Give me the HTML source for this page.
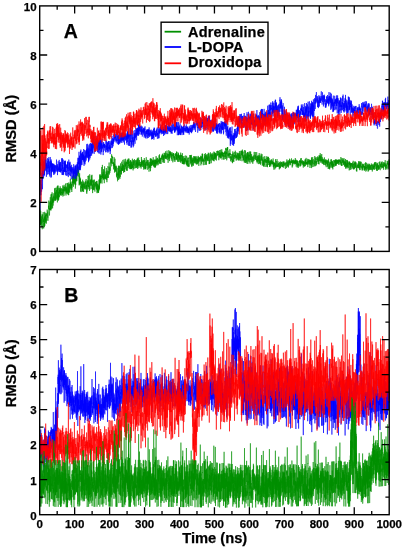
<!DOCTYPE html>
<html><head><meta charset="utf-8"><style>
html,body{margin:0;padding:0;background:#fff;width:408px;height:550px;overflow:hidden}
svg{display:block}
text{font-family:"Liberation Sans",Arial,Helvetica,sans-serif;font-weight:bold;fill:#000;stroke:#000;stroke-width:0.25px}
</style></head><body>
<svg width="408" height="550" viewBox="0 0 408 550">
<rect width="408" height="550" fill="#fff"/>
<path d="M39.7 221.8L39.8 214.1 39.9 220.0 40.0 222.0 40.1 220.5 40.2 209.9 40.3 224.8 40.4 215.5 40.5 217.2 40.6 225.4 40.7 211.2 40.8 219.6 40.9 221.2 41.0 219.3 41.1 224.7 41.2 221.8 41.3 219.2 41.4 223.6 41.5 221.5 41.6 216.4 41.7 224.6 41.8 227.1 41.9 217.6 42.0 214.4 42.1 222.1 42.2 229.2 42.3 229.2 42.4 219.7 42.5 218.4 42.6 214.5 42.7 218.7 42.8 218.3 42.9 217.6 43.0 222.7 43.1 213.0 43.2 212.1 43.3 218.0 43.4 222.1 43.5 219.4 43.6 222.0 43.7 228.5 43.8 226.8 43.9 223.0 44.0 226.3 44.1 218.5 44.2 222.1 44.3 220.5 44.4 227.1 44.5 217.4 44.6 219.4 44.7 211.8 44.8 225.8 44.9 216.2 45.0 220.4 45.1 217.7 45.2 213.4 45.3 212.9 45.4 220.0 45.5 214.8 45.6 221.6 45.7 214.8 45.8 223.0 45.9 220.0 46.0 221.2 46.1 218.7 46.2 223.8 46.3 223.3 46.4 213.6 46.5 216.0 46.6 215.8 46.7 213.4 46.8 219.8 46.9 217.0 47.0 215.0 47.1 215.2 47.2 209.6 47.3 211.7 47.4 214.6 47.5 215.4 47.6 217.5 47.7 211.6 47.8 211.7 47.9 220.9 48.0 217.2 48.1 217.4 48.2 216.5 48.3 214.1 48.4 212.7 48.5 205.7 48.6 208.7 48.7 203.6 48.8 200.6 48.9 207.0 49.0 206.8 49.1 208.0 49.2 208.9 49.3 209.7 49.4 208.1 49.5 215.5 49.6 211.6 49.7 211.4 49.8 204.8 49.9 201.7 50.0 209.9 50.1 203.1 50.2 203.7 50.3 197.2 50.4 209.7 50.5 204.5 50.6 200.8 50.7 209.6 50.8 202.3 50.9 210.6 51.0 194.4 51.1 202.6 51.2 204.2 51.3 209.1 51.4 202.8 51.5 204.4 51.6 204.4 51.7 193.9 51.8 204.6 51.9 207.7 52.0 202.1 52.1 192.3 52.2 202.0 52.3 203.2 52.4 199.4 52.5 200.0 52.6 208.4 52.7 197.6 52.8 199.6 52.9 202.5 53.0 198.9 53.1 205.6 53.2 203.2 53.3 199.4 53.4 196.5 53.5 199.6 53.6 199.5 53.7 202.4 53.8 193.3 53.9 198.1 54.0 195.5 54.1 197.0 54.2 200.6 54.3 200.9 54.4 198.4 54.5 192.0 54.6 188.4 54.7 196.5 54.8 199.8 54.9 197.4 55.0 198.0 55.1 200.5 55.2 187.9 55.3 194.6 55.4 193.2 55.5 200.5 55.6 197.8 55.7 191.7 55.8 200.4 55.9 199.6 56.0 195.4 56.1 198.8 56.2 187.7 56.3 191.9 56.4 193.4 56.5 193.6 56.6 190.0 56.7 195.2 56.8 197.2 56.9 197.8 57.0 193.4 57.1 199.8 57.2 186.4 57.3 191.3 57.4 202.4 57.5 197.4 57.6 190.1 57.7 185.8 57.8 199.0 57.9 196.5 58.0 185.5 58.1 191.3 58.2 193.4 58.3 196.9 58.4 191.8 58.5 200.6 58.6 194.6 58.7 199.7 58.8 188.1 58.9 188.1 59.0 197.3 59.1 194.7 59.2 197.1 59.3 193.7 59.4 191.7 59.5 190.0 59.6 194.2 59.7 191.2 59.8 187.9 59.9 193.0 60.0 189.6 60.1 192.4 60.2 186.3 60.3 195.2 60.4 189.2 60.5 194.4 60.6 192.3 60.7 192.4 60.8 195.1 60.9 191.9 61.0 188.1 61.1 194.8 61.2 195.8 61.3 193.4 61.4 191.7 61.5 188.5 61.6 193.3 61.7 192.0 61.8 192.0 61.9 193.2 62.0 192.2 62.1 195.0 62.2 190.7 62.3 190.5 62.4 192.3 62.5 194.5 62.6 188.9 62.7 191.2 62.8 185.4 62.9 196.5 63.0 194.0 63.1 193.6 63.2 191.2 63.3 189.9 63.4 186.5 63.5 191.0 63.6 189.3 63.7 193.4 63.8 189.4 63.9 189.7 64.0 195.8 64.1 184.8 64.2 191.1 64.3 190.7 64.4 191.4 64.5 189.2 64.6 186.9 64.7 189.3 64.8 190.5 64.9 186.7 65.0 189.3 65.1 189.2 65.2 189.0 65.3 190.7 65.4 190.3 65.5 185.4 65.6 183.5 65.7 191.6 65.8 188.3 65.9 194.3 66.0 195.5 66.1 186.5 66.2 193.7 66.3 188.8 66.4 193.1 66.5 188.6 66.6 187.7 66.7 188.3 66.8 187.4 66.9 191.6 67.0 183.3 67.1 184.1 67.2 183.6 67.3 184.7 67.4 187.4 67.5 194.3 67.6 189.5 67.7 186.9 67.8 182.9 67.9 193.1 68.0 189.2 68.1 192.2 68.2 184.2 68.3 189.0 68.4 194.4 68.5 195.2 68.6 188.2 68.7 195.0 68.8 182.5 68.9 182.5 69.0 188.3 69.1 186.3 69.2 185.1 69.3 192.3 69.4 189.4 69.5 183.9 69.6 184.7 69.7 185.6 69.8 192.7 69.9 186.3 70.0 188.2 70.1 187.2 70.2 188.0 70.3 179.4 70.4 178.8 70.5 185.4 70.6 182.9 70.7 189.5 70.8 182.8 70.9 182.2 71.0 186.6 71.1 185.0 71.2 185.9 71.3 187.6 71.4 183.9 71.5 186.2 71.6 189.8 71.7 184.5 71.8 192.0 71.9 186.3 72.0 187.6 72.1 187.1 72.2 181.3 72.3 185.6 72.4 181.6 72.5 183.2 72.6 176.5 72.7 180.8 72.8 182.2 72.9 181.3 73.0 176.4 73.1 183.5 73.2 182.1 73.3 176.4 73.4 174.8 73.5 186.7 73.6 176.7 73.7 183.0 73.8 176.6 73.9 182.3 74.0 181.2 74.1 184.7 74.2 174.9 74.3 182.7 74.4 182.0 74.5 178.7 74.6 180.7 74.7 179.4 74.8 184.0 74.9 179.4 75.0 176.6 75.1 182.8 75.2 181.2 75.3 170.0 75.4 188.6 75.5 181.1 75.6 176.9 75.7 185.1 75.8 178.9 75.9 181.8 76.0 171.9 76.1 181.0 76.2 171.5 76.3 175.8 76.4 177.6 76.5 179.8 76.6 179.1 76.7 170.2 76.8 181.1 76.9 176.7 77.0 170.7 77.1 173.9 77.2 171.0 77.3 167.5 77.4 174.1 77.5 175.3 77.6 164.3 77.7 171.9 77.8 170.2 77.9 167.1 78.0 172.7 78.1 171.1 78.2 176.5 78.3 170.7 78.4 173.6 78.5 170.2 78.6 172.9 78.7 169.4 78.8 177.6 78.9 178.1 79.0 183.4 79.1 185.3 79.2 185.0 79.3 180.5 79.4 175.6 79.5 183.9 79.6 173.3 79.7 183.3 79.8 181.1 79.9 185.2 80.0 183.5 80.1 179.3 80.2 184.0 80.3 177.7 80.4 183.4 80.5 179.0 80.6 185.9 80.7 191.4 80.8 186.6 80.9 186.0 81.0 191.5 81.1 192.1 81.2 181.7 81.3 185.7 81.4 185.3 81.5 188.2 81.6 185.1 81.7 181.8 81.8 185.1 81.9 185.3 82.0 185.8 82.1 184.2 82.2 191.6 82.3 189.0 82.4 184.8 82.5 191.0 82.6 180.7 82.7 179.7 82.8 189.1 82.9 189.0 83.0 191.4 83.1 184.4 83.2 187.5 83.3 181.4 83.4 184.4 83.4 183.5 83.5 186.9 83.6 192.0 83.7 189.7 83.8 188.3 83.9 184.4 84.0 184.9 84.1 185.0 84.2 182.2 84.3 188.1 84.4 188.5 84.5 183.6 84.6 184.0 84.7 187.0 84.8 186.5 84.9 188.7 85.0 185.4 85.1 185.5 85.2 189.5 85.3 180.8 85.4 181.2 85.5 183.6 85.6 184.3 85.7 182.8 85.8 182.5 85.9 182.0 86.0 188.8 86.1 179.0 86.2 186.5 86.3 184.9 86.4 188.6 86.5 185.6 86.6 192.4 86.7 191.5 86.8 193.8 86.9 186.1 87.0 191.4 87.1 190.0 87.2 181.0 87.3 186.1 87.4 184.1 87.5 182.1 87.6 184.2 87.7 183.2 87.8 180.1 87.9 189.4 88.0 176.2 88.1 176.7 88.2 175.9 88.3 187.0 88.4 185.2 88.5 187.1 88.6 181.2 88.7 183.2 88.8 175.5 88.9 180.6 89.0 184.9 89.1 188.8 89.2 184.5 89.3 182.8 89.4 188.4 89.5 190.9 89.6 186.0 89.7 174.3 89.8 175.3 89.9 181.7 90.0 183.9 90.1 189.4 90.2 186.3 90.3 183.4 90.4 180.2 90.5 184.8 90.6 182.2 90.7 180.7 90.8 179.6 90.9 186.0 91.0 185.3 91.1 183.6 91.2 179.1 91.3 185.4 91.4 175.5 91.5 184.7 91.6 182.6 91.7 178.8 91.8 189.1 91.9 178.2 92.0 174.8 92.1 180.8 92.2 182.4 92.3 182.1 92.4 180.3 92.5 185.6 92.6 193.1 92.7 185.0 92.8 190.2 92.9 189.0 93.0 184.4 93.1 189.6 93.2 180.7 93.3 185.0 93.4 184.6 93.5 183.7 93.6 183.2 93.7 179.8 93.8 189.3 93.9 186.3 94.0 190.1 94.1 183.4 94.2 186.6 94.3 179.6 94.4 179.7 94.5 186.4 94.6 186.5 94.7 186.3 94.8 190.2 94.9 191.6 95.0 184.3 95.1 184.5 95.2 184.3 95.3 184.5 95.4 181.8 95.5 186.4 95.6 186.4 95.7 184.7 95.8 181.9 95.9 184.2 96.0 187.8 96.1 188.5 96.2 186.4 96.3 183.3 96.4 185.9 96.5 189.1 96.6 181.1 96.7 181.9 96.8 189.8 96.9 180.9 97.0 185.6 97.1 193.2 97.2 188.6 97.3 192.5 97.4 187.6 97.5 190.3 97.6 184.3 97.7 188.9 97.8 183.6 97.9 184.9 98.0 191.4 98.1 184.9 98.2 186.5 98.3 192.1 98.4 193.0 98.5 187.2 98.6 192.6 98.7 185.9 98.8 190.8 98.9 185.8 99.0 188.9 99.1 179.7 99.2 189.7 99.3 179.4 99.4 183.5 99.5 188.5 99.6 182.3 99.7 180.5 99.8 174.7 99.9 184.2 100.0 183.3 100.1 174.2 100.2 181.2 100.3 175.6 100.4 177.5 100.5 183.0 100.6 176.0 100.7 180.8 100.8 180.9 100.9 182.6 101.0 180.9 101.1 175.5 101.2 179.1 101.3 177.9 101.4 175.9 101.5 177.0 101.6 171.8 101.7 170.0 101.8 167.0 101.9 183.1 102.0 183.6 102.1 175.8 102.2 175.9 102.3 168.6 102.4 164.9 102.5 178.1 102.6 173.8 102.7 174.3 102.8 177.7 102.9 174.5 103.0 178.5 103.1 171.9 103.2 179.4 103.3 180.1 103.4 179.8 103.5 176.2 103.6 175.7 103.7 169.0 103.8 178.9 103.9 170.3 104.0 171.3 104.1 178.7 104.2 177.4 104.3 183.2 104.4 177.5 104.5 175.5 104.6 166.3 104.7 176.5 104.8 178.5 104.9 175.7 105.0 178.5 105.1 177.5 105.2 177.7 105.3 174.7 105.4 175.9 105.5 178.7 105.6 177.8 105.7 178.1 105.8 174.4 105.9 176.1 106.0 179.5 106.1 171.5 106.2 175.0 106.3 168.0 106.4 169.8 106.5 178.1 106.6 177.9 106.7 179.9 106.8 176.3 106.9 182.2 107.0 172.7 107.1 176.7 107.2 170.6 107.3 175.6 107.4 175.7 107.5 178.0 107.6 176.2 107.7 173.6 107.8 174.1 107.9 166.1 108.0 166.7 108.1 166.9 108.2 172.9 108.3 173.4 108.4 171.1 108.5 177.9 108.6 172.9 108.7 170.6 108.8 167.6 108.9 168.0 109.0 167.6 109.1 162.5 109.2 168.1 109.3 168.2 109.4 174.5 109.5 170.9 109.6 170.5 109.7 167.5 109.8 172.9 109.9 172.6 110.0 169.0 110.1 166.4 110.2 170.8 110.3 166.8 110.4 165.9 110.5 165.0 110.6 161.6 110.7 158.6 110.8 158.0 110.9 158.4 111.0 163.5 111.1 159.0 111.2 166.4 111.3 163.9 111.4 159.2 111.5 162.6 111.6 154.3 111.7 155.8 111.8 157.0 111.9 155.8 112.0 162.1 112.1 162.6 112.2 161.8 112.3 163.9 112.4 156.8 112.5 156.9 112.6 157.9 112.7 156.8 112.8 160.3 112.9 160.2 113.0 163.7 113.1 163.1 113.2 164.3 113.3 165.9 113.4 162.1 113.5 164.3 113.6 169.4 113.7 165.8 113.8 163.2 113.9 166.4 114.0 166.2 114.1 165.4 114.2 157.3 114.3 167.2 114.4 167.1 114.5 163.9 114.6 172.6 114.7 164.0 114.8 168.4 114.9 161.2 115.0 158.8 115.1 171.5 115.2 167.1 115.3 169.0 115.4 170.5 115.5 166.1 115.6 171.6 115.7 171.7 115.8 171.7 115.9 171.1 116.0 170.4 116.1 165.6 116.2 169.4 116.3 169.5 116.4 172.2 116.5 176.8 116.6 172.2 116.7 166.5 116.8 172.5 116.9 175.3 117.0 173.9 117.1 178.1 117.2 178.1 117.3 177.3 117.4 177.4 117.5 180.6 117.6 181.3 117.7 173.5 117.8 174.5 117.9 168.0 118.0 179.5 118.1 171.8 118.2 176.5 118.3 174.5 118.4 175.1 118.5 165.9 118.6 171.7 118.7 179.9 118.8 174.3 118.9 171.5 119.0 165.5 119.1 172.0 119.2 171.3 119.3 177.9 119.4 171.2 119.5 166.2 119.6 173.0 119.7 173.2 119.8 176.6 119.9 178.9 120.0 177.2 120.1 170.1 120.2 171.7 120.3 176.9 120.4 166.4 120.5 163.4 120.6 169.6 120.7 171.7 120.8 171.3 120.9 171.1 121.0 166.3 121.1 174.2 121.2 170.2 121.3 170.0 121.4 174.4 121.5 168.0 121.6 170.5 121.7 161.7 121.8 165.5 121.9 169.6 122.0 167.8 122.1 170.0 122.2 170.7 122.3 165.5 122.4 171.0 122.5 164.0 122.6 164.8 122.7 170.0 122.8 165.4 122.9 159.9 123.0 164.1 123.1 163.9 123.2 168.3 123.3 170.6 123.4 165.4 123.5 172.7 123.6 166.4 123.7 165.3 123.8 167.3 123.9 164.4 124.0 164.0 124.1 159.3 124.2 159.9 124.3 166.1 124.4 166.7 124.5 172.1 124.6 167.8 124.7 172.0 124.8 161.5 124.9 162.6 125.0 169.1 125.1 163.1 125.2 167.2 125.3 164.2 125.4 166.2 125.5 166.1 125.6 158.8 125.7 162.1 125.8 163.5 125.9 165.7 126.0 161.8 126.1 167.3 126.2 167.0 126.3 169.9 126.4 164.8 126.5 163.5 126.6 161.8 126.7 164.0 126.8 163.6 126.9 170.9 127.0 166.7 127.1 170.7 127.2 160.2 127.3 163.1 127.4 163.9 127.5 159.6 127.6 164.0 127.7 167.6 127.8 163.3 127.9 162.3 128.0 163.4 128.1 162.5 128.2 162.5 128.3 158.6 128.4 164.0 128.5 159.7 128.6 166.0 128.7 162.9 128.8 164.7 128.9 168.2 129.0 158.6 129.1 163.1 129.2 162.2 129.3 166.7 129.4 166.9 129.5 166.0 129.6 164.1 129.7 168.0 129.8 169.1 129.9 166.5 130.0 160.7 130.1 167.8 130.2 165.2 130.3 165.0 130.4 169.2 130.5 160.3 130.6 166.5 130.7 163.1 130.8 160.3 130.9 165.2 131.0 169.0 131.1 164.0 131.2 168.4 131.3 164.9 131.4 168.5 131.5 164.8 131.6 161.6 131.7 169.2 131.8 162.4 131.9 166.5 132.0 165.0 132.1 168.1 132.2 165.9 132.3 162.8 132.4 158.7 132.5 167.9 132.6 167.8 132.7 165.0 132.8 164.3 132.9 167.6 133.0 166.3 133.1 170.4 133.2 161.7 133.3 165.3 133.4 162.9 133.5 160.0 133.6 165.5 133.7 167.3 133.8 169.0 133.9 161.1 134.0 163.9 134.1 164.9 134.2 162.5 134.3 161.9 134.4 159.1 134.5 161.1 134.6 165.9 134.7 165.5 134.8 166.8 134.9 168.3 135.0 162.6 135.1 161.3 135.2 162.8 135.3 160.0 135.4 162.3 135.5 165.2 135.6 164.8 135.7 167.3 135.8 168.1 135.9 163.5 136.0 163.5 136.1 164.3 136.2 163.0 136.3 167.7 136.4 161.4 136.5 164.3 136.6 163.8 136.7 159.9 136.8 167.0 136.9 167.8 137.0 163.2 137.1 159.5 137.2 159.2 137.3 167.1 137.4 157.8 137.5 164.6 137.6 163.6 137.7 169.0 137.8 165.5 137.9 162.2 138.0 166.0 138.1 159.2 138.2 164.1 138.3 163.8 138.4 165.3 138.5 162.5 138.6 157.6 138.7 157.5 138.8 161.4 138.9 167.8 139.0 163.9 139.1 164.9 139.2 165.6 139.3 165.7 139.4 160.0 139.5 162.2 139.6 161.9 139.7 162.9 139.8 165.0 139.9 162.1 140.0 166.3 140.1 165.8 140.2 161.9 140.3 165.6 140.4 164.5 140.5 164.1 140.6 167.1 140.7 165.0 140.8 164.2 140.9 165.7 141.0 168.2 141.1 168.6 141.2 164.5 141.3 165.5 141.4 157.0 141.5 164.9 141.6 161.4 141.7 166.5 141.8 162.1 141.9 159.6 142.0 163.3 142.1 161.1 142.2 165.2 142.3 162.2 142.4 162.0 142.5 162.7 142.6 166.8 142.7 166.9 142.8 165.4 142.9 160.3 143.0 162.4 143.1 161.6 143.2 161.3 143.3 161.3 143.4 166.5 143.5 160.0 143.6 161.5 143.7 169.6 143.8 166.2 143.9 167.7 144.0 162.4 144.1 165.6 144.2 163.6 144.3 158.1 144.4 159.8 144.5 161.8 144.6 160.6 144.7 165.0 144.8 167.4 144.9 169.0 145.0 160.1 145.1 169.5 145.2 164.1 145.3 168.4 145.4 164.2 145.5 162.4 145.6 168.9 145.7 164.4 145.8 168.2 145.9 164.2 146.0 165.2 146.1 160.3 146.2 157.3 146.3 157.3 146.4 158.5 146.5 163.5 146.6 163.4 146.7 162.4 146.8 162.0 146.9 165.8 147.0 161.3 147.1 165.4 147.2 165.9 147.3 169.8 147.4 163.5 147.5 159.9 147.6 164.2 147.7 164.5 147.8 165.5 147.9 163.6 148.0 165.3 148.1 163.6 148.2 160.1 148.3 161.9 148.4 161.9 148.5 165.2 148.6 168.7 148.7 168.2 148.8 162.5 148.9 167.5 149.0 171.7 149.1 170.6 149.2 169.9 149.3 164.7 149.4 166.8 149.5 167.8 149.6 163.3 149.7 163.3 149.8 161.9 149.9 167.1 150.0 167.0 150.1 164.4 150.2 158.6 150.3 166.3 150.4 166.1 150.5 171.2 150.6 158.4 150.7 161.9 150.8 168.1 150.9 162.1 151.0 165.1 151.1 163.7 151.2 158.6 151.3 166.0 151.4 162.1 151.5 165.2 151.6 165.2 151.7 161.6 151.8 159.0 151.9 162.3 152.0 165.8 152.1 161.5 152.2 162.4 152.3 160.5 152.4 165.0 152.5 163.2 152.6 161.1 152.7 164.1 152.8 160.1 152.9 162.8 153.0 161.5 153.1 163.7 153.2 157.2 153.3 159.1 153.4 162.2 153.5 160.5 153.6 165.7 153.7 166.3 153.8 163.0 153.9 166.2 154.0 163.8 154.1 160.7 154.2 167.2 154.3 164.0 154.4 159.7 154.5 162.1 154.6 162.1 154.7 163.3 154.8 162.3 154.9 167.7 155.0 159.6 155.1 167.3 155.2 163.6 155.3 163.3 155.4 159.9 155.5 167.2 155.6 167.2 155.7 159.9 155.8 163.9 155.9 161.7 156.0 159.8 156.1 156.1 156.2 160.1 156.3 163.6 156.4 159.2 156.5 160.3 156.6 165.5 156.7 162.0 156.8 160.9 156.9 161.6 157.0 162.1 157.1 157.7 157.2 160.6 157.3 163.5 157.4 161.5 157.5 161.8 157.6 158.1 157.7 160.1 157.8 161.8 157.9 165.3 158.0 161.0 158.1 164.5 158.2 159.1 158.3 159.5 158.4 160.7 158.5 160.0 158.6 161.9 158.7 161.6 158.8 161.0 158.9 156.5 159.0 155.3 159.1 157.5 159.2 157.5 159.3 160.3 159.4 163.6 159.5 155.9 159.6 154.3 159.7 159.5 159.8 162.8 159.9 158.1 160.0 160.4 160.1 159.9 160.2 163.9 160.3 160.2 160.4 159.6 160.5 160.4 160.6 161.1 160.7 158.2 160.8 159.6 160.9 157.7 161.0 164.0 161.1 162.0 161.2 158.4 161.3 157.8 161.4 158.8 161.5 158.3 161.6 158.3 161.7 158.2 161.8 156.0 161.9 158.8 162.0 157.2 162.1 154.8 162.2 159.9 162.3 154.7 162.4 156.8 162.5 155.0 162.6 153.7 162.7 154.2 162.8 158.1 162.9 162.2 163.0 160.2 163.1 157.0 163.2 155.6 163.3 162.7 163.4 155.3 163.5 158.3 163.6 160.5 163.7 159.0 163.8 156.5 163.9 158.1 164.0 158.0 164.1 152.8 164.2 157.7 164.3 160.7 164.4 162.9 164.5 163.0 164.6 162.3 164.7 156.5 164.8 153.0 164.9 157.1 165.0 154.9 165.1 158.6 165.2 155.5 165.3 158.7 165.4 153.2 165.5 151.4 165.6 151.3 165.7 154.4 165.8 158.4 165.9 156.3 166.0 153.1 166.1 158.4 166.2 156.4 166.3 155.8 166.4 158.9 166.5 158.3 166.6 158.1 166.7 156.3 166.8 156.1 166.9 156.6 167.0 150.6 167.1 159.1 167.2 160.0 167.3 157.7 167.4 153.5 167.5 157.4 167.6 157.6 167.7 154.4 167.8 155.2 167.9 156.2 168.0 157.4 168.1 162.8 168.2 161.3 168.3 155.3 168.4 154.2 168.5 156.9 168.6 156.8 168.7 159.4 168.8 150.2 168.9 156.0 169.0 154.0 169.1 155.5 169.2 158.5 169.3 153.1 169.4 153.0 169.5 151.5 169.6 161.1 169.7 156.8 169.8 157.1 169.9 152.2 170.0 155.4 170.1 157.7 170.2 151.1 170.3 155.1 170.4 154.0 170.5 154.6 170.6 153.1 170.7 154.8 170.8 152.0 170.8 152.5 170.9 156.2 171.0 152.4 171.1 153.7 171.2 156.4 171.3 156.0 171.4 159.1 171.5 158.0 171.6 153.8 171.7 157.3 171.8 160.3 171.9 159.8 172.0 160.7 172.1 156.7 172.2 152.4 172.3 155.9 172.4 156.1 172.5 154.5 172.6 155.2 172.7 159.7 172.8 162.3 172.9 162.3 173.0 160.7 173.1 160.3 173.2 156.5 173.3 153.0 173.4 156.5 173.5 153.3 173.6 156.6 173.7 158.3 173.8 157.8 173.9 154.2 174.0 153.8 174.1 160.6 174.2 156.6 174.3 156.6 174.4 157.3 174.5 156.8 174.6 159.8 174.7 158.0 174.8 156.3 174.9 162.0 175.0 158.7 175.1 157.0 175.2 153.9 175.3 153.6 175.4 154.6 175.5 155.9 175.6 153.3 175.7 153.3 175.8 155.2 175.9 160.2 176.0 157.5 176.1 157.6 176.2 154.6 176.3 159.2 176.4 158.2 176.5 151.6 176.6 159.6 176.7 154.7 176.8 159.1 176.9 151.8 177.0 155.3 177.1 155.6 177.2 158.2 177.3 159.3 177.4 160.5 177.5 157.7 177.6 154.6 177.7 161.9 177.8 160.2 177.9 159.8 178.0 157.8 178.1 152.5 178.2 153.5 178.3 157.8 178.4 157.2 178.5 153.3 178.6 157.8 178.7 154.7 178.8 161.8 178.9 154.9 179.0 159.2 179.1 161.7 179.2 158.7 179.3 155.3 179.4 157.9 179.5 159.6 179.6 157.6 179.7 156.2 179.8 157.8 179.9 159.0 180.0 158.1 180.1 159.7 180.2 156.4 180.3 155.3 180.4 159.5 180.5 162.6 180.6 156.4 180.7 152.6 180.8 161.4 180.9 159.5 181.0 154.7 181.1 156.8 181.2 155.1 181.3 156.7 181.4 155.5 181.5 157.8 181.6 161.4 181.7 159.7 181.8 160.5 181.9 157.1 182.0 163.4 182.1 161.7 182.2 155.9 182.3 156.6 182.4 153.2 182.5 161.1 182.6 159.2 182.7 163.9 182.8 156.0 182.9 164.0 183.0 157.6 183.1 160.6 183.2 164.1 183.3 163.8 183.4 159.4 183.5 161.0 183.6 164.3 183.7 160.4 183.8 158.7 183.9 156.1 184.0 158.2 184.1 161.5 184.2 163.4 184.3 159.7 184.4 158.0 184.5 158.8 184.6 164.3 184.7 160.4 184.8 161.0 184.9 162.2 185.0 160.9 185.1 158.1 185.2 161.2 185.3 155.5 185.4 160.4 185.5 158.8 185.6 160.5 185.7 160.6 185.8 161.5 185.9 162.5 186.0 163.7 186.1 160.9 186.2 161.8 186.3 160.4 186.4 164.7 186.5 161.3 186.6 155.8 186.7 158.4 186.8 164.6 186.9 162.9 187.0 161.1 187.1 166.2 187.2 162.9 187.3 160.8 187.4 161.3 187.5 166.4 187.6 163.6 187.7 158.4 187.8 162.4 187.9 160.4 188.0 164.1 188.1 157.3 188.2 158.9 188.3 158.1 188.4 164.9 188.5 165.0 188.6 166.9 188.7 163.7 188.8 165.7 188.9 164.7 189.0 166.8 189.1 164.3 189.2 164.0 189.3 162.4 189.4 159.6 189.5 159.0 189.6 157.1 189.7 157.3 189.8 155.0 189.9 156.6 190.0 162.4 190.1 164.5 190.2 161.2 190.3 157.3 190.4 155.0 190.5 159.2 190.6 156.4 190.7 163.4 190.8 159.6 190.9 155.4 191.0 160.7 191.1 161.0 191.2 162.7 191.3 154.9 191.4 154.9 191.5 160.6 191.6 161.2 191.7 166.6 191.8 162.5 191.9 157.6 192.0 166.4 192.1 159.3 192.2 161.1 192.3 160.4 192.4 165.3 192.5 161.3 192.6 160.0 192.7 161.9 192.8 157.7 192.9 159.1 193.0 161.1 193.1 161.2 193.2 161.0 193.3 158.4 193.4 161.2 193.5 165.7 193.6 161.9 193.7 161.1 193.8 156.0 193.9 163.2 194.0 161.8 194.1 161.2 194.2 158.7 194.3 156.6 194.4 160.1 194.5 162.3 194.6 162.0 194.7 158.3 194.8 158.6 194.9 156.8 195.0 163.1 195.1 156.2 195.2 158.6 195.3 163.6 195.4 158.7 195.5 160.0 195.6 158.5 195.7 159.1 195.8 160.7 195.9 157.3 196.0 160.3 196.1 162.5 196.2 156.2 196.3 159.9 196.4 164.5 196.5 163.3 196.6 163.8 196.7 161.7 196.8 158.7 196.9 158.5 197.0 163.3 197.1 160.7 197.2 159.1 197.3 162.1 197.4 164.3 197.5 162.4 197.6 159.1 197.7 159.8 197.8 161.1 197.9 161.3 198.0 156.7 198.1 163.5 198.2 155.9 198.3 161.3 198.4 162.4 198.5 158.3 198.6 157.7 198.7 160.7 198.8 165.9 198.9 163.5 199.0 162.6 199.1 158.6 199.2 157.7 199.3 158.1 199.4 158.6 199.5 159.4 199.6 157.5 199.7 161.3 199.8 161.6 199.9 157.5 200.0 159.7 200.1 161.3 200.2 161.0 200.3 159.5 200.4 157.4 200.5 159.4 200.6 155.8 200.7 158.1 200.8 163.5 200.9 165.4 201.0 163.6 201.1 161.4 201.2 160.9 201.3 159.3 201.4 157.2 201.5 156.7 201.6 163.8 201.7 156.4 201.8 160.4 201.9 160.8 202.0 159.0 202.1 157.9 202.2 153.8 202.3 157.4 202.4 153.6 202.5 161.7 202.6 154.1 202.7 156.6 202.8 160.0 202.9 161.1 203.0 157.8 203.1 161.1 203.2 159.7 203.3 165.2 203.4 161.4 203.5 161.4 203.6 160.4 203.7 159.9 203.8 160.6 203.9 159.0 204.0 162.1 204.1 160.5 204.2 161.0 204.3 158.7 204.4 154.0 204.5 157.9 204.6 158.9 204.7 156.4 204.8 162.8 204.9 165.0 205.0 165.0 205.1 163.4 205.2 161.7 205.3 157.8 205.4 153.1 205.5 160.7 205.6 155.1 205.7 159.7 205.8 160.3 205.9 164.4 206.0 159.3 206.1 156.6 206.2 161.3 206.3 164.8 206.4 164.8 206.5 161.4 206.6 157.6 206.7 155.1 206.8 159.0 206.9 154.1 207.0 159.9 207.1 159.0 207.2 156.5 207.3 161.2 207.4 157.9 207.5 160.3 207.6 159.3 207.7 158.0 207.8 159.3 207.9 155.6 208.0 154.1 208.1 158.4 208.2 156.6 208.3 152.7 208.4 160.9 208.5 160.9 208.6 161.0 208.7 158.1 208.8 156.1 208.9 153.1 209.0 153.9 209.1 164.1 209.2 159.9 209.3 156.5 209.4 158.4 209.5 160.1 209.6 163.9 209.7 159.8 209.8 163.5 209.9 156.6 210.0 154.5 210.1 155.5 210.2 156.8 210.3 155.7 210.4 152.3 210.5 156.4 210.6 156.9 210.7 160.6 210.8 157.8 210.9 157.9 211.0 154.4 211.1 158.5 211.2 162.6 211.3 163.2 211.4 153.5 211.5 155.8 211.6 155.8 211.7 159.1 211.8 159.1 211.9 155.2 212.0 155.5 212.1 158.2 212.2 160.0 212.3 154.7 212.4 158.0 212.5 159.7 212.6 159.8 212.7 160.3 212.8 152.8 212.9 155.9 213.0 154.1 213.1 158.2 213.2 155.6 213.3 161.0 213.4 160.2 213.5 157.9 213.6 159.9 213.7 160.3 213.8 157.3 213.9 151.6 214.0 156.8 214.1 161.3 214.2 160.5 214.3 157.5 214.4 158.9 214.5 152.6 214.6 154.1 214.7 158.6 214.8 152.3 214.9 157.7 215.0 157.5 215.1 153.9 215.2 158.4 215.3 157.6 215.4 153.2 215.5 159.7 215.6 153.8 215.7 155.2 215.8 155.0 215.9 153.0 216.0 154.4 216.1 156.6 216.2 157.4 216.3 155.1 216.4 160.5 216.5 156.9 216.6 153.3 216.7 152.6 216.8 151.0 216.9 155.6 217.0 156.1 217.1 156.1 217.2 154.9 217.3 154.1 217.4 155.2 217.5 153.2 217.6 152.5 217.7 150.8 217.8 155.2 217.9 154.9 218.0 150.7 218.1 153.0 218.2 151.7 218.3 151.1 218.4 155.2 218.5 154.5 218.6 153.4 218.7 153.7 218.8 160.2 218.9 157.6 219.0 157.2 219.1 153.7 219.2 157.2 219.3 152.3 219.4 156.8 219.5 153.5 219.6 154.6 219.7 150.1 219.8 157.4 219.9 154.4 220.0 156.2 220.1 157.0 220.2 154.2 220.3 158.5 220.4 152.6 220.5 157.7 220.6 156.4 220.7 149.9 220.8 149.7 220.9 154.6 221.0 156.2 221.1 153.0 221.2 154.1 221.3 157.9 221.4 154.0 221.5 154.9 221.6 151.7 221.7 154.8 221.8 149.3 221.9 153.5 222.0 159.6 222.1 155.6 222.2 152.6 222.3 156.2 222.4 151.9 222.5 154.5 222.6 153.0 222.7 155.1 222.8 156.3 222.9 152.9 223.0 156.8 223.1 155.9 223.2 153.9 223.3 153.1 223.4 154.2 223.5 152.7 223.6 156.3 223.7 154.9 223.8 159.7 223.9 155.8 224.0 159.4 224.1 158.1 224.2 157.1 224.3 156.7 224.4 152.0 224.5 153.8 224.6 153.4 224.7 153.8 224.8 150.8 224.9 156.0 225.0 157.2 225.1 153.1 225.2 156.7 225.3 153.8 225.4 152.6 225.5 151.6 225.6 159.0 225.7 153.1 225.8 147.9 225.9 150.0 226.0 148.7 226.1 154.1 226.2 151.7 226.3 148.5 226.4 153.9 226.5 152.1 226.6 152.2 226.7 160.3 226.8 155.5 226.9 153.4 227.0 158.3 227.1 155.8 227.2 150.5 227.3 147.3 227.4 150.4 227.5 147.2 227.6 150.0 227.7 147.2 227.8 154.6 227.9 156.3 228.0 153.1 228.1 150.5 228.2 154.5 228.3 153.5 228.4 155.6 228.5 154.0 228.6 157.7 228.7 157.1 228.8 156.7 228.9 154.2 229.0 156.1 229.1 153.3 229.2 154.3 229.3 153.7 229.4 157.2 229.5 158.3 229.6 157.0 229.7 152.9 229.8 154.9 229.9 149.2 230.0 154.7 230.1 153.6 230.2 154.9 230.3 154.5 230.4 153.6 230.5 157.1 230.6 161.3 230.7 156.3 230.8 157.9 230.9 157.3 231.0 158.1 231.1 156.6 231.2 158.9 231.3 158.3 231.4 159.9 231.5 157.7 231.6 157.2 231.7 155.7 231.8 155.3 231.9 154.2 232.0 161.8 232.1 154.0 232.2 155.7 232.3 162.6 232.4 159.5 232.5 162.3 232.6 163.2 232.7 157.5 232.8 151.4 232.9 157.6 233.0 156.1 233.1 154.7 233.2 153.3 233.3 157.5 233.4 161.3 233.5 159.7 233.6 156.8 233.7 158.6 233.8 162.0 233.9 155.0 234.0 156.9 234.1 154.2 234.2 152.2 234.3 154.8 234.4 154.9 234.5 157.1 234.6 155.0 234.7 158.8 234.8 158.8 234.9 156.8 235.0 155.1 235.1 151.9 235.2 152.8 235.3 150.7 235.4 157.6 235.5 153.3 235.6 154.1 235.7 155.0 235.8 154.9 235.9 158.3 236.0 156.8 236.1 155.2 236.2 160.6 236.3 155.9 236.4 157.4 236.5 157.0 236.6 155.6 236.7 158.0 236.8 152.6 236.9 152.3 237.0 153.4 237.1 160.2 237.2 157.3 237.3 157.0 237.4 153.0 237.5 155.0 237.6 156.6 237.7 158.6 237.8 158.7 237.9 153.9 238.0 159.2 238.1 157.9 238.2 157.6 238.3 156.7 238.4 157.3 238.5 152.9 238.6 153.2 238.7 160.5 238.8 154.8 238.9 160.2 239.0 154.9 239.1 154.6 239.2 159.6 239.3 154.2 239.4 151.1 239.5 151.9 239.6 154.0 239.7 158.1 239.8 153.1 239.9 158.0 240.0 158.0 240.1 155.0 240.2 160.8 240.3 157.7 240.4 156.9 240.5 158.7 240.6 153.6 240.7 153.1 240.8 150.8 240.9 152.1 241.0 155.2 241.1 155.1 241.2 151.8 241.3 151.5 241.4 152.1 241.5 150.7 241.6 154.3 241.7 155.2 241.8 151.6 241.9 152.0 242.0 161.2 242.1 152.5 242.2 157.7 242.3 155.3 242.4 149.6 242.5 152.8 242.6 156.0 242.7 151.3 242.8 150.8 242.9 153.8 243.0 151.8 243.1 154.8 243.2 157.5 243.3 158.0 243.4 160.2 243.5 156.9 243.6 160.5 243.7 155.5 243.8 157.3 243.9 156.0 244.0 154.4 244.1 157.4 244.2 162.4 244.3 158.1 244.4 153.6 244.5 150.2 244.6 151.5 244.7 151.8 244.8 157.4 244.9 162.7 245.0 155.0 245.1 157.0 245.2 161.3 245.3 156.7 245.4 156.4 245.5 150.5 245.6 163.0 245.7 158.3 245.8 156.7 245.9 158.4 246.0 154.4 246.1 154.3 246.2 156.4 246.3 157.0 246.4 162.2 246.5 159.2 246.6 156.8 246.7 160.1 246.8 163.5 246.9 153.0 247.0 159.6 247.1 155.8 247.2 157.8 247.3 152.4 247.4 158.4 247.5 153.0 247.6 152.0 247.7 158.2 247.8 164.0 247.9 158.3 248.0 161.5 248.1 157.5 248.2 154.5 248.3 158.5 248.4 159.5 248.5 159.3 248.6 152.5 248.7 155.2 248.8 160.6 248.9 155.3 249.0 154.8 249.1 157.9 249.2 162.2 249.3 151.5 249.4 156.4 249.5 156.4 249.6 154.9 249.7 158.8 249.8 159.6 249.9 158.1 250.0 163.6 250.1 159.2 250.2 160.0 250.3 151.6 250.4 154.6 250.5 153.8 250.6 158.4 250.7 151.6 250.8 157.7 250.9 159.6 251.0 155.7 251.1 160.2 251.2 158.6 251.3 161.8 251.4 159.5 251.5 156.2 251.6 154.1 251.7 158.4 251.8 159.5 251.9 156.7 252.0 162.4 252.1 162.5 252.2 161.0 252.3 160.6 252.4 158.5 252.5 158.0 252.6 156.8 252.7 156.6 252.8 163.8 252.9 156.7 253.0 160.1 253.1 157.6 253.2 161.4 253.3 158.0 253.4 155.5 253.5 158.5 253.6 158.4 253.7 158.5 253.8 159.5 253.9 160.2 254.0 161.1 254.1 154.8 254.2 151.9 254.3 155.6 254.4 156.4 254.5 156.7 254.6 157.3 254.7 159.0 254.8 158.7 254.9 154.7 255.0 157.0 255.1 159.8 255.2 158.6 255.3 152.0 255.4 156.6 255.5 155.4 255.6 156.0 255.7 159.7 255.8 156.4 255.9 156.4 256.0 157.8 256.1 157.1 256.2 158.1 256.3 160.2 256.4 159.2 256.5 158.8 256.6 161.6 256.7 152.1 256.8 155.2 256.9 157.2 257.0 156.4 257.1 158.4 257.2 163.3 257.3 156.7 257.4 155.9 257.5 156.3 257.6 161.4 257.7 157.7 257.8 161.8 257.9 157.1 258.0 155.5 258.1 155.4 258.1 156.6 258.2 160.9 258.3 156.7 258.4 164.1 258.5 157.9 258.6 156.8 258.7 156.5 258.8 159.1 258.9 160.0 259.0 155.1 259.1 158.6 259.2 153.1 259.3 155.8 259.4 159.0 259.5 163.8 259.6 159.1 259.7 158.4 259.8 162.7 259.9 156.6 260.0 162.4 260.1 155.5 260.2 160.7 260.3 159.4 260.4 164.7 260.5 164.7 260.6 162.2 260.7 163.6 260.8 163.4 260.9 160.3 261.0 156.4 261.1 153.6 261.2 156.3 261.3 159.1 261.4 158.8 261.5 155.6 261.6 160.2 261.7 157.7 261.8 158.5 261.9 160.8 262.0 154.1 262.1 155.3 262.2 163.4 262.3 165.7 262.4 160.1 262.5 159.3 262.6 161.1 262.7 160.8 262.8 163.2 262.9 164.8 263.0 161.2 263.1 157.1 263.2 157.9 263.3 160.9 263.4 164.8 263.5 166.3 263.6 162.0 263.7 160.7 263.8 166.5 263.9 163.3 264.0 159.6 264.1 165.3 264.2 156.1 264.3 156.3 264.4 158.1 264.5 158.8 264.6 160.7 264.7 161.6 264.8 159.2 264.9 163.7 265.0 165.4 265.1 167.0 265.2 161.5 265.3 158.8 265.4 162.6 265.5 161.2 265.6 161.2 265.7 159.6 265.8 160.7 265.9 161.1 266.0 162.2 266.1 159.3 266.2 156.2 266.3 158.4 266.4 157.9 266.5 163.2 266.6 160.0 266.7 160.7 266.8 164.2 266.9 167.0 267.0 163.9 267.1 165.7 267.2 158.2 267.3 160.8 267.4 167.2 267.5 158.7 267.6 156.7 267.7 156.7 267.8 156.7 267.9 162.7 268.0 157.1 268.1 161.6 268.2 160.3 268.3 159.8 268.4 163.1 268.5 156.9 268.6 160.5 268.7 160.5 268.8 165.0 268.9 162.6 269.0 158.1 269.1 158.4 269.2 162.1 269.3 165.0 269.4 161.1 269.5 166.2 269.6 167.0 269.7 162.3 269.8 166.6 269.9 163.3 270.0 164.1 270.1 161.0 270.2 160.0 270.3 162.4 270.4 164.8 270.5 164.2 270.6 161.3 270.7 163.6 270.8 166.4 270.9 161.0 271.0 164.5 271.1 163.3 271.2 160.3 271.3 159.2 271.4 161.2 271.5 162.6 271.6 163.7 271.7 159.9 271.8 162.3 271.9 163.3 272.0 161.8 272.1 161.7 272.2 163.9 272.3 164.3 272.4 162.5 272.5 163.9 272.6 160.8 272.7 162.1 272.8 164.1 272.9 162.5 273.0 164.3 273.1 158.5 273.2 166.7 273.3 166.3 273.4 162.1 273.5 166.5 273.6 166.9 273.7 167.4 273.8 162.8 273.9 169.7 274.0 161.9 274.1 163.1 274.2 165.4 274.3 163.1 274.4 165.8 274.5 163.1 274.6 165.8 274.7 166.2 274.8 163.5 274.9 169.3 275.0 169.2 275.1 166.1 275.2 166.1 275.3 167.7 275.4 164.9 275.5 159.2 275.6 166.7 275.7 163.4 275.8 164.0 275.9 167.7 276.0 164.8 276.1 164.4 276.2 161.9 276.3 161.0 276.4 164.7 276.5 166.3 276.6 165.6 276.7 166.8 276.8 164.7 276.9 166.1 277.0 159.1 277.1 163.9 277.2 166.8 277.3 165.5 277.4 164.6 277.5 166.5 277.6 165.2 277.7 165.6 277.8 164.4 277.9 163.2 278.0 161.3 278.1 166.6 278.2 163.1 278.3 163.6 278.4 165.1 278.5 164.5 278.6 163.7 278.7 164.5 278.8 167.0 278.9 165.5 279.0 163.3 279.1 162.9 279.2 166.0 279.3 169.4 279.4 166.4 279.5 162.2 279.6 164.6 279.7 165.1 279.8 168.3 279.9 165.2 280.0 166.0 280.1 168.3 280.2 164.5 280.3 161.4 280.4 162.8 280.5 167.8 280.6 163.9 280.7 164.3 280.8 164.9 280.9 162.6 281.0 163.5 281.1 163.8 281.2 162.4 281.3 163.5 281.4 164.1 281.5 161.9 281.6 165.8 281.7 164.8 281.8 166.6 281.9 166.4 282.0 163.3 282.1 166.8 282.2 164.6 282.3 164.5 282.4 167.2 282.5 165.7 282.6 163.3 282.7 161.7 282.8 166.6 282.9 165.4 283.0 163.7 283.1 165.5 283.2 164.4 283.3 162.1 283.4 161.5 283.5 163.1 283.6 162.3 283.7 167.7 283.8 163.0 283.9 166.2 284.0 163.4 284.1 161.5 284.2 162.4 284.3 162.4 284.4 162.5 284.5 164.5 284.6 164.7 284.7 164.4 284.8 163.0 284.9 165.9 285.0 164.1 285.1 164.7 285.2 163.6 285.3 167.3 285.4 168.9 285.5 166.3 285.6 166.3 285.7 162.8 285.8 163.3 285.9 162.9 286.0 164.0 286.1 161.9 286.2 164.2 286.3 163.9 286.4 164.6 286.5 168.1 286.6 167.6 286.7 163.0 286.8 161.4 286.9 159.4 287.0 162.5 287.1 165.8 287.2 164.2 287.3 160.7 287.4 166.6 287.5 164.4 287.6 163.4 287.7 162.0 287.8 161.8 287.9 162.5 288.0 162.5 288.1 166.4 288.2 163.7 288.3 164.6 288.4 167.5 288.5 164.8 288.6 160.2 288.7 164.6 288.8 162.5 288.9 163.7 289.0 161.5 289.1 161.1 289.2 161.4 289.3 160.8 289.4 163.0 289.5 158.7 289.6 161.9 289.7 162.6 289.8 160.9 289.9 165.4 290.0 159.5 290.1 160.3 290.2 163.8 290.3 164.9 290.4 162.3 290.5 163.4 290.6 162.6 290.7 161.7 290.8 161.2 290.9 162.3 291.0 162.5 291.1 162.2 291.2 162.8 291.3 161.0 291.4 162.8 291.5 158.4 291.6 160.5 291.7 161.2 291.8 162.5 291.9 160.5 292.0 161.9 292.1 164.4 292.2 167.5 292.3 160.0 292.4 161.8 292.5 161.0 292.6 166.3 292.7 166.1 292.8 161.9 292.9 163.7 293.0 160.9 293.1 160.7 293.2 161.4 293.3 159.6 293.4 163.0 293.5 163.2 293.6 161.3 293.7 162.6 293.8 163.4 293.9 161.8 294.0 159.9 294.1 164.4 294.2 161.1 294.3 161.0 294.4 162.5 294.5 161.4 294.6 160.5 294.7 163.2 294.8 161.3 294.9 161.7 295.0 164.1 295.1 162.3 295.2 162.6 295.3 158.1 295.4 164.1 295.5 160.3 295.6 161.3 295.7 160.7 295.8 163.6 295.9 160.7 296.0 162.3 296.1 159.7 296.2 166.6 296.3 160.3 296.4 162.7 296.5 162.6 296.6 162.0 296.7 164.2 296.8 164.9 296.9 161.9 297.0 161.3 297.1 163.3 297.2 167.6 297.3 165.9 297.4 166.4 297.5 160.4 297.6 162.7 297.7 161.5 297.8 165.7 297.9 161.3 298.0 165.7 298.1 164.2 298.2 163.4 298.3 163.7 298.4 167.8 298.5 163.6 298.6 164.5 298.7 165.0 298.8 164.1 298.9 165.9 299.0 164.6 299.1 164.1 299.2 162.5 299.3 161.0 299.4 162.3 299.5 160.6 299.6 162.5 299.7 162.1 299.8 160.5 299.9 162.4 300.0 166.7 300.1 163.0 300.2 160.2 300.3 165.6 300.4 161.1 300.5 161.9 300.6 162.4 300.7 158.4 300.8 165.8 300.9 163.4 301.0 161.0 301.1 161.8 301.2 159.4 301.3 158.1 301.4 159.0 301.5 163.2 301.6 162.6 301.7 161.9 301.8 162.6 301.9 163.7 302.0 161.4 302.1 160.7 302.2 165.1 302.3 161.6 302.4 162.3 302.5 161.0 302.6 161.1 302.7 160.3 302.8 163.6 302.9 163.5 303.0 162.0 303.1 163.8 303.2 163.3 303.3 167.6 303.4 161.1 303.5 165.5 303.6 165.1 303.7 163.9 303.8 161.5 303.9 166.0 304.0 163.4 304.1 164.5 304.2 161.5 304.3 163.5 304.4 162.3 304.5 164.3 304.6 166.6 304.7 165.4 304.8 166.3 304.9 166.0 305.0 161.8 305.1 159.4 305.2 164.2 305.3 160.1 305.4 165.9 305.5 163.4 305.6 161.1 305.7 159.3 305.8 160.0 305.9 163.9 306.0 158.6 306.1 157.9 306.2 164.1 306.3 164.2 306.4 162.2 306.5 164.1 306.6 162.4 306.7 164.6 306.8 164.6 306.9 162.3 307.0 164.3 307.1 162.6 307.2 161.6 307.3 161.8 307.4 163.0 307.5 164.4 307.6 161.4 307.7 158.8 307.8 167.1 307.9 160.5 308.0 162.3 308.1 162.5 308.2 161.7 308.3 161.3 308.4 162.2 308.5 159.7 308.6 159.1 308.7 164.3 308.8 160.6 308.9 161.3 309.0 163.2 309.1 164.5 309.2 161.0 309.3 163.2 309.4 163.7 309.5 160.2 309.6 162.0 309.7 159.5 309.8 164.2 309.9 164.4 310.0 168.0 310.1 160.5 310.2 165.1 310.3 161.8 310.4 161.7 310.5 160.2 310.6 161.5 310.7 164.5 310.8 164.1 310.9 160.2 311.0 160.9 311.1 162.2 311.2 165.8 311.3 161.7 311.4 161.2 311.5 157.3 311.6 168.1 311.7 164.2 311.8 158.4 311.9 161.5 312.0 161.2 312.1 163.5 312.2 167.0 312.3 161.5 312.4 160.3 312.5 161.4 312.6 163.0 312.7 157.1 312.8 163.3 312.9 164.4 313.0 163.2 313.1 164.3 313.2 160.8 313.3 159.2 313.4 159.4 313.5 161.2 313.6 163.1 313.7 163.1 313.8 166.8 313.9 166.9 314.0 165.1 314.1 165.4 314.2 163.1 314.3 163.7 314.4 162.0 314.5 160.6 314.6 165.4 314.7 165.7 314.8 156.0 314.9 160.8 315.0 161.5 315.1 161.6 315.2 162.8 315.3 157.8 315.4 166.2 315.5 165.6 315.6 162.1 315.7 161.4 315.8 162.4 315.9 163.4 316.0 162.3 316.1 157.0 316.2 159.6 316.3 158.6 316.4 165.4 316.5 161.1 316.6 162.3 316.7 162.3 316.8 162.4 316.9 163.9 317.0 163.8 317.1 162.3 317.2 159.2 317.3 159.9 317.4 159.6 317.5 156.5 317.6 157.8 317.7 159.3 317.8 161.5 317.9 158.0 318.0 159.9 318.1 161.8 318.2 156.9 318.3 157.1 318.4 157.9 318.5 162.6 318.6 164.0 318.7 160.7 318.8 160.2 318.9 158.9 319.0 164.4 319.1 155.2 319.2 157.9 319.3 161.0 319.4 156.1 319.5 158.6 319.6 158.0 319.7 155.5 319.8 160.2 319.9 160.1 320.0 160.6 320.1 161.2 320.2 153.2 320.3 158.3 320.4 160.7 320.5 158.1 320.6 156.9 320.7 156.6 320.8 162.7 320.9 155.4 321.0 159.0 321.1 161.4 321.2 159.5 321.3 159.2 321.4 161.0 321.5 160.8 321.6 158.1 321.7 154.0 321.8 154.6 321.9 162.7 322.0 161.4 322.1 157.0 322.2 160.8 322.3 164.0 322.4 161.3 322.5 161.1 322.6 160.1 322.7 158.7 322.8 162.7 322.9 161.3 323.0 158.8 323.1 160.4 323.2 160.4 323.3 161.2 323.4 159.5 323.5 164.2 323.6 162.9 323.7 160.8 323.8 164.8 323.9 165.1 324.0 159.8 324.1 160.7 324.2 162.5 324.3 161.0 324.4 157.4 324.5 161.2 324.6 162.1 324.7 161.6 324.8 160.6 324.9 165.0 325.0 162.0 325.1 160.9 325.2 163.3 325.3 163.1 325.4 164.5 325.5 165.4 325.6 160.2 325.7 163.0 325.8 159.1 325.9 162.9 326.0 160.6 326.1 165.1 326.2 167.2 326.3 160.8 326.4 160.8 326.5 160.6 326.6 161.4 326.7 163.8 326.8 160.4 326.9 160.1 327.0 159.9 327.1 162.9 327.2 164.2 327.3 162.4 327.4 163.3 327.5 166.7 327.6 160.7 327.7 165.3 327.8 163.2 327.9 160.4 328.0 161.6 328.1 166.3 328.2 168.9 328.3 164.9 328.4 160.5 328.5 158.7 328.6 161.7 328.7 162.9 328.8 160.8 328.9 164.9 329.0 165.6 329.1 168.9 329.2 164.1 329.3 168.3 329.4 162.5 329.5 167.4 329.6 166.9 329.7 169.4 329.8 166.0 329.9 164.6 330.0 163.9 330.1 163.4 330.2 162.0 330.3 163.7 330.4 163.2 330.5 163.2 330.6 162.5 330.7 164.3 330.8 165.3 330.9 167.8 331.0 159.8 331.1 166.8 331.2 159.0 331.3 165.3 331.4 165.3 331.5 162.1 331.6 162.9 331.7 163.0 331.8 162.3 331.9 160.8 332.0 165.2 332.1 161.2 332.2 168.0 332.3 163.7 332.4 161.5 332.5 167.7 332.6 162.5 332.7 162.7 332.8 169.4 332.9 163.8 333.0 166.9 333.1 164.9 333.2 165.1 333.3 161.5 333.4 160.1 333.5 163.8 333.6 164.9 333.7 166.4 333.8 163.7 333.9 164.7 334.0 163.9 334.1 165.0 334.2 166.7 334.3 164.3 334.4 161.7 334.5 160.7 334.6 162.0 334.7 163.5 334.8 160.3 334.9 161.9 335.0 160.1 335.1 161.5 335.2 165.7 335.3 163.9 335.4 159.2 335.5 165.1 335.6 160.1 335.7 166.1 335.8 165.6 335.9 163.5 336.0 163.4 336.1 160.4 336.2 165.6 336.3 161.0 336.4 160.2 336.5 164.2 336.6 163.1 336.7 159.3 336.8 164.0 336.9 161.0 337.0 160.5 337.1 163.6 337.2 162.0 337.3 160.2 337.4 160.3 337.5 160.2 337.6 162.8 337.7 162.3 337.8 160.0 337.9 163.9 338.0 160.8 338.1 160.4 338.2 163.5 338.3 159.6 338.4 161.7 338.5 162.9 338.6 162.6 338.7 160.1 338.8 165.0 338.9 162.4 339.0 162.3 339.1 161.1 339.2 159.1 339.3 161.6 339.4 160.2 339.5 161.6 339.6 160.1 339.7 160.3 339.8 163.0 339.9 164.3 340.0 163.6 340.1 160.9 340.2 161.2 340.3 163.0 340.4 163.4 340.5 162.7 340.6 162.9 340.7 159.8 340.8 162.4 340.9 157.0 341.0 165.2 341.1 165.2 341.2 162.0 341.3 164.7 341.4 165.6 341.5 164.2 341.6 164.0 341.7 165.4 341.8 158.3 341.9 166.0 342.0 164.8 342.1 163.1 342.2 162.3 342.3 162.1 342.4 160.5 342.5 162.6 342.6 161.4 342.7 159.4 342.8 158.2 342.9 161.0 343.0 160.1 343.1 162.8 343.2 159.3 343.3 165.1 343.4 164.7 343.5 164.7 343.6 161.0 343.7 164.0 343.8 164.4 343.9 161.7 344.0 158.2 344.1 159.9 344.2 163.4 344.3 162.1 344.4 163.5 344.5 166.7 344.6 164.1 344.7 160.9 344.8 160.7 344.9 162.9 345.0 166.1 345.1 164.0 345.2 161.6 345.3 164.7 345.4 164.9 345.5 159.1 345.5 168.6 345.6 162.1 345.7 164.2 345.8 165.9 345.9 164.3 346.0 164.5 346.1 167.0 346.2 164.6 346.3 164.4 346.4 163.4 346.5 167.4 346.6 165.6 346.7 163.5 346.8 159.9 346.9 168.6 347.0 160.1 347.1 160.2 347.2 165.5 347.3 160.6 347.4 163.2 347.5 166.8 347.6 161.7 347.7 165.0 347.8 166.9 347.9 167.4 348.0 167.4 348.1 165.1 348.2 168.1 348.3 163.5 348.4 164.1 348.5 163.7 348.6 163.6 348.7 162.5 348.8 165.2 348.9 165.0 349.0 161.2 349.1 163.0 349.2 170.4 349.3 167.5 349.4 161.9 349.5 164.7 349.6 164.3 349.7 161.8 349.8 164.6 349.9 162.5 350.0 169.8 350.1 167.6 350.2 164.7 350.3 164.1 350.4 165.7 350.5 163.0 350.6 167.8 350.7 164.0 350.8 169.7 350.9 165.5 351.0 164.2 351.1 163.0 351.2 164.7 351.3 166.6 351.4 163.2 351.5 164.5 351.6 164.9 351.7 163.2 351.8 164.5 351.9 166.8 352.0 169.1 352.1 166.1 352.2 163.9 352.3 165.5 352.4 165.6 352.5 166.9 352.6 162.4 352.7 165.5 352.8 168.0 352.9 165.8 353.0 164.8 353.1 163.3 353.2 160.8 353.3 166.0 353.4 166.6 353.5 169.2 353.6 164.2 353.7 164.8 353.8 163.8 353.9 169.5 354.0 167.4 354.1 168.7 354.2 164.7 354.3 162.8 354.4 162.9 354.5 168.5 354.6 165.0 354.7 161.6 354.8 164.4 354.9 163.1 355.0 164.6 355.1 166.4 355.2 168.0 355.3 161.5 355.4 167.4 355.5 164.6 355.6 162.5 355.7 164.8 355.8 166.1 355.9 165.5 356.0 162.3 356.1 167.2 356.2 165.8 356.3 168.9 356.4 171.1 356.5 168.8 356.6 167.8 356.7 167.2 356.8 171.6 356.9 168.8 357.0 163.4 357.1 165.3 357.2 167.1 357.3 165.1 357.4 166.3 357.5 167.9 357.6 167.8 357.7 165.5 357.8 165.6 357.9 165.9 358.0 164.8 358.1 165.3 358.2 164.2 358.3 167.7 358.4 168.0 358.5 161.2 358.6 167.7 358.7 167.7 358.8 165.6 358.9 166.5 359.0 168.4 359.1 162.7 359.2 167.9 359.3 168.2 359.4 167.5 359.5 161.4 359.6 165.7 359.7 166.1 359.8 170.2 359.9 164.8 360.0 169.9 360.1 166.6 360.2 164.0 360.3 161.5 360.4 161.5 360.5 165.6 360.6 167.5 360.7 162.4 360.8 165.3 360.9 165.5 361.0 165.5 361.1 163.1 361.2 161.8 361.3 164.0 361.4 165.6 361.5 167.3 361.6 165.6 361.7 168.3 361.8 167.9 361.9 168.2 362.0 166.8 362.1 170.5 362.2 167.8 362.3 167.3 362.4 169.8 362.5 170.2 362.6 164.2 362.7 168.6 362.8 163.6 362.9 167.4 363.0 166.5 363.1 164.8 363.2 166.7 363.3 166.4 363.4 167.1 363.5 166.8 363.6 164.2 363.7 167.5 363.8 167.3 363.9 166.2 364.0 167.7 364.1 170.2 364.2 166.4 364.3 168.3 364.4 170.7 364.5 166.1 364.6 166.5 364.7 169.6 364.8 167.2 364.9 163.3 365.0 166.5 365.1 169.6 365.2 169.5 365.3 169.7 365.4 168.5 365.5 166.6 365.6 168.9 365.7 162.2 365.8 171.6 365.9 171.1 366.0 163.5 366.1 164.5 366.2 162.9 366.3 168.0 366.4 167.0 366.5 167.2 366.6 168.2 366.7 170.6 366.8 167.9 366.9 165.0 367.0 167.4 367.1 169.5 367.2 166.5 367.3 167.5 367.4 168.5 367.5 165.8 367.6 166.5 367.7 164.4 367.8 165.6 367.9 166.1 368.0 163.5 368.1 171.7 368.2 170.8 368.3 166.9 368.4 166.7 368.5 165.3 368.6 170.7 368.7 165.1 368.8 164.4 368.9 167.9 369.0 169.4 369.1 170.2 369.2 168.8 369.3 166.7 369.4 168.7 369.5 169.6 369.6 163.8 369.7 167.1 369.8 167.6 369.9 164.8 370.0 167.6 370.1 166.7 370.2 169.5 370.3 165.3 370.4 168.1 370.5 169.8 370.6 169.0 370.7 168.1 370.8 165.6 370.9 167.1 371.0 168.9 371.1 169.0 371.2 167.8 371.3 166.6 371.4 163.5 371.5 166.5 371.6 166.2 371.7 164.9 371.8 170.0 371.9 167.0 372.0 167.6 372.1 169.8 372.2 168.3 372.3 171.5 372.4 167.9 372.5 167.8 372.6 164.5 372.7 164.9 372.8 167.5 372.9 165.2 373.0 166.9 373.1 168.2 373.2 163.8 373.3 165.4 373.4 168.8 373.5 165.7 373.6 166.8 373.7 169.1 373.8 167.7 373.9 166.1 374.0 170.0 374.1 165.7 374.2 167.2 374.3 165.6 374.4 163.3 374.5 165.0 374.6 167.1 374.7 162.4 374.8 169.5 374.9 164.4 375.0 162.3 375.1 164.7 375.2 163.8 375.3 163.6 375.4 162.2 375.5 162.2 375.6 162.2 375.7 166.4 375.8 164.9 375.9 164.0 376.0 168.0 376.1 168.9 376.2 166.9 376.3 168.9 376.4 165.4 376.5 170.3 376.6 169.6 376.7 167.1 376.8 162.5 376.9 169.1 377.0 171.0 377.1 163.7 377.2 168.6 377.3 169.8 377.4 170.6 377.5 163.3 377.6 165.8 377.7 167.5 377.8 167.0 377.9 166.0 378.0 165.3 378.1 167.3 378.2 164.9 378.3 167.0 378.4 169.0 378.5 165.9 378.6 169.8 378.7 165.8 378.8 166.7 378.9 169.6 379.0 165.2 379.1 162.0 379.2 162.0 379.3 166.3 379.4 168.6 379.5 168.6 379.6 167.2 379.7 167.4 379.8 164.6 379.9 161.4 380.0 165.8 380.1 167.4 380.2 169.7 380.3 170.2 380.4 164.7 380.5 163.8 380.6 166.2 380.7 166.8 380.8 165.1 380.9 165.6 381.0 167.1 381.1 163.8 381.2 164.7 381.3 164.9 381.4 162.4 381.5 166.6 381.6 165.9 381.7 168.5 381.8 162.3 381.9 164.5 382.0 162.0 382.1 161.4 382.2 163.6 382.3 168.0 382.4 165.7 382.5 167.0 382.6 165.9 382.7 166.0 382.8 164.0 382.9 164.2 383.0 165.7 383.1 165.5 383.2 163.5 383.3 167.9 383.4 162.2 383.5 169.7 383.6 168.8 383.7 165.6 383.8 165.7 383.9 165.0 384.0 166.1 384.1 165.4 384.2 165.9 384.3 163.7 384.4 162.4 384.5 164.0 384.6 166.7 384.7 164.0 384.8 163.0 384.9 165.7 385.0 164.9 385.1 163.5 385.2 160.2 385.3 164.1 385.4 169.7 385.5 168.3 385.6 165.2 385.7 168.2 385.8 164.0 385.9 166.5 386.0 163.4 386.1 163.4 386.2 165.9 386.3 166.3 386.4 165.1 386.5 165.5 386.6 165.3 386.7 168.4 386.8 166.8 386.9 169.5 387.0 164.6 387.1 164.1 387.2 160.8 387.3 163.3 387.4 164.0 387.5 162.7 387.6 164.2 387.7 164.8 387.8 163.0 387.9 162.4 388.0 161.1 388.1 167.6 388.2 162.9 388.3 169.3 388.4 164.7 388.5 165.2 388.6 164.3 388.7 163.7 388.8 165.2 388.9 159.5 389.0 165.1 389.1 164.3 389.2 161.3" fill="none" stroke="#009000" stroke-width="0.6" stroke-linejoin="round"/>
<path d="M39.7 196.7L39.8 198.3 39.9 197.6 40.0 210.2 40.1 201.9 40.2 196.5 40.3 194.5 40.4 193.4 40.5 189.5 40.6 187.5 40.7 187.7 40.8 179.8 40.9 195.2 41.0 188.1 41.1 187.7 41.2 180.1 41.3 183.3 41.4 189.1 41.5 184.1 41.6 191.7 41.7 186.5 41.8 173.1 41.9 180.6 42.0 167.1 42.1 163.2 42.2 176.3 42.3 159.3 42.4 176.3 42.5 189.2 42.6 183.1 42.7 163.9 42.8 179.0 42.9 167.4 43.0 166.2 43.1 174.9 43.2 164.5 43.3 168.7 43.4 161.1 43.5 169.5 43.6 177.4 43.7 166.2 43.8 156.6 43.9 166.3 44.0 165.8 44.1 166.0 44.2 174.8 44.3 161.8 44.4 171.0 44.5 175.6 44.6 163.6 44.7 165.3 44.8 171.3 44.9 159.4 45.0 166.2 45.1 156.1 45.2 151.4 45.3 151.5 45.4 164.3 45.5 170.5 45.6 166.0 45.7 152.7 45.8 165.9 45.9 168.4 46.0 166.3 46.1 159.5 46.2 161.8 46.3 171.4 46.4 176.8 46.5 164.4 46.6 165.8 46.7 162.9 46.8 171.8 46.9 166.2 47.0 167.6 47.1 166.6 47.2 170.9 47.3 174.6 47.4 160.1 47.5 158.2 47.6 160.9 47.7 168.6 47.8 167.1 47.9 161.2 48.0 166.1 48.1 165.0 48.2 174.1 48.3 170.7 48.4 161.0 48.5 159.3 48.6 168.1 48.7 162.4 48.8 157.2 48.9 161.5 49.0 172.0 49.1 167.1 49.2 169.5 49.3 171.0 49.4 174.9 49.5 167.2 49.6 161.5 49.7 169.7 49.8 176.5 49.9 165.8 50.0 171.3 50.1 163.6 50.2 157.0 50.3 157.1 50.4 165.8 50.5 160.7 50.6 167.5 50.7 165.8 50.8 162.6 50.9 171.2 51.0 177.7 51.1 161.1 51.2 159.5 51.3 176.8 51.4 161.4 51.5 161.4 51.6 167.7 51.7 172.5 51.8 167.9 51.9 169.9 52.0 163.3 52.1 167.6 52.2 163.7 52.3 171.7 52.4 163.8 52.5 168.8 52.6 167.2 52.7 171.3 52.8 168.0 52.9 164.7 53.0 163.6 53.1 169.0 53.2 171.1 53.3 163.9 53.4 164.3 53.5 165.8 53.6 169.0 53.7 174.8 53.8 170.7 53.9 172.8 54.0 163.9 54.1 171.3 54.2 165.6 54.3 174.4 54.4 165.0 54.5 165.7 54.6 168.5 54.7 171.6 54.8 169.3 54.9 169.1 55.0 168.7 55.1 173.4 55.2 167.7 55.3 167.0 55.4 165.1 55.5 168.3 55.6 167.0 55.7 165.9 55.8 166.8 55.9 171.5 56.0 167.8 56.1 170.1 56.2 171.5 56.3 165.1 56.4 165.1 56.5 159.6 56.6 166.8 56.7 168.5 56.8 165.3 56.9 166.0 57.0 170.2 57.1 166.2 57.2 165.9 57.3 170.7 57.4 168.9 57.5 175.1 57.6 164.2 57.7 167.5 57.8 169.4 57.9 172.1 58.0 169.0 58.1 165.5 58.2 161.3 58.3 163.9 58.4 166.2 58.5 167.5 58.6 171.3 58.7 167.7 58.8 166.7 58.9 170.0 59.0 168.4 59.1 169.9 59.2 159.9 59.3 163.9 59.4 169.9 59.5 163.5 59.6 171.9 59.7 168.2 59.8 163.7 59.9 162.0 60.0 171.8 60.1 168.4 60.2 166.9 60.3 162.6 60.4 172.1 60.5 169.4 60.6 167.5 60.7 161.9 60.8 163.3 60.9 172.6 61.0 168.1 61.1 171.2 61.2 169.2 61.3 170.8 61.4 169.2 61.5 164.9 61.6 165.2 61.7 158.4 61.8 162.4 61.9 163.3 62.0 174.8 62.1 162.0 62.2 158.0 62.3 167.7 62.4 168.8 62.5 164.9 62.6 175.0 62.7 164.5 62.8 159.1 62.9 164.3 63.0 161.7 63.1 160.2 63.2 161.7 63.3 175.1 63.4 170.0 63.5 171.2 63.6 169.9 63.7 174.5 63.8 167.6 63.9 167.3 64.0 171.4 64.1 162.5 64.2 166.0 64.3 171.9 64.4 169.2 64.5 161.2 64.6 171.8 64.7 165.4 64.8 161.3 64.9 167.9 65.0 170.2 65.1 160.4 65.2 172.2 65.3 163.9 65.4 164.9 65.5 161.2 65.6 175.3 65.7 170.2 65.8 171.6 65.9 165.3 66.0 168.0 66.1 164.6 66.2 170.2 66.3 171.9 66.4 171.1 66.5 175.7 66.6 173.8 66.7 172.6 66.8 168.2 66.9 164.6 67.0 167.7 67.1 165.4 67.2 165.7 67.3 164.5 67.4 168.5 67.5 161.7 67.6 165.1 67.7 175.6 67.8 161.6 67.9 169.7 68.0 166.8 68.1 171.1 68.2 169.9 68.3 177.1 68.4 172.7 68.5 173.9 68.6 172.6 68.7 166.3 68.8 159.6 68.9 162.1 69.0 169.3 69.1 169.5 69.2 162.3 69.3 168.9 69.4 171.5 69.5 175.4 69.6 168.5 69.7 163.1 69.8 170.6 69.9 169.2 70.0 169.3 70.1 161.8 70.2 166.7 70.3 166.6 70.4 172.4 70.5 176.1 70.6 165.9 70.7 171.7 70.8 169.5 70.9 171.1 71.0 167.3 71.1 175.0 71.2 178.2 71.3 179.3 71.4 177.5 71.5 168.9 71.6 164.8 71.7 172.5 71.8 172.5 71.9 167.1 72.0 173.7 72.1 168.8 72.2 169.9 72.3 168.3 72.4 171.2 72.5 170.7 72.6 170.8 72.7 171.3 72.8 178.7 72.9 177.8 73.0 167.0 73.1 172.7 73.2 177.2 73.3 170.0 73.4 168.7 73.5 169.7 73.6 175.7 73.7 164.2 73.8 167.2 73.9 169.9 74.0 177.4 74.1 170.8 74.2 173.4 74.3 171.3 74.4 174.4 74.5 170.8 74.6 169.5 74.7 171.0 74.8 168.0 74.9 167.5 75.0 179.0 75.1 165.8 75.2 172.6 75.3 165.5 75.4 170.0 75.5 169.0 75.6 173.8 75.7 174.5 75.8 166.2 75.9 178.3 76.0 173.9 76.1 164.7 76.2 166.3 76.3 170.3 76.4 170.1 76.5 176.0 76.6 172.8 76.7 172.0 76.8 168.0 76.9 164.3 77.0 175.8 77.1 172.4 77.2 169.5 77.3 162.6 77.4 162.2 77.5 167.5 77.6 167.5 77.7 166.6 77.8 166.8 77.9 157.8 78.0 169.0 78.1 166.4 78.2 172.5 78.3 159.5 78.4 159.6 78.5 157.9 78.6 164.3 78.7 161.6 78.8 164.0 78.9 158.0 79.0 151.8 79.1 168.8 79.2 169.9 79.3 164.4 79.4 169.8 79.5 155.6 79.6 164.5 79.7 156.5 79.8 159.0 79.9 164.7 80.0 170.3 80.1 163.6 80.2 162.9 80.3 160.8 80.4 169.8 80.5 151.0 80.6 157.3 80.7 167.4 80.8 163.8 80.9 149.6 81.0 163.3 81.1 156.5 81.2 154.2 81.3 165.2 81.4 158.8 81.5 158.4 81.6 155.8 81.7 153.5 81.8 156.1 81.9 159.4 82.0 164.9 82.1 153.0 82.2 156.5 82.3 157.2 82.4 152.1 82.5 159.9 82.6 155.3 82.7 151.8 82.8 159.7 82.9 159.1 83.0 155.0 83.1 160.2 83.2 156.5 83.3 154.4 83.4 156.5 83.4 161.6 83.5 154.9 83.6 158.0 83.7 149.0 83.8 159.7 83.9 157.1 84.0 165.9 84.1 165.2 84.2 156.7 84.3 163.3 84.4 163.3 84.5 163.5 84.6 158.5 84.7 150.0 84.8 160.1 84.9 155.8 85.0 164.4 85.1 159.3 85.2 161.8 85.3 160.2 85.4 159.5 85.5 158.3 85.6 155.5 85.7 158.8 85.8 150.7 85.9 156.5 86.0 151.9 86.1 160.6 86.2 160.0 86.3 150.3 86.4 151.9 86.5 157.6 86.6 149.4 86.7 152.8 86.8 144.2 86.9 150.8 87.0 154.2 87.1 148.8 87.2 156.5 87.3 143.8 87.4 154.9 87.5 157.7 87.6 154.1 87.7 152.7 87.8 151.0 87.9 147.5 88.0 151.5 88.1 158.3 88.2 155.7 88.3 153.6 88.4 151.3 88.5 162.2 88.6 151.5 88.7 148.5 88.8 161.0 88.9 145.3 89.0 156.8 89.1 155.0 89.2 155.4 89.3 144.1 89.4 153.6 89.5 156.3 89.6 154.7 89.7 159.5 89.8 155.0 89.9 155.8 90.0 148.8 90.1 157.8 90.2 143.3 90.3 143.4 90.4 143.2 90.5 150.7 90.6 150.1 90.7 156.0 90.8 149.5 90.9 149.6 91.0 143.2 91.1 147.8 91.2 149.4 91.3 143.7 91.4 151.0 91.5 144.1 91.6 155.6 91.7 151.3 91.8 147.0 91.9 152.3 92.0 153.7 92.1 147.0 92.2 143.7 92.3 147.2 92.4 148.9 92.5 152.5 92.6 146.4 92.7 137.6 92.8 153.3 92.9 138.7 93.0 149.4 93.1 144.7 93.2 136.3 93.3 140.5 93.4 137.6 93.5 140.5 93.6 144.5 93.7 143.8 93.8 147.9 93.9 141.4 94.0 144.8 94.1 142.5 94.2 153.9 94.3 148.6 94.4 150.3 94.5 149.2 94.6 146.7 94.7 139.2 94.8 138.6 94.9 136.3 95.0 145.0 95.1 151.3 95.2 150.7 95.3 144.0 95.4 140.6 95.5 146.1 95.6 151.9 95.7 146.0 95.8 150.7 95.9 146.2 96.0 143.0 96.1 141.0 96.2 146.2 96.3 148.8 96.4 144.4 96.5 142.6 96.6 138.0 96.7 142.2 96.8 144.9 96.9 138.4 97.0 135.6 97.1 141.7 97.2 147.1 97.3 149.2 97.4 139.3 97.5 152.1 97.6 148.4 97.7 143.8 97.8 150.0 97.9 147.1 98.0 139.8 98.1 140.7 98.2 152.5 98.3 146.5 98.4 145.3 98.5 146.5 98.6 140.8 98.7 145.6 98.8 148.4 98.9 153.5 99.0 146.0 99.1 140.8 99.2 144.5 99.3 140.1 99.4 141.4 99.5 150.1 99.6 144.2 99.7 143.7 99.8 143.4 99.9 153.6 100.0 137.8 100.1 138.7 100.2 143.6 100.3 148.9 100.4 140.8 100.5 147.4 100.6 138.4 100.7 141.6 100.8 150.3 100.9 154.6 101.0 146.5 101.1 144.0 101.2 150.3 101.3 152.2 101.4 143.8 101.5 148.0 101.6 140.5 101.7 151.4 101.8 142.8 101.9 145.8 102.0 140.4 102.1 139.0 102.2 149.4 102.3 149.3 102.4 146.8 102.5 148.0 102.6 147.5 102.7 145.4 102.8 147.6 102.9 144.6 103.0 150.7 103.1 151.3 103.2 155.1 103.3 150.7 103.4 151.9 103.5 148.3 103.6 142.0 103.7 146.5 103.8 143.6 103.9 146.4 104.0 143.8 104.1 150.6 104.2 149.9 104.3 144.2 104.4 148.1 104.5 144.1 104.6 146.2 104.7 147.0 104.8 147.1 104.9 147.0 105.0 147.5 105.1 147.3 105.2 145.1 105.3 149.5 105.4 150.7 105.5 151.0 105.6 151.3 105.7 152.3 105.8 145.0 105.9 139.6 106.0 151.2 106.1 152.1 106.2 146.0 106.3 145.8 106.4 147.1 106.5 141.2 106.6 144.4 106.7 150.2 106.8 146.3 106.9 147.7 107.0 149.6 107.1 147.9 107.2 143.8 107.3 147.8 107.4 149.0 107.5 142.1 107.6 148.4 107.7 151.3 107.8 147.8 107.9 152.7 108.0 143.2 108.1 148.5 108.2 151.7 108.3 141.2 108.4 144.2 108.5 142.9 108.6 141.1 108.7 148.0 108.8 146.7 108.9 149.0 109.0 149.2 109.1 147.5 109.2 148.5 109.3 148.2 109.4 147.5 109.5 149.4 109.6 145.2 109.7 148.7 109.8 141.0 109.9 151.5 110.0 151.0 110.1 142.6 110.2 154.1 110.3 146.6 110.4 151.0 110.5 150.2 110.6 144.4 110.7 143.2 110.8 142.1 110.9 141.6 111.0 140.6 111.1 141.2 111.2 142.3 111.3 143.3 111.4 143.6 111.5 145.0 111.6 140.5 111.7 148.2 111.8 139.5 111.9 140.0 112.0 135.8 112.1 144.0 112.2 144.7 112.3 141.7 112.4 146.7 112.5 147.7 112.6 145.8 112.7 138.1 112.8 142.9 112.9 142.4 113.0 146.3 113.1 145.4 113.2 138.7 113.3 143.9 113.4 141.9 113.5 139.7 113.6 139.3 113.7 141.3 113.8 134.7 113.9 142.2 114.0 140.6 114.1 140.9 114.2 134.1 114.3 135.6 114.4 135.5 114.5 137.1 114.6 139.7 114.7 137.5 114.8 134.3 114.9 135.3 115.0 138.0 115.1 136.9 115.2 138.2 115.3 135.9 115.4 140.7 115.5 137.5 115.6 137.6 115.7 133.6 115.8 136.5 115.9 136.5 116.0 142.4 116.1 140.6 116.2 138.6 116.3 138.3 116.4 134.8 116.5 131.8 116.6 137.0 116.7 141.3 116.8 139.3 116.9 140.9 117.0 138.1 117.1 143.4 117.2 140.5 117.3 141.0 117.4 140.4 117.5 139.3 117.6 135.6 117.7 136.0 117.8 138.2 117.9 131.8 118.0 143.7 118.1 142.6 118.2 144.4 118.3 135.5 118.4 137.7 118.5 140.6 118.6 144.8 118.7 134.9 118.8 135.5 118.9 143.7 119.0 137.6 119.1 139.9 119.2 139.6 119.3 142.7 119.4 142.2 119.5 142.3 119.6 139.8 119.7 143.9 119.8 136.9 119.9 135.6 120.0 141.0 120.1 140.0 120.2 137.5 120.3 135.3 120.4 134.5 120.5 133.3 120.6 137.9 120.7 142.3 120.8 138.5 120.9 139.7 121.0 142.7 121.1 134.3 121.2 140.8 121.3 140.1 121.4 133.3 121.5 140.1 121.6 140.2 121.7 134.5 121.8 132.5 121.9 142.2 122.0 142.8 122.1 140.9 122.2 139.9 122.3 138.2 122.4 137.2 122.5 140.7 122.6 132.8 122.7 132.3 122.8 139.6 122.9 133.1 123.0 140.1 123.1 138.8 123.2 140.6 123.3 134.0 123.4 134.3 123.5 140.2 123.6 136.5 123.7 142.4 123.8 134.2 123.9 139.9 124.0 134.5 124.1 133.3 124.2 139.0 124.3 133.7 124.4 138.4 124.5 144.6 124.6 139.7 124.7 135.4 124.8 136.1 124.9 136.8 125.0 136.3 125.1 135.3 125.2 135.8 125.3 134.7 125.4 136.9 125.5 134.0 125.6 140.5 125.7 138.5 125.8 136.8 125.9 140.0 126.0 133.3 126.1 135.7 126.2 138.7 126.3 138.9 126.4 137.4 126.5 136.1 126.6 142.9 126.7 136.4 126.8 134.6 126.9 138.2 127.0 144.7 127.1 141.9 127.2 137.0 127.3 130.8 127.4 141.9 127.5 132.1 127.6 131.5 127.7 138.7 127.8 132.3 127.9 137.3 128.0 138.9 128.1 132.0 128.2 139.7 128.3 144.0 128.4 145.6 128.5 134.2 128.6 137.2 128.7 136.0 128.8 137.6 128.9 135.3 129.0 136.6 129.1 134.3 129.2 145.8 129.3 136.1 129.4 134.5 129.5 140.9 129.6 143.5 129.7 143.9 129.8 145.9 129.9 139.5 130.0 135.7 130.1 128.1 130.2 135.4 130.3 134.7 130.4 127.6 130.5 142.0 130.6 130.7 130.7 135.6 130.8 127.7 130.9 132.8 131.0 136.1 131.1 147.8 131.2 141.3 131.3 147.1 131.4 140.4 131.5 143.8 131.6 136.3 131.7 129.7 131.8 137.1 131.9 137.4 132.0 137.7 132.1 139.1 132.2 133.9 132.3 139.0 132.4 142.1 132.5 137.4 132.6 141.8 132.7 144.5 132.8 145.0 132.9 145.4 133.0 139.0 133.1 130.7 133.2 147.3 133.3 144.7 133.4 140.9 133.5 141.8 133.6 140.5 133.7 139.8 133.8 145.6 133.9 137.0 134.0 141.8 134.1 140.6 134.2 133.4 134.3 139.5 134.4 136.1 134.5 140.4 134.6 133.3 134.7 138.9 134.8 133.9 134.9 130.0 135.0 143.8 135.1 143.2 135.2 135.4 135.3 135.5 135.4 136.6 135.5 137.9 135.6 138.1 135.7 132.9 135.8 136.8 135.9 134.2 136.0 128.5 136.1 137.0 136.2 129.2 136.3 135.0 136.4 132.0 136.5 136.2 136.6 140.2 136.7 136.4 136.8 128.3 136.9 131.9 137.0 128.9 137.1 128.4 137.2 131.9 137.3 135.3 137.4 129.2 137.5 128.0 137.6 134.1 137.7 127.7 137.8 134.5 137.9 132.9 138.0 133.8 138.1 136.0 138.2 129.0 138.3 133.6 138.4 125.1 138.5 132.7 138.6 135.3 138.7 128.6 138.8 131.7 138.9 123.7 139.0 130.4 139.1 124.9 139.2 126.4 139.3 129.3 139.4 124.7 139.5 130.8 139.6 129.4 139.7 134.3 139.8 130.5 139.9 126.9 140.0 128.0 140.1 128.7 140.2 127.4 140.3 126.0 140.4 127.9 140.5 128.9 140.6 131.9 140.7 128.9 140.8 129.2 140.9 129.4 141.0 130.9 141.1 125.5 141.2 135.0 141.3 130.5 141.4 134.1 141.5 129.1 141.6 129.0 141.7 128.9 141.8 126.7 141.9 133.1 142.0 132.5 142.1 126.5 142.2 129.3 142.3 136.5 142.4 135.5 142.5 134.8 142.6 133.1 142.7 129.6 142.8 131.7 142.9 129.6 143.0 129.0 143.1 132.1 143.2 131.1 143.3 134.5 143.4 132.6 143.5 127.9 143.6 132.3 143.7 129.9 143.8 132.7 143.9 128.9 144.0 130.5 144.1 128.7 144.2 137.5 144.3 127.6 144.4 130.5 144.5 129.2 144.6 133.0 144.7 136.1 144.8 135.0 144.9 130.1 145.0 126.4 145.1 130.0 145.2 129.6 145.3 136.0 145.4 137.8 145.5 133.5 145.6 131.2 145.7 131.1 145.8 131.5 145.9 135.9 146.0 138.6 146.1 135.0 146.2 132.7 146.3 134.1 146.4 130.8 146.5 131.0 146.6 133.5 146.7 131.5 146.8 130.1 146.9 136.8 147.0 129.1 147.1 133.9 147.2 131.0 147.3 130.4 147.4 136.3 147.5 138.3 147.6 133.4 147.7 134.2 147.8 129.5 147.9 132.1 148.0 130.2 148.1 131.1 148.2 129.3 148.3 134.6 148.4 137.9 148.5 132.3 148.6 130.2 148.7 135.8 148.8 129.4 148.9 135.2 149.0 132.2 149.1 127.4 149.2 130.9 149.3 134.8 149.4 133.0 149.5 136.7 149.6 137.1 149.7 133.8 149.8 130.6 149.9 130.0 150.0 136.1 150.1 134.8 150.2 133.3 150.3 135.0 150.4 132.1 150.5 131.6 150.6 132.5 150.7 131.2 150.8 130.6 150.9 135.3 151.0 136.3 151.1 129.6 151.2 134.3 151.3 135.0 151.4 132.7 151.5 139.4 151.6 137.5 151.7 133.8 151.8 131.7 151.9 135.7 152.0 133.3 152.1 135.6 152.2 132.6 152.3 139.0 152.4 130.5 152.5 132.7 152.6 139.1 152.7 133.6 152.8 131.9 152.9 133.1 153.0 134.0 153.1 137.8 153.2 136.4 153.3 133.0 153.4 134.8 153.5 129.0 153.6 137.7 153.7 134.7 153.8 133.9 153.9 139.7 154.0 127.7 154.1 132.0 154.2 131.3 154.3 131.9 154.4 133.2 154.5 127.8 154.6 131.8 154.7 134.6 154.8 131.2 154.9 135.3 155.0 133.2 155.1 133.6 155.2 134.5 155.3 134.5 155.4 133.7 155.5 136.6 155.6 132.3 155.7 130.9 155.8 135.9 155.9 133.8 156.0 136.9 156.1 136.4 156.2 134.0 156.3 129.8 156.4 130.9 156.5 131.5 156.6 133.4 156.7 129.5 156.8 135.6 156.9 133.2 157.0 128.6 157.1 127.7 157.2 135.4 157.3 133.7 157.4 138.8 157.5 133.3 157.6 134.0 157.7 132.8 157.8 135.1 157.9 134.2 158.0 132.1 158.1 127.2 158.2 129.3 158.3 128.9 158.4 130.2 158.5 130.9 158.6 138.4 158.7 134.5 158.8 134.4 158.9 129.6 159.0 138.2 159.1 137.6 159.2 134.3 159.3 130.9 159.4 130.7 159.5 133.5 159.6 132.8 159.7 127.7 159.8 129.1 159.9 132.6 160.0 128.9 160.1 132.8 160.2 132.5 160.3 128.7 160.4 126.7 160.5 127.9 160.6 131.3 160.7 126.2 160.8 124.4 160.9 125.3 161.0 129.5 161.1 131.2 161.2 134.3 161.3 128.3 161.4 131.6 161.5 131.4 161.6 128.9 161.7 132.0 161.8 130.6 161.9 133.1 162.0 130.6 162.1 130.3 162.2 133.6 162.3 134.0 162.4 130.5 162.5 127.7 162.6 127.3 162.7 127.1 162.8 129.8 162.9 131.2 163.0 131.9 163.1 133.4 163.2 131.1 163.3 129.5 163.4 132.8 163.5 128.9 163.6 136.0 163.7 128.5 163.8 126.5 163.9 133.4 164.0 129.0 164.1 131.1 164.2 132.0 164.3 128.1 164.4 134.9 164.5 129.2 164.6 130.6 164.7 125.2 164.8 130.5 164.9 131.1 165.0 125.2 165.1 125.7 165.2 131.9 165.3 132.0 165.4 132.4 165.5 125.2 165.6 132.8 165.7 130.3 165.8 134.2 165.9 131.1 166.0 127.3 166.1 131.0 166.2 132.0 166.3 122.2 166.4 123.8 166.5 125.0 166.6 127.9 166.7 131.1 166.8 133.8 166.9 133.9 167.0 130.8 167.1 130.6 167.2 127.6 167.3 128.0 167.4 128.5 167.5 127.0 167.6 125.6 167.7 134.1 167.8 132.7 167.9 127.7 168.0 129.3 168.1 126.6 168.2 129.5 168.3 122.9 168.4 122.1 168.5 130.3 168.6 130.9 168.7 129.5 168.8 129.9 168.9 128.4 169.0 131.4 169.1 131.4 169.2 127.6 169.3 124.2 169.4 123.7 169.5 122.5 169.6 131.3 169.7 128.8 169.8 128.5 169.9 126.2 170.0 130.8 170.1 127.8 170.2 131.7 170.3 127.5 170.4 131.4 170.5 131.7 170.6 129.4 170.7 128.5 170.8 128.0 170.8 126.5 170.9 131.3 171.0 128.2 171.1 133.6 171.2 131.7 171.3 129.6 171.4 132.8 171.5 132.0 171.6 129.4 171.7 124.9 171.8 126.2 171.9 127.0 172.0 130.1 172.1 133.8 172.2 127.2 172.3 124.4 172.4 122.1 172.5 128.1 172.6 128.4 172.7 131.0 172.8 129.9 172.9 130.3 173.0 127.6 173.1 126.5 173.2 129.9 173.3 127.7 173.4 124.6 173.5 123.7 173.6 126.0 173.7 125.7 173.8 126.4 173.9 128.7 174.0 130.1 174.1 129.1 174.2 127.7 174.3 128.1 174.4 125.8 174.5 132.2 174.6 128.8 174.7 132.8 174.8 129.0 174.9 123.9 175.0 132.1 175.1 122.1 175.2 131.0 175.3 125.7 175.4 127.3 175.5 126.9 175.6 128.9 175.7 129.5 175.8 126.3 175.9 125.7 176.0 130.1 176.1 122.4 176.2 125.1 176.3 125.1 176.4 127.5 176.5 126.0 176.6 122.1 176.7 129.0 176.8 127.8 176.9 130.4 177.0 129.9 177.1 122.1 177.2 129.3 177.3 135.2 177.4 133.7 177.5 125.8 177.6 129.2 177.7 129.0 177.8 128.3 177.9 130.7 178.0 131.6 178.1 127.5 178.2 131.0 178.3 126.1 178.4 122.1 178.5 135.2 178.6 126.9 178.7 134.9 178.8 126.6 178.9 134.7 179.0 130.4 179.1 131.2 179.2 131.9 179.3 133.2 179.4 126.5 179.5 125.5 179.6 131.6 179.7 133.3 179.8 128.7 179.9 134.4 180.0 123.4 180.1 123.9 180.2 126.2 180.3 135.1 180.4 128.6 180.5 130.3 180.6 134.9 180.7 130.6 180.8 129.5 180.9 129.5 181.0 130.3 181.1 130.1 181.2 133.3 181.3 128.6 181.4 128.6 181.5 125.6 181.6 132.2 181.7 130.6 181.8 126.2 181.9 127.9 182.0 135.1 182.1 133.6 182.2 127.3 182.3 128.6 182.4 131.9 182.5 127.2 182.6 129.7 182.7 130.2 182.8 129.6 182.9 133.0 183.0 131.0 183.1 131.2 183.2 128.6 183.3 126.4 183.4 129.6 183.5 134.2 183.6 125.8 183.7 135.0 183.8 128.5 183.9 129.3 184.0 128.2 184.1 129.9 184.2 127.8 184.3 124.3 184.4 125.2 184.5 128.1 184.6 131.2 184.7 130.1 184.8 129.1 184.9 128.2 185.0 129.7 185.1 130.2 185.2 132.5 185.3 128.3 185.4 129.8 185.5 131.3 185.6 126.3 185.7 129.2 185.8 128.8 185.9 130.8 186.0 129.3 186.1 131.1 186.2 125.7 186.3 124.4 186.4 126.8 186.5 128.1 186.6 126.9 186.7 130.5 186.8 132.4 186.9 126.6 187.0 132.8 187.1 129.8 187.2 127.6 187.3 130.3 187.4 127.5 187.5 129.7 187.6 129.3 187.7 129.4 187.8 126.5 187.9 133.2 188.0 127.8 188.1 132.4 188.2 130.2 188.3 128.4 188.4 132.9 188.5 132.5 188.6 129.1 188.7 129.1 188.8 132.7 188.9 130.6 189.0 128.5 189.1 130.2 189.2 134.6 189.3 131.8 189.4 126.4 189.5 129.3 189.6 129.5 189.7 130.3 189.8 128.9 189.9 131.2 190.0 130.8 190.1 129.8 190.2 127.9 190.3 125.2 190.4 128.1 190.5 129.0 190.6 131.9 190.7 128.1 190.8 131.6 190.9 129.2 191.0 128.4 191.1 132.6 191.2 127.4 191.3 131.7 191.4 130.6 191.5 131.7 191.6 133.2 191.7 130.5 191.8 125.2 191.9 128.4 192.0 125.0 192.1 124.9 192.2 129.9 192.3 131.7 192.4 127.8 192.5 126.5 192.6 127.3 192.7 130.3 192.8 129.0 192.9 128.2 193.0 124.9 193.1 128.4 193.2 127.1 193.3 124.5 193.4 127.5 193.5 122.3 193.6 124.8 193.7 124.6 193.8 127.4 193.9 126.7 194.0 122.0 194.1 130.2 194.2 128.5 194.3 124.3 194.4 126.6 194.5 128.5 194.6 126.7 194.7 126.5 194.8 122.9 194.9 125.7 195.0 125.9 195.1 127.9 195.2 123.2 195.3 126.2 195.4 129.9 195.5 132.0 195.6 131.1 195.7 128.0 195.8 127.7 195.9 127.5 196.0 127.2 196.1 125.4 196.2 125.0 196.3 124.6 196.4 123.2 196.5 124.2 196.6 124.8 196.7 124.7 196.8 120.9 196.9 125.1 197.0 120.4 197.1 121.8 197.2 125.0 197.3 126.4 197.4 125.9 197.5 125.5 197.6 122.2 197.7 132.7 197.8 131.0 197.9 126.8 198.0 128.0 198.1 126.9 198.2 128.1 198.3 128.2 198.4 124.4 198.5 124.3 198.6 127.3 198.7 128.2 198.8 126.5 198.9 125.5 199.0 130.5 199.1 128.4 199.2 125.5 199.3 123.9 199.4 126.4 199.5 124.3 199.6 121.8 199.7 122.4 199.8 127.0 199.9 131.0 200.0 129.2 200.1 128.9 200.2 125.7 200.3 123.0 200.4 124.5 200.5 122.4 200.6 118.1 200.7 130.2 200.8 120.5 200.9 127.5 201.0 126.8 201.1 127.3 201.2 125.2 201.3 117.7 201.4 125.9 201.5 120.8 201.6 127.7 201.7 120.8 201.8 122.7 201.9 122.4 202.0 127.0 202.1 124.6 202.2 123.3 202.3 123.4 202.4 121.9 202.5 123.7 202.6 119.6 202.7 120.8 202.8 119.1 202.9 126.9 203.0 127.2 203.1 127.6 203.2 129.2 203.3 118.8 203.4 122.6 203.5 126.2 203.6 125.5 203.7 126.3 203.8 122.4 203.9 125.2 204.0 127.4 204.1 124.6 204.2 127.2 204.3 121.5 204.4 118.6 204.5 122.2 204.6 120.5 204.7 121.6 204.8 116.4 204.9 126.9 205.0 130.5 205.1 125.3 205.2 129.5 205.3 123.9 205.4 123.1 205.5 119.4 205.6 119.9 205.7 123.2 205.8 123.6 205.9 120.2 206.0 123.9 206.1 121.7 206.2 117.5 206.3 125.9 206.4 124.5 206.5 118.7 206.6 124.9 206.7 117.9 206.8 129.9 206.9 126.0 207.0 120.0 207.1 121.5 207.2 121.8 207.3 121.2 207.4 118.0 207.5 119.7 207.6 126.2 207.7 124.5 207.8 122.3 207.9 129.0 208.0 118.8 208.1 124.3 208.2 116.5 208.3 117.5 208.4 120.0 208.5 123.1 208.6 116.3 208.7 123.1 208.8 118.4 208.9 120.1 209.0 118.4 209.1 115.9 209.2 120.6 209.3 119.5 209.4 118.5 209.5 122.6 209.6 115.8 209.7 120.7 209.8 119.7 209.9 121.5 210.0 120.6 210.1 126.2 210.2 122.8 210.3 125.3 210.4 125.8 210.5 127.2 210.6 125.7 210.7 120.8 210.8 120.1 210.9 122.6 211.0 128.4 211.1 123.2 211.2 123.2 211.3 125.8 211.4 127.3 211.5 125.0 211.6 121.6 211.7 124.2 211.8 125.7 211.9 130.7 212.0 125.5 212.1 125.4 212.2 119.5 212.3 127.0 212.4 124.8 212.5 124.3 212.6 131.5 212.7 117.9 212.8 124.3 212.9 121.0 213.0 121.1 213.1 122.4 213.2 122.8 213.3 131.8 213.4 129.5 213.5 131.1 213.6 125.2 213.7 121.2 213.8 128.8 213.9 122.1 214.0 122.1 214.1 127.0 214.2 124.7 214.3 130.4 214.4 118.1 214.5 119.9 214.6 119.7 214.7 124.5 214.8 128.7 214.9 124.2 215.0 123.6 215.1 123.9 215.2 124.3 215.3 124.7 215.4 128.0 215.5 128.8 215.6 130.2 215.7 130.8 215.8 122.4 215.9 119.2 216.0 129.4 216.1 124.4 216.2 128.0 216.3 127.2 216.4 125.5 216.5 133.3 216.6 123.1 216.7 131.5 216.8 126.9 216.9 129.1 217.0 128.2 217.1 127.4 217.2 132.5 217.3 124.3 217.4 133.7 217.5 130.4 217.6 127.2 217.7 129.6 217.8 124.7 217.9 127.0 218.0 129.5 218.1 129.1 218.2 129.4 218.3 127.9 218.4 124.1 218.5 126.7 218.6 124.5 218.7 123.7 218.8 126.3 218.9 125.7 219.0 128.5 219.1 132.2 219.2 129.2 219.3 133.4 219.4 123.0 219.5 129.4 219.6 128.3 219.7 131.9 219.8 127.7 219.9 127.7 220.0 131.0 220.1 132.7 220.2 131.8 220.3 128.0 220.4 123.6 220.5 127.2 220.6 125.6 220.7 128.2 220.8 127.6 220.9 130.9 221.0 134.1 221.1 127.7 221.2 121.1 221.3 128.1 221.4 128.4 221.5 127.1 221.6 133.2 221.7 122.9 221.8 127.1 221.9 128.8 222.0 126.4 222.1 128.6 222.2 121.7 222.3 126.6 222.4 130.0 222.5 123.6 222.6 121.9 222.7 122.6 222.8 130.2 222.9 126.8 223.0 129.5 223.1 127.9 223.2 121.9 223.3 124.4 223.4 128.3 223.5 134.3 223.6 131.3 223.7 132.6 223.8 126.3 223.9 122.1 224.0 123.7 224.1 125.4 224.2 123.1 224.3 129.3 224.4 128.1 224.5 122.0 224.6 126.2 224.7 125.4 224.8 121.0 224.9 122.4 225.0 126.1 225.1 121.9 225.2 126.6 225.3 124.8 225.4 122.7 225.5 125.0 225.6 119.0 225.7 129.1 225.8 123.7 225.9 132.1 226.0 124.4 226.1 134.0 226.2 134.8 226.3 135.7 226.4 132.8 226.5 132.7 226.6 133.1 226.7 120.7 226.8 125.5 226.9 130.4 227.0 130.7 227.1 129.7 227.2 128.7 227.3 132.3 227.4 137.6 227.5 127.1 227.6 128.8 227.7 131.7 227.8 125.7 227.9 130.3 228.0 137.7 228.1 138.3 228.2 130.0 228.3 136.4 228.4 132.3 228.5 138.4 228.6 133.3 228.7 132.0 228.8 131.2 228.9 133.0 229.0 135.8 229.1 129.4 229.2 133.1 229.3 137.2 229.4 128.7 229.5 129.8 229.6 127.6 229.7 130.0 229.8 134.1 229.9 135.5 230.0 139.3 230.1 133.6 230.2 133.7 230.3 145.8 230.4 133.8 230.5 127.3 230.6 138.1 230.7 138.8 230.8 144.0 230.9 134.0 231.0 130.8 231.1 135.3 231.2 134.2 231.3 135.6 231.4 138.4 231.5 140.1 231.6 139.8 231.7 134.8 231.8 140.6 231.9 134.8 232.0 126.6 232.1 130.7 232.2 135.7 232.3 138.7 232.4 145.1 232.5 137.7 232.6 135.6 232.7 136.2 232.8 137.1 232.9 138.1 233.0 142.2 233.1 136.6 233.2 139.2 233.3 134.8 233.4 144.4 233.5 143.3 233.6 145.8 233.7 135.5 233.8 143.5 233.9 132.9 234.0 141.2 234.1 138.1 234.2 143.8 234.3 133.8 234.4 137.0 234.5 129.1 234.6 133.9 234.7 137.9 234.8 135.0 234.9 133.1 235.0 138.8 235.1 136.8 235.2 133.5 235.3 131.0 235.4 128.9 235.5 132.9 235.6 135.8 235.7 135.3 235.8 133.3 235.9 131.1 236.0 138.0 236.1 136.1 236.2 138.0 236.3 136.2 236.4 134.8 236.5 136.9 236.6 133.6 236.7 133.4 236.8 129.7 236.9 127.8 237.0 134.9 237.1 131.6 237.2 131.6 237.3 136.6 237.4 133.5 237.5 129.0 237.6 120.1 237.7 131.4 237.8 126.4 237.9 128.8 238.0 133.9 238.1 123.2 238.2 128.7 238.3 131.4 238.4 125.7 238.5 126.3 238.6 118.2 238.7 119.3 238.8 124.2 238.9 124.0 239.0 119.2 239.1 116.5 239.2 120.7 239.3 126.4 239.4 120.1 239.5 116.1 239.6 121.8 239.7 121.4 239.8 121.0 239.9 123.3 240.0 114.2 240.1 116.7 240.2 114.2 240.3 120.0 240.4 121.5 240.5 120.6 240.6 122.6 240.7 116.4 240.8 116.9 240.9 119.5 241.0 119.7 241.1 128.0 241.2 124.5 241.3 124.0 241.4 122.1 241.5 113.8 241.6 124.5 241.7 125.8 241.8 122.7 241.9 128.1 242.0 121.6 242.1 117.8 242.2 116.1 242.3 120.8 242.4 117.4 242.5 115.9 242.6 120.8 242.7 120.9 242.8 120.4 242.9 123.6 243.0 124.2 243.1 122.2 243.2 124.1 243.3 123.2 243.4 119.2 243.5 120.3 243.6 122.5 243.7 119.6 243.8 119.3 243.9 115.5 244.0 124.4 244.1 118.7 244.2 113.0 244.3 127.7 244.4 123.0 244.5 123.9 244.6 124.0 244.7 122.8 244.8 121.9 244.9 118.4 245.0 118.3 245.1 125.0 245.2 120.6 245.3 116.3 245.4 116.4 245.5 115.8 245.6 119.2 245.7 116.4 245.8 129.2 245.9 130.5 246.0 124.2 246.1 120.3 246.2 118.5 246.3 116.7 246.4 120.6 246.5 131.0 246.6 131.0 246.7 122.7 246.8 118.4 246.9 123.5 247.0 112.2 247.1 115.5 247.2 114.3 247.3 130.2 247.4 118.4 247.5 120.8 247.6 120.8 247.7 126.9 247.8 126.9 247.9 127.2 248.0 127.8 248.1 130.5 248.2 117.5 248.3 118.1 248.4 122.8 248.5 111.8 248.6 122.6 248.7 121.6 248.8 116.4 248.9 116.4 249.0 120.2 249.1 124.8 249.2 116.9 249.3 121.1 249.4 117.2 249.5 124.0 249.6 122.1 249.7 125.7 249.8 128.1 249.9 115.6 250.0 113.5 250.1 124.6 250.2 121.1 250.3 119.6 250.4 114.3 250.5 118.4 250.6 118.9 250.7 123.9 250.8 116.3 250.9 120.5 251.0 120.9 251.1 119.3 251.2 116.8 251.3 114.0 251.4 112.4 251.5 115.2 251.6 124.7 251.7 122.8 251.8 123.6 251.9 118.0 252.0 120.5 252.1 123.2 252.2 117.9 252.3 124.5 252.4 116.3 252.5 117.6 252.6 125.2 252.7 119.9 252.8 123.8 252.9 120.4 253.0 130.4 253.1 113.5 253.2 120.1 253.3 117.4 253.4 117.3 253.5 128.7 253.6 123.5 253.7 128.1 253.8 113.7 253.9 118.5 254.0 116.8 254.1 126.5 254.2 121.8 254.3 120.9 254.4 121.1 254.5 123.5 254.6 122.2 254.7 124.9 254.8 124.7 254.9 119.8 255.0 126.2 255.1 119.1 255.2 122.4 255.3 119.8 255.4 122.0 255.5 118.3 255.6 119.0 255.7 115.8 255.8 127.0 255.9 116.7 256.0 125.9 256.1 121.0 256.2 120.2 256.3 114.3 256.4 114.6 256.5 123.6 256.6 115.0 256.7 120.6 256.8 115.6 256.9 110.0 257.0 121.5 257.1 120.0 257.2 126.1 257.3 119.0 257.4 116.7 257.5 124.3 257.6 118.3 257.7 126.0 257.8 115.8 257.9 120.6 258.0 128.7 258.1 126.2 258.1 126.4 258.2 118.5 258.3 114.9 258.4 120.2 258.5 116.3 258.6 122.9 258.7 129.2 258.8 123.0 258.9 127.4 259.0 128.7 259.1 126.3 259.2 119.5 259.3 117.5 259.4 116.3 259.5 123.1 259.6 120.1 259.7 112.4 259.8 112.1 259.9 112.6 260.0 121.2 260.1 120.3 260.2 119.4 260.3 122.7 260.4 122.3 260.5 127.4 260.6 119.5 260.7 114.1 260.8 120.1 260.9 114.1 261.0 109.9 261.1 115.4 261.2 118.4 261.3 110.0 261.4 109.0 261.5 115.1 261.6 114.9 261.7 118.3 261.8 108.9 261.9 113.3 262.0 115.9 262.1 120.0 262.2 119.9 262.3 115.5 262.4 112.6 262.5 109.2 262.6 121.6 262.7 113.0 262.8 127.3 262.9 127.7 263.0 120.2 263.1 118.7 263.2 116.0 263.3 117.4 263.4 119.7 263.5 114.2 263.6 127.2 263.7 118.0 263.8 114.8 263.9 121.1 264.0 119.3 264.1 108.9 264.2 124.6 264.3 114.6 264.4 121.2 264.5 118.8 264.6 121.3 264.7 120.4 264.8 117.7 264.9 113.3 265.0 113.9 265.1 122.2 265.2 117.6 265.3 114.9 265.4 121.6 265.5 118.1 265.6 117.1 265.7 125.8 265.8 111.9 265.9 116.8 266.0 111.6 266.1 114.7 266.2 116.4 266.3 114.0 266.4 118.0 266.5 114.2 266.6 116.9 266.7 116.9 266.8 115.2 266.9 113.1 267.0 117.5 267.1 123.9 267.2 121.0 267.3 120.0 267.4 120.4 267.5 115.1 267.6 110.4 267.7 105.7 267.8 117.6 267.9 117.2 268.0 121.3 268.1 112.9 268.2 114.2 268.3 115.4 268.4 115.2 268.5 110.0 268.6 114.7 268.7 121.8 268.8 108.7 268.9 108.5 269.0 104.8 269.1 111.2 269.2 111.6 269.3 114.6 269.4 111.9 269.5 111.9 269.6 104.6 269.7 111.5 269.8 117.3 269.9 112.1 270.0 115.2 270.1 109.3 270.2 110.0 270.3 116.9 270.4 105.1 270.5 109.8 270.6 110.2 270.7 104.6 270.8 102.5 270.9 109.0 271.0 110.1 271.1 109.4 271.2 109.4 271.3 105.2 271.4 109.1 271.5 107.9 271.6 116.2 271.7 117.3 271.8 121.1 271.9 116.0 272.0 113.3 272.1 113.1 272.2 104.3 272.3 102.7 272.4 107.5 272.5 113.3 272.6 114.1 272.7 101.2 272.8 110.4 272.9 112.5 273.0 109.2 273.1 116.4 273.2 106.9 273.3 113.1 273.4 105.8 273.5 110.2 273.6 102.7 273.7 105.0 273.8 111.8 273.9 110.9 274.0 108.1 274.1 106.3 274.2 105.9 274.3 112.8 274.4 106.9 274.5 106.8 274.6 109.3 274.7 112.2 274.8 111.0 274.9 119.5 275.0 100.8 275.1 108.3 275.2 103.2 275.3 106.9 275.4 99.6 275.5 101.4 275.6 100.3 275.7 111.9 275.8 104.6 275.9 107.5 276.0 111.5 276.1 102.1 276.2 110.6 276.3 109.5 276.4 110.3 276.5 102.9 276.6 110.3 276.7 112.7 276.8 107.0 276.9 109.6 277.0 111.7 277.1 109.3 277.2 112.0 277.3 109.1 277.4 116.5 277.5 113.0 277.6 105.9 277.7 117.2 277.8 118.0 277.9 108.7 278.0 105.2 278.1 111.9 278.2 110.6 278.3 110.0 278.4 109.0 278.5 104.7 278.6 106.8 278.7 109.0 278.8 116.3 278.9 110.5 279.0 112.6 279.1 112.2 279.2 103.7 279.3 106.9 279.4 111.7 279.5 107.2 279.6 107.7 279.7 107.7 279.8 99.8 279.9 100.7 280.0 97.2 280.1 101.2 280.2 107.5 280.3 105.9 280.4 108.7 280.5 107.6 280.6 101.3 280.7 107.9 280.8 107.0 280.9 101.9 281.0 111.8 281.1 109.2 281.2 99.4 281.3 107.3 281.4 108.4 281.5 99.7 281.6 103.0 281.7 101.6 281.8 112.4 281.9 118.2 282.0 105.0 282.1 106.8 282.2 110.6 282.3 120.5 282.4 106.3 282.5 107.9 282.6 109.8 282.7 119.9 282.8 113.2 282.9 113.9 283.0 108.2 283.1 103.1 283.2 109.3 283.3 114.4 283.4 117.0 283.5 115.0 283.6 120.3 283.7 114.4 283.8 114.6 283.9 118.7 284.0 118.5 284.1 118.6 284.2 109.8 284.3 110.3 284.4 117.8 284.5 106.8 284.6 113.6 284.7 111.6 284.8 114.5 284.9 116.9 285.0 125.1 285.1 120.3 285.2 110.3 285.3 118.6 285.4 114.0 285.5 120.9 285.6 117.7 285.7 117.3 285.8 121.7 285.9 114.4 286.0 118.3 286.1 115.9 286.2 115.4 286.3 115.7 286.4 117.3 286.5 115.3 286.6 113.3 286.7 113.4 286.8 117.3 286.9 115.2 287.0 117.0 287.1 116.4 287.2 119.2 287.3 119.7 287.4 119.0 287.5 119.4 287.6 123.5 287.7 119.4 287.8 121.5 287.9 124.1 288.0 123.1 288.1 119.2 288.2 115.0 288.3 124.8 288.4 119.0 288.5 126.7 288.6 122.8 288.7 120.8 288.8 126.3 288.9 120.7 289.0 126.8 289.1 123.1 289.2 125.1 289.3 124.9 289.4 128.4 289.5 118.4 289.6 116.7 289.7 117.3 289.8 113.7 289.9 121.7 290.0 122.6 290.1 119.0 290.2 119.2 290.3 118.0 290.4 127.3 290.5 121.7 290.6 121.8 290.7 120.8 290.8 114.6 290.9 126.7 291.0 126.4 291.1 123.0 291.2 113.9 291.3 114.1 291.4 122.0 291.5 120.0 291.6 117.1 291.7 119.8 291.8 113.1 291.9 118.7 292.0 117.6 292.1 120.4 292.2 123.4 292.3 120.3 292.4 121.7 292.5 122.1 292.6 123.1 292.7 121.1 292.8 112.9 292.9 116.4 293.0 114.9 293.1 116.2 293.2 123.0 293.3 116.8 293.4 117.2 293.5 112.0 293.6 116.3 293.7 124.5 293.8 120.9 293.9 122.0 294.0 112.8 294.1 120.5 294.2 124.2 294.3 118.3 294.4 113.6 294.5 120.1 294.6 115.9 294.7 115.0 294.8 113.8 294.9 115.5 295.0 112.7 295.1 116.5 295.2 120.5 295.3 113.6 295.4 117.7 295.5 115.1 295.6 119.0 295.7 114.8 295.8 119.4 295.9 115.0 296.0 114.4 296.1 115.3 296.2 118.1 296.3 109.8 296.4 116.5 296.5 119.8 296.6 119.5 296.7 115.7 296.8 115.6 296.9 110.0 297.0 116.4 297.1 113.0 297.2 122.2 297.3 117.6 297.4 108.8 297.5 113.9 297.6 118.0 297.7 116.8 297.8 116.0 297.9 106.2 298.0 112.7 298.1 107.4 298.2 113.2 298.3 113.8 298.4 105.7 298.5 118.6 298.6 117.8 298.7 121.7 298.8 122.1 298.9 115.8 299.0 118.2 299.1 122.0 299.2 115.6 299.3 110.0 299.4 113.7 299.5 117.1 299.6 116.5 299.7 114.0 299.8 114.7 299.9 111.4 300.0 113.3 300.1 118.7 300.2 121.9 300.3 111.4 300.4 111.4 300.5 111.7 300.6 114.0 300.7 108.8 300.8 110.5 300.9 108.7 301.0 107.8 301.1 115.0 301.2 110.2 301.3 104.5 301.4 104.5 301.5 110.7 301.6 108.5 301.7 108.4 301.8 109.7 301.9 111.1 302.0 105.8 302.1 111.6 302.2 111.2 302.3 114.3 302.4 115.1 302.5 115.1 302.6 110.3 302.7 114.8 302.8 111.8 302.9 104.3 303.0 114.3 303.1 110.7 303.2 114.7 303.3 110.5 303.4 108.2 303.5 107.1 303.6 117.5 303.7 113.2 303.8 113.4 303.9 112.9 304.0 121.6 304.1 112.4 304.2 116.2 304.3 114.4 304.4 117.0 304.5 112.2 304.6 109.7 304.7 103.1 304.8 111.4 304.9 115.1 305.0 114.4 305.1 121.5 305.2 109.0 305.3 106.2 305.4 113.4 305.5 113.5 305.6 118.8 305.7 112.1 305.8 108.8 305.9 114.3 306.0 107.6 306.1 113.1 306.2 106.5 306.3 121.4 306.4 112.8 306.5 103.0 306.6 111.5 306.7 107.7 306.8 108.0 306.9 107.4 307.0 116.5 307.1 114.2 307.2 118.4 307.3 112.4 307.4 112.1 307.5 104.4 307.6 108.0 307.7 109.6 307.8 111.1 307.9 117.1 308.0 112.3 308.1 101.7 308.2 119.5 308.3 115.6 308.4 111.3 308.5 114.0 308.6 113.8 308.7 106.5 308.8 116.6 308.9 111.3 309.0 115.5 309.1 116.3 309.2 107.9 309.3 107.1 309.4 101.3 309.5 108.8 309.6 109.2 309.7 109.3 309.8 112.6 309.9 109.5 310.0 108.5 310.1 107.6 310.2 110.8 310.3 118.2 310.4 110.6 310.5 118.8 310.6 103.4 310.7 116.7 310.8 107.7 310.9 113.6 311.0 107.1 311.1 106.1 311.2 115.6 311.3 108.5 311.4 103.5 311.5 114.5 311.6 100.8 311.7 105.4 311.8 108.9 311.9 104.2 312.0 105.9 312.1 108.6 312.2 106.4 312.3 113.3 312.4 102.6 312.5 116.4 312.6 102.2 312.7 116.7 312.8 110.6 312.9 104.6 313.0 110.2 313.1 105.3 313.2 119.2 313.3 105.0 313.4 99.3 313.5 107.1 313.6 105.9 313.7 109.4 313.8 116.9 313.9 115.1 314.0 106.9 314.1 102.4 314.2 105.7 314.3 108.2 314.4 111.0 314.5 103.0 314.6 98.1 314.7 98.6 314.8 100.7 314.9 99.6 315.0 103.3 315.1 100.7 315.2 109.1 315.3 107.8 315.4 99.7 315.5 95.8 315.6 94.9 315.7 101.3 315.8 103.6 315.9 98.8 316.0 101.1 316.1 98.7 316.2 95.6 316.3 95.5 316.4 92.1 316.5 99.0 316.6 99.5 316.7 101.9 316.8 102.5 316.9 100.5 317.0 99.1 317.1 96.0 317.2 102.1 317.3 101.2 317.4 98.7 317.5 101.6 317.6 107.1 317.7 101.5 317.8 96.5 317.9 103.0 318.0 102.3 318.1 106.9 318.2 102.5 318.3 100.2 318.4 108.1 318.5 101.5 318.6 101.4 318.7 102.7 318.8 103.6 318.9 95.2 319.0 97.1 319.1 102.6 319.2 98.1 319.3 98.2 319.4 106.6 319.5 103.4 319.6 100.4 319.7 96.7 319.8 99.8 319.9 103.0 320.0 102.1 320.1 96.1 320.2 98.1 320.3 100.5 320.4 101.8 320.5 98.3 320.6 103.0 320.7 102.6 320.8 99.4 320.9 101.0 321.0 96.6 321.1 94.3 321.2 93.8 321.3 91.3 321.4 95.6 321.5 97.0 321.6 100.3 321.7 100.3 321.8 97.6 321.9 95.9 322.0 101.3 322.1 104.6 322.2 97.8 322.3 98.5 322.4 94.7 322.5 92.3 322.6 96.2 322.7 102.0 322.8 95.9 322.9 95.8 323.0 95.7 323.1 98.2 323.2 100.0 323.3 101.2 323.4 106.4 323.5 105.4 323.6 100.4 323.7 95.2 323.8 100.2 323.9 96.4 324.0 104.5 324.1 101.2 324.2 96.2 324.3 94.7 324.4 96.0 324.5 99.2 324.6 96.1 324.7 99.2 324.8 102.2 324.9 100.6 325.0 99.9 325.1 101.2 325.2 99.0 325.3 107.4 325.4 103.1 325.5 104.1 325.6 104.1 325.7 103.6 325.8 107.9 325.9 101.1 326.0 106.6 326.1 102.7 326.2 105.1 326.3 104.7 326.4 100.4 326.5 102.0 326.6 96.3 326.7 101.5 326.8 103.3 326.9 96.9 327.0 97.4 327.1 97.9 327.2 97.9 327.3 97.9 327.4 96.5 327.5 95.0 327.6 103.2 327.7 99.0 327.8 101.3 327.9 101.9 328.0 97.6 328.1 103.4 328.2 103.6 328.3 98.7 328.4 103.9 328.5 104.5 328.6 101.8 328.7 106.3 328.8 96.3 328.9 100.1 329.0 92.1 329.1 101.2 329.2 104.3 329.3 103.1 329.4 100.5 329.5 96.2 329.6 101.2 329.7 101.4 329.8 96.7 329.9 96.3 330.0 97.2 330.1 102.6 330.2 100.5 330.3 94.4 330.4 92.7 330.5 97.3 330.6 102.3 330.7 97.2 330.8 109.9 330.9 102.1 331.0 102.9 331.1 98.1 331.2 107.5 331.3 108.7 331.4 93.7 331.5 104.7 331.6 103.2 331.7 102.7 331.8 105.1 331.9 107.5 332.0 98.8 332.1 106.1 332.2 98.6 332.3 99.3 332.4 101.3 332.5 103.6 332.6 100.1 332.7 106.3 332.8 102.5 332.9 106.1 333.0 112.1 333.1 106.3 333.2 111.7 333.3 95.6 333.4 104.8 333.5 111.0 333.6 108.1 333.7 103.2 333.8 105.8 333.9 110.0 334.0 103.0 334.1 101.7 334.2 106.0 334.3 105.2 334.4 102.0 334.5 103.5 334.6 99.0 334.7 95.8 334.8 97.1 334.9 110.3 335.0 107.3 335.1 100.6 335.2 99.3 335.3 102.1 335.4 99.9 335.5 103.7 335.6 102.8 335.7 99.2 335.8 104.5 335.9 108.6 336.0 107.4 336.1 109.6 336.2 102.7 336.3 97.9 336.4 105.8 336.5 97.7 336.6 95.4 336.7 98.2 336.8 106.2 336.9 104.4 337.0 99.4 337.1 106.1 337.2 113.3 337.3 98.0 337.4 102.9 337.5 100.2 337.6 95.4 337.7 99.3 337.8 99.9 337.9 100.7 338.0 101.9 338.1 103.6 338.2 98.3 338.3 114.9 338.4 110.2 338.5 112.9 338.6 113.3 338.7 102.4 338.8 105.3 338.9 111.9 339.0 108.2 339.1 100.0 339.2 101.7 339.3 104.6 339.4 100.8 339.5 107.4 339.6 101.2 339.7 110.8 339.8 114.7 339.9 108.6 340.0 110.7 340.1 109.9 340.2 108.2 340.3 102.6 340.4 97.7 340.5 102.5 340.6 106.8 340.7 97.6 340.8 105.0 340.9 108.5 341.0 110.3 341.1 104.7 341.2 112.9 341.3 105.3 341.4 105.5 341.5 106.6 341.6 105.6 341.7 99.2 341.8 98.4 341.9 109.7 342.0 105.8 342.1 106.8 342.2 102.1 342.3 106.3 342.4 110.3 342.5 102.3 342.6 103.8 342.7 96.0 342.8 101.4 342.9 100.7 343.0 97.6 343.1 94.6 343.2 104.5 343.3 105.6 343.4 103.3 343.5 109.1 343.6 104.9 343.7 111.0 343.8 110.0 343.9 111.7 344.0 103.3 344.1 112.6 344.2 106.2 344.3 100.9 344.4 104.1 344.5 107.6 344.6 110.2 344.7 103.0 344.8 105.7 344.9 105.4 345.0 107.6 345.1 97.9 345.2 103.1 345.3 98.9 345.4 100.3 345.5 101.3 345.5 94.9 345.6 100.1 345.7 101.2 345.8 107.7 345.9 99.3 346.0 111.5 346.1 100.6 346.2 104.7 346.3 109.7 346.4 103.1 346.5 103.6 346.6 106.2 346.7 114.2 346.8 104.5 346.9 108.3 347.0 110.1 347.1 100.4 347.2 101.2 347.3 107.4 347.4 113.3 347.5 110.2 347.6 106.3 347.7 105.9 347.8 106.6 347.9 111.7 348.0 102.3 348.1 113.0 348.2 108.8 348.3 96.6 348.4 103.6 348.5 102.8 348.6 100.5 348.7 96.9 348.8 104.9 348.9 102.3 349.0 105.3 349.1 110.2 349.2 105.3 349.3 110.1 349.4 97.4 349.5 106.5 349.6 109.0 349.7 102.0 349.8 99.9 349.9 103.2 350.0 107.3 350.1 105.9 350.2 114.7 350.3 105.4 350.4 100.6 350.5 104.7 350.6 102.9 350.7 103.3 350.8 107.0 350.9 103.2 351.0 103.0 351.1 102.6 351.2 108.0 351.3 112.9 351.4 110.1 351.5 100.7 351.6 109.6 351.7 105.4 351.8 111.8 351.9 108.5 352.0 105.6 352.1 104.4 352.2 112.0 352.3 107.5 352.4 109.4 352.5 113.2 352.6 114.3 352.7 115.2 352.8 117.0 352.9 114.5 353.0 108.1 353.1 113.0 353.2 111.2 353.3 109.4 353.4 112.9 353.5 108.9 353.6 108.7 353.7 110.7 353.8 105.8 353.9 115.4 354.0 113.4 354.1 111.1 354.2 108.7 354.3 106.8 354.4 112.7 354.5 110.1 354.6 112.5 354.7 113.4 354.8 106.7 354.9 111.4 355.0 110.4 355.1 114.0 355.2 111.8 355.3 118.0 355.4 110.5 355.5 110.8 355.6 106.1 355.7 107.7 355.8 108.0 355.9 109.3 356.0 105.9 356.1 107.4 356.2 108.4 356.3 114.2 356.4 111.1 356.5 111.5 356.6 114.4 356.7 110.9 356.8 113.6 356.9 112.9 357.0 115.6 357.1 109.5 357.2 116.3 357.3 107.8 357.4 107.9 357.5 110.5 357.6 110.4 357.7 107.2 357.8 109.8 357.9 112.9 358.0 108.5 358.1 109.5 358.2 111.0 358.3 117.4 358.4 114.4 358.5 114.4 358.6 111.0 358.7 108.0 358.8 106.9 358.9 109.6 359.0 110.1 359.1 107.3 359.2 104.2 359.3 109.1 359.4 113.2 359.5 111.1 359.6 111.1 359.7 106.6 359.8 110.4 359.9 108.1 360.0 110.7 360.1 107.8 360.2 111.6 360.3 112.9 360.4 116.9 360.5 108.9 360.6 112.9 360.7 112.4 360.8 112.7 360.9 116.7 361.0 111.2 361.1 114.6 361.2 111.0 361.3 110.5 361.4 108.8 361.5 103.1 361.6 106.6 361.7 105.9 361.8 109.1 361.9 110.3 362.0 115.0 362.1 112.4 362.2 114.3 362.3 112.3 362.4 112.2 362.5 113.1 362.6 106.7 362.7 111.6 362.8 102.4 362.9 106.8 363.0 106.3 363.1 102.3 363.2 107.5 363.3 107.3 363.4 106.7 363.5 105.7 363.6 103.7 363.7 108.7 363.8 108.7 363.9 108.7 364.0 111.8 364.1 106.1 364.2 106.4 364.3 101.7 364.4 107.4 364.5 104.7 364.6 105.2 364.7 104.9 364.8 104.8 364.9 107.2 365.0 104.6 365.1 105.3 365.2 107.6 365.3 106.5 365.4 105.7 365.5 103.9 365.6 104.6 365.7 110.2 365.8 101.2 365.9 112.0 366.0 108.5 366.1 106.2 366.2 106.0 366.3 102.7 366.4 101.5 366.5 103.0 366.6 105.7 366.7 108.1 366.8 107.9 366.9 108.3 367.0 107.5 367.1 113.0 367.2 108.5 367.3 106.1 367.4 111.8 367.5 109.3 367.6 110.4 367.7 104.6 367.8 104.6 367.9 104.4 368.0 109.2 368.1 110.5 368.2 103.2 368.3 103.0 368.4 103.6 368.5 110.7 368.6 116.0 368.7 104.8 368.8 104.5 368.9 107.9 369.0 111.3 369.1 108.0 369.2 103.5 369.3 111.1 369.4 109.4 369.5 114.2 369.6 109.3 369.7 115.4 369.8 113.5 369.9 110.2 370.0 108.2 370.1 108.1 370.2 112.5 370.3 111.6 370.4 109.3 370.5 107.2 370.6 112.1 370.7 110.1 370.8 110.1 370.9 110.8 371.0 113.5 371.1 114.0 371.2 115.0 371.3 112.3 371.4 112.0 371.5 103.8 371.6 105.6 371.7 108.1 371.8 108.3 371.9 112.9 372.0 117.9 372.1 116.8 372.2 112.9 372.3 110.7 372.4 115.2 372.5 106.8 372.6 111.5 372.7 113.0 372.8 115.4 372.9 109.5 373.0 111.6 373.1 114.1 373.2 114.1 373.3 115.5 373.4 117.2 373.5 114.0 373.6 113.2 373.7 113.1 373.8 115.0 373.9 115.3 374.0 120.8 374.1 125.4 374.2 121.1 374.3 124.3 374.4 120.2 374.5 119.3 374.6 121.6 374.7 121.6 374.8 123.1 374.9 121.8 375.0 121.3 375.1 117.3 375.2 117.8 375.3 115.5 375.4 115.0 375.5 121.3 375.6 117.2 375.7 119.7 375.8 124.0 375.9 121.3 376.0 123.2 376.1 117.6 376.2 124.0 376.3 126.0 376.4 122.1 376.5 117.3 376.6 124.3 376.7 121.3 376.8 120.9 376.9 122.0 377.0 121.1 377.1 123.1 377.2 122.7 377.3 127.5 377.4 128.6 377.5 128.6 377.6 128.6 377.7 122.5 377.8 122.2 377.9 123.3 378.0 120.7 378.1 121.6 378.2 122.0 378.3 120.8 378.4 122.6 378.5 123.1 378.6 121.8 378.7 119.4 378.8 119.5 378.9 121.7 379.0 125.0 379.1 119.7 379.2 118.9 379.3 122.4 379.4 124.3 379.5 123.5 379.6 120.4 379.7 126.6 379.8 119.0 379.9 116.8 380.0 117.8 380.1 113.1 380.2 113.4 380.3 118.0 380.4 122.0 380.5 118.2 380.6 116.6 380.7 111.3 380.8 110.6 380.9 109.5 381.0 113.1 381.1 112.8 381.2 117.0 381.3 114.9 381.4 116.3 381.5 119.2 381.6 114.6 381.7 118.2 381.8 105.6 381.9 116.1 382.0 108.8 382.1 107.0 382.2 104.1 382.3 106.7 382.4 100.9 382.5 102.6 382.6 100.7 382.7 105.0 382.8 107.8 382.9 108.9 383.0 111.4 383.1 105.9 383.2 112.0 383.3 102.5 383.4 107.2 383.5 107.8 383.6 111.1 383.7 109.5 383.8 109.1 383.9 102.6 384.0 109.8 384.1 106.3 384.2 106.0 384.3 108.5 384.4 102.1 384.5 112.9 384.6 106.3 384.7 107.6 384.8 111.7 384.9 104.8 385.0 104.1 385.1 106.9 385.2 106.8 385.3 98.9 385.4 103.6 385.5 105.6 385.6 97.8 385.7 104.9 385.8 107.1 385.9 107.0 386.0 110.7 386.1 108.5 386.2 104.9 386.3 106.3 386.4 107.4 386.5 108.6 386.6 107.1 386.7 106.2 386.8 102.2 386.9 107.0 387.0 109.0 387.1 103.6 387.2 107.1 387.3 105.0 387.4 107.0 387.5 102.9 387.6 102.0 387.7 105.3 387.8 96.7 387.9 96.6 388.0 103.2 388.1 106.2 388.2 110.9 388.3 107.8 388.4 109.2 388.5 105.2 388.6 101.1 388.7 100.0 388.8 103.5 388.9 105.8 389.0 107.7 389.1 105.8 389.2 101.1" fill="none" stroke="#0000ff" stroke-width="0.6" stroke-linejoin="round"/>
<path d="M39.7 155.6L39.8 184.8 39.9 159.8 40.0 155.9 40.1 169.5 40.2 162.1 40.3 171.5 40.4 175.5 40.5 158.3 40.6 131.0 40.7 153.8 40.8 149.2 40.9 128.1 41.0 137.9 41.1 201.7 41.2 163.4 41.3 165.6 41.4 164.7 41.5 151.9 41.6 156.9 41.7 163.0 41.8 141.4 41.9 135.5 42.0 173.9 42.1 177.2 42.2 168.3 42.3 149.6 42.4 135.2 42.5 170.9 42.6 143.7 42.7 156.5 42.8 147.0 42.9 146.4 43.0 127.2 43.1 148.7 43.2 139.7 43.3 164.0 43.4 174.3 43.5 154.4 43.6 148.2 43.7 154.1 43.8 148.3 43.9 125.8 44.0 153.8 44.1 135.2 44.2 170.6 44.3 134.3 44.4 140.2 44.5 135.2 44.6 124.0 44.7 143.4 44.8 151.8 44.9 168.6 45.0 136.1 45.1 135.5 45.2 150.3 45.3 152.7 45.4 157.6 45.5 142.2 45.6 140.9 45.7 138.3 45.8 152.4 45.9 159.7 46.0 140.5 46.1 143.7 46.2 153.5 46.3 143.3 46.4 141.9 46.5 155.5 46.6 151.0 46.7 154.8 46.8 142.8 46.9 134.3 47.0 138.4 47.1 145.5 47.2 148.2 47.3 146.9 47.4 147.2 47.5 136.3 47.6 131.5 47.7 143.2 47.8 138.3 47.9 130.5 48.0 137.4 48.1 132.4 48.2 141.2 48.3 143.7 48.4 138.7 48.5 137.9 48.6 148.9 48.7 138.5 48.8 141.5 48.9 142.0 49.0 140.9 49.1 138.7 49.2 148.7 49.3 140.9 49.4 131.1 49.5 135.0 49.6 130.2 49.7 143.7 49.8 133.6 49.9 135.1 50.0 126.4 50.1 138.5 50.2 133.5 50.3 138.6 50.4 140.9 50.5 140.1 50.6 132.5 50.7 126.1 50.8 132.4 50.9 139.1 51.0 135.4 51.1 134.7 51.2 133.2 51.3 137.5 51.4 142.8 51.5 136.8 51.6 138.6 51.7 136.8 51.8 140.0 51.9 143.5 52.0 137.9 52.1 139.0 52.2 131.6 52.3 142.6 52.4 134.8 52.5 126.8 52.6 128.6 52.7 138.8 52.8 137.0 52.9 140.3 53.0 142.3 53.1 127.6 53.2 133.5 53.3 144.0 53.4 144.2 53.5 134.2 53.6 139.0 53.7 147.2 53.8 146.5 53.9 133.7 54.0 137.4 54.1 134.6 54.2 144.7 54.3 140.9 54.4 133.7 54.5 143.6 54.6 139.7 54.7 128.9 54.8 138.8 54.9 136.8 55.0 137.3 55.1 144.8 55.2 141.0 55.3 148.7 55.4 137.8 55.5 143.9 55.6 142.3 55.7 148.8 55.8 133.1 55.9 134.5 56.0 138.8 56.1 127.6 56.2 142.1 56.3 140.5 56.4 144.2 56.5 123.8 56.6 149.2 56.7 140.1 56.8 135.5 56.9 126.3 57.0 128.6 57.1 127.1 57.2 135.0 57.3 124.3 57.4 137.1 57.5 135.2 57.6 123.1 57.7 136.0 57.8 130.0 57.9 125.5 58.0 133.0 58.1 142.4 58.2 133.5 58.3 127.2 58.4 137.2 58.5 132.3 58.6 130.6 58.7 140.1 58.8 124.8 58.9 132.3 59.0 134.3 59.1 142.2 59.2 142.9 59.3 138.7 59.4 132.8 59.5 137.6 59.6 137.2 59.7 124.0 59.8 138.9 59.9 137.1 60.0 139.2 60.1 145.6 60.2 144.2 60.3 147.8 60.4 134.4 60.5 140.2 60.6 138.2 60.7 127.7 60.8 147.1 60.9 132.4 61.0 138.1 61.1 146.8 61.2 141.0 61.3 141.1 61.4 132.6 61.5 136.9 61.6 142.2 61.7 151.1 61.8 151.1 61.9 145.9 62.0 145.4 62.1 135.0 62.2 144.1 62.3 138.4 62.4 134.8 62.5 142.4 62.6 136.7 62.7 141.5 62.8 140.4 62.9 139.1 63.0 133.4 63.1 133.0 63.2 147.8 63.3 147.2 63.4 133.7 63.5 136.2 63.6 146.7 63.7 133.9 63.8 142.2 63.9 135.9 64.0 135.2 64.1 149.3 64.2 152.3 64.3 144.0 64.4 139.7 64.5 137.8 64.6 138.8 64.7 151.3 64.8 143.7 64.9 130.0 65.0 150.6 65.1 139.1 65.2 145.7 65.3 148.0 65.4 137.9 65.5 131.2 65.6 141.7 65.7 143.0 65.8 137.1 65.9 139.3 66.0 141.9 66.1 134.3 66.2 137.4 66.3 137.7 66.4 133.7 66.5 141.7 66.6 135.3 66.7 139.7 66.8 143.2 66.9 142.3 67.0 134.6 67.1 134.4 67.2 140.1 67.3 144.6 67.4 132.4 67.5 144.6 67.6 147.6 67.7 144.1 67.8 135.3 67.9 143.9 68.0 141.5 68.1 133.2 68.2 140.0 68.3 140.7 68.4 135.5 68.5 144.3 68.6 140.4 68.7 144.6 68.8 147.3 68.9 146.3 69.0 144.3 69.1 138.7 69.2 140.6 69.3 140.1 69.4 145.5 69.5 154.0 69.6 143.7 69.7 140.0 69.8 144.7 69.9 148.6 70.0 134.4 70.1 141.6 70.2 148.4 70.3 143.1 70.4 141.9 70.5 139.5 70.6 137.7 70.7 132.7 70.8 137.8 70.9 145.2 71.0 143.6 71.1 138.1 71.2 143.7 71.3 141.6 71.4 143.3 71.5 136.5 71.6 140.6 71.7 137.1 71.8 145.5 71.9 141.0 72.0 150.0 72.1 147.3 72.2 143.3 72.3 147.6 72.4 143.5 72.5 136.3 72.6 131.3 72.7 127.5 72.8 127.4 72.9 138.8 73.0 138.2 73.1 147.0 73.2 141.6 73.3 137.1 73.4 147.3 73.5 140.0 73.6 139.8 73.7 139.7 73.8 146.9 73.9 137.4 74.0 134.6 74.1 135.0 74.2 138.8 74.3 130.6 74.4 138.1 74.5 137.1 74.6 138.0 74.7 133.3 74.8 132.4 74.9 133.5 75.0 148.5 75.1 129.9 75.2 134.4 75.3 135.0 75.4 135.1 75.5 140.8 75.6 140.1 75.7 137.9 75.8 136.3 75.9 130.4 76.0 134.3 76.1 144.3 76.2 138.7 76.3 125.2 76.4 138.7 76.5 139.2 76.6 142.7 76.7 142.6 76.8 138.7 76.9 143.8 77.0 133.2 77.1 132.6 77.2 128.7 77.3 139.6 77.4 125.6 77.5 136.0 77.6 134.4 77.7 129.8 77.8 130.3 77.9 127.6 78.0 124.5 78.1 126.1 78.2 132.1 78.3 129.4 78.4 132.4 78.5 130.5 78.6 142.4 78.7 138.4 78.8 136.8 78.9 140.5 79.0 121.4 79.1 129.5 79.2 144.9 79.3 134.9 79.4 133.5 79.5 141.8 79.6 134.8 79.7 136.5 79.8 132.8 79.9 124.0 80.0 133.7 80.1 133.6 80.2 124.9 80.3 122.9 80.4 123.7 80.5 125.8 80.6 119.4 80.7 133.1 80.8 134.2 80.9 123.0 81.0 124.5 81.1 122.7 81.2 121.9 81.3 135.7 81.4 132.4 81.5 126.6 81.6 132.6 81.7 129.3 81.8 127.7 81.9 122.8 82.0 126.4 82.1 122.7 82.2 130.7 82.3 124.5 82.4 121.8 82.5 126.2 82.6 140.8 82.7 123.5 82.8 131.1 82.9 137.3 83.0 133.9 83.1 138.1 83.2 128.0 83.3 127.9 83.4 127.7 83.4 127.0 83.5 123.6 83.6 139.1 83.7 135.7 83.8 140.3 83.9 132.7 84.0 130.9 84.1 125.2 84.2 130.4 84.3 133.7 84.4 135.8 84.5 130.8 84.6 118.1 84.7 129.3 84.8 134.1 84.9 132.2 85.0 125.0 85.1 126.8 85.2 130.2 85.3 125.7 85.4 126.7 85.5 127.7 85.6 120.7 85.7 116.9 85.8 119.3 85.9 122.0 86.0 129.6 86.1 133.6 86.2 126.8 86.3 117.3 86.4 116.9 86.5 124.4 86.6 123.0 86.7 136.4 86.8 132.3 86.9 131.4 87.0 132.8 87.1 129.0 87.2 128.9 87.3 132.2 87.4 130.7 87.5 128.6 87.6 125.2 87.7 119.8 87.8 135.5 87.9 128.5 88.0 130.1 88.1 134.9 88.2 134.1 88.3 138.3 88.4 135.9 88.5 132.6 88.6 122.5 88.7 133.4 88.8 120.9 88.9 122.5 89.0 116.9 89.1 121.6 89.2 118.6 89.3 116.9 89.4 135.4 89.5 128.5 89.6 135.0 89.7 127.4 89.8 124.7 89.9 127.2 90.0 125.3 90.1 125.4 90.2 129.8 90.3 130.2 90.4 133.6 90.5 137.1 90.6 138.8 90.7 132.1 90.8 128.9 90.9 131.4 91.0 132.6 91.1 142.4 91.2 138.6 91.3 130.7 91.4 142.2 91.5 135.1 91.6 137.6 91.7 131.6 91.8 136.6 91.9 142.6 92.0 138.2 92.1 131.7 92.2 133.2 92.3 130.4 92.4 136.7 92.5 135.0 92.6 132.0 92.7 138.2 92.8 142.5 92.9 134.1 93.0 136.7 93.1 143.3 93.2 132.6 93.3 144.8 93.4 132.9 93.5 127.0 93.6 134.8 93.7 143.6 93.8 135.2 93.9 126.8 94.0 136.1 94.1 140.0 94.2 140.2 94.3 140.3 94.4 139.4 94.5 132.3 94.6 139.1 94.7 151.9 94.8 144.4 94.9 147.8 95.0 132.0 95.1 141.8 95.2 146.7 95.3 139.1 95.4 141.6 95.5 151.0 95.6 132.7 95.7 137.4 95.8 142.2 95.9 150.6 96.0 148.2 96.1 136.6 96.2 136.0 96.3 144.5 96.4 140.2 96.5 138.2 96.6 140.3 96.7 140.8 96.8 137.3 96.9 141.3 97.0 142.6 97.1 150.8 97.2 139.5 97.3 127.9 97.4 127.7 97.5 133.4 97.6 143.0 97.7 145.6 97.8 137.0 97.9 135.3 98.0 134.1 98.1 136.8 98.2 142.4 98.3 134.4 98.4 136.4 98.5 130.6 98.6 135.8 98.7 130.8 98.8 132.5 98.9 142.3 99.0 140.2 99.1 137.6 99.2 140.1 99.3 132.9 99.4 140.1 99.5 133.1 99.6 136.3 99.7 139.5 99.8 140.1 99.9 137.0 100.0 133.0 100.1 138.3 100.2 131.0 100.3 129.6 100.4 134.2 100.5 140.0 100.6 137.3 100.7 133.8 100.8 139.5 100.9 131.3 101.0 121.8 101.1 124.2 101.2 129.0 101.3 121.5 101.4 122.2 101.5 125.7 101.6 125.7 101.7 136.4 101.8 123.4 101.9 142.5 102.0 133.1 102.1 137.9 102.2 139.8 102.3 140.2 102.4 122.0 102.5 125.8 102.6 138.1 102.7 136.1 102.8 122.0 102.9 134.8 103.0 125.9 103.1 121.8 103.2 128.9 103.3 121.9 103.4 131.2 103.5 136.1 103.6 135.2 103.7 137.8 103.8 133.3 103.9 140.6 104.0 130.4 104.1 132.8 104.2 134.0 104.3 130.7 104.4 133.0 104.5 138.3 104.6 132.5 104.7 134.7 104.8 141.0 104.9 130.8 105.0 139.2 105.1 132.3 105.2 131.0 105.3 129.2 105.4 130.6 105.5 127.8 105.6 130.6 105.7 135.9 105.8 132.2 105.9 136.7 106.0 141.0 106.1 131.3 106.2 134.9 106.3 133.7 106.4 127.7 106.5 131.7 106.6 130.4 106.7 125.3 106.8 132.4 106.9 126.3 107.0 126.2 107.1 122.4 107.2 126.1 107.3 124.2 107.4 127.6 107.5 128.9 107.6 124.1 107.7 122.4 107.8 136.0 107.9 126.5 108.0 132.8 108.1 133.0 108.2 133.7 108.3 129.5 108.4 138.7 108.5 130.5 108.6 135.4 108.7 130.0 108.8 129.4 108.9 127.2 109.0 137.7 109.1 124.8 109.2 127.9 109.3 124.9 109.4 127.7 109.5 135.1 109.6 139.3 109.7 133.2 109.8 124.6 109.9 128.8 110.0 129.4 110.1 133.7 110.2 129.5 110.3 137.0 110.4 124.0 110.5 131.0 110.6 132.8 110.7 131.5 110.8 123.2 110.9 131.5 111.0 131.0 111.1 127.5 111.2 138.6 111.3 133.8 111.4 124.4 111.5 129.6 111.6 130.0 111.7 131.8 111.8 130.5 111.9 135.1 112.0 129.6 112.1 132.5 112.2 129.8 112.3 126.2 112.4 127.7 112.5 128.9 112.6 131.6 112.7 129.4 112.8 132.7 112.9 125.6 113.0 130.3 113.1 125.5 113.2 132.8 113.3 129.9 113.4 130.4 113.5 126.8 113.6 125.8 113.7 131.7 113.8 124.0 113.9 126.0 114.0 134.9 114.1 132.3 114.2 131.7 114.3 136.0 114.4 129.7 114.5 137.0 114.6 130.4 114.7 137.1 114.8 133.1 114.9 125.8 115.0 131.0 115.1 126.0 115.2 122.6 115.3 127.4 115.4 125.9 115.5 131.6 115.6 132.0 115.7 133.4 115.8 131.2 115.9 129.1 116.0 125.9 116.1 127.0 116.2 123.1 116.3 128.0 116.4 133.3 116.5 129.9 116.6 130.0 116.7 135.0 116.8 133.8 116.9 128.6 117.0 127.4 117.1 128.4 117.2 135.1 117.3 129.4 117.4 134.6 117.5 125.4 117.6 129.8 117.7 123.9 117.8 129.6 117.9 135.3 118.0 126.3 118.1 129.0 118.2 133.1 118.3 131.3 118.4 132.9 118.5 125.0 118.6 125.0 118.7 130.3 118.8 133.1 118.9 127.5 119.0 128.5 119.1 131.8 119.2 139.1 119.3 137.4 119.4 132.0 119.5 135.2 119.6 130.3 119.7 135.9 119.8 131.9 119.9 131.8 120.0 128.3 120.1 128.1 120.2 130.2 120.3 125.5 120.4 129.4 120.5 127.0 120.6 136.6 120.7 125.6 120.8 128.4 120.9 136.0 121.0 135.9 121.1 137.5 121.2 133.8 121.3 135.0 121.4 131.5 121.5 128.8 121.6 121.6 121.7 129.2 121.8 129.9 121.9 124.9 122.0 123.4 122.1 118.4 122.2 129.8 122.3 120.1 122.4 125.4 122.5 131.9 122.6 137.3 122.7 134.9 122.8 129.1 122.9 132.3 123.0 125.1 123.1 124.2 123.2 136.3 123.3 132.1 123.4 135.2 123.5 135.1 123.6 126.0 123.7 137.3 123.8 131.5 123.9 128.9 124.0 123.0 124.1 123.1 124.2 124.5 124.3 120.7 124.4 120.7 124.5 134.0 124.6 125.3 124.7 135.6 124.8 136.3 124.9 133.3 125.0 134.2 125.1 136.3 125.2 117.9 125.3 135.1 125.4 127.7 125.5 124.1 125.6 116.7 125.7 129.3 125.8 119.7 125.9 131.3 126.0 122.1 126.1 123.7 126.2 131.3 126.3 130.6 126.4 120.1 126.5 114.3 126.6 120.5 126.7 126.3 126.8 127.7 126.9 125.5 127.0 121.6 127.1 121.4 127.2 123.2 127.3 130.7 127.4 122.9 127.5 126.1 127.6 116.6 127.7 127.7 127.8 122.2 127.9 120.4 128.0 112.8 128.1 113.7 128.2 129.3 128.3 132.1 128.4 127.5 128.5 125.4 128.6 134.3 128.7 121.5 128.8 121.7 128.9 115.7 129.0 121.4 129.1 115.4 129.2 118.6 129.3 118.1 129.4 112.4 129.5 122.6 129.6 117.4 129.7 124.3 129.8 116.8 129.9 121.8 130.0 131.3 130.1 135.0 130.2 125.8 130.3 117.6 130.4 121.5 130.5 134.0 130.6 129.8 130.7 112.1 130.8 128.8 130.9 131.2 131.0 120.6 131.1 122.1 131.2 115.2 131.3 117.8 131.4 121.0 131.5 117.4 131.6 127.8 131.7 120.3 131.8 126.7 131.9 130.4 132.0 134.9 132.1 134.3 132.2 120.5 132.3 120.2 132.4 133.4 132.5 132.6 132.6 123.8 132.7 128.8 132.8 116.0 132.9 122.3 133.0 118.4 133.1 124.3 133.2 123.1 133.3 118.9 133.4 111.8 133.5 126.9 133.6 111.7 133.7 123.0 133.8 112.5 133.9 121.4 134.0 123.7 134.1 114.1 134.2 117.2 134.3 120.6 134.4 123.0 134.5 120.1 134.6 127.4 134.7 118.2 134.8 123.7 134.9 121.3 135.0 126.8 135.1 123.8 135.2 118.0 135.3 119.5 135.4 122.1 135.5 123.2 135.6 129.0 135.7 122.2 135.8 113.5 135.9 118.6 136.0 122.7 136.1 116.7 136.2 124.3 136.3 115.4 136.4 110.2 136.5 118.5 136.6 114.0 136.7 110.0 136.8 116.7 136.9 115.0 137.0 120.6 137.1 125.1 137.2 112.3 137.3 125.4 137.4 121.8 137.5 120.2 137.6 121.4 137.7 125.5 137.8 122.6 137.9 116.6 138.0 110.9 138.1 124.6 138.2 114.7 138.3 122.7 138.4 123.3 138.5 121.3 138.6 118.8 138.7 118.1 138.8 123.1 138.9 108.7 139.0 117.1 139.1 115.4 139.2 119.6 139.3 109.9 139.4 117.2 139.5 124.0 139.6 126.2 139.7 118.6 139.8 123.6 139.9 126.2 140.0 126.9 140.1 119.2 140.2 115.7 140.3 115.5 140.4 111.1 140.5 109.8 140.6 121.9 140.7 121.2 140.8 113.5 140.9 118.1 141.0 107.4 141.1 109.5 141.2 119.3 141.3 111.4 141.4 110.6 141.5 117.0 141.6 115.0 141.7 115.8 141.8 112.7 141.9 115.7 142.0 115.0 142.1 114.5 142.2 115.5 142.3 117.3 142.4 110.4 142.5 118.5 142.6 119.0 142.7 123.5 142.8 118.4 142.9 112.7 143.0 111.0 143.1 110.3 143.2 111.2 143.3 107.3 143.4 109.1 143.5 113.3 143.6 114.2 143.7 114.7 143.8 111.4 143.9 106.8 144.0 110.4 144.1 110.4 144.2 111.6 144.3 119.1 144.4 118.7 144.5 117.4 144.6 110.1 144.7 109.3 144.8 118.1 144.9 118.1 145.0 115.5 145.1 103.7 145.2 109.1 145.3 113.2 145.4 114.3 145.5 107.6 145.6 115.0 145.7 102.6 145.8 109.1 145.9 114.9 146.0 108.6 146.1 108.8 146.2 110.0 146.3 109.6 146.4 122.6 146.5 115.7 146.6 112.4 146.7 113.1 146.8 102.0 146.9 102.5 147.0 119.9 147.1 116.8 147.2 108.3 147.3 119.7 147.4 115.0 147.5 115.9 147.6 113.1 147.7 116.9 147.8 105.1 147.9 107.4 148.0 105.7 148.1 109.7 148.2 108.5 148.3 106.1 148.4 114.8 148.5 111.7 148.6 120.9 148.7 115.3 148.8 110.5 148.9 108.2 149.0 116.0 149.1 114.2 149.2 103.4 149.3 104.5 149.4 112.7 149.5 109.1 149.6 122.1 149.7 116.5 149.8 103.3 149.9 105.1 150.0 121.2 150.1 116.3 150.2 117.5 150.3 113.9 150.4 114.1 150.5 107.7 150.6 103.0 150.7 111.9 150.8 108.2 150.9 102.0 151.0 105.4 151.1 107.8 151.2 105.6 151.3 106.2 151.4 101.5 151.5 112.0 151.6 111.5 151.7 111.5 151.8 113.4 151.9 105.8 152.0 101.6 152.1 105.5 152.2 111.2 152.3 114.9 152.4 108.1 152.5 106.4 152.6 108.9 152.7 119.2 152.8 117.2 152.9 98.2 153.0 113.5 153.1 111.5 153.2 111.1 153.3 117.1 153.4 102.6 153.5 104.6 153.6 115.9 153.7 114.2 153.8 113.9 153.9 104.4 154.0 110.2 154.1 107.1 154.2 103.3 154.3 110.9 154.4 121.1 154.5 118.6 154.6 107.9 154.7 121.2 154.8 113.1 154.9 110.2 155.0 113.8 155.1 109.8 155.2 115.0 155.3 114.3 155.4 114.6 155.5 115.8 155.6 119.0 155.7 107.2 155.8 118.0 155.9 104.8 156.0 112.6 156.1 108.6 156.2 113.8 156.3 119.0 156.4 108.4 156.5 109.2 156.6 102.1 156.7 108.4 156.8 104.9 156.9 102.4 157.0 110.9 157.1 112.8 157.2 116.1 157.3 104.8 157.4 107.7 157.5 109.5 157.6 115.0 157.7 118.1 157.8 117.0 157.9 112.4 158.0 119.8 158.1 113.9 158.2 127.7 158.3 110.0 158.4 118.8 158.5 128.0 158.6 122.1 158.7 116.1 158.8 115.0 158.9 128.4 159.0 128.4 159.1 120.4 159.2 125.8 159.3 117.4 159.4 119.5 159.5 110.7 159.6 117.4 159.7 116.5 159.8 115.5 159.9 111.0 160.0 116.6 160.1 112.1 160.2 113.4 160.3 108.2 160.4 121.5 160.5 116.7 160.6 112.0 160.7 117.7 160.8 129.1 160.9 118.2 161.0 119.8 161.1 112.9 161.2 121.1 161.3 114.0 161.4 120.9 161.5 115.7 161.6 129.8 161.7 125.9 161.8 125.0 161.9 129.7 162.0 118.2 162.1 119.0 162.2 115.6 162.3 125.0 162.4 127.9 162.5 122.4 162.6 125.5 162.7 116.1 162.8 119.7 162.9 130.9 163.0 123.4 163.1 120.9 163.2 124.6 163.3 127.6 163.4 128.5 163.5 125.3 163.6 118.0 163.7 118.0 163.8 124.4 163.9 125.1 164.0 123.9 164.1 115.9 164.2 125.7 164.3 113.8 164.4 113.7 164.5 130.6 164.6 120.4 164.7 121.9 164.8 126.2 164.9 129.3 165.0 122.9 165.1 120.8 165.2 116.4 165.3 119.9 165.4 123.6 165.5 118.3 165.6 119.3 165.7 116.8 165.8 122.2 165.9 118.5 166.0 120.6 166.1 125.2 166.2 130.4 166.3 124.7 166.4 132.2 166.5 118.9 166.6 129.6 166.7 123.7 166.8 120.5 166.9 122.2 167.0 125.0 167.1 124.7 167.2 115.8 167.3 122.4 167.4 122.1 167.5 117.2 167.6 125.2 167.7 124.8 167.8 121.4 167.9 110.9 168.0 114.6 168.1 121.1 168.2 118.2 168.3 124.3 168.4 120.1 168.5 117.9 168.6 126.1 168.7 126.5 168.8 118.5 168.9 124.8 169.0 123.0 169.1 117.5 169.2 116.7 169.3 116.2 169.4 124.7 169.5 126.3 169.6 126.0 169.7 109.9 169.8 118.3 169.9 114.6 170.0 113.4 170.1 115.5 170.2 118.5 170.3 123.6 170.4 111.7 170.5 124.4 170.6 115.3 170.7 126.0 170.8 115.0 170.8 120.8 170.9 108.4 171.0 116.7 171.1 125.2 171.2 108.1 171.3 122.4 171.4 119.9 171.5 112.9 171.6 115.7 171.7 110.7 171.8 115.9 171.9 112.5 172.0 108.6 172.1 116.1 172.2 121.9 172.3 116.5 172.4 116.1 172.5 122.8 172.6 123.7 172.7 110.7 172.8 109.4 172.9 123.2 173.0 115.3 173.1 110.6 173.2 119.2 173.3 113.5 173.4 119.9 173.5 115.9 173.6 112.2 173.7 117.7 173.8 116.4 173.9 121.0 174.0 123.9 174.1 120.4 174.2 115.7 174.3 115.6 174.4 120.2 174.5 107.5 174.6 126.2 174.7 122.8 174.8 118.9 174.9 112.9 175.0 125.3 175.1 117.2 175.2 127.0 175.3 120.9 175.4 116.2 175.5 112.5 175.6 114.5 175.7 123.1 175.8 110.7 175.9 107.8 176.0 116.5 176.1 112.2 176.2 115.1 176.3 118.2 176.4 111.0 176.5 108.2 176.6 117.5 176.7 116.0 176.8 111.3 176.9 121.5 177.0 107.8 177.1 116.1 177.2 110.9 177.3 116.2 177.4 114.9 177.5 113.3 177.6 107.9 177.7 116.1 177.8 111.8 177.9 111.9 178.0 121.4 178.1 111.7 178.2 111.4 178.3 112.9 178.4 115.5 178.5 109.6 178.6 114.9 178.7 109.9 178.8 109.4 178.9 109.5 179.0 116.2 179.1 110.0 179.2 116.0 179.3 118.0 179.4 115.3 179.5 107.8 179.6 116.7 179.7 115.5 179.8 117.8 179.9 117.6 180.0 113.9 180.1 118.4 180.2 120.9 180.3 123.3 180.4 113.3 180.5 115.1 180.6 115.5 180.7 112.8 180.8 105.8 180.9 115.6 181.0 114.6 181.1 104.4 181.2 112.9 181.3 108.3 181.4 118.5 181.5 110.7 181.6 122.5 181.7 113.2 181.8 116.7 181.9 120.3 182.0 113.6 182.1 112.2 182.2 109.3 182.3 104.8 182.4 110.8 182.5 113.9 182.6 114.3 182.7 104.6 182.8 114.4 182.9 118.0 183.0 117.1 183.1 113.0 183.2 119.0 183.3 113.5 183.4 113.9 183.5 115.7 183.6 123.3 183.7 124.2 183.8 115.8 183.9 126.2 184.0 125.5 184.1 124.5 184.2 117.4 184.3 105.3 184.4 119.3 184.5 107.6 184.6 105.7 184.7 114.4 184.8 121.1 184.9 114.8 185.0 116.5 185.1 123.5 185.2 119.5 185.3 112.3 185.4 120.8 185.5 112.2 185.6 109.5 185.7 115.0 185.8 118.1 185.9 121.1 186.0 123.4 186.1 120.8 186.2 121.1 186.3 116.5 186.4 116.5 186.5 116.2 186.6 118.6 186.7 120.2 186.8 114.4 186.9 124.2 187.0 122.4 187.1 123.7 187.2 115.1 187.3 119.5 187.4 121.4 187.5 123.0 187.6 119.2 187.7 120.1 187.8 121.4 187.9 108.5 188.0 117.4 188.1 107.5 188.2 115.4 188.3 112.2 188.4 110.7 188.5 121.2 188.6 109.8 188.7 110.0 188.8 116.9 188.9 118.2 189.0 116.6 189.1 123.8 189.2 110.3 189.3 117.7 189.4 111.8 189.5 117.1 189.6 121.3 189.7 117.2 189.8 120.7 189.9 114.0 190.0 115.3 190.1 112.3 190.2 120.7 190.3 118.2 190.4 115.3 190.5 110.0 190.6 120.0 190.7 117.3 190.8 117.8 190.9 119.2 191.0 117.0 191.1 112.6 191.2 111.4 191.3 111.4 191.4 118.6 191.5 110.8 191.6 116.0 191.7 114.5 191.8 113.0 191.9 116.4 192.0 112.8 192.1 119.2 192.2 120.9 192.3 116.6 192.4 116.9 192.5 113.9 192.6 116.9 192.7 120.2 192.8 107.9 192.9 108.5 193.0 118.7 193.1 115.8 193.2 114.2 193.3 120.8 193.4 121.1 193.5 108.4 193.6 114.5 193.7 113.9 193.8 114.0 193.9 124.0 194.0 121.3 194.1 119.0 194.2 113.5 194.3 118.5 194.4 112.8 194.5 110.7 194.6 107.8 194.7 117.5 194.8 113.9 194.9 113.6 195.0 122.4 195.1 120.3 195.2 113.2 195.3 118.1 195.4 119.5 195.5 122.7 195.6 114.7 195.7 118.8 195.8 108.8 195.9 119.6 196.0 115.2 196.1 114.9 196.2 117.3 196.3 120.6 196.4 107.8 196.5 111.8 196.6 109.9 196.7 119.1 196.8 111.8 196.9 125.6 197.0 113.5 197.1 122.7 197.2 118.2 197.3 116.1 197.4 111.6 197.5 118.6 197.6 123.0 197.7 123.1 197.8 119.1 197.9 121.3 198.0 123.1 198.1 116.7 198.2 113.2 198.3 117.0 198.4 119.7 198.5 123.8 198.6 114.3 198.7 115.9 198.8 127.0 198.9 122.1 199.0 128.1 199.1 112.7 199.2 118.8 199.3 116.8 199.4 113.6 199.5 128.6 199.6 117.9 199.7 117.8 199.8 117.9 199.9 117.9 200.0 121.5 200.1 125.0 200.2 121.5 200.3 123.6 200.4 123.8 200.5 123.0 200.6 116.9 200.7 129.9 200.8 130.0 200.9 121.5 201.0 126.0 201.1 125.5 201.2 124.5 201.3 125.1 201.4 123.5 201.5 119.1 201.6 121.9 201.7 117.6 201.8 117.4 201.9 110.8 202.0 114.9 202.1 116.6 202.2 115.6 202.3 117.9 202.4 113.0 202.5 118.2 202.6 116.5 202.7 117.6 202.8 120.0 202.9 111.7 203.0 121.9 203.1 118.9 203.2 119.5 203.3 112.0 203.4 124.3 203.5 113.8 203.6 132.9 203.7 126.8 203.8 118.4 203.9 123.2 204.0 119.5 204.1 122.5 204.2 128.8 204.3 121.5 204.4 124.5 204.5 120.4 204.6 115.9 204.7 123.1 204.8 117.2 204.9 131.0 205.0 125.0 205.1 129.5 205.2 120.3 205.3 117.3 205.4 119.9 205.5 122.6 205.6 127.9 205.7 127.8 205.8 120.9 205.9 120.0 206.0 115.2 206.1 121.3 206.2 128.0 206.3 127.6 206.4 114.6 206.5 116.0 206.6 123.6 206.7 125.2 206.8 122.8 206.9 131.2 207.0 133.1 207.1 134.3 207.2 127.7 207.3 124.5 207.4 122.8 207.5 123.0 207.6 121.4 207.7 122.1 207.8 126.3 207.9 128.8 208.0 131.4 208.1 129.6 208.2 117.9 208.3 126.6 208.4 123.6 208.5 122.5 208.6 118.8 208.7 130.0 208.8 123.6 208.9 117.6 209.0 115.0 209.1 118.7 209.2 132.3 209.3 120.8 209.4 119.6 209.5 119.7 209.6 120.1 209.7 126.2 209.8 123.8 209.9 127.8 210.0 121.1 210.1 134.5 210.2 122.5 210.3 130.4 210.4 124.1 210.5 133.4 210.6 124.3 210.7 128.1 210.8 126.2 210.9 122.7 211.0 121.0 211.1 125.7 211.2 126.9 211.3 120.1 211.4 119.8 211.5 125.0 211.6 132.6 211.7 124.0 211.8 125.2 211.9 126.7 212.0 127.3 212.1 120.8 212.2 126.3 212.3 118.4 212.4 114.9 212.5 120.9 212.6 114.0 212.7 123.9 212.8 127.1 212.9 122.2 213.0 124.2 213.1 120.0 213.2 119.1 213.3 109.3 213.4 118.0 213.5 111.2 213.6 122.7 213.7 116.3 213.8 114.0 213.9 118.9 214.0 129.1 214.1 119.5 214.2 115.0 214.3 128.0 214.4 123.8 214.5 119.5 214.6 113.7 214.7 114.9 214.8 125.4 214.9 120.1 215.0 112.0 215.1 114.1 215.2 112.5 215.3 121.7 215.4 114.9 215.5 126.7 215.6 118.6 215.7 122.0 215.8 119.9 215.9 118.9 216.0 108.7 216.1 109.7 216.2 114.0 216.3 117.2 216.4 105.9 216.5 116.8 216.6 115.4 216.7 115.5 216.8 112.7 216.9 118.4 217.0 124.6 217.1 117.7 217.2 111.0 217.3 113.5 217.4 115.9 217.5 114.3 217.6 112.9 217.7 116.1 217.8 116.9 217.9 114.0 218.0 112.5 218.1 117.6 218.2 112.8 218.3 112.5 218.4 108.4 218.5 113.5 218.6 107.0 218.7 108.4 218.8 112.1 218.9 112.5 219.0 112.0 219.1 119.1 219.2 115.7 219.3 113.1 219.4 107.8 219.5 105.5 219.6 112.1 219.7 109.7 219.8 109.5 219.9 107.4 220.0 116.3 220.1 113.2 220.2 112.7 220.3 110.8 220.4 112.5 220.5 108.1 220.6 115.3 220.7 117.3 220.8 110.6 220.9 111.3 221.0 108.4 221.1 112.1 221.2 105.8 221.3 106.2 221.4 105.2 221.5 104.2 221.6 105.5 221.7 104.7 221.8 110.8 221.9 106.7 222.0 112.8 222.1 117.3 222.2 112.1 222.3 109.7 222.4 113.1 222.5 114.2 222.6 104.7 222.7 109.0 222.8 112.2 222.9 112.1 223.0 118.2 223.1 111.9 223.2 115.1 223.3 108.0 223.4 110.5 223.5 106.1 223.6 107.0 223.7 103.3 223.8 102.4 223.9 117.8 224.0 110.6 224.1 111.6 224.2 113.0 224.3 120.3 224.4 114.3 224.5 107.2 224.6 118.3 224.7 119.4 224.8 115.4 224.9 122.9 225.0 107.5 225.1 117.8 225.2 117.2 225.3 115.2 225.4 114.2 225.5 108.8 225.6 119.6 225.7 113.4 225.8 123.5 225.9 119.2 226.0 119.2 226.1 105.7 226.2 109.4 226.3 116.5 226.4 113.2 226.5 121.9 226.6 119.9 226.7 121.3 226.8 116.9 226.9 114.5 227.0 118.6 227.1 118.2 227.2 123.7 227.3 120.3 227.4 114.7 227.5 115.5 227.6 121.3 227.7 119.6 227.8 125.0 227.9 114.7 228.0 121.6 228.1 106.7 228.2 113.1 228.3 117.9 228.4 112.0 228.5 113.8 228.6 108.3 228.7 117.8 228.8 119.9 228.9 116.8 229.0 106.1 229.1 117.5 229.2 111.8 229.3 117.6 229.4 108.7 229.5 110.7 229.6 108.1 229.7 115.8 229.8 116.4 229.9 105.9 230.0 114.6 230.1 122.2 230.2 107.8 230.3 107.4 230.4 120.1 230.5 111.7 230.6 105.1 230.7 108.6 230.8 106.7 230.9 111.8 231.0 118.3 231.1 118.4 231.2 116.2 231.3 114.9 231.4 120.9 231.5 108.8 231.6 121.4 231.7 107.2 231.8 122.1 231.9 111.2 232.0 102.1 232.1 104.7 232.2 113.8 232.3 124.2 232.4 119.4 232.5 112.9 232.6 120.2 232.7 117.9 232.8 119.9 232.9 117.0 233.0 122.0 233.1 124.6 233.2 120.1 233.3 110.5 233.4 119.0 233.5 120.6 233.6 120.2 233.7 121.2 233.8 120.3 233.9 113.2 234.0 119.3 234.1 113.3 234.2 118.7 234.3 110.3 234.4 116.1 234.5 110.6 234.6 117.7 234.7 112.5 234.8 119.3 234.9 121.7 235.0 120.8 235.1 127.0 235.2 116.9 235.3 119.0 235.4 121.2 235.5 126.1 235.6 123.1 235.7 120.4 235.8 108.9 235.9 117.6 236.0 115.1 236.1 108.1 236.2 108.2 236.3 115.4 236.4 114.9 236.5 125.0 236.6 119.7 236.7 115.8 236.8 121.7 236.9 116.5 237.0 120.1 237.1 119.3 237.2 126.5 237.3 117.2 237.4 121.7 237.5 124.1 237.6 126.4 237.7 125.1 237.8 118.5 237.9 119.1 238.0 115.9 238.1 117.9 238.2 117.6 238.3 118.3 238.4 121.8 238.5 120.5 238.6 127.0 238.7 116.0 238.8 125.7 238.9 123.2 239.0 119.5 239.1 116.1 239.2 125.7 239.3 125.5 239.4 134.5 239.5 122.9 239.6 127.5 239.7 126.9 239.8 126.0 239.9 123.2 240.0 122.3 240.1 120.7 240.2 128.5 240.3 124.4 240.4 120.8 240.5 121.3 240.6 120.3 240.7 124.4 240.8 117.6 240.9 126.3 241.0 127.7 241.1 126.0 241.2 126.6 241.3 129.6 241.4 133.7 241.5 125.7 241.6 131.9 241.7 124.1 241.8 123.1 241.9 127.2 242.0 125.6 242.1 119.3 242.2 136.6 242.3 127.0 242.4 125.4 242.5 124.4 242.6 126.4 242.7 125.4 242.8 127.5 242.9 123.9 243.0 127.8 243.1 125.5 243.2 118.4 243.3 123.3 243.4 117.4 243.5 127.8 243.6 120.0 243.7 125.5 243.8 119.8 243.9 126.6 244.0 122.6 244.1 126.3 244.2 123.7 244.3 123.8 244.4 116.4 244.5 122.3 244.6 119.6 244.7 116.1 244.8 117.7 244.9 124.2 245.0 123.0 245.1 125.4 245.2 120.7 245.3 122.4 245.4 134.9 245.5 125.9 245.6 117.0 245.7 123.9 245.8 124.6 245.9 128.5 246.0 126.8 246.1 132.8 246.2 136.0 246.3 121.5 246.4 131.0 246.5 128.9 246.6 128.9 246.7 129.7 246.8 124.9 246.9 116.6 247.0 126.0 247.1 123.8 247.2 126.4 247.3 119.2 247.4 125.3 247.5 130.1 247.6 121.9 247.7 125.7 247.8 126.2 247.9 134.9 248.0 122.0 248.1 126.1 248.2 127.5 248.3 124.9 248.4 113.8 248.5 121.3 248.6 117.8 248.7 121.9 248.8 115.2 248.9 122.8 249.0 119.9 249.1 127.7 249.2 118.7 249.3 125.9 249.4 129.8 249.5 121.4 249.6 122.4 249.7 129.3 249.8 120.9 249.9 122.5 250.0 120.2 250.1 130.6 250.2 118.4 250.3 116.0 250.4 129.8 250.5 127.7 250.6 123.3 250.7 119.4 250.8 121.5 250.9 128.1 251.0 123.8 251.1 130.9 251.2 129.6 251.3 115.9 251.4 110.9 251.5 115.2 251.6 117.9 251.7 122.8 251.8 111.8 251.9 114.6 252.0 119.7 252.1 115.1 252.2 119.6 252.3 120.7 252.4 110.9 252.5 124.9 252.6 123.4 252.7 118.1 252.8 123.6 252.9 118.5 253.0 130.8 253.1 123.1 253.2 128.5 253.3 113.8 253.4 117.3 253.5 124.7 253.6 129.0 253.7 118.0 253.8 110.8 253.9 114.9 254.0 118.0 254.1 125.6 254.2 130.9 254.3 124.7 254.4 122.3 254.5 123.8 254.6 126.4 254.7 127.6 254.8 131.7 254.9 123.1 255.0 117.9 255.1 117.9 255.2 131.9 255.3 124.6 255.4 113.6 255.5 127.3 255.6 118.0 255.7 115.5 255.8 120.8 255.9 115.5 256.0 121.0 256.1 122.6 256.2 117.1 256.3 119.3 256.4 121.8 256.5 125.1 256.6 123.9 256.7 120.4 256.8 124.9 256.9 121.7 257.0 117.7 257.1 134.6 257.2 122.3 257.3 119.7 257.4 126.9 257.5 129.6 257.6 133.4 257.7 119.2 257.8 137.9 257.9 133.6 258.0 135.3 258.1 127.4 258.1 122.2 258.2 117.6 258.3 133.5 258.4 119.5 258.5 128.7 258.6 122.6 258.7 120.9 258.8 130.3 258.9 122.0 259.0 126.9 259.1 128.4 259.2 120.0 259.3 130.4 259.4 123.4 259.5 130.7 259.6 136.4 259.7 129.6 259.8 131.6 259.9 133.5 260.0 130.9 260.1 119.6 260.2 128.9 260.3 114.0 260.4 112.0 260.5 122.7 260.6 111.1 260.7 132.7 260.8 134.6 260.9 135.7 261.0 125.0 261.1 129.5 261.2 130.3 261.3 119.1 261.4 118.0 261.5 128.9 261.6 123.0 261.7 124.3 261.8 127.2 261.9 129.5 262.0 120.5 262.1 131.5 262.2 114.0 262.3 133.4 262.4 127.9 262.5 126.9 262.6 122.8 262.7 115.1 262.8 126.1 262.9 122.9 263.0 126.9 263.1 129.4 263.2 120.8 263.3 115.2 263.4 115.5 263.5 118.6 263.6 124.3 263.7 132.9 263.8 118.3 263.9 122.4 264.0 126.0 264.1 119.3 264.2 118.0 264.3 117.2 264.4 125.2 264.5 122.4 264.6 124.7 264.7 121.6 264.8 121.3 264.9 115.4 265.0 131.1 265.1 121.6 265.2 125.6 265.3 117.2 265.4 120.1 265.5 126.2 265.6 131.0 265.7 125.1 265.8 126.1 265.9 131.6 266.0 129.2 266.1 126.1 266.2 117.1 266.3 126.7 266.4 123.9 266.5 113.8 266.6 124.2 266.7 110.2 266.8 125.5 266.9 124.6 267.0 117.2 267.1 123.7 267.2 118.3 267.3 127.2 267.4 117.7 267.5 124.8 267.6 132.3 267.7 117.5 267.8 118.9 267.9 124.5 268.0 125.6 268.1 118.7 268.2 131.9 268.3 121.0 268.4 121.4 268.5 122.8 268.6 114.6 268.7 126.6 268.8 133.9 268.9 122.2 269.0 127.3 269.1 114.3 269.2 125.0 269.3 118.2 269.4 129.5 269.5 128.9 269.6 126.0 269.7 122.4 269.8 125.9 269.9 115.6 270.0 117.7 270.1 132.9 270.2 126.0 270.3 115.2 270.4 118.8 270.5 120.9 270.6 121.9 270.7 114.8 270.8 128.2 270.9 115.9 271.0 130.4 271.1 118.6 271.2 120.6 271.3 119.1 271.4 115.0 271.5 116.7 271.6 116.4 271.7 116.8 271.8 111.6 271.9 116.9 272.0 131.3 272.1 129.8 272.2 119.1 272.3 119.3 272.4 118.5 272.5 119.4 272.6 123.7 272.7 130.8 272.8 126.2 272.9 127.6 273.0 129.2 273.1 128.4 273.2 118.7 273.3 124.6 273.4 118.7 273.5 118.4 273.6 119.6 273.7 123.5 273.8 118.1 273.9 122.3 274.0 124.7 274.1 110.2 274.2 115.4 274.3 116.5 274.4 127.1 274.5 112.9 274.6 126.8 274.7 128.4 274.8 119.7 274.9 126.5 275.0 126.4 275.1 117.0 275.2 110.1 275.3 121.4 275.4 116.5 275.5 118.9 275.6 114.6 275.7 121.3 275.8 112.2 275.9 123.2 276.0 119.9 276.1 112.5 276.2 115.2 276.3 122.2 276.4 115.6 276.5 110.0 276.6 123.9 276.7 129.2 276.8 121.6 276.9 118.2 277.0 118.4 277.1 116.2 277.2 128.0 277.3 120.7 277.4 120.3 277.5 119.3 277.6 127.8 277.7 113.7 277.8 113.7 277.9 109.8 278.0 120.5 278.1 115.7 278.2 112.2 278.3 117.0 278.4 126.9 278.5 124.0 278.6 122.9 278.7 120.0 278.8 115.7 278.9 111.7 279.0 116.6 279.1 120.5 279.2 115.2 279.3 119.8 279.4 120.2 279.5 126.3 279.6 120.5 279.7 112.9 279.8 119.0 279.9 115.7 280.0 114.7 280.1 126.4 280.2 123.5 280.3 122.6 280.4 115.6 280.5 121.5 280.6 129.2 280.7 122.1 280.8 115.4 280.9 119.3 281.0 128.0 281.1 123.0 281.2 125.3 281.3 128.7 281.4 118.6 281.5 122.3 281.6 120.3 281.7 114.4 281.8 124.3 281.9 124.8 282.0 122.1 282.1 129.0 282.2 116.5 282.3 114.3 282.4 118.7 282.5 121.1 282.6 121.5 282.7 127.5 282.8 125.1 282.9 127.3 283.0 123.7 283.1 121.6 283.2 119.0 283.3 119.8 283.4 121.8 283.5 117.0 283.6 115.0 283.7 122.0 283.8 116.6 283.9 116.8 284.0 120.8 284.1 116.1 284.2 109.2 284.3 118.9 284.4 119.9 284.5 123.0 284.6 123.3 284.7 123.0 284.8 114.5 284.9 123.0 285.0 127.0 285.1 113.7 285.2 123.0 285.3 121.0 285.4 119.4 285.5 122.4 285.6 123.3 285.7 127.1 285.8 118.2 285.9 115.1 286.0 125.9 286.1 121.6 286.2 109.3 286.3 123.8 286.4 109.1 286.5 120.0 286.6 127.7 286.7 119.2 286.8 119.0 286.9 111.8 287.0 122.3 287.1 113.5 287.2 126.7 287.3 117.8 287.4 112.6 287.5 119.3 287.6 114.7 287.7 123.5 287.8 114.6 287.9 123.9 288.0 125.6 288.1 122.4 288.2 128.9 288.3 125.6 288.4 119.8 288.5 112.5 288.6 119.1 288.7 119.0 288.8 126.0 288.9 120.4 289.0 122.0 289.1 114.5 289.2 116.8 289.3 122.5 289.4 114.8 289.5 127.2 289.6 112.5 289.7 126.2 289.8 130.1 289.9 120.3 290.0 115.7 290.1 118.1 290.2 118.2 290.3 125.0 290.4 125.0 290.5 129.0 290.6 119.2 290.7 116.3 290.8 118.8 290.9 119.1 291.0 130.6 291.1 124.3 291.2 117.3 291.3 122.3 291.4 120.9 291.5 127.6 291.6 127.7 291.7 126.1 291.8 130.9 291.9 122.2 292.0 118.7 292.1 128.0 292.2 129.7 292.3 123.0 292.4 125.5 292.5 118.9 292.6 123.6 292.7 127.7 292.8 119.9 292.9 111.7 293.0 119.6 293.1 127.3 293.2 123.5 293.3 128.9 293.4 120.1 293.5 128.0 293.6 117.6 293.7 115.6 293.8 116.9 293.9 122.2 294.0 120.3 294.1 122.7 294.2 121.6 294.3 116.8 294.4 121.4 294.5 118.8 294.6 120.8 294.7 119.0 294.8 112.5 294.9 122.1 295.0 120.4 295.1 115.6 295.2 123.3 295.3 123.1 295.4 118.5 295.5 113.7 295.6 128.9 295.7 127.5 295.8 126.1 295.9 128.1 296.0 120.1 296.1 117.1 296.2 125.8 296.3 130.0 296.4 125.8 296.5 128.9 296.6 125.6 296.7 122.4 296.8 115.9 296.9 132.3 297.0 130.5 297.1 125.8 297.2 127.9 297.3 133.1 297.4 124.7 297.5 125.7 297.6 126.7 297.7 124.9 297.8 124.4 297.9 127.0 298.0 119.8 298.1 124.7 298.2 113.9 298.3 125.9 298.4 117.3 298.5 114.0 298.6 123.1 298.7 124.8 298.8 122.8 298.9 132.0 299.0 125.6 299.1 126.8 299.2 117.6 299.3 120.7 299.4 125.8 299.5 124.5 299.6 129.8 299.7 122.2 299.8 128.3 299.9 124.8 300.0 122.1 300.1 120.3 300.2 120.0 300.3 121.5 300.4 120.8 300.5 116.4 300.6 127.1 300.7 120.9 300.8 126.0 300.9 123.4 301.0 126.4 301.1 128.9 301.2 116.2 301.3 120.8 301.4 123.6 301.5 126.4 301.6 122.7 301.7 127.4 301.8 116.2 301.9 127.8 302.0 124.4 302.1 132.6 302.2 131.5 302.3 124.8 302.4 120.2 302.5 118.3 302.6 124.7 302.7 125.2 302.8 117.8 302.9 124.2 303.0 130.9 303.1 118.2 303.2 121.9 303.3 121.7 303.4 122.4 303.5 133.1 303.6 126.9 303.7 115.6 303.8 123.5 303.9 127.9 304.0 119.5 304.1 121.2 304.2 121.5 304.3 124.0 304.4 128.9 304.5 124.6 304.6 128.4 304.7 117.5 304.8 128.3 304.9 124.7 305.0 123.1 305.1 122.1 305.2 117.9 305.3 120.7 305.4 120.7 305.5 121.5 305.6 115.6 305.7 125.7 305.8 123.7 305.9 119.7 306.0 132.1 306.1 123.7 306.2 124.6 306.3 131.0 306.4 127.1 306.5 125.0 306.6 120.4 306.7 119.0 306.8 121.3 306.9 128.1 307.0 121.8 307.1 133.3 307.2 128.3 307.3 128.3 307.4 131.6 307.5 126.5 307.6 133.3 307.7 132.1 307.8 121.6 307.9 116.2 308.0 130.2 308.1 124.8 308.2 126.5 308.3 132.0 308.4 120.3 308.5 120.2 308.6 121.5 308.7 128.1 308.8 118.6 308.9 123.1 309.0 123.1 309.1 120.6 309.2 121.2 309.3 129.8 309.4 132.5 309.5 132.5 309.6 121.5 309.7 128.0 309.8 133.2 309.9 123.3 310.0 125.7 310.1 131.2 310.2 129.8 310.3 119.9 310.4 128.5 310.5 130.6 310.6 128.4 310.7 122.9 310.8 129.7 310.9 127.8 311.0 126.8 311.1 126.1 311.2 123.0 311.3 122.1 311.4 122.9 311.5 127.2 311.6 123.7 311.7 130.1 311.8 122.5 311.9 124.0 312.0 122.1 312.1 121.6 312.2 121.0 312.3 131.8 312.4 122.8 312.5 122.6 312.6 124.9 312.7 125.8 312.8 119.7 312.9 122.9 313.0 117.2 313.1 132.2 313.2 127.9 313.3 126.8 313.4 123.4 313.5 120.7 313.6 119.1 313.7 130.6 313.8 132.0 313.9 119.8 314.0 118.7 314.1 118.7 314.2 119.1 314.3 127.5 314.4 128.0 314.5 116.4 314.6 121.5 314.7 126.7 314.8 126.7 314.9 116.6 315.0 127.0 315.1 119.4 315.2 122.7 315.3 116.3 315.4 119.6 315.5 118.6 315.6 122.6 315.7 120.4 315.8 119.8 315.9 122.4 316.0 124.0 316.1 126.6 316.2 126.4 316.3 128.5 316.4 121.1 316.5 121.4 316.6 125.2 316.7 129.6 316.8 130.1 316.9 122.0 317.0 117.3 317.1 127.4 317.2 118.7 317.3 125.7 317.4 127.7 317.5 128.1 317.6 117.1 317.7 123.4 317.8 117.1 317.9 116.0 318.0 125.7 318.1 128.1 318.2 132.4 318.3 123.1 318.4 126.9 318.5 127.1 318.6 124.6 318.7 122.5 318.8 122.4 318.9 125.4 319.0 132.3 319.1 129.5 319.2 122.7 319.3 126.4 319.4 126.2 319.5 123.0 319.6 119.6 319.7 119.2 319.8 122.5 319.9 119.9 320.0 122.4 320.1 127.4 320.2 132.2 320.3 130.0 320.4 121.5 320.5 127.6 320.6 124.5 320.7 131.5 320.8 127.5 320.9 124.8 321.0 120.9 321.1 125.5 321.2 128.5 321.3 129.2 321.4 127.8 321.5 129.7 321.6 123.3 321.7 127.0 321.8 121.4 321.9 126.5 322.0 124.9 322.1 128.4 322.2 123.0 322.3 124.7 322.4 126.6 322.5 115.7 322.6 125.8 322.7 123.3 322.8 128.9 322.9 124.1 323.0 120.5 323.1 125.3 323.2 120.5 323.3 129.4 323.4 131.2 323.5 132.0 323.6 128.6 323.7 128.3 323.8 123.6 323.9 127.8 324.0 124.0 324.1 129.5 324.2 128.5 324.3 127.8 324.4 127.0 324.5 123.1 324.6 122.3 324.7 122.0 324.8 132.2 324.9 119.8 325.0 121.0 325.1 119.1 325.2 118.4 325.3 124.3 325.4 115.2 325.5 118.0 325.6 119.5 325.7 116.1 325.8 120.7 325.9 125.7 326.0 120.7 326.1 123.7 326.2 122.6 326.3 125.0 326.4 121.4 326.5 129.2 326.6 127.5 326.7 122.9 326.8 124.3 326.9 121.8 327.0 130.0 327.1 125.8 327.2 122.2 327.3 125.2 327.4 125.9 327.5 124.1 327.6 116.1 327.7 114.8 327.8 122.2 327.9 124.6 328.0 125.6 328.1 117.6 328.2 122.3 328.3 122.9 328.4 128.8 328.5 132.8 328.6 121.8 328.7 124.7 328.8 121.4 328.9 123.7 329.0 125.6 329.1 123.0 329.2 125.3 329.3 114.6 329.4 114.6 329.5 117.0 329.6 124.3 329.7 122.8 329.8 122.7 329.9 121.7 330.0 128.3 330.1 126.4 330.2 126.7 330.3 124.4 330.4 122.9 330.5 127.3 330.6 125.3 330.7 126.4 330.8 121.9 330.9 124.2 331.0 120.3 331.1 119.0 331.2 119.1 331.3 128.3 331.4 123.0 331.5 120.0 331.6 124.6 331.7 119.8 331.8 119.8 331.9 130.4 332.0 119.0 332.1 122.3 332.2 114.1 332.3 117.1 332.4 129.4 332.5 129.7 332.6 121.8 332.7 120.4 332.8 124.9 332.9 131.4 333.0 128.0 333.1 121.0 333.2 116.9 333.3 118.8 333.4 124.8 333.5 121.8 333.6 125.7 333.7 128.4 333.8 118.4 333.9 117.2 334.0 121.8 334.1 133.5 334.2 129.6 334.3 124.2 334.4 119.8 334.5 121.4 334.6 127.3 334.7 128.9 334.8 128.4 334.9 124.6 335.0 119.7 335.1 131.8 335.2 126.8 335.3 116.1 335.4 121.6 335.5 118.6 335.6 125.4 335.7 133.1 335.8 121.8 335.9 126.1 336.0 128.1 336.1 119.9 336.2 130.4 336.3 122.4 336.4 115.6 336.5 120.0 336.6 128.1 336.7 120.7 336.8 126.2 336.9 119.5 337.0 125.9 337.1 121.6 337.2 129.9 337.3 117.5 337.4 115.1 337.5 115.7 337.6 118.2 337.7 119.6 337.8 125.1 337.9 116.3 338.0 114.1 338.1 115.0 338.2 123.6 338.3 126.1 338.4 125.8 338.5 117.4 338.6 115.5 338.7 123.7 338.8 129.9 338.9 130.6 339.0 122.3 339.1 122.5 339.2 114.1 339.3 121.8 339.4 120.2 339.5 126.7 339.6 120.4 339.7 123.7 339.8 124.0 339.9 125.0 340.0 124.4 340.1 128.1 340.2 129.4 340.3 122.6 340.4 131.9 340.5 129.8 340.6 125.1 340.7 125.9 340.8 122.8 340.9 123.3 341.0 114.2 341.1 128.3 341.2 127.1 341.3 121.6 341.4 131.6 341.5 125.3 341.6 124.0 341.7 128.1 341.8 119.3 341.9 121.5 342.0 128.3 342.1 125.7 342.2 124.0 342.3 127.2 342.4 124.9 342.5 123.5 342.6 116.6 342.7 123.7 342.8 123.2 342.9 122.6 343.0 131.2 343.1 122.5 343.2 123.7 343.3 123.0 343.4 126.1 343.5 125.6 343.6 124.5 343.7 123.7 343.8 122.7 343.9 125.2 344.0 120.0 344.1 123.8 344.2 114.9 344.3 120.7 344.4 118.9 344.5 114.3 344.6 118.9 344.7 123.9 344.8 128.3 344.9 126.8 345.0 122.2 345.1 120.7 345.2 122.5 345.3 119.7 345.4 115.9 345.5 119.1 345.5 128.0 345.6 129.4 345.7 127.8 345.8 119.5 345.9 120.3 346.0 115.7 346.1 116.8 346.2 116.9 346.3 123.6 346.4 122.8 346.5 121.2 346.6 125.4 346.7 126.6 346.8 115.0 346.9 113.5 347.0 121.8 347.1 114.0 347.2 124.1 347.3 127.0 347.4 125.7 347.5 122.1 347.6 124.4 347.7 125.9 347.8 118.0 347.9 123.1 348.0 119.1 348.1 113.0 348.2 115.1 348.3 123.9 348.4 125.6 348.5 119.6 348.6 117.1 348.7 119.2 348.8 122.3 348.9 122.0 349.0 120.3 349.1 118.5 349.2 122.5 349.3 126.4 349.4 120.2 349.5 127.0 349.6 125.7 349.7 121.2 349.8 122.0 349.9 115.1 350.0 114.4 350.1 114.8 350.2 117.7 350.3 119.2 350.4 125.0 350.5 118.8 350.6 117.3 350.7 117.4 350.8 114.1 350.9 117.9 351.0 115.1 351.1 120.0 351.2 128.0 351.3 117.7 351.4 122.6 351.5 123.3 351.6 119.3 351.7 116.5 351.8 119.9 351.9 119.9 352.0 116.9 352.1 120.3 352.2 122.9 352.3 117.2 352.4 122.6 352.5 118.1 352.6 118.3 352.7 120.1 352.8 117.3 352.9 119.4 353.0 115.8 353.1 114.1 353.2 113.7 353.3 116.8 353.4 123.1 353.5 126.1 353.6 125.3 353.7 122.6 353.8 118.9 353.9 117.8 354.0 123.1 354.1 119.7 354.2 123.2 354.3 120.4 354.4 118.0 354.5 111.1 354.6 120.6 354.7 118.2 354.8 118.9 354.9 118.7 355.0 111.7 355.1 121.3 355.2 113.1 355.3 124.0 355.4 116.8 355.5 113.1 355.6 117.9 355.7 119.9 355.8 126.0 355.9 119.0 356.0 116.5 356.1 112.5 356.2 115.8 356.3 116.4 356.4 118.8 356.5 113.5 356.6 118.7 356.7 115.8 356.8 110.2 356.9 117.4 357.0 113.3 357.1 114.6 357.2 118.4 357.3 122.3 357.4 114.2 357.5 113.3 357.6 111.8 357.7 111.8 357.8 118.8 357.9 114.2 358.0 114.5 358.1 117.7 358.2 117.5 358.3 115.3 358.4 117.8 358.5 119.2 358.6 114.4 358.7 117.6 358.8 115.7 358.9 116.5 359.0 122.4 359.1 122.1 359.2 114.2 359.3 117.1 359.4 115.4 359.5 120.7 359.6 110.2 359.7 125.9 359.8 111.7 359.9 119.6 360.0 124.1 360.1 116.6 360.2 122.5 360.3 122.0 360.4 122.3 360.5 114.3 360.6 117.3 360.7 111.8 360.8 112.5 360.9 118.5 361.0 122.2 361.1 119.0 361.2 118.9 361.3 119.0 361.4 119.7 361.5 116.2 361.6 119.8 361.7 121.1 361.8 116.0 361.9 121.0 362.0 118.3 362.1 126.0 362.2 119.6 362.3 116.7 362.4 118.3 362.5 122.1 362.6 119.0 362.7 118.3 362.8 118.6 362.9 120.1 363.0 120.0 363.1 125.9 363.2 119.5 363.3 112.6 363.4 120.6 363.5 120.3 363.6 113.2 363.7 118.4 363.8 120.0 363.9 112.6 364.0 118.4 364.1 117.2 364.2 119.7 364.3 115.3 364.4 117.1 364.5 119.0 364.6 118.6 364.7 107.3 364.8 121.6 364.9 121.5 365.0 117.8 365.1 126.1 365.2 124.7 365.3 121.2 365.4 113.3 365.5 107.5 365.6 109.8 365.7 114.4 365.8 112.3 365.9 122.1 366.0 109.8 366.1 113.3 366.2 116.7 366.3 119.0 366.4 116.1 366.5 113.7 366.6 113.0 366.7 117.1 366.8 112.6 366.9 120.2 367.0 111.5 367.1 113.9 367.2 118.0 367.3 118.6 367.4 126.2 367.5 115.3 367.6 119.6 367.7 113.6 367.8 116.6 367.9 114.9 368.0 118.1 368.1 116.4 368.2 109.2 368.3 116.7 368.4 111.2 368.5 114.2 368.6 112.2 368.7 109.5 368.8 109.7 368.9 113.0 369.0 107.5 369.1 113.4 369.2 114.4 369.3 120.3 369.4 118.0 369.5 117.8 369.6 117.7 369.7 118.5 369.8 122.0 369.9 114.4 370.0 109.7 370.1 113.1 370.2 115.6 370.3 113.1 370.4 112.6 370.5 115.5 370.6 125.5 370.7 115.9 370.8 116.1 370.9 117.6 371.0 125.5 371.1 120.9 371.2 109.4 371.3 107.7 371.4 117.0 371.5 120.3 371.6 119.6 371.7 119.4 371.8 122.5 371.9 117.5 372.0 112.9 372.1 110.0 372.2 115.4 372.3 107.9 372.4 116.1 372.5 115.8 372.6 117.5 372.7 119.1 372.8 115.5 372.9 119.3 373.0 110.5 373.1 113.4 373.2 108.4 373.3 119.5 373.4 114.9 373.5 121.6 373.6 123.4 373.7 113.8 373.8 120.3 373.9 110.8 374.0 105.9 374.1 111.7 374.2 112.3 374.3 118.3 374.4 116.1 374.5 115.5 374.6 117.2 374.7 112.2 374.8 114.5 374.9 112.5 375.0 114.5 375.1 112.2 375.2 120.0 375.3 115.2 375.4 109.8 375.5 109.9 375.6 115.7 375.7 105.8 375.8 124.4 375.9 117.0 376.0 120.5 376.1 114.9 376.2 119.9 376.3 116.0 376.4 113.2 376.5 109.2 376.6 122.9 376.7 115.7 376.8 117.4 376.9 105.7 377.0 107.0 377.1 109.9 377.2 119.5 377.3 114.3 377.4 112.6 377.5 113.1 377.6 117.3 377.7 109.3 377.8 110.1 377.9 110.6 378.0 114.4 378.1 108.3 378.2 122.1 378.3 113.2 378.4 117.6 378.5 117.6 378.6 112.6 378.7 121.0 378.8 105.5 378.9 116.4 379.0 112.4 379.1 116.6 379.2 115.1 379.3 105.4 379.4 120.9 379.5 123.6 379.6 119.3 379.7 119.7 379.8 112.8 379.9 119.1 380.0 115.2 380.1 110.3 380.2 115.8 380.3 118.5 380.4 112.2 380.5 117.6 380.6 114.7 380.7 116.2 380.8 113.1 380.9 107.8 381.0 113.0 381.1 112.4 381.2 111.7 381.3 114.8 381.4 111.9 381.5 116.5 381.6 119.4 381.7 112.1 381.8 109.0 381.9 113.7 382.0 116.3 382.1 113.6 382.2 114.9 382.3 110.0 382.4 113.5 382.5 115.7 382.6 113.2 382.7 113.0 382.8 114.0 382.9 121.4 383.0 113.8 383.1 111.7 383.2 119.0 383.3 109.7 383.4 109.7 383.5 117.2 383.6 117.2 383.7 113.3 383.8 113.2 383.9 111.3 384.0 117.2 384.1 117.0 384.2 111.6 384.3 117.6 384.4 108.1 384.5 105.0 384.6 115.7 384.7 111.3 384.8 110.1 384.9 109.8 385.0 110.5 385.1 113.8 385.2 118.2 385.3 110.1 385.4 115.8 385.5 107.4 385.6 113.0 385.7 112.1 385.8 109.7 385.9 113.0 386.0 116.2 386.1 111.7 386.2 112.1 386.3 114.4 386.4 110.9 386.5 114.6 386.6 116.2 386.7 115.9 386.8 119.6 386.9 115.0 387.0 112.2 387.1 105.7 387.2 109.6 387.3 118.6 387.4 114.8 387.5 110.3 387.6 113.6 387.7 109.6 387.8 109.1 387.9 113.9 388.0 109.7 388.1 115.2 388.2 117.6 388.3 112.4 388.4 113.3 388.5 108.4 388.6 109.8 388.7 109.1 388.8 120.4 388.9 115.6 389.0 116.7 389.1 112.2 389.2 108.0" fill="none" stroke="#ff0000" stroke-width="0.6" stroke-linejoin="round"/>
<path d="M39.7 441.7L39.8 453.6 39.9 437.7 40.0 446.9 40.0 446.8 40.1 448.1 40.2 458.0 40.3 455.2 40.4 443.1 40.5 435.0 40.6 451.1 40.7 458.1 40.7 430.4 40.8 429.6 40.9 441.9 41.0 452.5 41.1 440.1 41.2 450.2 41.3 456.3 41.4 438.0 41.4 452.9 41.5 435.8 41.6 443.2 41.7 444.8 41.8 435.0 41.9 444.9 42.0 465.2 42.1 447.7 42.1 453.5 42.2 451.4 42.3 454.4 42.4 461.0 42.5 447.5 42.6 450.7 42.7 450.6 42.8 451.4 42.8 456.7 42.9 451.2 43.0 439.8 43.1 453.9 43.2 448.7 43.3 446.5 43.4 446.8 43.5 461.0 43.5 453.0 43.6 446.5 43.7 443.5 43.8 472.7 43.9 450.0 44.0 466.9 44.1 447.1 44.2 460.3 44.2 460.7 44.3 439.7 44.4 454.2 44.5 466.4 44.6 450.5 44.7 444.2 44.8 427.6 44.9 439.9 44.9 450.3 45.0 429.0 45.1 446.5 45.2 435.8 45.3 429.5 45.4 445.1 45.5 435.7 45.6 447.9 45.6 435.6 45.7 460.8 45.8 462.5 45.9 454.6 46.0 442.1 46.1 450.5 46.2 449.0 46.3 457.8 46.3 459.9 46.4 455.6 46.5 436.0 46.6 440.5 46.7 454.1 46.8 455.0 46.9 442.2 47.0 461.0 47.0 455.5 47.1 441.3 47.2 449.5 47.3 453.8 47.4 454.0 47.5 456.3 47.6 436.5 47.7 439.0 47.7 456.6 47.8 469.2 47.9 458.5 48.0 439.3 48.1 451.7 48.2 452.6 48.3 442.3 48.4 452.0 48.4 430.6 48.5 448.2 48.6 449.0 48.7 434.9 48.8 439.7 48.9 436.1 49.0 444.4 49.1 432.1 49.1 458.1 49.2 445.0 49.3 454.2 49.4 436.3 49.5 452.9 49.6 440.5 49.7 451.3 49.8 449.5 49.8 437.4 49.9 439.1 50.0 450.6 50.1 441.1 50.2 432.1 50.3 434.0 50.4 445.6 50.4 439.9 50.5 441.5 50.6 444.5 50.7 430.5 50.8 452.7 50.9 439.5 51.0 432.4 51.1 436.1 51.1 433.0 51.2 426.9 51.3 434.0 51.4 430.4 51.5 433.2 51.6 428.1 51.7 442.0 51.8 446.8 51.8 445.1 51.9 448.7 52.0 437.3 52.1 435.4 52.2 435.7 52.3 438.0 52.4 455.0 52.5 429.2 52.5 442.6 52.6 458.2 52.7 429.6 52.8 457.4 52.9 455.8 53.0 451.1 53.1 442.2 53.2 438.6 53.2 448.3 53.3 412.1 53.4 439.1 53.5 455.4 53.6 428.6 53.7 451.3 53.8 429.4 53.9 445.8 53.9 457.7 54.0 440.2 54.1 449.3 54.2 444.7 54.3 443.2 54.4 464.6 54.5 424.6 54.6 440.9 54.6 442.7 54.7 431.4 54.8 430.4 54.9 457.3 55.0 437.0 55.1 449.4 55.2 445.7 55.3 426.8 55.3 411.5 55.4 452.7 55.5 426.2 55.6 408.1 55.7 387.6 55.8 444.3 55.9 407.6 56.0 442.5 56.0 423.3 56.1 412.7 56.2 427.2 56.3 426.7 56.4 420.9 56.5 443.6 56.6 409.7 56.7 415.9 56.7 422.1 56.8 424.8 56.9 431.5 57.0 417.8 57.1 401.4 57.2 425.1 57.3 429.3 57.4 427.2 57.4 410.0 57.5 405.8 57.6 393.2 57.7 400.0 57.8 402.5 57.9 417.9 58.0 377.0 58.1 384.0 58.1 378.2 58.2 374.7 58.3 401.8 58.4 360.2 58.5 403.8 58.6 387.3 58.7 392.1 58.8 389.8 58.8 392.3 58.9 375.3 59.0 385.3 59.1 391.7 59.2 367.6 59.3 388.6 59.4 373.2 59.5 391.9 59.5 369.9 59.6 376.9 59.7 393.3 59.8 389.1 59.9 370.8 60.0 384.8 60.1 394.2 60.2 384.8 60.2 386.0 60.3 372.7 60.4 374.6 60.5 372.3 60.6 376.0 60.7 379.9 60.8 369.2 60.9 379.8 60.9 344.7 61.0 375.0 61.1 394.2 61.2 392.9 61.3 365.4 61.4 377.6 61.5 358.0 61.5 372.6 61.6 381.5 61.7 380.4 61.8 376.7 61.9 389.2 62.0 392.6 62.1 353.6 62.2 380.3 62.2 374.3 62.3 360.0 62.4 360.3 62.5 372.6 62.6 377.5 62.7 386.4 62.8 386.0 62.9 376.3 62.9 379.8 63.0 374.6 63.1 386.5 63.2 387.6 63.3 375.0 63.4 379.2 63.5 387.2 63.6 367.3 63.6 386.8 63.7 384.9 63.8 378.9 63.9 389.6 64.0 371.2 64.1 402.7 64.2 378.0 64.3 370.1 64.3 383.4 64.4 370.7 64.5 385.0 64.6 379.0 64.7 381.9 64.8 379.6 64.9 381.4 65.0 391.9 65.0 400.9 65.1 378.0 65.2 374.7 65.3 383.3 65.4 390.1 65.5 380.8 65.6 382.2 65.7 375.9 65.7 387.6 65.8 378.4 65.9 373.0 66.0 383.6 66.1 390.2 66.2 389.8 66.3 393.3 66.4 388.3 66.4 375.6 66.5 381.1 66.6 393.7 66.7 378.4 66.8 387.6 66.9 406.2 67.0 389.5 67.1 396.0 67.1 390.1 67.2 398.5 67.3 401.5 67.4 385.9 67.5 402.1 67.6 403.8 67.7 377.2 67.8 386.4 67.8 376.8 67.9 382.3 68.0 383.5 68.1 393.9 68.2 386.0 68.3 388.4 68.4 393.1 68.5 385.2 68.5 391.2 68.6 387.6 68.7 405.2 68.8 399.7 68.9 388.1 69.0 397.2 69.1 397.1 69.2 387.8 69.2 407.0 69.3 379.0 69.4 381.0 69.5 389.2 69.6 388.4 69.7 405.1 69.8 391.4 69.9 400.5 69.9 396.7 70.0 380.7 70.1 411.1 70.2 419.3 70.3 396.6 70.4 403.0 70.5 397.9 70.6 396.7 70.6 400.8 70.7 391.9 70.8 404.9 70.9 406.0 71.0 400.3 71.1 400.0 71.2 386.9 71.3 409.7 71.3 410.5 71.4 396.3 71.5 405.8 71.6 404.0 71.7 405.8 71.8 414.4 71.9 405.2 71.9 399.3 72.0 402.7 72.1 385.0 72.2 404.7 72.3 400.4 72.4 391.6 72.5 418.7 72.6 408.7 72.6 413.2 72.7 406.2 72.8 399.7 72.9 395.3 73.0 394.8 73.1 398.9 73.2 405.8 73.3 413.7 73.3 414.6 73.4 399.7 73.5 411.3 73.6 408.3 73.7 397.7 73.8 406.7 73.9 403.2 74.0 396.5 74.0 402.4 74.1 395.9 74.2 408.5 74.3 412.2 74.4 405.8 74.5 408.3 74.6 411.8 74.7 404.4 74.7 403.8 74.8 411.4 74.9 413.8 75.0 400.0 75.1 403.3 75.2 391.4 75.3 412.7 75.4 405.2 75.4 396.7 75.5 394.7 75.6 403.9 75.7 398.1 75.8 405.9 75.9 398.8 76.0 404.8 76.1 394.2 76.1 408.7 76.2 417.6 76.3 396.2 76.4 399.1 76.5 391.2 76.6 419.8 76.7 419.0 76.8 410.8 76.8 405.3 76.9 408.5 77.0 410.2 77.1 415.3 77.2 410.1 77.3 390.4 77.4 414.2 77.5 371.1 77.5 399.0 77.6 403.3 77.7 406.4 77.8 426.0 77.9 390.6 78.0 410.6 78.1 393.5 78.2 402.5 78.2 401.1 78.3 408.9 78.4 399.6 78.5 399.4 78.6 412.2 78.7 407.6 78.8 400.4 78.9 404.4 78.9 401.4 79.0 393.5 79.1 406.6 79.2 407.3 79.3 409.5 79.4 407.5 79.5 406.7 79.6 404.8 79.6 409.1 79.7 394.4 79.8 398.1 79.9 410.7 80.0 407.1 80.1 409.3 80.2 386.2 80.3 400.5 80.3 408.4 80.4 420.1 80.5 395.0 80.6 398.2 80.7 399.8 80.8 408.1 80.9 366.3 81.0 414.1 81.0 406.1 81.1 397.6 81.2 393.0 81.3 397.0 81.4 409.1 81.5 400.1 81.6 412.8 81.7 400.8 81.7 408.4 81.8 410.7 81.9 402.1 82.0 405.9 82.1 394.9 82.2 403.5 82.3 404.3 82.3 390.7 82.4 407.9 82.5 412.6 82.6 393.1 82.7 416.3 82.8 404.5 82.9 402.8 83.0 391.8 83.0 398.1 83.1 400.5 83.2 405.0 83.3 416.8 83.4 406.2 83.5 404.3 83.6 407.4 83.7 410.8 83.7 364.1 83.8 410.0 83.9 403.3 84.0 411.4 84.1 400.7 84.2 415.9 84.3 396.4 84.4 393.7 84.4 412.5 84.5 396.0 84.6 390.0 84.7 401.6 84.8 415.5 84.9 423.0 85.0 398.7 85.1 400.2 85.1 408.2 85.2 413.6 85.3 417.5 85.4 396.8 85.5 419.8 85.6 399.6 85.7 416.4 85.8 404.9 85.8 402.6 85.9 413.0 86.0 404.9 86.1 402.0 86.2 394.2 86.3 399.0 86.4 392.3 86.5 404.8 86.5 411.9 86.6 394.6 86.7 399.7 86.8 401.1 86.9 416.0 87.0 411.3 87.1 397.9 87.2 395.6 87.2 403.4 87.3 421.1 87.4 409.4 87.5 402.7 87.6 392.1 87.7 391.7 87.8 411.4 87.9 403.1 87.9 414.5 88.0 399.9 88.1 400.9 88.2 413.1 88.3 406.0 88.4 414.7 88.5 407.2 88.6 412.3 88.6 402.4 88.7 401.6 88.8 414.0 88.9 411.8 89.0 421.8 89.1 396.9 89.2 408.6 89.3 407.5 89.3 418.8 89.4 400.7 89.5 413.9 89.6 414.8 89.7 418.8 89.8 404.4 89.9 406.7 90.0 400.8 90.0 418.2 90.1 408.9 90.2 401.2 90.3 420.6 90.4 416.9 90.5 398.4 90.6 417.1 90.7 406.4 90.7 401.1 90.8 415.0 90.9 397.6 91.0 402.4 91.1 397.2 91.2 404.0 91.3 416.9 91.4 401.5 91.4 404.2 91.5 401.0 91.6 398.1 91.7 395.8 91.8 398.4 91.9 407.7 92.0 379.0 92.1 398.3 92.1 398.9 92.2 409.1 92.3 413.2 92.4 410.4 92.5 408.8 92.6 412.8 92.7 406.1 92.7 406.8 92.8 414.8 92.9 395.4 93.0 396.9 93.1 403.8 93.2 402.9 93.3 402.4 93.4 408.1 93.4 393.6 93.5 387.2 93.6 405.3 93.7 401.6 93.8 392.0 93.9 423.4 94.0 412.1 94.1 403.8 94.1 409.3 94.2 402.4 94.3 402.8 94.4 388.4 94.5 396.0 94.6 405.5 94.7 407.8 94.8 395.8 94.8 395.8 94.9 393.3 95.0 402.9 95.1 419.7 95.2 397.3 95.3 409.3 95.4 422.0 95.5 410.2 95.5 371.5 95.6 398.3 95.7 409.9 95.8 416.0 95.9 399.7 96.0 397.8 96.1 414.0 96.2 404.0 96.2 404.0 96.3 400.6 96.4 405.6 96.5 409.8 96.6 401.8 96.7 406.8 96.8 399.4 96.9 393.5 96.9 409.1 97.0 409.2 97.1 410.2 97.2 405.8 97.3 423.8 97.4 391.5 97.5 394.5 97.6 389.0 97.6 417.1 97.7 420.7 97.8 407.2 97.9 414.2 98.0 403.1 98.1 407.8 98.2 417.7 98.3 414.1 98.3 394.8 98.4 413.7 98.5 399.0 98.6 407.6 98.7 399.5 98.8 383.9 98.9 412.4 99.0 403.2 99.0 398.9 99.1 394.5 99.2 407.4 99.3 402.6 99.4 404.8 99.5 404.9 99.6 408.4 99.7 406.0 99.7 404.6 99.8 413.1 99.9 414.2 100.0 400.6 100.1 417.5 100.2 408.0 100.3 401.1 100.4 398.5 100.4 394.6 100.5 420.9 100.6 411.0 100.7 414.6 100.8 412.0 100.9 404.0 101.0 419.3 101.1 404.9 101.1 407.5 101.2 417.5 101.3 410.8 101.4 404.2 101.5 404.1 101.6 410.9 101.7 415.5 101.8 411.9 101.8 406.2 101.9 398.4 102.0 401.3 102.1 414.6 102.2 404.2 102.3 388.2 102.4 401.9 102.5 417.6 102.5 401.4 102.6 399.6 102.7 399.1 102.8 386.7 102.9 394.2 103.0 409.5 103.1 419.7 103.2 402.0 103.2 407.9 103.3 394.8 103.4 405.6 103.5 417.3 103.6 408.5 103.7 389.3 103.8 405.7 103.8 407.7 103.9 400.9 104.0 405.5 104.1 413.2 104.2 408.7 104.3 399.3 104.4 397.2 104.5 403.0 104.5 408.4 104.6 396.6 104.7 403.9 104.8 414.4 104.9 411.4 105.0 408.1 105.1 395.2 105.2 405.6 105.2 406.5 105.3 392.5 105.4 409.7 105.5 395.3 105.6 399.8 105.7 388.7 105.8 408.4 105.9 410.2 105.9 392.5 106.0 385.0 106.1 392.6 106.2 401.9 106.3 394.5 106.4 394.3 106.5 399.5 106.6 388.2 106.6 392.3 106.7 410.3 106.8 408.9 106.9 401.2 107.0 400.2 107.1 396.6 107.2 402.4 107.3 393.5 107.3 406.9 107.4 394.8 107.5 421.8 107.6 417.4 107.7 404.8 107.8 406.2 107.9 407.4 108.0 393.2 108.0 403.6 108.1 406.9 108.2 404.4 108.3 394.8 108.4 396.3 108.5 396.3 108.6 384.5 108.7 404.5 108.7 403.5 108.8 400.6 108.9 391.2 109.0 392.7 109.1 400.9 109.2 379.6 109.3 400.6 109.4 403.7 109.4 408.8 109.5 396.1 109.6 383.8 109.7 408.0 109.8 392.9 109.9 387.3 110.0 391.9 110.1 396.6 110.1 406.3 110.2 397.7 110.3 400.6 110.4 393.6 110.5 362.8 110.6 392.9 110.7 405.4 110.8 390.4 110.8 392.7 110.9 376.4 111.0 385.5 111.1 398.9 111.2 390.8 111.3 385.2 111.4 395.7 111.5 384.2 111.5 398.5 111.6 402.2 111.7 393.6 111.8 389.5 111.9 385.3 112.0 377.4 112.1 404.0 112.2 417.4 112.2 383.5 112.3 388.2 112.4 398.3 112.5 384.7 112.6 410.2 112.7 402.1 112.8 398.6 112.9 400.1 112.9 398.4 113.0 399.4 113.1 405.7 113.2 412.7 113.3 399.2 113.4 409.6 113.5 378.2 113.6 399.5 113.6 418.7 113.7 400.5 113.8 392.8 113.9 399.6 114.0 402.0 114.1 399.6 114.2 407.2 114.2 394.4 114.3 397.2 114.4 408.3 114.5 403.9 114.6 420.9 114.7 403.4 114.8 413.4 114.9 397.4 114.9 398.3 115.0 401.9 115.1 404.3 115.2 411.2 115.3 409.2 115.4 404.0 115.5 413.4 115.6 402.3 115.6 390.6 115.7 391.6 115.8 382.2 115.9 391.1 116.0 410.1 116.1 406.1 116.2 377.4 116.3 414.5 116.3 395.3 116.4 391.8 116.5 402.4 116.6 388.6 116.7 409.8 116.8 396.9 116.9 406.6 117.0 395.9 117.0 394.5 117.1 391.4 117.2 390.6 117.3 393.2 117.4 379.5 117.5 393.8 117.6 419.6 117.7 385.9 117.7 399.1 117.8 400.7 117.9 399.4 118.0 397.3 118.1 406.6 118.2 400.5 118.3 402.5 118.4 416.1 118.4 390.5 118.5 395.2 118.6 387.1 118.7 396.8 118.8 389.9 118.9 399.5 119.0 385.7 119.1 395.6 119.1 412.6 119.2 411.2 119.3 396.9 119.4 396.5 119.5 397.6 119.6 411.8 119.7 380.4 119.8 398.7 119.8 394.6 119.9 417.2 120.0 401.0 120.1 392.4 120.2 385.0 120.3 385.1 120.4 394.3 120.5 392.3 120.5 400.1 120.6 412.1 120.7 396.1 120.8 398.8 120.9 401.6 121.0 399.0 121.1 392.5 121.2 378.6 121.2 393.4 121.3 389.0 121.4 390.0 121.5 390.9 121.6 394.1 121.7 403.7 121.8 392.6 121.9 398.5 121.9 363.1 122.0 392.6 122.1 386.2 122.2 395.3 122.3 390.4 122.4 404.0 122.5 399.7 122.6 387.2 122.6 383.1 122.7 391.9 122.8 390.9 122.9 394.8 123.0 375.7 123.1 383.3 123.2 381.2 123.3 375.8 123.3 396.2 123.4 391.8 123.5 386.4 123.6 380.3 123.7 384.8 123.8 395.0 123.9 379.2 124.0 389.6 124.0 378.9 124.1 383.4 124.2 403.6 124.3 396.2 124.4 390.1 124.5 396.4 124.6 376.2 124.6 392.1 124.7 383.1 124.8 383.8 124.9 387.0 125.0 400.3 125.1 394.6 125.2 384.2 125.3 396.1 125.3 389.1 125.4 393.8 125.5 411.0 125.6 386.4 125.7 387.0 125.8 398.9 125.9 400.4 126.0 396.8 126.0 383.9 126.1 395.8 126.2 374.2 126.3 379.0 126.4 401.4 126.5 393.9 126.6 398.0 126.7 404.1 126.7 391.7 126.8 389.7 126.9 384.0 127.0 392.9 127.1 372.9 127.2 398.3 127.3 390.4 127.4 385.8 127.4 405.3 127.5 397.5 127.6 394.3 127.7 401.8 127.8 403.7 127.9 392.9 128.0 392.5 128.1 388.1 128.1 382.8 128.2 392.8 128.3 379.1 128.4 380.3 128.5 383.1 128.6 399.5 128.7 388.0 128.8 380.3 128.8 402.5 128.9 387.8 129.0 372.2 129.1 391.1 129.2 398.3 129.3 392.9 129.4 383.6 129.5 390.4 129.5 392.8 129.6 387.9 129.7 394.6 129.8 402.4 129.9 368.9 130.0 385.1 130.1 390.0 130.2 391.7 130.2 388.0 130.3 393.9 130.4 389.1 130.5 380.2 130.6 381.8 130.7 386.4 130.8 396.4 130.9 391.3 130.9 406.9 131.0 395.3 131.1 378.6 131.2 380.7 131.3 382.6 131.4 384.9 131.5 401.3 131.6 389.9 131.6 393.9 131.7 386.1 131.8 412.0 131.9 403.1 132.0 388.1 132.1 403.8 132.2 393.5 132.3 396.1 132.3 385.5 132.4 396.4 132.5 395.4 132.6 395.0 132.7 389.7 132.8 380.8 132.9 389.9 133.0 396.7 133.0 366.8 133.1 398.4 133.2 397.7 133.3 385.7 133.4 390.1 133.5 381.7 133.6 383.8 133.7 401.1 133.7 405.4 133.8 383.0 133.9 397.0 134.0 374.1 134.1 397.7 134.2 390.9 134.3 396.2 134.4 394.1 134.4 394.6 134.5 398.2 134.6 366.7 134.7 376.7 134.8 388.1 134.9 387.4 135.0 397.8 135.0 407.6 135.1 397.0 135.2 388.4 135.3 389.6 135.4 376.9 135.5 394.9 135.6 393.9 135.7 384.9 135.7 396.6 135.8 390.9 135.9 402.4 136.0 390.0 136.1 394.1 136.2 403.4 136.3 403.9 136.4 382.9 136.4 378.5 136.5 388.7 136.6 387.2 136.7 393.6 136.8 405.5 136.9 399.1 137.0 399.0 137.1 384.0 137.1 389.1 137.2 378.0 137.3 385.9 137.4 402.7 137.5 389.7 137.6 380.9 137.7 383.6 137.8 385.8 137.8 398.6 137.9 394.0 138.0 386.4 138.1 399.5 138.2 393.8 138.3 391.3 138.4 393.0 138.5 393.2 138.5 392.4 138.6 388.4 138.7 380.7 138.8 378.1 138.9 384.7 139.0 393.1 139.1 399.8 139.2 382.7 139.2 396.9 139.3 391.6 139.4 389.1 139.5 393.9 139.6 399.6 139.7 384.8 139.8 383.3 139.9 387.5 139.9 386.5 140.0 409.1 140.1 392.1 140.2 388.7 140.3 385.9 140.4 394.1 140.5 384.8 140.6 383.4 140.6 392.8 140.7 395.9 140.8 378.9 140.9 391.4 141.0 372.9 141.1 379.2 141.2 392.0 141.3 393.5 141.3 394.9 141.4 405.1 141.5 400.5 141.6 396.5 141.7 387.7 141.8 393.6 141.9 390.5 142.0 386.1 142.0 388.5 142.1 387.6 142.2 389.8 142.3 393.6 142.4 401.9 142.5 395.9 142.6 407.3 142.7 391.0 142.7 396.9 142.8 388.9 142.9 390.0 143.0 392.4 143.1 397.2 143.2 387.3 143.3 379.3 143.4 389.4 143.4 388.0 143.5 401.8 143.6 384.4 143.7 385.2 143.8 389.5 143.9 394.5 144.0 381.8 144.1 379.1 144.1 385.0 144.2 386.9 144.3 397.6 144.4 403.0 144.5 391.2 144.6 391.1 144.7 412.0 144.8 400.7 144.8 385.6 144.9 386.7 145.0 392.8 145.1 393.3 145.2 400.5 145.3 398.8 145.4 380.0 145.5 395.3 145.5 389.6 145.6 399.1 145.7 406.4 145.8 397.2 145.9 383.9 146.0 392.3 146.1 384.4 146.1 394.2 146.2 377.6 146.3 390.6 146.4 400.7 146.5 382.4 146.6 397.5 146.7 396.1 146.8 389.6 146.8 390.3 146.9 405.5 147.0 392.6 147.1 398.9 147.2 392.3 147.3 394.2 147.4 390.7 147.5 373.1 147.5 397.8 147.6 376.6 147.7 394.6 147.8 393.2 147.9 405.2 148.0 390.3 148.1 391.9 148.2 398.1 148.2 378.5 148.3 394.0 148.4 388.8 148.5 395.0 148.6 389.0 148.7 398.7 148.8 384.3 148.9 383.3 148.9 384.8 149.0 386.9 149.1 396.3 149.2 397.7 149.3 388.4 149.4 402.0 149.5 399.1 149.6 389.6 149.6 406.1 149.7 396.4 149.8 395.7 149.9 388.4 150.0 396.5 150.1 391.1 150.2 392.3 150.3 385.9 150.3 377.3 150.4 393.9 150.5 389.0 150.6 392.8 150.7 393.9 150.8 397.8 150.9 393.1 151.0 387.0 151.0 381.0 151.1 400.4 151.2 385.6 151.3 392.3 151.4 395.8 151.5 392.9 151.6 397.1 151.7 391.5 151.7 389.9 151.8 407.8 151.9 403.1 152.0 392.1 152.1 396.5 152.2 412.0 152.3 393.8 152.4 399.1 152.4 388.6 152.5 395.2 152.6 392.9 152.7 379.7 152.8 379.5 152.9 397.4 153.0 390.7 153.1 389.7 153.1 394.5 153.2 393.9 153.3 393.0 153.4 390.4 153.5 381.2 153.6 390.2 153.7 397.2 153.8 394.2 153.8 382.3 153.9 395.3 154.0 387.1 154.1 386.7 154.2 385.9 154.3 388.1 154.4 382.2 154.5 379.9 154.5 401.6 154.6 382.5 154.7 390.1 154.8 397.9 154.9 383.0 155.0 387.0 155.1 373.4 155.2 393.1 155.2 379.1 155.3 392.7 155.4 390.6 155.5 387.3 155.6 396.8 155.7 388.0 155.8 377.1 155.9 400.9 155.9 391.6 156.0 383.6 156.1 395.2 156.2 392.8 156.3 378.1 156.4 397.3 156.5 381.7 156.5 376.3 156.6 399.0 156.7 395.3 156.8 380.0 156.9 382.7 157.0 397.6 157.1 393.4 157.2 397.9 157.2 401.7 157.3 397.1 157.4 387.2 157.5 391.9 157.6 392.5 157.7 392.9 157.8 388.4 157.9 392.3 157.9 381.9 158.0 378.6 158.1 403.8 158.2 395.7 158.3 394.7 158.4 387.4 158.5 392.6 158.6 394.8 158.6 375.9 158.7 386.9 158.8 395.0 158.9 382.2 159.0 384.4 159.1 401.6 159.2 403.3 159.3 392.3 159.3 391.1 159.4 389.0 159.5 402.7 159.6 397.8 159.7 393.0 159.8 412.0 159.9 392.0 160.0 388.5 160.0 374.1 160.1 401.5 160.2 389.8 160.3 392.5 160.4 390.6 160.5 390.2 160.6 384.3 160.7 396.2 160.7 404.7 160.8 406.6 160.9 397.6 161.0 400.4 161.1 395.3 161.2 393.4 161.3 392.9 161.4 390.7 161.4 393.0 161.5 384.5 161.6 386.2 161.7 399.9 161.8 399.1 161.9 398.6 162.0 393.5 162.1 375.3 162.1 387.4 162.2 395.2 162.3 375.2 162.4 378.1 162.5 389.6 162.6 383.4 162.7 387.1 162.8 400.3 162.8 396.5 162.9 399.2 163.0 395.6 163.1 391.9 163.2 389.1 163.3 393.8 163.4 409.2 163.5 395.1 163.5 399.1 163.6 397.1 163.7 398.5 163.8 391.3 163.9 394.8 164.0 386.4 164.1 392.1 164.2 393.2 164.2 402.4 164.3 395.3 164.4 372.8 164.5 390.7 164.6 391.9 164.7 383.6 164.8 390.5 164.9 390.9 164.9 393.7 165.0 390.1 165.1 392.8 165.2 390.8 165.3 401.4 165.4 394.7 165.5 395.9 165.6 394.9 165.6 404.0 165.7 397.6 165.8 389.6 165.9 384.5 166.0 394.5 166.1 381.3 166.2 379.4 166.3 403.4 166.3 386.3 166.4 395.2 166.5 389.3 166.6 376.4 166.7 400.3 166.8 401.5 166.9 394.6 166.9 396.6 167.0 388.6 167.1 400.4 167.2 396.2 167.3 390.8 167.4 399.9 167.5 390.8 167.6 400.2 167.6 396.6 167.7 397.6 167.8 392.8 167.9 400.6 168.0 379.9 168.1 383.5 168.2 388.1 168.3 398.4 168.3 394.7 168.4 384.4 168.5 400.6 168.6 391.9 168.7 375.8 168.8 399.0 168.9 383.2 169.0 390.8 169.0 393.5 169.1 398.1 169.2 382.1 169.3 381.5 169.4 392.2 169.5 389.6 169.6 388.5 169.7 392.2 169.7 402.0 169.8 398.9 169.9 397.4 170.0 382.9 170.1 389.0 170.2 396.3 170.3 390.6 170.4 380.2 170.4 392.2 170.5 384.3 170.6 401.3 170.7 385.1 170.8 383.4 170.9 381.5 171.0 372.2 171.1 390.7 171.1 388.6 171.2 385.6 171.3 395.0 171.4 389.8 171.5 401.7 171.6 389.2 171.7 382.0 171.8 398.0 171.8 385.1 171.9 381.9 172.0 382.5 172.1 381.9 172.2 379.0 172.3 385.8 172.4 393.8 172.5 408.0 172.5 388.5 172.6 393.4 172.7 386.9 172.8 381.3 172.9 390.1 173.0 399.3 173.1 401.9 173.2 390.2 173.2 398.4 173.3 389.7 173.4 392.2 173.5 395.5 173.6 384.3 173.7 378.9 173.8 390.4 173.9 394.3 173.9 385.2 174.0 389.2 174.1 388.2 174.2 396.3 174.3 386.9 174.4 389.0 174.5 384.6 174.6 383.6 174.6 384.8 174.7 388.5 174.8 399.4 174.9 406.7 175.0 400.9 175.1 391.1 175.2 393.3 175.3 403.7 175.3 406.0 175.4 389.5 175.5 396.8 175.6 397.7 175.7 402.9 175.8 388.4 175.9 390.1 176.0 393.4 176.0 400.5 176.1 389.5 176.2 402.4 176.3 398.8 176.4 398.3 176.5 400.3 176.6 403.5 176.7 392.0 176.7 392.7 176.8 391.1 176.9 393.0 177.0 397.7 177.1 402.2 177.2 390.7 177.3 393.8 177.4 402.8 177.4 386.2 177.5 388.5 177.6 395.5 177.7 394.1 177.8 388.8 177.9 398.5 178.0 383.3 178.0 393.4 178.1 381.7 178.2 390.5 178.3 400.3 178.4 402.1 178.5 371.8 178.6 383.7 178.7 395.5 178.7 400.1 178.8 391.8 178.9 394.3 179.0 381.4 179.1 400.5 179.2 412.0 179.3 399.9 179.4 388.1 179.4 377.9 179.5 385.5 179.6 394.6 179.7 393.3 179.8 400.4 179.9 389.3 180.0 406.5 180.1 394.1 180.1 388.1 180.2 394.7 180.3 387.6 180.4 374.1 180.5 378.5 180.6 377.5 180.7 397.2 180.8 400.2 180.8 401.4 180.9 393.1 181.0 388.5 181.1 392.2 181.2 394.4 181.3 399.4 181.4 391.4 181.5 380.5 181.5 392.2 181.6 398.5 181.7 397.5 181.8 392.1 181.9 384.5 182.0 398.3 182.1 402.4 182.2 397.4 182.2 388.4 182.3 385.6 182.4 391.4 182.5 396.5 182.6 376.3 182.7 382.2 182.8 404.1 182.9 389.5 182.9 383.9 183.0 389.2 183.1 391.9 183.2 399.4 183.3 389.9 183.4 398.2 183.5 381.6 183.6 381.6 183.6 388.5 183.7 388.6 183.8 388.7 183.9 381.7 184.0 380.0 184.1 390.4 184.2 390.2 184.3 379.1 184.3 392.6 184.4 398.4 184.5 391.2 184.6 405.2 184.7 382.1 184.8 389.0 184.9 393.0 185.0 395.2 185.0 398.4 185.1 393.7 185.2 405.9 185.3 381.4 185.4 392.2 185.5 388.5 185.6 399.2 185.7 398.0 185.7 399.0 185.8 382.6 185.9 383.0 186.0 384.1 186.1 390.1 186.2 393.7 186.3 388.1 186.4 387.9 186.4 385.0 186.5 388.0 186.6 383.8 186.7 385.4 186.8 386.3 186.9 401.2 187.0 386.8 187.1 384.4 187.1 391.4 187.2 387.5 187.3 390.1 187.4 389.8 187.5 387.2 187.6 390.8 187.7 385.1 187.8 382.3 187.8 368.2 187.9 383.0 188.0 400.9 188.1 372.2 188.2 386.4 188.3 399.5 188.4 395.1 188.4 393.0 188.5 383.2 188.6 402.0 188.7 393.4 188.8 405.2 188.9 389.5 189.0 393.6 189.1 393.6 189.1 393.6 189.2 394.3 189.3 385.4 189.4 395.8 189.5 401.6 189.6 392.9 189.7 394.3 189.8 386.0 189.8 393.6 189.9 388.8 190.0 388.3 190.1 380.3 190.2 406.0 190.3 399.4 190.4 402.8 190.5 387.4 190.5 388.6 190.6 399.1 190.7 399.6 190.8 392.7 190.9 392.0 191.0 404.5 191.1 385.6 191.2 393.4 191.2 400.5 191.3 390.2 191.4 399.1 191.5 385.0 191.6 393.0 191.7 400.2 191.8 387.4 191.9 383.4 191.9 396.6 192.0 389.2 192.1 392.8 192.2 392.1 192.3 391.8 192.4 391.5 192.5 384.7 192.6 382.1 192.6 378.2 192.7 382.0 192.8 381.0 192.9 387.5 193.0 396.7 193.1 395.4 193.2 392.6 193.3 399.1 193.3 410.8 193.4 400.3 193.5 386.4 193.6 370.9 193.7 374.8 193.8 384.3 193.9 389.1 194.0 382.1 194.0 385.1 194.1 394.8 194.2 398.3 194.3 401.1 194.4 404.6 194.5 409.6 194.6 389.2 194.7 394.5 194.7 386.0 194.8 391.8 194.9 399.9 195.0 385.8 195.1 393.9 195.2 384.3 195.3 385.3 195.4 386.8 195.4 376.1 195.5 399.7 195.6 376.9 195.7 372.1 195.8 395.0 195.9 384.3 196.0 401.6 196.1 372.0 196.1 395.1 196.2 401.0 196.3 401.7 196.4 388.5 196.5 383.8 196.6 394.2 196.7 378.6 196.8 387.3 196.8 397.2 196.9 383.5 197.0 372.0 197.1 403.4 197.2 397.7 197.3 389.8 197.4 396.6 197.5 394.6 197.5 399.8 197.6 390.8 197.7 403.9 197.8 404.5 197.9 364.2 198.0 394.7 198.1 401.3 198.2 392.9 198.2 400.6 198.3 411.2 198.4 394.7 198.5 391.7 198.6 383.2 198.7 393.3 198.8 387.0 198.8 389.7 198.9 386.6 199.0 391.1 199.1 398.6 199.2 385.4 199.3 393.6 199.4 390.2 199.5 400.4 199.5 388.5 199.6 399.4 199.7 382.4 199.8 396.3 199.9 382.4 200.0 396.0 200.1 387.3 200.2 392.6 200.2 377.1 200.3 388.2 200.4 381.8 200.5 397.0 200.6 391.0 200.7 392.6 200.8 374.0 200.9 395.0 200.9 392.7 201.0 391.4 201.1 403.3 201.2 390.1 201.3 379.0 201.4 397.0 201.5 394.3 201.6 400.3 201.6 396.6 201.7 395.2 201.8 387.8 201.9 396.9 202.0 402.4 202.1 380.0 202.2 379.7 202.3 380.2 202.3 384.7 202.4 402.0 202.5 396.4 202.6 400.3 202.7 406.6 202.8 389.2 202.9 388.7 203.0 391.1 203.0 384.7 203.1 381.9 203.2 391.3 203.3 387.2 203.4 383.9 203.5 391.3 203.6 394.7 203.7 394.0 203.7 389.9 203.8 407.6 203.9 402.2 204.0 389.0 204.1 386.2 204.2 378.8 204.3 406.7 204.4 402.5 204.4 387.2 204.5 371.6 204.6 389.4 204.7 405.3 204.8 405.5 204.9 391.8 205.0 391.7 205.1 390.1 205.1 394.5 205.2 398.7 205.3 408.5 205.4 382.2 205.5 390.6 205.6 403.4 205.7 397.1 205.8 396.1 205.8 400.6 205.9 401.6 206.0 401.1 206.1 387.2 206.2 382.3 206.3 395.1 206.4 403.3 206.5 387.1 206.5 388.1 206.6 365.8 206.7 398.7 206.8 398.6 206.9 384.3 207.0 380.3 207.1 394.5 207.2 403.0 207.2 398.8 207.3 392.9 207.4 388.5 207.5 388.9 207.6 399.0 207.7 399.9 207.8 395.0 207.9 390.9 207.9 396.1 208.0 382.9 208.1 395.6 208.2 405.0 208.3 386.7 208.4 397.4 208.5 396.8 208.6 387.6 208.6 395.4 208.7 397.3 208.8 381.8 208.9 398.9 209.0 393.1 209.1 399.3 209.2 404.4 209.2 402.7 209.3 389.1 209.4 403.8 209.5 390.8 209.6 386.5 209.7 400.4 209.8 378.8 209.9 398.4 209.9 395.7 210.0 394.6 210.1 393.4 210.2 385.6 210.3 399.9 210.4 392.4 210.5 379.7 210.6 387.7 210.6 386.4 210.7 383.4 210.8 385.6 210.9 383.5 211.0 388.3 211.1 398.6 211.2 384.6 211.3 403.4 211.3 374.6 211.4 400.3 211.5 410.1 211.6 399.7 211.7 398.2 211.8 381.6 211.9 389.8 212.0 399.1 212.0 388.4 212.1 394.3 212.2 405.0 212.3 397.9 212.4 383.6 212.5 391.2 212.6 398.4 212.7 393.6 212.7 375.2 212.8 381.6 212.9 397.9 213.0 399.6 213.1 411.5 213.2 387.7 213.3 382.9 213.4 382.1 213.4 381.9 213.5 396.8 213.6 398.8 213.7 392.4 213.8 380.5 213.9 398.8 214.0 399.7 214.1 381.7 214.1 393.4 214.2 386.3 214.3 379.8 214.4 393.9 214.5 407.4 214.6 394.1 214.7 403.0 214.8 380.1 214.8 394.0 214.9 394.7 215.0 380.4 215.1 390.6 215.2 384.1 215.3 390.5 215.4 389.4 215.5 386.4 215.5 398.0 215.6 394.7 215.7 384.3 215.8 384.3 215.9 385.4 216.0 395.6 216.1 389.4 216.2 401.7 216.2 409.8 216.3 395.3 216.4 392.9 216.5 399.3 216.6 392.0 216.7 383.6 216.8 389.9 216.9 415.7 216.9 399.4 217.0 391.8 217.1 380.4 217.2 384.4 217.3 391.2 217.4 395.5 217.5 403.0 217.6 392.2 217.6 385.4 217.7 405.0 217.8 378.7 217.9 375.7 218.0 395.7 218.1 396.2 218.2 404.0 218.3 398.2 218.3 400.8 218.4 384.0 218.5 405.4 218.6 398.3 218.7 385.1 218.8 388.4 218.9 374.9 219.0 384.0 219.0 390.3 219.1 387.7 219.2 364.3 219.3 396.8 219.4 390.3 219.5 386.4 219.6 395.8 219.7 369.7 219.7 373.4 219.8 395.1 219.9 388.2 220.0 406.7 220.1 384.7 220.2 409.6 220.3 393.7 220.3 404.5 220.4 371.9 220.5 401.2 220.6 392.6 220.7 377.4 220.8 390.8 220.9 372.6 221.0 369.3 221.0 390.7 221.1 383.2 221.2 380.4 221.3 384.6 221.4 409.8 221.5 393.1 221.6 394.5 221.7 389.3 221.7 389.8 221.8 405.9 221.9 410.3 222.0 382.6 222.1 393.5 222.2 396.6 222.3 401.7 222.4 383.1 222.4 387.0 222.5 405.0 222.6 398.8 222.7 400.2 222.8 398.4 222.9 391.9 223.0 393.3 223.1 397.8 223.1 412.6 223.2 400.9 223.3 412.2 223.4 393.9 223.5 410.7 223.6 398.3 223.7 394.8 223.8 400.3 223.8 402.6 223.9 404.4 224.0 389.0 224.1 391.1 224.2 404.7 224.3 389.6 224.4 385.8 224.5 398.5 224.5 388.4 224.6 400.3 224.7 399.7 224.8 377.4 224.9 378.8 225.0 382.2 225.1 381.3 225.2 387.7 225.2 406.7 225.3 405.9 225.4 389.4 225.5 408.9 225.6 403.0 225.7 360.6 225.8 389.4 225.9 399.8 225.9 379.1 226.0 383.9 226.1 400.6 226.2 367.9 226.3 390.6 226.4 389.8 226.5 388.6 226.6 417.4 226.6 398.8 226.7 381.2 226.8 389.5 226.9 373.4 227.0 394.2 227.1 408.1 227.2 387.4 227.3 394.4 227.3 397.1 227.4 400.4 227.5 393.8 227.6 376.1 227.7 381.1 227.8 380.5 227.9 386.2 228.0 397.8 228.0 398.5 228.1 394.3 228.2 394.7 228.3 397.1 228.4 392.6 228.5 386.6 228.6 392.2 228.7 394.3 228.7 395.0 228.8 391.0 228.9 393.2 229.0 381.1 229.1 372.5 229.2 387.8 229.3 408.2 229.4 397.9 229.4 378.6 229.5 396.4 229.6 397.2 229.7 390.5 229.8 366.7 229.9 392.5 230.0 401.3 230.1 391.9 230.1 389.9 230.2 393.3 230.3 395.9 230.4 377.8 230.5 401.9 230.6 386.9 230.7 387.3 230.7 391.7 230.8 386.1 230.9 383.0 231.0 392.3 231.1 403.3 231.2 398.3 231.3 400.1 231.4 399.2 231.4 370.2 231.5 394.6 231.6 367.4 231.7 373.3 231.8 356.1 231.9 354.5 232.0 363.6 232.1 339.0 232.1 348.1 232.2 354.6 232.3 327.3 232.4 342.2 232.5 354.9 232.6 340.9 232.7 334.1 232.8 326.9 232.8 330.3 232.9 377.2 233.0 343.0 233.1 328.1 233.2 330.6 233.3 319.5 233.4 352.6 233.5 356.3 233.5 331.8 233.6 348.8 233.7 366.6 233.8 357.6 233.9 374.3 234.0 336.9 234.1 350.0 234.2 341.0 234.2 341.0 234.3 359.0 234.4 341.9 234.5 338.4 234.6 351.5 234.7 344.3 234.8 337.7 234.9 309.5 234.9 327.5 235.0 334.2 235.1 330.1 235.2 354.8 235.3 337.6 235.4 308.0 235.5 374.8 235.6 343.0 235.6 356.4 235.7 350.3 235.8 328.7 235.9 363.7 236.0 353.9 236.1 334.7 236.2 369.9 236.3 311.9 236.3 348.9 236.4 377.2 236.5 343.0 236.6 347.1 236.7 339.2 236.8 360.9 236.9 349.8 237.0 338.1 237.0 351.6 237.1 340.3 237.2 349.1 237.3 325.4 237.4 341.2 237.5 336.1 237.6 348.5 237.7 343.2 237.7 338.4 237.8 344.0 237.9 329.2 238.0 337.1 238.1 349.8 238.2 349.0 238.3 340.0 238.4 354.8 238.4 348.8 238.5 331.2 238.6 327.3 238.7 354.4 238.8 339.0 238.9 358.0 239.0 361.2 239.1 356.7 239.1 343.5 239.2 344.1 239.3 326.0 239.4 342.6 239.5 347.6 239.6 323.0 239.7 341.9 239.8 358.5 239.8 351.8 239.9 331.4 240.0 341.7 240.1 348.3 240.2 376.1 240.3 354.1 240.4 368.1 240.5 353.2 240.5 337.3 240.6 368.9 240.7 393.7 240.8 389.8 240.9 396.1 241.0 385.6 241.1 384.1 241.1 372.7 241.2 385.4 241.3 393.0 241.4 400.7 241.5 400.8 241.6 393.2 241.7 391.6 241.8 372.1 241.8 395.3 241.9 378.5 242.0 413.1 242.1 398.1 242.2 358.3 242.3 383.4 242.4 383.9 242.5 392.8 242.5 394.7 242.6 405.4 242.7 395.4 242.8 402.5 242.9 405.2 243.0 415.1 243.1 380.9 243.2 381.1 243.2 373.1 243.3 385.8 243.4 412.7 243.5 361.0 243.6 382.6 243.7 399.8 243.8 414.9 243.9 390.6 243.9 393.3 244.0 372.8 244.1 385.6 244.2 375.3 244.3 395.9 244.4 390.7 244.5 380.6 244.6 401.0 244.6 393.3 244.7 399.2 244.8 394.8 244.9 402.4 245.0 380.9 245.1 402.3 245.2 383.8 245.3 388.8 245.3 394.5 245.4 411.1 245.5 408.2 245.6 394.5 245.7 415.0 245.8 401.3 245.9 402.8 246.0 405.2 246.0 391.5 246.1 411.9 246.2 420.3 246.3 399.7 246.4 403.9 246.5 412.4 246.6 416.0 246.7 400.0 246.7 374.5 246.8 384.5 246.9 400.4 247.0 423.4 247.1 422.9 247.2 389.0 247.3 370.2 247.4 400.9 247.4 391.2 247.5 393.5 247.6 397.2 247.7 399.0 247.8 409.7 247.9 416.4 248.0 399.7 248.1 394.9 248.1 419.9 248.2 390.3 248.3 367.0 248.4 376.0 248.5 389.2 248.6 354.0 248.7 384.3 248.8 368.6 248.8 393.1 248.9 418.1 249.0 409.2 249.1 390.1 249.2 411.3 249.3 408.2 249.4 394.5 249.5 373.3 249.5 392.8 249.6 395.1 249.7 388.0 249.8 392.4 249.9 378.9 250.0 419.3 250.1 386.7 250.2 395.2 250.2 411.8 250.3 391.5 250.4 380.3 250.5 366.0 250.6 372.2 250.7 377.3 250.8 389.6 250.9 356.1 250.9 381.1 251.0 366.9 251.1 380.0 251.2 418.8 251.3 407.9 251.4 383.3 251.5 379.1 251.5 390.9 251.6 396.7 251.7 385.6 251.8 398.4 251.9 377.5 252.0 366.9 252.1 393.7 252.2 364.0 252.2 361.8 252.3 404.5 252.4 410.9 252.5 394.5 252.6 386.9 252.7 375.1 252.8 407.9 252.9 407.9 252.9 380.9 253.0 406.2 253.1 408.0 253.2 396.5 253.3 382.6 253.4 399.4 253.5 397.9 253.6 385.2 253.6 398.4 253.7 419.2 253.8 383.8 253.9 392.4 254.0 391.3 254.1 409.4 254.2 412.7 254.3 394.6 254.3 412.2 254.4 389.4 254.5 392.1 254.6 377.7 254.7 381.6 254.8 404.3 254.9 376.4 255.0 392.4 255.0 367.6 255.1 379.4 255.2 402.0 255.3 415.5 255.4 393.5 255.5 393.1 255.6 389.9 255.7 386.0 255.7 385.5 255.8 394.4 255.9 396.1 256.0 405.0 256.1 387.4 256.2 420.8 256.3 406.7 256.4 408.4 256.4 392.4 256.5 391.9 256.6 382.0 256.7 372.5 256.8 404.1 256.9 393.8 257.0 400.1 257.1 404.4 257.1 378.9 257.2 378.4 257.3 415.3 257.4 397.9 257.5 400.7 257.6 389.7 257.7 393.0 257.8 380.5 257.8 414.9 257.9 410.0 258.0 388.1 258.1 401.9 258.2 391.5 258.3 391.3 258.4 413.6 258.5 406.2 258.5 391.9 258.6 391.7 258.7 394.8 258.8 384.4 258.9 384.3 259.0 395.0 259.1 415.5 259.2 397.0 259.2 400.1 259.3 387.0 259.4 403.6 259.5 381.1 259.6 376.8 259.7 403.5 259.8 370.0 259.9 422.7 259.9 425.3 260.0 379.9 260.1 366.4 260.2 402.1 260.3 380.3 260.4 377.1 260.5 365.3 260.6 389.1 260.6 384.0 260.7 408.7 260.8 422.9 260.9 389.7 261.0 412.8 261.1 405.1 261.2 378.1 261.3 398.0 261.3 417.6 261.4 415.6 261.5 405.7 261.6 377.4 261.7 426.0 261.8 374.6 261.9 384.1 262.0 403.7 262.0 398.3 262.1 408.2 262.2 394.2 262.3 384.3 262.4 389.2 262.5 388.0 262.6 372.5 262.6 389.0 262.7 399.0 262.8 418.0 262.9 409.0 263.0 365.5 263.1 415.5 263.2 414.2 263.3 410.4 263.3 395.8 263.4 423.7 263.5 408.3 263.6 401.0 263.7 395.0 263.8 398.9 263.9 397.6 264.0 424.8 264.0 398.9 264.1 402.5 264.2 400.5 264.3 397.4 264.4 392.7 264.5 372.0 264.6 399.6 264.7 386.5 264.7 395.6 264.8 392.2 264.9 403.8 265.0 401.2 265.1 399.7 265.2 390.1 265.3 398.9 265.4 408.9 265.4 411.1 265.5 388.1 265.6 385.8 265.7 385.3 265.8 399.7 265.9 360.3 266.0 394.6 266.1 406.6 266.1 380.3 266.2 396.6 266.3 383.9 266.4 386.3 266.5 407.7 266.6 406.2 266.7 411.5 266.8 397.8 266.8 412.3 266.9 405.2 267.0 408.3 267.1 428.4 267.2 384.0 267.3 407.7 267.4 382.7 267.5 392.2 267.5 387.9 267.6 399.3 267.7 410.9 267.8 380.2 267.9 419.6 268.0 426.3 268.1 388.0 268.2 384.7 268.2 381.5 268.3 382.4 268.4 397.7 268.5 387.5 268.6 385.5 268.7 381.6 268.8 375.4 268.9 398.3 268.9 378.4 269.0 399.1 269.1 393.1 269.2 378.6 269.3 367.4 269.4 384.2 269.5 393.3 269.6 408.8 269.6 402.2 269.7 380.4 269.8 386.9 269.9 406.7 270.0 374.6 270.1 380.2 270.2 392.1 270.3 392.7 270.3 413.1 270.4 402.8 270.5 410.9 270.6 393.0 270.7 396.8 270.8 391.3 270.9 394.3 271.0 358.9 271.0 396.9 271.1 395.0 271.2 398.7 271.3 409.9 271.4 398.2 271.5 410.6 271.6 391.8 271.7 405.3 271.7 416.3 271.8 395.6 271.9 389.8 272.0 396.9 272.1 372.6 272.2 404.5 272.3 408.5 272.4 392.7 272.4 401.6 272.5 382.4 272.6 388.2 272.7 392.4 272.8 390.4 272.9 381.8 273.0 403.1 273.0 392.5 273.1 392.5 273.2 394.1 273.3 416.2 273.4 375.4 273.5 406.9 273.6 411.2 273.7 371.8 273.7 393.7 273.8 424.0 273.9 404.7 274.0 398.4 274.1 410.2 274.2 417.0 274.3 399.4 274.4 401.7 274.4 403.8 274.5 413.8 274.6 360.3 274.7 389.2 274.8 398.7 274.9 400.2 275.0 422.5 275.1 394.3 275.1 383.6 275.2 400.0 275.3 410.4 275.4 391.6 275.5 421.7 275.6 407.0 275.7 402.9 275.8 391.1 275.8 396.4 275.9 412.6 276.0 396.4 276.1 409.8 276.2 420.9 276.3 387.9 276.4 400.3 276.5 396.6 276.5 387.6 276.6 388.3 276.7 390.0 276.8 400.0 276.9 396.2 277.0 394.3 277.1 410.2 277.2 415.3 277.2 373.5 277.3 392.6 277.4 412.7 277.5 396.4 277.6 399.6 277.7 414.8 277.8 391.2 277.9 378.1 277.9 406.1 278.0 391.8 278.1 404.6 278.2 415.3 278.3 409.1 278.4 392.9 278.5 379.3 278.6 386.1 278.6 390.8 278.7 382.0 278.8 387.5 278.9 395.9 279.0 396.0 279.1 402.8 279.2 389.1 279.3 370.3 279.3 395.7 279.4 411.6 279.5 367.8 279.6 396.5 279.7 395.0 279.8 391.5 279.9 398.3 280.0 397.2 280.0 391.6 280.1 410.1 280.2 413.0 280.3 398.1 280.4 386.8 280.5 397.9 280.6 395.5 280.7 411.1 280.7 400.4 280.8 397.8 280.9 411.9 281.0 392.7 281.1 408.1 281.2 388.9 281.3 403.2 281.4 402.8 281.4 387.4 281.5 405.3 281.6 406.4 281.7 417.7 281.8 403.8 281.9 366.7 282.0 390.1 282.1 385.0 282.1 393.6 282.2 405.7 282.3 386.1 282.4 387.9 282.5 379.9 282.6 418.0 282.7 406.4 282.8 401.7 282.8 393.0 282.9 399.9 283.0 412.0 283.1 403.6 283.2 409.2 283.3 397.4 283.4 388.3 283.4 383.0 283.5 404.5 283.6 417.2 283.7 413.0 283.8 387.7 283.9 400.8 284.0 411.3 284.1 381.7 284.1 414.8 284.2 416.5 284.3 406.8 284.4 397.5 284.5 392.5 284.6 384.6 284.7 398.4 284.8 401.3 284.8 387.4 284.9 381.1 285.0 416.7 285.1 409.0 285.2 400.1 285.3 398.5 285.4 401.2 285.5 398.2 285.5 397.1 285.6 411.7 285.7 398.4 285.8 391.3 285.9 418.3 286.0 384.7 286.1 375.9 286.2 405.2 286.2 379.9 286.3 395.9 286.4 426.5 286.5 393.8 286.6 404.3 286.7 392.9 286.8 366.6 286.9 394.9 286.9 397.8 287.0 397.5 287.1 378.2 287.2 386.8 287.3 384.5 287.4 365.3 287.5 393.2 287.6 396.4 287.6 401.6 287.7 377.5 287.8 369.0 287.9 402.8 288.0 405.8 288.1 371.4 288.2 403.1 288.3 403.7 288.3 397.6 288.4 401.5 288.5 388.1 288.6 385.4 288.7 399.2 288.8 410.3 288.9 372.5 289.0 390.8 289.0 401.7 289.1 407.2 289.2 388.6 289.3 383.4 289.4 416.6 289.5 416.5 289.6 393.6 289.7 400.3 289.7 390.6 289.8 378.9 289.9 405.3 290.0 423.7 290.1 391.1 290.2 405.8 290.3 407.6 290.4 405.5 290.4 405.3 290.5 428.4 290.6 427.7 290.7 411.3 290.8 405.8 290.9 384.3 291.0 392.5 291.1 404.1 291.1 404.6 291.2 391.1 291.3 381.5 291.4 398.5 291.5 367.8 291.6 394.3 291.7 392.3 291.8 411.4 291.8 392.1 291.9 402.8 292.0 404.2 292.1 394.9 292.2 366.3 292.3 393.5 292.4 401.3 292.5 415.5 292.5 408.4 292.6 407.4 292.7 395.5 292.8 399.0 292.9 410.1 293.0 407.5 293.1 400.7 293.2 408.1 293.2 379.3 293.3 386.5 293.4 388.5 293.5 405.6 293.6 396.3 293.7 400.1 293.8 410.2 293.9 400.5 293.9 392.0 294.0 399.3 294.1 410.0 294.2 393.2 294.3 407.7 294.4 394.8 294.5 409.0 294.5 393.9 294.6 393.1 294.7 406.7 294.8 375.1 294.9 419.3 295.0 397.5 295.1 385.4 295.2 388.7 295.2 405.0 295.3 400.8 295.4 410.1 295.5 393.3 295.6 401.5 295.7 421.3 295.8 423.0 295.9 429.0 295.9 379.6 296.0 396.5 296.1 386.9 296.2 400.1 296.3 419.1 296.4 388.1 296.5 386.5 296.6 411.5 296.6 402.1 296.7 395.4 296.8 384.0 296.9 391.5 297.0 409.4 297.1 414.7 297.2 376.3 297.3 406.5 297.3 404.5 297.4 411.4 297.5 409.8 297.6 413.7 297.7 376.2 297.8 412.2 297.9 423.2 298.0 408.1 298.0 412.6 298.1 412.2 298.2 393.1 298.3 386.7 298.4 422.4 298.5 405.8 298.6 428.6 298.7 405.5 298.7 395.6 298.8 391.0 298.9 404.2 299.0 419.0 299.1 399.6 299.2 392.7 299.3 400.9 299.4 399.2 299.4 402.0 299.5 403.8 299.6 403.9 299.7 415.0 299.8 394.8 299.9 419.2 300.0 411.8 300.1 381.0 300.1 411.7 300.2 408.4 300.3 393.1 300.4 394.7 300.5 387.7 300.6 392.7 300.7 400.3 300.8 387.6 300.8 395.2 300.9 393.7 301.0 402.4 301.1 403.7 301.2 403.2 301.3 376.5 301.4 400.4 301.5 353.5 301.5 416.7 301.6 400.0 301.7 404.8 301.8 382.9 301.9 395.5 302.0 403.7 302.1 372.5 302.2 406.6 302.2 372.6 302.3 403.1 302.4 410.3 302.5 399.7 302.6 413.9 302.7 408.4 302.8 415.6 302.9 413.7 302.9 394.1 303.0 409.3 303.1 403.0 303.2 411.2 303.3 435.1 303.4 405.5 303.5 387.2 303.6 378.2 303.6 382.5 303.7 404.0 303.8 408.0 303.9 394.8 304.0 378.4 304.1 373.5 304.2 405.7 304.3 382.0 304.3 402.2 304.4 401.4 304.5 388.1 304.6 376.4 304.7 380.8 304.8 415.9 304.9 404.5 304.9 384.9 305.0 392.2 305.1 406.9 305.2 386.8 305.3 388.7 305.4 387.5 305.5 411.0 305.6 392.3 305.6 406.1 305.7 405.9 305.8 412.5 305.9 409.9 306.0 410.8 306.1 384.9 306.2 379.9 306.3 403.1 306.3 408.3 306.4 412.1 306.5 403.6 306.6 410.0 306.7 407.9 306.8 401.6 306.9 407.6 307.0 381.8 307.0 398.8 307.1 405.0 307.2 408.7 307.3 410.2 307.4 385.2 307.5 390.5 307.6 402.7 307.7 391.9 307.7 421.2 307.8 404.5 307.9 379.9 308.0 395.9 308.1 385.3 308.2 396.8 308.3 395.3 308.4 392.9 308.4 367.4 308.5 384.1 308.6 400.8 308.7 383.7 308.8 398.8 308.9 402.1 309.0 392.8 309.1 401.7 309.1 399.9 309.2 410.5 309.3 395.5 309.4 413.9 309.5 408.8 309.6 404.2 309.7 424.0 309.8 415.4 309.8 393.5 309.9 384.8 310.0 380.6 310.1 386.2 310.2 393.1 310.3 389.5 310.4 392.3 310.5 421.1 310.5 391.8 310.6 406.4 310.7 403.5 310.8 415.4 310.9 391.8 311.0 400.1 311.1 425.2 311.2 386.7 311.2 386.4 311.3 407.9 311.4 399.6 311.5 412.8 311.6 392.1 311.7 395.4 311.8 432.1 311.9 379.8 311.9 420.0 312.0 414.1 312.1 386.2 312.2 404.4 312.3 371.1 312.4 391.2 312.5 393.9 312.6 391.9 312.6 399.7 312.7 399.8 312.8 394.5 312.9 397.0 313.0 412.7 313.1 401.3 313.2 407.2 313.3 401.8 313.3 413.1 313.4 400.5 313.5 402.9 313.6 414.1 313.7 409.7 313.8 418.8 313.9 393.2 314.0 402.4 314.0 399.5 314.1 391.6 314.2 397.7 314.3 406.7 314.4 397.3 314.5 388.0 314.6 415.8 314.7 391.6 314.7 392.7 314.8 414.1 314.9 423.4 315.0 391.4 315.1 392.4 315.2 415.1 315.3 408.5 315.3 388.6 315.4 394.3 315.5 397.3 315.6 416.0 315.7 399.2 315.8 414.9 315.9 411.7 316.0 418.3 316.0 420.1 316.1 398.5 316.2 398.6 316.3 386.4 316.4 405.3 316.5 404.7 316.6 392.3 316.7 405.4 316.7 390.7 316.8 392.8 316.9 396.7 317.0 398.3 317.1 405.3 317.2 429.2 317.3 425.4 317.4 398.7 317.4 395.9 317.5 395.7 317.6 407.8 317.7 406.4 317.8 390.6 317.9 414.4 318.0 410.8 318.1 387.9 318.1 402.4 318.2 426.1 318.3 392.5 318.4 381.8 318.5 385.5 318.6 408.7 318.7 409.7 318.8 409.3 318.8 392.5 318.9 405.3 319.0 401.5 319.1 427.3 319.2 402.1 319.3 390.1 319.4 405.2 319.5 387.0 319.5 397.6 319.6 400.8 319.7 416.9 319.8 401.8 319.9 407.2 320.0 413.5 320.1 402.3 320.2 408.7 320.2 404.0 320.3 397.3 320.4 404.1 320.5 399.3 320.6 391.4 320.7 391.0 320.8 410.1 320.9 401.6 320.9 409.3 321.0 407.5 321.1 391.8 321.2 399.3 321.3 391.6 321.4 416.6 321.5 389.7 321.6 425.6 321.6 404.2 321.7 394.0 321.8 410.5 321.9 404.7 322.0 398.4 322.1 386.7 322.2 398.4 322.3 425.7 322.3 404.4 322.4 391.1 322.5 404.7 322.6 411.0 322.7 410.6 322.8 394.6 322.9 408.8 323.0 399.5 323.0 402.2 323.1 400.2 323.2 399.0 323.3 410.8 323.4 410.3 323.5 433.0 323.6 408.6 323.7 422.4 323.7 424.9 323.8 409.8 323.9 399.9 324.0 414.4 324.1 411.8 324.2 409.4 324.3 408.0 324.4 408.0 324.4 410.0 324.5 410.7 324.6 414.6 324.7 399.2 324.8 393.6 324.9 385.4 325.0 384.3 325.1 413.3 325.1 408.3 325.2 404.0 325.3 407.2 325.4 422.3 325.5 415.8 325.6 399.2 325.7 388.3 325.7 393.4 325.8 400.6 325.9 414.7 326.0 412.7 326.1 386.7 326.2 386.5 326.3 401.9 326.4 418.0 326.4 412.8 326.5 381.0 326.6 390.2 326.7 386.6 326.8 411.7 326.9 394.5 327.0 400.2 327.1 422.2 327.1 392.9 327.2 399.3 327.3 400.8 327.4 434.3 327.5 411.9 327.6 410.5 327.7 412.8 327.8 397.1 327.8 400.7 327.9 391.3 328.0 395.9 328.1 416.7 328.2 389.1 328.3 380.8 328.4 406.0 328.5 392.9 328.5 395.4 328.6 407.1 328.7 401.3 328.8 397.1 328.9 402.9 329.0 413.6 329.1 405.9 329.2 411.9 329.2 409.4 329.3 358.8 329.4 363.7 329.5 417.7 329.6 394.4 329.7 409.5 329.8 395.3 329.9 410.8 329.9 388.2 330.0 389.7 330.1 384.3 330.2 381.4 330.3 403.6 330.4 390.2 330.5 377.6 330.6 380.1 330.6 393.6 330.7 411.1 330.8 417.2 330.9 392.9 331.0 421.2 331.1 409.9 331.2 401.8 331.3 386.2 331.3 394.6 331.4 382.4 331.5 390.9 331.6 403.1 331.7 416.6 331.8 400.7 331.9 434.6 332.0 391.3 332.0 410.7 332.1 387.9 332.2 389.4 332.3 398.2 332.4 398.2 332.5 398.8 332.6 399.9 332.7 407.2 332.7 415.6 332.8 401.3 332.9 389.6 333.0 419.6 333.1 415.0 333.2 428.0 333.3 414.6 333.4 396.8 333.4 407.3 333.5 397.4 333.6 419.3 333.7 391.1 333.8 407.1 333.9 410.3 334.0 404.1 334.1 401.0 334.1 408.3 334.2 422.6 334.3 388.2 334.4 418.7 334.5 419.9 334.6 417.5 334.7 407.9 334.8 404.4 334.8 388.4 334.9 422.8 335.0 405.1 335.1 380.5 335.2 417.5 335.3 429.7 335.4 408.9 335.5 418.7 335.5 409.2 335.6 401.5 335.7 410.0 335.8 406.3 335.9 402.4 336.0 384.8 336.1 410.4 336.2 418.3 336.2 404.6 336.3 419.0 336.4 379.1 336.5 394.4 336.6 399.7 336.7 385.6 336.8 400.3 336.8 391.8 336.9 397.1 337.0 397.9 337.1 375.2 337.2 427.9 337.3 387.4 337.4 393.2 337.5 409.9 337.5 424.7 337.6 408.8 337.7 403.1 337.8 408.9 337.9 410.2 338.0 385.1 338.1 386.2 338.2 390.2 338.2 394.6 338.3 419.7 338.4 407.5 338.5 435.4 338.6 382.1 338.7 414.5 338.8 423.0 338.9 402.2 338.9 384.0 339.0 414.9 339.1 410.9 339.2 381.6 339.3 402.5 339.4 381.0 339.5 406.9 339.6 377.4 339.6 402.0 339.7 391.3 339.8 417.3 339.9 391.1 340.0 403.3 340.1 380.4 340.2 400.9 340.3 396.9 340.3 404.5 340.4 395.8 340.5 396.4 340.6 409.5 340.7 392.9 340.8 405.8 340.9 396.8 341.0 401.4 341.0 424.6 341.1 421.6 341.2 397.3 341.3 410.8 341.4 403.7 341.5 409.1 341.6 392.2 341.7 388.8 341.7 414.3 341.8 409.0 341.9 386.8 342.0 388.3 342.1 408.4 342.2 389.1 342.3 379.2 342.4 401.9 342.4 397.1 342.5 417.8 342.6 382.5 342.7 413.6 342.8 408.7 342.9 411.0 343.0 420.8 343.1 419.2 343.1 377.7 343.2 396.8 343.3 382.2 343.4 374.0 343.5 402.2 343.6 407.6 343.7 411.3 343.8 409.0 343.8 405.3 343.9 391.9 344.0 400.9 344.1 392.0 344.2 384.7 344.3 400.9 344.4 393.2 344.5 384.6 344.5 402.4 344.6 399.8 344.7 403.4 344.8 395.2 344.9 392.6 345.0 404.6 345.1 435.5 345.2 397.8 345.2 405.3 345.3 382.5 345.4 395.8 345.5 391.6 345.6 389.6 345.7 395.4 345.8 387.2 345.9 400.1 345.9 395.2 346.0 394.0 346.1 417.8 346.2 413.2 346.3 376.8 346.4 392.6 346.5 390.7 346.6 424.0 346.6 411.7 346.7 418.9 346.8 398.3 346.9 408.2 347.0 396.8 347.1 402.5 347.2 397.7 347.2 385.2 347.3 415.9 347.4 409.4 347.5 386.8 347.6 390.5 347.7 400.7 347.8 392.6 347.9 366.4 347.9 393.3 348.0 419.2 348.1 406.8 348.2 405.2 348.3 429.4 348.4 419.4 348.5 414.0 348.6 403.0 348.6 399.7 348.7 409.4 348.8 396.3 348.9 423.7 349.0 395.6 349.1 392.8 349.2 404.4 349.3 388.1 349.3 383.1 349.4 415.4 349.5 405.8 349.6 399.4 349.7 370.5 349.8 421.1 349.9 397.7 350.0 410.7 350.0 417.8 350.1 395.2 350.2 418.2 350.3 405.1 350.4 375.9 350.5 417.4 350.6 396.7 350.7 412.6 350.7 404.6 350.8 384.8 350.9 415.6 351.0 410.9 351.1 379.8 351.2 399.5 351.3 396.5 351.4 395.2 351.4 414.9 351.5 384.0 351.6 413.9 351.7 389.2 351.8 383.8 351.9 398.7 352.0 392.8 352.1 422.3 352.1 402.8 352.2 392.7 352.3 391.2 352.4 408.8 352.5 405.1 352.6 393.3 352.7 417.0 352.8 397.4 352.8 414.7 352.9 406.2 353.0 410.0 353.1 398.0 353.2 413.8 353.3 415.5 353.4 387.6 353.5 405.7 353.5 396.0 353.6 407.8 353.7 407.2 353.8 392.7 353.9 400.7 354.0 415.4 354.1 400.6 354.2 399.4 354.2 405.4 354.3 384.7 354.4 383.3 354.5 392.4 354.6 404.8 354.7 393.8 354.8 385.8 354.9 408.1 354.9 397.5 355.0 384.1 355.1 382.6 355.2 416.6 355.3 395.1 355.4 394.5 355.5 392.8 355.6 380.3 355.6 380.6 355.7 382.6 355.8 389.8 355.9 391.8 356.0 399.6 356.1 372.8 356.2 382.0 356.3 401.1 356.3 391.9 356.4 363.9 356.5 395.1 356.6 383.4 356.7 375.1 356.8 353.6 356.9 369.4 357.0 360.4 357.0 369.4 357.1 366.4 357.2 393.9 357.3 372.3 357.4 381.5 357.5 334.8 357.6 382.9 357.6 376.0 357.7 342.1 357.8 395.4 357.9 395.1 358.0 360.8 358.1 338.1 358.2 343.3 358.3 311.5 358.3 372.5 358.4 308.0 358.5 342.6 358.6 355.6 358.7 343.3 358.8 365.4 358.9 329.1 359.0 365.6 359.0 312.5 359.1 371.9 359.2 328.5 359.3 342.0 359.4 311.5 359.5 322.0 359.6 342.1 359.7 353.0 359.7 333.9 359.8 349.4 359.9 364.7 360.0 370.3 360.1 359.1 360.2 357.8 360.3 316.2 360.4 347.6 360.4 361.2 360.5 354.2 360.6 357.7 360.7 368.4 360.8 371.4 360.9 364.6 361.0 400.9 361.1 395.0 361.1 394.9 361.2 376.8 361.3 401.2 361.4 393.1 361.5 396.7 361.6 400.1 361.7 379.7 361.8 423.8 361.8 412.3 361.9 375.5 362.0 371.7 362.1 385.2 362.2 389.9 362.3 399.0 362.4 408.3 362.5 400.2 362.5 392.4 362.6 394.7 362.7 414.3 362.8 394.9 362.9 424.9 363.0 397.5 363.1 408.4 363.2 416.7 363.2 391.4 363.3 403.3 363.4 396.0 363.5 404.4 363.6 376.7 363.7 417.1 363.8 396.6 363.9 383.0 363.9 363.5 364.0 388.8 364.1 395.0 364.2 396.8 364.3 392.7 364.4 397.0 364.5 401.5 364.6 398.0 364.6 403.8 364.7 417.5 364.8 404.5 364.9 411.7 365.0 414.2 365.1 420.0 365.2 404.9 365.3 402.1 365.3 409.5 365.4 404.1 365.5 409.0 365.6 405.2 365.7 392.1 365.8 398.4 365.9 393.8 366.0 404.5 366.0 407.5 366.1 392.0 366.2 431.1 366.3 407.6 366.4 413.2 366.5 411.8 366.6 410.9 366.7 405.3 366.7 406.7 366.8 409.6 366.9 414.8 367.0 399.7 367.1 392.9 367.2 402.8 367.3 391.8 367.4 404.2 367.4 397.2 367.5 393.7 367.6 407.4 367.7 395.1 367.8 407.6 367.9 374.9 368.0 399.9 368.0 398.5 368.1 394.9 368.2 382.3 368.3 391.3 368.4 388.3 368.5 415.5 368.6 411.9 368.7 408.6 368.7 400.3 368.8 382.9 368.9 401.8 369.0 393.2 369.1 393.0 369.2 395.3 369.3 405.3 369.4 398.7 369.4 398.2 369.5 405.8 369.6 409.9 369.7 403.8 369.8 404.3 369.9 391.8 370.0 425.2 370.1 404.8 370.1 400.5 370.2 352.2 370.3 390.9 370.4 407.4 370.5 397.0 370.6 431.1 370.7 412.3 370.8 390.1 370.8 427.7 370.9 422.4 371.0 403.7 371.1 402.4 371.2 404.8 371.3 388.6 371.4 409.1 371.5 412.7 371.5 395.7 371.6 394.0 371.7 385.9 371.8 393.3 371.9 410.3 372.0 408.1 372.1 386.9 372.2 415.0 372.2 420.4 372.3 419.2 372.4 400.6 372.5 405.5 372.6 403.2 372.7 404.3 372.8 405.0 372.9 408.5 372.9 411.6 373.0 400.8 373.1 388.1 373.2 393.6 373.3 375.7 373.4 386.0 373.5 404.8 373.6 384.8 373.6 394.5 373.7 400.8 373.8 412.1 373.9 408.1 374.0 401.6 374.1 383.4 374.2 403.9 374.3 398.4 374.3 413.7 374.4 389.1 374.5 397.5 374.6 394.7 374.7 392.9 374.8 402.9 374.9 405.3 375.0 391.9 375.0 397.5 375.1 401.0 375.2 408.2 375.3 416.9 375.4 392.4 375.5 412.6 375.6 388.9 375.7 398.4 375.7 405.5 375.8 418.6 375.9 396.5 376.0 407.2 376.1 365.2 376.2 411.7 376.3 404.1 376.4 393.8 376.4 377.7 376.5 408.0 376.6 421.1 376.7 413.2 376.8 406.8 376.9 401.1 377.0 389.5 377.1 403.0 377.1 393.7 377.2 394.8 377.3 396.0 377.4 409.4 377.5 411.4 377.6 401.9 377.7 398.2 377.8 378.7 377.8 392.6 377.9 405.1 378.0 412.5 378.1 416.7 378.2 393.3 378.3 400.5 378.4 411.0 378.5 401.6 378.5 406.5 378.6 422.8 378.7 426.4 378.8 414.3 378.9 401.0 379.0 402.0 379.1 401.5 379.1 404.8 379.2 385.5 379.3 393.2 379.4 405.0 379.5 394.6 379.6 387.0 379.7 382.4 379.8 410.8 379.8 403.8 379.9 392.4 380.0 430.1 380.1 396.4 380.2 406.1 380.3 390.3 380.4 381.2 380.5 374.1 380.5 390.5 380.6 386.5 380.7 413.9 380.8 403.6 380.9 397.5 381.0 409.2 381.1 387.4 381.2 401.3 381.2 418.5 381.3 368.3 381.4 417.0 381.5 419.8 381.6 398.2 381.7 402.2 381.8 383.7 381.9 412.2 381.9 392.2 382.0 390.3 382.1 386.8 382.2 402.4 382.3 406.0 382.4 420.3 382.5 407.1 382.6 399.1 382.6 410.6 382.7 413.4 382.8 400.0 382.9 396.3 383.0 406.4 383.1 388.5 383.2 397.4 383.3 386.0 383.3 407.6 383.4 409.0 383.5 393.5 383.6 384.7 383.7 389.8 383.8 395.0 383.9 402.1 384.0 408.9 384.0 398.4 384.1 376.6 384.2 398.9 384.3 374.1 384.4 395.3 384.5 405.0 384.6 395.8 384.7 413.1 384.7 403.1 384.8 392.4 384.9 396.0 385.0 405.8 385.1 414.2 385.2 409.5 385.3 420.5 385.4 416.0 385.4 384.5 385.5 381.3 385.6 395.1 385.7 392.0 385.8 388.0 385.9 395.2 386.0 388.7 386.1 399.2 386.1 382.4 386.2 417.3 386.3 418.1 386.4 400.0 386.5 418.2 386.6 406.1 386.7 397.6 386.8 398.8 386.8 410.2 386.9 393.4 387.0 406.6 387.1 391.0 387.2 394.9 387.3 414.9 387.4 389.1 387.5 414.5 387.5 407.7 387.6 401.1 387.7 385.6 387.8 385.8 387.9 391.3 388.0 398.3 388.1 393.1 388.2 409.0 388.2 403.3 388.3 386.5 388.4 392.5 388.5 410.4 388.6 392.4 388.7 375.5 388.8 395.1 388.9 398.9 388.9 391.7 389.0 402.8 389.1 390.3 389.2 395.1" fill="none" stroke="#0000ff" stroke-width="0.6" stroke-linejoin="round"/>
<path d="M39.7 456.0L39.8 444.0 39.9 454.9 40.0 455.8 40.1 450.3 40.2 441.0 40.4 441.0 40.5 450.1 40.6 436.5 40.7 453.5 40.8 448.6 40.9 447.4 41.0 451.7 41.1 451.3 41.2 455.0 41.3 443.7 41.4 433.1 41.6 438.2 41.7 437.8 41.8 442.4 41.9 436.8 42.0 452.4 42.1 441.2 42.2 456.7 42.3 457.2 42.4 455.4 42.5 463.7 42.6 458.8 42.8 452.6 42.9 442.5 43.0 453.2 43.1 447.1 43.2 446.0 43.3 450.0 43.4 456.1 43.5 439.7 43.6 464.7 43.7 446.3 43.9 447.9 44.0 455.7 44.1 455.7 44.2 453.9 44.3 453.6 44.4 450.6 44.5 433.2 44.6 451.1 44.7 449.5 44.8 453.0 44.9 445.6 45.1 447.4 45.2 455.8 45.3 443.8 45.4 442.6 45.5 453.2 45.6 459.2 45.7 423.6 45.8 454.9 45.9 447.3 46.0 457.2 46.1 451.4 46.3 452.9 46.4 447.3 46.5 446.3 46.6 435.6 46.7 455.1 46.8 449.5 46.9 468.5 47.0 445.9 47.1 448.8 47.2 456.1 47.3 454.0 47.5 445.1 47.6 449.0 47.7 447.3 47.8 450.0 47.9 455.7 48.0 456.2 48.1 450.9 48.2 462.7 48.3 447.7 48.4 447.6 48.5 461.5 48.7 449.0 48.8 453.1 48.9 444.4 49.0 459.2 49.1 447.7 49.2 437.9 49.3 452.9 49.4 457.6 49.5 437.2 49.6 441.1 49.8 450.6 49.9 435.8 50.0 449.7 50.1 460.1 50.2 467.7 50.3 441.0 50.4 452.7 50.5 450.7 50.6 444.3 50.7 442.4 50.8 457.7 51.0 442.9 51.1 462.8 51.2 468.1 51.3 460.2 51.4 461.9 51.5 466.2 51.6 467.9 51.7 462.4 51.8 458.9 51.9 460.4 52.0 439.1 52.2 452.4 52.3 455.4 52.4 450.3 52.5 451.8 52.6 446.6 52.7 460.7 52.8 442.5 52.9 461.0 53.0 439.8 53.1 440.4 53.2 443.3 53.4 452.9 53.5 462.8 53.6 447.3 53.7 452.7 53.8 449.5 53.9 443.1 54.0 452.2 54.1 449.5 54.2 445.4 54.3 447.4 54.4 452.2 54.6 441.1 54.7 442.6 54.8 449.8 54.9 458.6 55.0 444.3 55.1 444.6 55.2 447.9 55.3 457.6 55.4 464.8 55.5 465.2 55.7 451.0 55.8 456.6 55.9 449.4 56.0 430.9 56.1 447.7 56.2 450.7 56.3 439.3 56.4 447.6 56.5 434.2 56.6 441.1 56.7 458.3 56.9 453.5 57.0 451.2 57.1 460.6 57.2 457.9 57.3 407.0 57.4 453.6 57.5 463.5 57.6 436.8 57.7 455.8 57.8 444.9 57.9 451.1 58.1 464.7 58.2 442.3 58.3 427.7 58.4 437.4 58.5 450.1 58.6 446.4 58.7 447.4 58.8 444.5 58.9 446.7 59.0 454.2 59.1 460.3 59.3 463.3 59.4 444.0 59.5 448.1 59.6 448.0 59.7 432.3 59.8 451.9 59.9 428.7 60.0 454.0 60.1 439.4 60.2 433.4 60.3 454.2 60.5 438.3 60.6 430.2 60.7 440.0 60.8 439.4 60.9 452.7 61.0 438.3 61.1 435.3 61.2 430.6 61.3 447.2 61.4 445.9 61.6 457.9 61.7 434.4 61.8 432.9 61.9 451.9 62.0 449.3 62.1 470.9 62.2 457.3 62.3 440.4 62.4 427.8 62.5 434.3 62.6 431.7 62.8 425.5 62.9 439.0 63.0 460.7 63.1 443.5 63.2 432.1 63.3 452.6 63.4 441.6 63.5 436.8 63.6 454.1 63.7 454.4 63.8 449.4 64.0 440.3 64.1 464.6 64.2 447.1 64.3 451.0 64.4 474.6 64.5 461.6 64.6 453.0 64.7 434.6 64.8 438.5 64.9 445.0 65.0 450.8 65.2 456.3 65.3 431.5 65.4 443.4 65.5 454.0 65.6 440.6 65.7 435.9 65.8 440.4 65.9 451.5 66.0 454.4 66.1 427.9 66.2 436.5 66.4 450.1 66.5 453.4 66.6 441.0 66.7 431.0 66.8 438.3 66.9 437.4 67.0 450.4 67.1 459.9 67.2 450.5 67.3 445.5 67.5 452.7 67.6 451.3 67.7 453.3 67.8 442.3 67.9 445.9 68.0 447.9 68.1 431.6 68.2 452.1 68.3 440.1 68.4 402.4 68.5 454.4 68.7 450.0 68.8 458.8 68.9 440.8 69.0 439.3 69.1 444.5 69.2 448.1 69.3 442.4 69.4 463.5 69.5 455.4 69.6 433.2 69.7 457.6 69.9 452.4 70.0 455.8 70.1 462.3 70.2 451.2 70.3 433.6 70.4 429.6 70.5 453.0 70.6 435.0 70.7 443.9 70.8 428.4 70.9 447.0 71.1 437.9 71.2 447.4 71.3 454.3 71.4 457.3 71.5 447.0 71.6 441.8 71.7 451.4 71.8 464.1 71.9 440.5 72.0 438.7 72.1 431.8 72.3 442.0 72.4 453.2 72.5 453.0 72.6 439.8 72.7 464.2 72.8 444.6 72.9 437.0 73.0 460.0 73.1 445.6 73.2 462.6 73.3 438.8 73.5 448.0 73.6 469.3 73.7 468.9 73.8 445.4 73.9 441.8 74.0 439.9 74.1 462.4 74.2 443.5 74.3 443.8 74.4 422.0 74.6 439.7 74.7 452.2 74.8 453.8 74.9 438.4 75.0 443.6 75.1 458.8 75.2 459.9 75.3 451.6 75.4 454.0 75.5 444.0 75.6 446.9 75.8 472.8 75.9 458.4 76.0 440.8 76.1 438.0 76.2 458.2 76.3 456.4 76.4 448.9 76.5 449.3 76.6 447.1 76.7 456.2 76.8 446.0 77.0 443.8 77.1 438.8 77.2 436.3 77.3 434.4 77.4 430.6 77.5 451.7 77.6 463.3 77.7 451.2 77.8 442.2 77.9 446.5 78.0 444.6 78.2 433.9 78.3 463.0 78.4 446.8 78.5 452.8 78.6 442.7 78.7 452.7 78.8 446.6 78.9 451.3 79.0 460.0 79.1 435.5 79.2 442.2 79.4 442.0 79.5 439.8 79.6 433.4 79.7 416.1 79.8 447.1 79.9 436.7 80.0 442.3 80.1 453.3 80.2 455.1 80.3 455.1 80.5 450.1 80.6 448.7 80.7 453.6 80.8 452.9 80.9 452.2 81.0 444.9 81.1 443.0 81.2 435.9 81.3 444.0 81.4 446.0 81.5 435.2 81.7 467.4 81.8 435.7 81.9 428.9 82.0 431.1 82.1 436.7 82.2 455.9 82.3 447.0 82.4 451.7 82.5 439.6 82.6 450.9 82.7 450.6 82.9 451.0 83.0 449.5 83.1 445.1 83.2 434.3 83.3 437.0 83.4 446.0 83.5 469.6 83.6 446.4 83.7 436.8 83.8 443.0 83.9 447.0 84.1 448.1 84.2 437.3 84.3 440.4 84.4 425.5 84.5 441.4 84.6 445.9 84.7 445.1 84.8 456.5 84.9 456.0 85.0 453.9 85.1 437.1 85.3 462.2 85.4 441.4 85.5 442.9 85.6 443.2 85.7 450.6 85.8 444.3 85.9 452.7 86.0 455.2 86.1 455.8 86.2 443.6 86.4 441.4 86.5 446.0 86.6 432.5 86.7 444.5 86.8 448.2 86.9 447.6 87.0 440.2 87.1 450.6 87.2 441.9 87.3 452.6 87.4 451.8 87.6 441.8 87.7 447.6 87.8 450.2 87.9 467.0 88.0 463.7 88.1 418.4 88.2 452.3 88.3 460.5 88.4 438.9 88.5 428.8 88.6 423.5 88.8 448.5 88.9 446.7 89.0 446.3 89.1 442.9 89.2 440.0 89.3 453.3 89.4 446.8 89.5 420.8 89.6 447.2 89.7 443.2 89.8 446.5 90.0 443.3 90.1 453.6 90.2 455.2 90.3 424.1 90.4 445.2 90.5 458.5 90.6 460.8 90.7 430.9 90.8 430.7 90.9 452.2 91.0 436.9 91.2 435.6 91.3 454.2 91.4 453.4 91.5 444.3 91.6 461.0 91.7 437.9 91.8 443.9 91.9 448.7 92.0 425.4 92.1 448.1 92.3 450.8 92.4 445.2 92.5 447.3 92.6 448.0 92.7 441.3 92.8 440.1 92.9 429.7 93.0 438.3 93.1 427.2 93.2 442.4 93.3 453.3 93.5 468.3 93.6 456.8 93.7 431.6 93.8 446.8 93.9 452.7 94.0 449.8 94.1 426.4 94.2 461.4 94.3 447.2 94.4 436.5 94.5 440.4 94.7 434.0 94.8 444.7 94.9 453.5 95.0 446.5 95.1 442.3 95.2 432.7 95.3 440.7 95.4 441.1 95.5 435.4 95.6 433.9 95.7 443.1 95.9 460.1 96.0 451.2 96.1 443.7 96.2 459.5 96.3 458.4 96.4 434.4 96.5 437.0 96.6 427.1 96.7 439.7 96.8 443.7 96.9 436.2 97.1 440.4 97.2 431.7 97.3 444.9 97.4 455.8 97.5 439.1 97.6 449.1 97.7 454.8 97.8 458.2 97.9 446.6 98.0 453.4 98.2 460.2 98.3 445.9 98.4 460.4 98.5 404.0 98.6 456.5 98.7 442.9 98.8 443.1 98.9 426.2 99.0 446.7 99.1 432.1 99.2 448.0 99.4 436.4 99.5 445.6 99.6 454.2 99.7 438.4 99.8 437.3 99.9 442.3 100.0 439.0 100.1 431.2 100.2 438.5 100.3 441.7 100.4 445.2 100.6 429.0 100.7 447.4 100.8 437.0 100.9 450.3 101.0 433.5 101.1 460.2 101.2 432.2 101.3 455.9 101.4 443.9 101.5 444.7 101.6 437.7 101.8 438.5 101.9 435.6 102.0 449.1 102.1 446.0 102.2 449.6 102.3 463.2 102.4 454.6 102.5 441.4 102.6 443.6 102.7 441.7 102.8 446.9 103.0 458.9 103.1 445.8 103.2 438.7 103.3 445.0 103.4 450.3 103.5 467.9 103.6 443.6 103.7 449.2 103.8 433.1 103.9 454.8 104.0 444.9 104.2 464.7 104.3 458.8 104.4 458.3 104.5 452.0 104.6 426.3 104.7 429.8 104.8 447.8 104.9 436.7 105.0 438.3 105.1 447.4 105.3 437.4 105.4 435.2 105.5 442.7 105.6 449.4 105.7 444.2 105.8 445.4 105.9 445.9 106.0 442.6 106.1 429.1 106.2 451.3 106.3 452.0 106.5 451.9 106.6 438.6 106.7 441.6 106.8 458.2 106.9 438.5 107.0 432.2 107.1 439.0 107.2 440.5 107.3 440.7 107.4 450.5 107.5 458.8 107.7 448.8 107.8 453.2 107.9 443.4 108.0 470.0 108.1 446.9 108.2 437.7 108.3 427.4 108.4 436.1 108.5 439.2 108.6 450.5 108.7 440.1 108.9 460.0 109.0 456.9 109.1 420.0 109.2 447.0 109.3 462.8 109.4 430.4 109.5 431.7 109.6 454.0 109.7 439.5 109.8 447.1 109.9 444.4 110.1 455.6 110.2 442.4 110.3 438.4 110.4 437.1 110.5 436.6 110.6 434.0 110.7 435.5 110.8 449.3 110.9 420.6 111.0 438.8 111.2 442.1 111.3 430.3 111.4 430.0 111.5 442.4 111.6 441.7 111.7 443.9 111.8 445.0 111.9 431.1 112.0 434.5 112.1 420.5 112.2 443.7 112.4 440.7 112.5 444.0 112.6 446.1 112.7 452.1 112.8 427.3 112.9 435.1 113.0 466.3 113.1 425.9 113.2 446.2 113.3 459.5 113.4 441.9 113.6 448.3 113.7 445.6 113.8 443.9 113.9 449.8 114.0 452.0 114.1 440.5 114.2 445.3 114.3 441.2 114.4 445.6 114.5 458.8 114.6 445.2 114.8 443.2 114.9 424.1 115.0 441.1 115.1 433.0 115.2 447.9 115.3 453.2 115.4 457.1 115.5 427.3 115.6 425.4 115.7 436.0 115.8 429.3 116.0 431.3 116.1 428.4 116.2 460.4 116.3 430.7 116.4 434.8 116.5 444.6 116.6 431.9 116.7 418.7 116.8 456.9 116.9 461.4 117.1 446.3 117.2 434.9 117.3 436.0 117.4 447.3 117.5 457.2 117.6 457.2 117.7 408.5 117.8 451.9 117.9 450.4 118.0 447.4 118.1 447.2 118.3 434.1 118.4 436.8 118.5 445.4 118.6 437.4 118.7 433.5 118.8 413.3 118.9 438.9 119.0 443.0 119.1 447.8 119.2 435.3 119.3 419.1 119.5 442.8 119.6 447.4 119.7 428.9 119.8 403.7 119.9 439.8 120.0 424.8 120.1 427.2 120.2 441.1 120.3 430.4 120.4 420.1 120.5 427.7 120.7 424.7 120.8 411.1 120.9 417.3 121.0 419.3 121.1 459.8 121.2 424.4 121.3 418.5 121.4 428.7 121.5 441.2 121.6 433.3 121.7 408.4 121.9 406.4 122.0 425.7 122.1 420.2 122.2 419.0 122.3 416.2 122.4 403.4 122.5 408.4 122.6 404.6 122.7 406.7 122.8 398.7 123.0 426.9 123.1 410.5 123.2 381.2 123.3 377.9 123.4 415.9 123.5 372.4 123.6 396.9 123.7 402.1 123.8 385.4 123.9 386.2 124.0 427.3 124.2 365.7 124.3 396.7 124.4 403.1 124.5 419.6 124.6 432.1 124.7 414.7 124.8 400.1 124.9 422.7 125.0 379.1 125.1 436.2 125.2 402.2 125.4 417.7 125.5 394.0 125.6 387.8 125.7 436.9 125.8 407.7 125.9 394.6 126.0 392.4 126.1 439.8 126.2 409.8 126.3 418.7 126.4 406.2 126.6 437.3 126.7 437.6 126.8 423.6 126.9 433.5 127.0 396.0 127.1 394.5 127.2 402.7 127.3 390.0 127.4 422.4 127.5 409.5 127.6 403.2 127.8 418.2 127.9 398.6 128.0 430.9 128.1 423.8 128.2 391.0 128.3 410.1 128.4 406.1 128.5 399.4 128.6 374.8 128.7 385.2 128.9 422.9 129.0 411.4 129.1 422.1 129.2 416.7 129.3 374.6 129.4 403.8 129.5 404.0 129.6 408.2 129.7 411.5 129.8 420.5 129.9 442.4 130.1 426.1 130.2 415.7 130.3 407.5 130.4 365.1 130.5 413.6 130.6 424.0 130.7 422.0 130.8 418.5 130.9 411.7 131.0 440.8 131.1 421.8 131.3 434.4 131.4 437.9 131.5 414.0 131.6 426.5 131.7 408.0 131.8 394.3 131.9 399.2 132.0 409.5 132.1 410.7 132.2 396.0 132.3 397.8 132.5 416.1 132.6 399.5 132.7 406.9 132.8 413.1 132.9 403.6 133.0 409.5 133.1 423.8 133.2 399.9 133.3 424.5 133.4 431.1 133.5 417.4 133.7 413.8 133.8 407.0 133.9 409.6 134.0 405.2 134.1 387.1 134.2 402.1 134.3 408.7 134.4 419.3 134.5 393.9 134.6 401.4 134.8 395.5 134.9 354.6 135.0 365.1 135.1 416.8 135.2 443.0 135.3 406.1 135.4 429.3 135.5 372.8 135.6 404.7 135.7 401.7 135.8 380.7 136.0 402.0 136.1 389.5 136.2 424.7 136.3 426.7 136.4 411.2 136.5 425.1 136.6 414.5 136.7 389.4 136.8 413.1 136.9 417.0 137.0 424.2 137.2 406.4 137.3 416.1 137.4 411.1 137.5 412.0 137.6 400.1 137.7 391.7 137.8 431.1 137.9 403.2 138.0 409.2 138.1 399.5 138.2 405.6 138.4 422.8 138.5 425.5 138.6 421.6 138.7 393.3 138.8 396.4 138.9 355.7 139.0 415.9 139.1 399.7 139.2 408.1 139.3 412.7 139.4 398.2 139.6 395.7 139.7 404.8 139.8 406.2 139.9 401.2 140.0 425.6 140.1 414.8 140.2 422.6 140.3 419.4 140.4 389.5 140.5 379.3 140.6 397.3 140.8 423.6 140.9 412.9 141.0 448.3 141.1 433.4 141.2 395.4 141.3 435.6 141.4 397.1 141.5 407.9 141.6 406.0 141.7 389.8 141.9 395.0 142.0 391.8 142.1 407.6 142.2 417.0 142.3 413.8 142.4 412.2 142.5 429.2 142.6 423.6 142.7 441.3 142.8 432.9 142.9 423.1 143.1 423.2 143.2 413.1 143.3 430.4 143.4 397.2 143.5 402.9 143.6 396.2 143.7 401.4 143.8 406.8 143.9 402.7 144.0 430.1 144.1 435.4 144.3 437.5 144.4 400.6 144.5 385.6 144.6 387.8 144.7 414.1 144.8 407.6 144.9 415.2 145.0 425.6 145.1 414.6 145.2 409.5 145.3 413.9 145.5 447.3 145.6 400.5 145.7 388.8 145.8 427.6 145.9 399.6 146.0 419.8 146.1 405.6 146.2 420.9 146.3 337.1 146.4 423.7 146.5 421.3 146.7 399.4 146.8 417.0 146.9 408.6 147.0 398.7 147.1 407.2 147.2 415.0 147.3 407.3 147.4 404.6 147.5 424.4 147.6 430.6 147.8 385.6 147.9 416.8 148.0 404.8 148.1 395.3 148.2 403.5 148.3 390.4 148.4 399.5 148.5 405.6 148.6 421.3 148.7 419.4 148.8 400.9 149.0 421.8 149.1 384.5 149.2 397.5 149.3 414.5 149.4 422.4 149.5 399.0 149.6 415.2 149.7 392.2 149.8 395.1 149.9 406.1 150.0 367.7 150.2 400.6 150.3 378.7 150.4 404.6 150.5 404.4 150.6 384.5 150.7 393.8 150.8 371.8 150.9 415.1 151.0 418.4 151.1 398.3 151.2 409.4 151.4 420.7 151.5 420.3 151.6 402.8 151.7 423.0 151.8 362.1 151.9 377.0 152.0 407.9 152.1 408.2 152.2 388.0 152.3 404.1 152.4 426.5 152.6 415.0 152.7 393.2 152.8 383.3 152.9 387.3 153.0 390.7 153.1 392.2 153.2 391.1 153.3 379.0 153.4 409.1 153.5 426.2 153.7 382.7 153.8 391.2 153.9 401.9 154.0 400.2 154.1 402.7 154.2 381.7 154.3 389.5 154.4 404.0 154.5 386.7 154.6 403.6 154.7 417.4 154.9 403.8 155.0 411.9 155.1 434.2 155.2 400.7 155.3 412.9 155.4 405.0 155.5 405.7 155.6 406.1 155.7 410.5 155.8 409.7 155.9 393.7 156.1 408.1 156.2 408.6 156.3 397.1 156.4 401.2 156.5 400.1 156.6 395.4 156.7 405.6 156.8 385.9 156.9 400.9 157.0 414.0 157.1 435.8 157.3 432.9 157.4 407.3 157.5 381.4 157.6 408.7 157.7 415.1 157.8 394.7 157.9 383.8 158.0 410.8 158.1 397.3 158.2 403.7 158.3 410.0 158.5 415.8 158.6 419.0 158.7 399.1 158.8 379.9 158.9 403.0 159.0 396.1 159.1 415.8 159.2 419.1 159.3 409.5 159.4 406.5 159.6 398.5 159.7 391.6 159.8 389.2 159.9 401.2 160.0 414.6 160.1 427.4 160.2 401.0 160.3 408.8 160.4 418.4 160.5 430.5 160.6 402.2 160.8 399.1 160.9 377.3 161.0 382.0 161.1 398.4 161.2 406.5 161.3 409.1 161.4 415.4 161.5 408.5 161.6 409.2 161.7 382.7 161.8 406.2 162.0 388.5 162.1 367.4 162.2 396.8 162.3 426.3 162.4 410.3 162.5 389.6 162.6 401.6 162.7 410.8 162.8 419.6 162.9 399.2 163.0 411.7 163.2 408.4 163.3 409.2 163.4 402.6 163.5 394.2 163.6 394.6 163.7 403.0 163.8 400.3 163.9 402.2 164.0 432.0 164.1 389.0 164.2 404.9 164.4 415.7 164.5 426.1 164.6 401.1 164.7 388.3 164.8 411.3 164.9 405.2 165.0 420.3 165.1 411.1 165.2 369.4 165.3 427.7 165.5 408.5 165.6 402.8 165.7 414.1 165.8 438.2 165.9 426.6 166.0 389.3 166.1 430.0 166.2 398.8 166.3 398.1 166.4 409.7 166.5 417.8 166.7 415.5 166.8 396.2 166.9 399.2 167.0 391.6 167.1 390.0 167.2 427.5 167.3 391.9 167.4 406.1 167.5 417.6 167.6 412.7 167.7 399.5 167.9 410.2 168.0 402.6 168.1 398.7 168.2 385.5 168.3 397.4 168.4 404.4 168.5 391.2 168.6 374.0 168.7 403.9 168.8 397.2 168.9 398.7 169.1 392.9 169.2 410.0 169.3 400.8 169.4 415.4 169.5 434.1 169.6 408.7 169.7 409.7 169.8 409.5 169.9 412.2 170.0 381.1 170.1 408.6 170.3 402.6 170.4 425.8 170.5 398.4 170.6 411.8 170.7 394.3 170.8 398.8 170.9 394.6 171.0 439.7 171.1 421.8 171.2 423.8 171.3 431.3 171.5 410.2 171.6 412.0 171.7 398.8 171.8 401.0 171.9 430.3 172.0 438.8 172.1 387.6 172.2 379.1 172.3 396.7 172.4 389.2 172.6 407.3 172.7 437.7 172.8 394.5 172.9 396.7 173.0 378.6 173.1 401.1 173.2 403.4 173.3 403.1 173.4 406.2 173.5 393.4 173.6 408.0 173.8 409.8 173.9 404.5 174.0 405.4 174.1 405.5 174.2 403.3 174.3 383.1 174.4 398.5 174.5 410.0 174.6 434.1 174.7 432.9 174.8 417.8 175.0 429.7 175.1 357.8 175.2 408.6 175.3 405.9 175.4 385.5 175.5 390.5 175.6 403.4 175.7 394.9 175.8 391.8 175.9 401.0 176.0 412.9 176.2 421.3 176.3 415.3 176.4 419.8 176.5 394.7 176.6 400.3 176.7 411.4 176.8 419.7 176.9 396.9 177.0 406.4 177.1 369.0 177.2 407.7 177.4 424.5 177.5 397.2 177.6 422.0 177.7 391.6 177.8 412.6 177.9 408.6 178.0 389.7 178.1 401.4 178.2 375.3 178.3 369.2 178.5 424.9 178.6 397.8 178.7 437.0 178.8 394.9 178.9 412.1 179.0 360.0 179.1 401.1 179.2 416.3 179.3 403.6 179.4 371.9 179.5 404.7 179.7 397.4 179.8 402.6 179.9 413.9 180.0 389.4 180.1 411.2 180.2 389.5 180.3 392.3 180.4 410.0 180.5 396.9 180.6 399.8 180.7 407.6 180.9 420.5 181.0 399.1 181.1 401.8 181.2 416.3 181.3 400.2 181.4 391.7 181.5 413.1 181.6 399.3 181.7 406.5 181.8 412.1 181.9 416.2 182.1 399.7 182.2 417.0 182.3 418.4 182.4 420.7 182.5 394.3 182.6 389.8 182.7 385.1 182.8 400.0 182.9 394.8 183.0 413.7 183.1 396.4 183.3 422.9 183.4 432.6 183.5 420.4 183.6 412.9 183.7 399.8 183.8 422.1 183.9 420.4 184.0 400.3 184.1 411.8 184.2 398.8 184.4 415.0 184.5 408.0 184.6 394.0 184.7 379.3 184.8 390.8 184.9 368.2 185.0 402.2 185.1 385.1 185.2 386.4 185.3 414.3 185.4 379.3 185.6 399.2 185.7 398.0 185.8 381.3 185.9 399.6 186.0 398.3 186.1 388.6 186.2 358.5 186.3 363.7 186.4 375.3 186.5 372.5 186.6 360.4 186.8 377.3 186.9 356.6 187.0 354.8 187.1 339.1 187.2 341.3 187.3 358.9 187.4 357.2 187.5 360.0 187.6 352.0 187.7 361.0 187.8 390.9 188.0 369.2 188.1 370.7 188.2 351.2 188.3 372.4 188.4 363.3 188.5 361.5 188.6 362.6 188.7 360.0 188.8 379.7 188.9 352.6 189.0 368.1 189.2 367.2 189.3 363.8 189.4 364.2 189.5 378.5 189.6 353.3 189.7 354.3 189.8 353.8 189.9 354.2 190.0 351.0 190.1 356.3 190.3 376.5 190.4 365.3 190.5 343.0 190.6 358.4 190.7 350.1 190.8 353.6 190.9 338.1 191.0 338.8 191.1 352.2 191.2 357.6 191.3 351.2 191.5 351.6 191.6 358.3 191.7 380.2 191.8 396.6 191.9 385.1 192.0 378.4 192.1 373.1 192.2 399.2 192.3 416.0 192.4 417.4 192.5 413.5 192.7 426.8 192.8 396.7 192.9 422.5 193.0 450.3 193.1 433.7 193.2 448.6 193.3 408.7 193.4 422.8 193.5 446.0 193.6 438.7 193.7 441.8 193.9 469.2 194.0 418.7 194.1 433.7 194.2 422.3 194.3 424.7 194.4 428.6 194.5 462.2 194.6 426.6 194.7 411.1 194.8 438.9 194.9 471.0 195.1 435.5 195.2 427.7 195.3 420.0 195.4 440.0 195.5 452.2 195.6 406.8 195.7 426.3 195.8 418.4 195.9 445.1 196.0 425.7 196.2 436.6 196.3 436.8 196.4 408.2 196.5 455.8 196.6 454.4 196.7 426.2 196.8 430.3 196.9 374.1 197.0 379.1 197.1 405.4 197.2 431.9 197.4 389.5 197.5 418.1 197.6 390.8 197.7 401.0 197.8 412.4 197.9 382.7 198.0 417.1 198.1 402.6 198.2 373.0 198.3 413.4 198.4 402.8 198.6 378.8 198.7 381.2 198.8 396.6 198.9 381.3 199.0 426.7 199.1 393.3 199.2 387.3 199.3 394.7 199.4 388.8 199.5 411.6 199.6 417.1 199.8 380.1 199.9 394.8 200.0 376.2 200.1 402.6 200.2 409.6 200.3 395.8 200.4 404.2 200.5 391.9 200.6 383.3 200.7 376.0 200.8 396.6 201.0 403.8 201.1 393.6 201.2 392.3 201.3 382.7 201.4 393.9 201.5 395.2 201.6 406.0 201.7 396.3 201.8 420.7 201.9 383.3 202.0 393.3 202.2 400.0 202.3 415.2 202.4 394.0 202.5 401.7 202.6 416.5 202.7 413.7 202.8 405.0 202.9 397.1 203.0 375.6 203.1 386.7 203.3 396.6 203.4 383.5 203.5 391.4 203.6 404.7 203.7 395.7 203.8 391.5 203.9 409.4 204.0 415.2 204.1 364.5 204.2 386.9 204.3 385.8 204.5 405.2 204.6 387.4 204.7 370.9 204.8 374.2 204.9 397.1 205.0 382.2 205.1 392.1 205.2 392.2 205.3 395.1 205.4 396.2 205.5 382.7 205.7 390.5 205.8 405.4 205.9 362.1 206.0 391.0 206.1 374.1 206.2 396.1 206.3 404.1 206.4 395.2 206.5 403.8 206.6 374.1 206.7 410.9 206.9 401.0 207.0 402.8 207.1 388.3 207.2 404.7 207.3 415.6 207.4 372.8 207.5 383.0 207.6 398.9 207.7 377.8 207.8 357.5 207.9 387.7 208.1 405.8 208.2 406.0 208.3 402.1 208.4 400.8 208.5 394.7 208.6 380.1 208.7 392.6 208.8 379.8 208.9 382.6 209.0 395.9 209.2 394.6 209.3 422.6 209.4 382.8 209.5 371.8 209.6 363.7 209.7 362.3 209.8 338.3 209.9 313.6 210.0 367.5 210.1 325.5 210.2 351.0 210.4 381.9 210.5 372.2 210.6 356.9 210.7 357.1 210.8 335.8 210.9 342.0 211.0 340.3 211.1 376.4 211.2 344.5 211.3 374.9 211.4 344.2 211.6 365.8 211.7 338.4 211.8 395.1 211.9 337.3 212.0 326.7 212.1 356.4 212.2 374.1 212.3 318.5 212.4 362.2 212.5 374.1 212.6 362.0 212.8 380.2 212.9 374.8 213.0 333.6 213.1 393.7 213.2 348.4 213.3 360.3 213.4 358.4 213.5 370.1 213.6 350.7 213.7 373.9 213.8 378.7 214.0 364.5 214.1 367.5 214.2 388.7 214.3 379.8 214.4 382.5 214.5 387.2 214.6 368.6 214.7 394.5 214.8 366.5 214.9 394.0 215.1 402.5 215.2 409.3 215.3 382.9 215.4 350.2 215.5 384.8 215.6 414.4 215.7 406.7 215.8 392.9 215.9 391.1 216.0 395.5 216.1 373.4 216.3 429.5 216.4 429.7 216.5 404.2 216.6 381.0 216.7 394.8 216.8 383.7 216.9 403.3 217.0 393.4 217.1 397.5 217.2 394.1 217.3 373.5 217.5 398.9 217.6 394.0 217.7 409.2 217.8 392.5 217.9 402.2 218.0 411.8 218.1 372.7 218.2 367.8 218.3 410.8 218.4 389.9 218.5 411.9 218.7 358.2 218.8 395.2 218.9 379.5 219.0 403.0 219.1 375.2 219.2 390.1 219.3 398.7 219.4 402.9 219.5 384.6 219.6 393.1 219.7 397.6 219.9 371.2 220.0 363.4 220.1 407.4 220.2 371.6 220.3 391.5 220.4 377.9 220.5 372.5 220.6 429.2 220.7 356.8 220.8 377.5 221.0 381.1 221.1 412.1 221.2 390.9 221.3 395.7 221.4 413.0 221.5 368.6 221.6 404.3 221.7 395.1 221.8 421.6 221.9 401.6 222.0 392.4 222.2 373.5 222.3 393.1 222.4 377.9 222.5 371.8 222.6 351.4 222.7 380.1 222.8 414.7 222.9 398.2 223.0 401.8 223.1 410.5 223.2 368.6 223.4 396.6 223.5 398.3 223.6 422.0 223.7 331.9 223.8 376.2 223.9 371.4 224.0 378.3 224.1 386.2 224.2 411.9 224.3 416.2 224.4 402.6 224.6 422.3 224.7 380.9 224.8 411.8 224.9 385.7 225.0 403.6 225.1 405.5 225.2 364.8 225.3 378.4 225.4 399.3 225.5 409.5 225.6 401.7 225.8 387.3 225.9 377.9 226.0 380.7 226.1 375.7 226.2 403.0 226.3 399.5 226.4 389.0 226.5 378.4 226.6 343.1 226.7 408.7 226.9 421.8 227.0 401.2 227.1 370.7 227.2 389.5 227.3 419.5 227.4 379.7 227.5 399.5 227.6 391.3 227.7 395.4 227.8 401.2 227.9 415.5 228.1 372.8 228.2 339.2 228.3 377.0 228.4 395.4 228.5 374.0 228.6 366.4 228.7 373.6 228.8 403.5 228.9 388.2 229.0 390.0 229.1 393.9 229.3 416.4 229.4 378.1 229.5 431.3 229.6 387.7 229.7 385.3 229.8 346.7 229.9 373.9 230.0 374.5 230.1 388.6 230.2 417.9 230.3 400.8 230.5 420.7 230.6 362.1 230.7 373.6 230.8 384.5 230.9 398.2 231.0 396.9 231.1 388.8 231.2 395.9 231.3 403.7 231.4 378.1 231.5 377.8 231.7 407.5 231.8 376.0 231.9 354.6 232.0 357.2 232.1 391.6 232.2 368.8 232.3 364.6 232.4 383.9 232.5 371.0 232.6 397.4 232.7 390.7 232.9 366.0 233.0 402.5 233.1 384.5 233.2 355.0 233.3 358.7 233.4 393.6 233.5 377.0 233.6 386.1 233.7 375.1 233.8 395.5 234.0 390.3 234.1 403.7 234.2 388.9 234.3 382.4 234.4 402.2 234.5 420.8 234.6 405.9 234.7 388.9 234.8 391.5 234.9 369.0 235.0 384.6 235.2 360.7 235.3 397.5 235.4 390.9 235.5 379.8 235.6 394.3 235.7 367.0 235.8 377.0 235.9 384.6 236.0 386.8 236.1 388.2 236.2 408.8 236.4 378.1 236.5 384.0 236.6 384.3 236.7 386.5 236.8 374.0 236.9 383.7 237.0 406.0 237.1 397.0 237.2 379.8 237.3 414.4 237.4 384.0 237.6 404.8 237.7 399.8 237.8 372.3 237.9 372.4 238.0 363.6 238.1 377.0 238.2 376.1 238.3 389.4 238.4 351.6 238.5 351.0 238.6 379.0 238.8 387.9 238.9 380.2 239.0 374.9 239.1 398.1 239.2 387.4 239.3 373.5 239.4 399.4 239.5 384.6 239.6 352.5 239.7 384.6 239.9 394.8 240.0 396.8 240.1 385.1 240.2 358.1 240.3 394.9 240.4 364.9 240.5 379.7 240.6 356.1 240.7 388.2 240.8 385.2 240.9 381.9 241.1 389.1 241.2 402.2 241.3 415.0 241.4 378.7 241.5 373.5 241.6 421.4 241.7 371.8 241.8 356.3 241.9 374.8 242.0 360.7 242.1 374.3 242.3 405.6 242.4 386.2 242.5 384.2 242.6 410.8 242.7 394.8 242.8 392.0 242.9 396.1 243.0 403.8 243.1 380.8 243.2 393.8 243.3 391.2 243.5 398.1 243.6 391.8 243.7 383.6 243.8 393.2 243.9 371.3 244.0 381.1 244.1 376.8 244.2 370.2 244.3 376.7 244.4 366.8 244.5 359.3 244.7 360.1 244.8 349.3 244.9 374.2 245.0 376.1 245.1 388.2 245.2 409.8 245.3 380.0 245.4 371.8 245.5 361.8 245.6 384.3 245.8 357.1 245.9 399.3 246.0 390.6 246.1 380.4 246.2 371.4 246.3 345.6 246.4 386.5 246.5 378.6 246.6 381.0 246.7 400.7 246.8 360.2 247.0 377.2 247.1 371.6 247.2 425.7 247.3 398.5 247.4 407.7 247.5 372.7 247.6 381.4 247.7 351.9 247.8 379.3 247.9 383.7 248.0 393.1 248.2 387.6 248.3 398.1 248.4 400.7 248.5 400.1 248.6 366.8 248.7 383.9 248.8 380.4 248.9 379.2 249.0 376.1 249.1 363.2 249.2 360.7 249.4 381.7 249.5 367.3 249.6 380.3 249.7 405.9 249.8 368.3 249.9 383.0 250.0 414.3 250.1 360.4 250.2 381.9 250.3 377.0 250.4 394.5 250.6 355.6 250.7 359.2 250.8 358.2 250.9 346.0 251.0 385.1 251.1 373.0 251.2 405.9 251.3 390.9 251.4 385.6 251.5 372.3 251.7 393.0 251.8 363.1 251.9 365.8 252.0 384.9 252.1 377.2 252.2 393.0 252.3 408.8 252.4 391.4 252.5 375.9 252.6 372.1 252.7 382.4 252.9 349.7 253.0 402.0 253.1 357.1 253.2 378.4 253.3 378.8 253.4 394.1 253.5 396.3 253.6 414.0 253.7 379.7 253.8 396.6 253.9 367.6 254.1 349.2 254.2 399.4 254.3 357.5 254.4 377.1 254.5 390.5 254.6 398.6 254.7 405.1 254.8 425.2 254.9 406.6 255.0 406.7 255.1 363.5 255.3 381.1 255.4 387.1 255.5 365.7 255.6 374.0 255.7 378.8 255.8 346.2 255.9 403.9 256.0 381.4 256.1 384.3 256.2 375.4 256.3 387.7 256.5 409.4 256.6 372.7 256.7 377.7 256.8 375.5 256.9 388.7 257.0 425.1 257.1 378.6 257.2 359.0 257.3 326.1 257.4 342.8 257.6 392.2 257.7 379.3 257.8 344.7 257.9 385.3 258.0 405.8 258.1 408.5 258.2 329.7 258.3 384.0 258.4 395.1 258.5 399.2 258.6 386.5 258.8 389.9 258.9 375.5 259.0 388.8 259.1 383.5 259.2 387.6 259.3 381.8 259.4 354.5 259.5 413.7 259.6 366.4 259.7 340.5 259.8 405.9 260.0 394.3 260.1 365.3 260.2 370.5 260.3 381.7 260.4 375.0 260.5 381.5 260.6 383.6 260.7 378.2 260.8 388.4 260.9 352.8 261.0 399.4 261.2 392.2 261.3 379.9 261.4 394.4 261.5 390.2 261.6 364.1 261.7 353.2 261.8 365.3 261.9 382.3 262.0 336.2 262.1 377.6 262.2 376.8 262.4 382.8 262.5 404.9 262.6 384.5 262.7 371.6 262.8 387.9 262.9 405.4 263.0 393.3 263.1 407.3 263.2 389.8 263.3 391.2 263.4 384.9 263.6 387.7 263.7 371.5 263.8 373.1 263.9 360.9 264.0 349.7 264.1 375.7 264.2 390.2 264.3 403.2 264.4 381.4 264.5 378.9 264.7 361.7 264.8 386.9 264.9 383.3 265.0 382.2 265.1 356.4 265.2 395.7 265.3 365.6 265.4 367.4 265.5 354.6 265.6 377.1 265.7 379.5 265.9 359.2 266.0 367.5 266.1 359.8 266.2 401.6 266.3 354.7 266.4 392.2 266.5 414.3 266.6 389.7 266.7 386.8 266.8 396.5 266.9 364.0 267.1 408.2 267.2 376.0 267.3 397.8 267.4 395.0 267.5 408.5 267.6 372.7 267.7 378.5 267.8 352.6 267.9 356.4 268.0 384.3 268.1 383.7 268.3 360.7 268.4 364.6 268.5 381.5 268.6 389.8 268.7 370.1 268.8 401.8 268.9 405.6 269.0 368.1 269.1 394.3 269.2 408.8 269.3 340.3 269.5 372.1 269.6 370.0 269.7 384.9 269.8 364.0 269.9 373.7 270.0 381.4 270.1 384.7 270.2 390.4 270.3 396.0 270.4 390.8 270.6 363.2 270.7 349.0 270.8 390.4 270.9 375.4 271.0 381.8 271.1 390.4 271.2 380.3 271.3 360.2 271.4 372.3 271.5 364.0 271.6 397.6 271.8 353.0 271.9 377.9 272.0 373.1 272.1 383.3 272.2 391.3 272.3 377.6 272.4 353.6 272.5 373.8 272.6 403.7 272.7 357.8 272.8 375.0 273.0 369.7 273.1 385.8 273.2 388.5 273.3 380.8 273.4 379.1 273.5 399.8 273.6 384.3 273.7 345.9 273.8 360.7 273.9 407.7 274.0 416.8 274.2 419.1 274.3 379.2 274.4 344.1 274.5 379.4 274.6 377.5 274.7 399.9 274.8 382.1 274.9 356.9 275.0 378.4 275.1 374.8 275.2 358.4 275.4 389.9 275.5 373.2 275.6 376.2 275.7 371.6 275.8 390.1 275.9 384.3 276.0 386.7 276.1 370.4 276.2 388.1 276.3 398.4 276.5 369.5 276.6 379.8 276.7 370.4 276.8 373.8 276.9 366.5 277.0 362.1 277.1 375.3 277.2 406.4 277.3 352.8 277.4 401.3 277.5 384.8 277.7 378.6 277.8 363.2 277.9 377.8 278.0 364.7 278.1 367.0 278.2 344.8 278.3 381.8 278.4 358.5 278.5 364.2 278.6 365.6 278.7 395.2 278.9 399.8 279.0 422.0 279.1 402.4 279.2 376.9 279.3 371.1 279.4 385.9 279.5 391.4 279.6 386.2 279.7 381.4 279.8 363.4 279.9 372.7 280.1 380.3 280.2 386.0 280.3 359.3 280.4 388.8 280.5 393.9 280.6 419.4 280.7 365.8 280.8 407.6 280.9 367.0 281.0 381.3 281.1 388.0 281.3 358.7 281.4 385.1 281.5 383.2 281.6 386.6 281.7 368.3 281.8 359.5 281.9 398.4 282.0 365.9 282.1 362.7 282.2 397.6 282.4 377.1 282.5 408.3 282.6 391.7 282.7 407.4 282.8 371.1 282.9 393.7 283.0 366.0 283.1 378.5 283.2 370.4 283.3 364.3 283.4 352.7 283.6 361.5 283.7 387.6 283.8 403.7 283.9 396.3 284.0 364.6 284.1 410.8 284.2 385.6 284.3 395.0 284.4 400.6 284.5 366.3 284.6 373.7 284.8 388.4 284.9 386.4 285.0 381.1 285.1 367.8 285.2 407.4 285.3 351.6 285.4 381.6 285.5 378.6 285.6 368.7 285.7 388.1 285.8 386.2 286.0 367.7 286.1 387.9 286.2 390.0 286.3 407.1 286.4 378.8 286.5 384.8 286.6 359.6 286.7 350.2 286.8 358.8 286.9 402.4 287.0 402.3 287.2 404.0 287.3 382.6 287.4 401.3 287.5 385.7 287.6 379.8 287.7 360.2 287.8 402.3 287.9 389.8 288.0 399.7 288.1 395.5 288.3 427.2 288.4 377.9 288.5 404.6 288.6 374.6 288.7 393.3 288.8 367.5 288.9 366.4 289.0 367.5 289.1 384.0 289.2 384.6 289.3 383.4 289.5 386.7 289.6 359.6 289.7 396.1 289.8 384.2 289.9 363.4 290.0 376.8 290.1 358.0 290.2 407.4 290.3 359.5 290.4 408.4 290.5 412.9 290.7 329.0 290.8 382.9 290.9 362.4 291.0 398.4 291.1 358.7 291.2 382.7 291.3 387.5 291.4 374.5 291.5 400.5 291.6 372.9 291.7 381.8 291.9 377.0 292.0 366.0 292.1 427.9 292.2 373.7 292.3 391.9 292.4 386.2 292.5 369.5 292.6 397.8 292.7 398.4 292.8 392.6 292.9 393.4 293.1 323.1 293.2 370.1 293.3 393.7 293.4 394.3 293.5 375.6 293.6 392.8 293.7 375.2 293.8 368.3 293.9 393.7 294.0 377.5 294.1 404.6 294.3 402.9 294.4 364.6 294.5 361.2 294.6 406.3 294.7 375.1 294.8 390.3 294.9 359.4 295.0 358.0 295.1 378.0 295.2 376.0 295.4 382.2 295.5 371.1 295.6 366.8 295.7 384.4 295.8 385.6 295.9 393.7 296.0 384.9 296.1 366.8 296.2 390.7 296.3 357.8 296.4 389.0 296.6 385.9 296.7 385.3 296.8 362.2 296.9 399.2 297.0 385.9 297.1 367.9 297.2 376.8 297.3 395.0 297.4 382.6 297.5 374.0 297.6 382.9 297.8 383.8 297.9 371.6 298.0 368.8 298.1 398.0 298.2 338.9 298.3 388.1 298.4 368.7 298.5 419.7 298.6 372.8 298.7 397.2 298.8 374.5 299.0 413.7 299.1 349.9 299.2 371.0 299.3 376.4 299.4 398.4 299.5 408.4 299.6 346.4 299.7 385.8 299.8 379.9 299.9 374.8 300.0 374.4 300.2 358.5 300.3 356.7 300.4 415.1 300.5 389.5 300.6 376.7 300.7 406.1 300.8 390.7 300.9 394.4 301.0 352.7 301.1 378.9 301.3 378.2 301.4 378.5 301.5 373.5 301.6 405.9 301.7 415.4 301.8 396.3 301.9 368.5 302.0 403.2 302.1 363.7 302.2 407.3 302.3 381.7 302.5 392.0 302.6 371.7 302.7 379.9 302.8 376.0 302.9 404.9 303.0 394.9 303.1 367.9 303.2 349.6 303.3 350.1 303.4 384.5 303.5 391.6 303.7 364.7 303.8 381.1 303.9 380.8 304.0 346.5 304.1 370.6 304.2 357.5 304.3 318.5 304.4 368.2 304.5 420.1 304.6 391.2 304.7 388.0 304.9 393.0 305.0 380.5 305.1 364.3 305.2 363.5 305.3 372.7 305.4 412.7 305.5 385.8 305.6 406.3 305.7 378.7 305.8 400.5 305.9 402.4 306.1 381.0 306.2 394.8 306.3 409.3 306.4 363.7 306.5 374.4 306.6 368.4 306.7 373.4 306.8 401.5 306.9 371.1 307.0 379.4 307.2 346.2 307.3 355.6 307.4 374.0 307.5 398.4 307.6 380.7 307.7 408.9 307.8 363.8 307.9 367.1 308.0 397.5 308.1 384.6 308.2 404.9 308.4 388.5 308.5 396.0 308.6 360.9 308.7 382.7 308.8 407.7 308.9 396.1 309.0 375.7 309.1 394.0 309.2 410.5 309.3 373.4 309.4 385.9 309.6 359.2 309.7 390.9 309.8 414.7 309.9 402.4 310.0 362.5 310.1 369.4 310.2 352.8 310.3 382.6 310.4 402.1 310.5 355.5 310.6 379.5 310.8 339.6 310.9 409.2 311.0 358.0 311.1 391.9 311.2 403.1 311.3 414.7 311.4 392.0 311.5 379.0 311.6 386.8 311.7 364.4 311.8 383.0 312.0 370.9 312.1 380.6 312.2 412.9 312.3 413.2 312.4 376.0 312.5 413.3 312.6 360.3 312.7 404.1 312.8 406.0 312.9 382.6 313.1 374.3 313.2 378.5 313.3 396.1 313.4 386.5 313.5 380.1 313.6 377.1 313.7 369.1 313.8 385.1 313.9 366.4 314.0 369.4 314.1 400.3 314.3 396.2 314.4 374.0 314.5 371.6 314.6 392.7 314.7 340.7 314.8 367.7 314.9 406.2 315.0 384.4 315.1 386.1 315.2 367.3 315.3 383.6 315.5 395.1 315.6 382.0 315.7 413.2 315.8 405.3 315.9 405.6 316.0 368.7 316.1 407.2 316.2 399.2 316.3 336.2 316.4 406.9 316.5 371.4 316.7 389.8 316.8 370.8 316.9 409.2 317.0 430.6 317.1 357.2 317.2 369.4 317.3 403.1 317.4 356.6 317.5 370.6 317.6 360.1 317.7 396.8 317.9 413.7 318.0 401.9 318.1 361.9 318.2 403.5 318.3 355.1 318.4 377.9 318.5 386.2 318.6 373.8 318.7 417.1 318.8 384.9 319.0 388.0 319.1 352.3 319.2 381.3 319.3 381.5 319.4 397.3 319.5 349.8 319.6 372.0 319.7 383.7 319.8 376.6 319.9 411.4 320.0 369.8 320.2 330.1 320.3 398.8 320.4 345.0 320.5 373.0 320.6 404.2 320.7 417.1 320.8 363.5 320.9 395.2 321.0 380.3 321.1 400.3 321.2 404.6 321.4 357.2 321.5 388.0 321.6 370.6 321.7 389.8 321.8 402.2 321.9 396.5 322.0 391.0 322.1 404.8 322.2 383.5 322.3 413.4 322.4 403.7 322.6 375.4 322.7 382.4 322.8 353.4 322.9 379.6 323.0 386.4 323.1 370.1 323.2 349.1 323.3 372.1 323.4 406.6 323.5 352.7 323.6 350.7 323.8 417.5 323.9 395.8 324.0 376.6 324.1 379.7 324.2 368.3 324.3 413.6 324.4 393.3 324.5 379.7 324.6 381.9 324.7 376.0 324.9 366.2 325.0 383.5 325.1 362.0 325.2 399.1 325.3 381.2 325.4 363.2 325.5 373.4 325.6 393.0 325.7 374.2 325.8 365.6 325.9 377.9 326.1 360.3 326.2 375.3 326.3 385.2 326.4 383.1 326.5 398.1 326.6 388.3 326.7 406.4 326.8 379.4 326.9 346.1 327.0 398.5 327.1 373.4 327.3 396.3 327.4 378.3 327.5 357.3 327.6 377.4 327.7 375.7 327.8 384.0 327.9 407.3 328.0 389.0 328.1 399.9 328.2 378.5 328.3 390.6 328.5 394.0 328.6 415.4 328.7 385.6 328.8 385.3 328.9 388.9 329.0 390.0 329.1 386.4 329.2 430.6 329.3 364.1 329.4 389.0 329.5 403.1 329.7 383.1 329.8 395.4 329.9 400.6 330.0 411.1 330.1 412.6 330.2 392.5 330.3 390.5 330.4 399.7 330.5 366.4 330.6 359.0 330.7 383.2 330.9 378.1 331.0 400.1 331.1 401.0 331.2 389.2 331.3 375.0 331.4 363.6 331.5 367.7 331.6 342.7 331.7 396.9 331.8 382.9 332.0 400.5 332.1 385.4 332.2 385.5 332.3 376.1 332.4 381.1 332.5 348.7 332.6 380.3 332.7 366.8 332.8 345.4 332.9 400.6 333.0 366.0 333.2 365.9 333.3 390.6 333.4 387.2 333.5 384.3 333.6 388.0 333.7 395.8 333.8 384.9 333.9 359.3 334.0 374.8 334.1 400.9 334.2 397.1 334.4 385.2 334.5 356.8 334.6 377.5 334.7 395.6 334.8 398.5 334.9 385.4 335.0 394.0 335.1 387.2 335.2 397.4 335.3 386.8 335.4 390.6 335.6 362.1 335.7 391.2 335.8 389.2 335.9 398.4 336.0 388.2 336.1 366.7 336.2 396.1 336.3 361.0 336.4 372.4 336.5 374.5 336.6 400.6 336.8 378.9 336.9 366.9 337.0 369.8 337.1 369.7 337.2 396.9 337.3 433.0 337.4 414.3 337.5 414.5 337.6 415.6 337.7 377.2 337.9 397.4 338.0 396.1 338.1 357.5 338.2 358.7 338.3 421.3 338.4 426.9 338.5 411.1 338.6 405.9 338.7 396.9 338.8 373.7 338.9 388.4 339.1 391.3 339.2 406.9 339.3 387.2 339.4 398.4 339.5 410.2 339.6 397.7 339.7 380.0 339.8 359.3 339.9 379.2 340.0 396.1 340.1 367.2 340.3 385.0 340.4 383.4 340.5 383.3 340.6 361.7 340.7 387.3 340.8 380.6 340.9 390.9 341.0 407.4 341.1 416.1 341.2 423.6 341.3 407.8 341.5 355.6 341.6 412.7 341.7 399.2 341.8 370.5 341.9 405.2 342.0 394.6 342.1 379.0 342.2 395.6 342.3 397.0 342.4 381.0 342.5 370.9 342.7 392.1 342.8 334.4 342.9 396.4 343.0 381.6 343.1 406.5 343.2 379.3 343.3 409.8 343.4 377.2 343.5 361.1 343.6 420.0 343.8 421.0 343.9 388.5 344.0 387.8 344.1 401.8 344.2 362.1 344.3 381.9 344.4 392.9 344.5 386.1 344.6 380.1 344.7 418.1 344.8 406.7 345.0 388.5 345.1 371.9 345.2 314.5 345.3 393.8 345.4 401.6 345.5 404.7 345.6 379.5 345.7 403.0 345.8 389.5 345.9 397.3 346.0 396.9 346.2 397.6 346.3 378.9 346.4 378.6 346.5 381.5 346.6 402.5 346.7 388.6 346.8 390.9 346.9 376.4 347.0 415.1 347.1 419.1 347.2 339.6 347.4 401.1 347.5 375.7 347.6 371.9 347.7 399.5 347.8 390.2 347.9 387.6 348.0 390.4 348.1 359.4 348.2 389.2 348.3 374.4 348.4 385.9 348.6 374.3 348.7 388.4 348.8 376.3 348.9 417.3 349.0 414.4 349.1 396.9 349.2 368.9 349.3 368.8 349.4 387.7 349.5 353.5 349.7 384.2 349.8 403.9 349.9 407.9 350.0 396.7 350.1 390.7 350.2 375.3 350.3 409.7 350.4 379.7 350.5 411.7 350.6 405.3 350.7 379.5 350.9 364.9 351.0 391.5 351.1 380.9 351.2 404.0 351.3 394.2 351.4 397.5 351.5 408.8 351.6 407.2 351.7 378.3 351.8 395.1 351.9 410.7 352.1 379.6 352.2 390.2 352.3 432.7 352.4 392.8 352.5 393.9 352.6 381.7 352.7 354.2 352.8 384.7 352.9 359.2 353.0 419.3 353.1 402.5 353.3 393.8 353.4 379.8 353.5 371.8 353.6 402.5 353.7 381.5 353.8 421.4 353.9 422.0 354.0 404.8 354.1 372.4 354.2 394.0 354.3 405.2 354.5 419.1 354.6 385.2 354.7 372.5 354.8 385.9 354.9 399.4 355.0 390.4 355.1 394.4 355.2 398.1 355.3 402.5 355.4 369.3 355.6 390.2 355.7 392.9 355.8 396.9 355.9 406.0 356.0 425.9 356.1 375.1 356.2 397.7 356.3 389.5 356.4 391.7 356.5 373.6 356.6 401.3 356.8 422.7 356.9 390.2 357.0 386.0 357.1 391.5 357.2 383.1 357.3 415.3 357.4 417.8 357.5 394.2 357.6 387.2 357.7 384.7 357.8 374.8 358.0 398.6 358.1 380.9 358.2 396.6 358.3 399.2 358.4 425.2 358.5 385.4 358.6 419.8 358.7 401.4 358.8 397.8 358.9 410.5 359.0 425.7 359.2 385.5 359.3 404.6 359.4 374.9 359.5 416.0 359.6 416.9 359.7 393.2 359.8 382.9 359.9 414.0 360.0 394.1 360.1 357.6 360.2 355.3 360.4 359.4 360.5 381.9 360.6 394.2 360.7 372.4 360.8 383.6 360.9 409.1 361.0 416.1 361.1 417.2 361.2 394.4 361.3 370.8 361.4 411.0 361.6 386.3 361.7 404.1 361.8 382.0 361.9 370.8 362.0 381.8 362.1 410.1 362.2 396.6 362.3 387.5 362.4 377.0 362.5 400.8 362.7 382.9 362.8 393.7 362.9 379.6 363.0 372.6 363.1 382.1 363.2 366.5 363.3 369.2 363.4 400.7 363.5 341.7 363.6 400.5 363.7 405.7 363.9 406.7 364.0 377.4 364.1 394.0 364.2 382.8 364.3 374.1 364.4 391.2 364.5 395.9 364.6 410.7 364.7 363.6 364.8 380.2 364.9 379.4 365.1 373.2 365.2 350.6 365.3 396.1 365.4 384.4 365.5 383.6 365.6 384.6 365.7 391.9 365.8 367.0 365.9 327.1 366.0 313.3 366.1 366.6 366.3 414.5 366.4 388.2 366.5 372.2 366.6 338.0 366.7 385.0 366.8 364.0 366.9 363.9 367.0 425.6 367.1 395.6 367.2 371.1 367.3 391.8 367.5 405.6 367.6 391.1 367.7 391.5 367.8 368.1 367.9 367.6 368.0 336.3 368.1 376.4 368.2 342.9 368.3 404.6 368.4 401.7 368.6 390.7 368.7 375.6 368.8 415.5 368.9 387.3 369.0 390.8 369.1 373.0 369.2 398.3 369.3 389.5 369.4 356.7 369.5 355.4 369.6 393.7 369.8 351.9 369.9 402.8 370.0 383.8 370.1 391.4 370.2 391.0 370.3 385.8 370.4 400.1 370.5 377.1 370.6 318.5 370.7 382.1 370.8 395.2 371.0 398.2 371.1 385.6 371.2 401.5 371.3 365.6 371.4 397.4 371.5 405.3 371.6 356.2 371.7 408.0 371.8 366.4 371.9 341.5 372.0 370.1 372.2 379.1 372.3 365.4 372.4 369.5 372.5 366.2 372.6 344.5 372.7 398.9 372.8 379.3 372.9 372.2 373.0 360.3 373.1 378.8 373.2 371.7 373.4 360.7 373.5 390.1 373.6 372.3 373.7 377.5 373.8 397.5 373.9 378.4 374.0 382.9 374.1 363.2 374.2 374.1 374.3 409.1 374.5 378.0 374.6 357.9 374.7 395.6 374.8 399.7 374.9 380.5 375.0 406.7 375.1 415.4 375.2 423.3 375.3 399.9 375.4 381.8 375.5 384.0 375.7 371.1 375.8 393.6 375.9 374.2 376.0 342.1 376.1 392.7 376.2 370.5 376.3 376.5 376.4 378.1 376.5 393.1 376.6 349.5 376.7 395.8 376.9 352.0 377.0 375.1 377.1 386.0 377.2 374.1 377.3 380.0 377.4 378.3 377.5 376.1 377.6 350.2 377.7 366.0 377.8 348.4 377.9 351.0 378.1 400.3 378.2 378.9 378.3 371.8 378.4 383.8 378.5 358.4 378.6 350.3 378.7 387.9 378.8 362.1 378.9 385.9 379.0 370.2 379.1 399.3 379.3 379.0 379.4 396.3 379.5 377.5 379.6 378.1 379.7 371.2 379.8 370.3 379.9 397.4 380.0 359.1 380.1 381.4 380.2 387.5 380.4 397.3 380.5 338.7 380.6 375.2 380.7 396.5 380.8 344.5 380.9 395.7 381.0 350.4 381.1 388.2 381.2 360.0 381.3 392.9 381.4 382.3 381.6 371.5 381.7 380.3 381.8 391.6 381.9 387.3 382.0 363.6 382.1 366.0 382.2 397.9 382.3 394.7 382.4 376.8 382.5 368.5 382.6 336.1 382.8 398.1 382.9 364.1 383.0 396.1 383.1 364.7 383.2 365.8 383.3 377.8 383.4 379.2 383.5 391.1 383.6 378.6 383.7 421.7 383.8 392.4 384.0 339.6 384.1 377.5 384.2 355.9 384.3 396.2 384.4 396.2 384.5 393.0 384.6 397.2 384.7 368.8 384.8 404.5 384.9 401.3 385.0 381.0 385.2 397.7 385.3 351.2 385.4 380.4 385.5 376.7 385.6 375.1 385.7 408.5 385.8 400.5 385.9 366.4 386.0 374.2 386.1 376.4 386.3 358.5 386.4 350.7 386.5 380.7 386.6 396.8 386.7 361.4 386.8 364.6 386.9 378.8 387.0 392.8 387.1 377.4 387.2 393.2 387.3 361.0 387.5 391.6 387.6 349.2 387.7 365.1 387.8 392.4 387.9 363.2 388.0 374.6 388.1 378.9 388.2 397.7 388.3 401.0 388.4 399.6 388.5 349.1 388.7 377.0 388.8 352.0 388.9 393.2 389.0 373.4 389.1 361.1 389.2 383.3" fill="none" stroke="#ff0000" stroke-width="0.6" stroke-linejoin="round"/>
<path d="M39.7 483.2L39.8 454.5 39.8 496.2 39.9 478.8 40.0 487.2 40.0 484.7 40.1 491.2 40.2 491.5 40.3 493.4 40.3 455.7 40.4 506.5 40.5 459.8 40.5 481.6 40.6 480.1 40.7 493.4 40.7 482.7 40.8 482.0 40.9 455.1 41.0 479.8 41.0 506.6 41.1 481.0 41.2 497.8 41.2 476.4 41.3 476.8 41.4 460.6 41.4 492.5 41.5 480.8 41.6 481.9 41.7 485.5 41.7 498.7 41.8 454.1 41.9 503.5 41.9 479.2 42.0 479.2 42.1 485.2 42.1 490.2 42.2 473.7 42.3 478.8 42.4 490.5 42.4 471.1 42.5 470.6 42.6 479.9 42.6 486.0 42.7 493.5 42.8 489.3 42.8 496.2 42.9 497.7 43.0 490.2 43.1 465.1 43.1 474.9 43.2 493.5 43.3 469.7 43.3 487.9 43.4 488.2 43.5 492.8 43.5 477.6 43.6 494.7 43.7 484.5 43.8 476.5 43.8 476.0 43.9 477.0 44.0 451.1 44.0 465.8 44.1 473.3 44.2 480.4 44.2 488.1 44.3 489.1 44.4 469.8 44.5 485.7 44.5 458.9 44.6 469.6 44.7 472.0 44.7 498.2 44.8 465.3 44.9 467.5 44.9 488.9 45.0 497.1 45.1 484.4 45.2 481.7 45.2 486.3 45.3 487.3 45.4 480.5 45.4 477.3 45.5 463.0 45.6 472.2 45.6 485.3 45.7 465.3 45.8 479.6 45.9 478.8 45.9 503.8 46.0 493.8 46.1 490.1 46.1 479.3 46.2 471.6 46.3 458.0 46.3 484.5 46.4 489.8 46.5 486.2 46.6 490.6 46.6 483.1 46.7 464.8 46.8 482.2 46.8 480.4 46.9 459.8 47.0 471.7 47.0 461.0 47.1 480.0 47.2 485.8 47.3 488.6 47.3 471.8 47.4 487.3 47.5 490.8 47.5 478.3 47.6 504.1 47.7 496.4 47.7 472.4 47.8 473.5 47.9 473.1 47.9 477.5 48.0 493.2 48.1 465.9 48.2 485.7 48.2 473.4 48.3 463.6 48.4 460.0 48.4 481.0 48.5 468.2 48.6 485.1 48.6 483.6 48.7 469.6 48.8 473.2 48.9 464.6 48.9 482.3 49.0 470.0 49.1 474.8 49.1 500.2 49.2 486.1 49.3 506.7 49.3 468.4 49.4 471.8 49.5 497.1 49.6 469.3 49.6 483.5 49.7 490.7 49.8 476.3 49.8 482.1 49.9 501.8 50.0 460.0 50.0 478.8 50.1 459.0 50.2 476.6 50.3 492.2 50.3 478.9 50.4 488.3 50.5 490.2 50.5 487.5 50.6 476.3 50.7 491.0 50.7 468.1 50.8 477.3 50.9 491.5 51.0 485.4 51.0 484.1 51.1 481.3 51.2 468.2 51.2 475.4 51.3 498.8 51.4 487.1 51.4 467.4 51.5 485.7 51.6 483.9 51.7 499.2 51.7 499.1 51.8 483.7 51.9 484.1 51.9 470.1 52.0 462.5 52.1 478.3 52.1 477.5 52.2 484.6 52.3 488.9 52.4 484.2 52.4 461.2 52.5 493.0 52.6 499.5 52.6 470.0 52.7 465.7 52.8 486.3 52.8 480.2 52.9 479.8 53.0 474.5 53.1 481.7 53.1 487.1 53.2 493.4 53.3 488.0 53.3 505.9 53.4 498.6 53.5 480.7 53.5 468.1 53.6 480.1 53.7 491.8 53.8 440.3 53.8 469.3 53.9 481.0 54.0 474.3 54.0 501.6 54.1 485.0 54.2 487.5 54.2 506.8 54.3 501.2 54.4 453.3 54.5 474.7 54.5 484.4 54.6 482.3 54.7 502.3 54.7 481.7 54.8 472.9 54.9 477.0 54.9 471.7 55.0 491.4 55.1 460.1 55.2 460.1 55.2 472.6 55.3 484.7 55.4 476.9 55.4 495.1 55.5 477.2 55.6 495.2 55.6 473.8 55.7 469.8 55.8 483.8 55.9 503.4 55.9 506.9 56.0 479.7 56.1 477.5 56.1 480.8 56.2 484.1 56.3 492.3 56.3 478.0 56.4 498.1 56.5 479.5 56.5 468.2 56.6 491.9 56.7 460.2 56.8 478.4 56.8 484.2 56.9 479.9 57.0 469.8 57.0 491.7 57.1 468.0 57.2 472.9 57.2 482.4 57.3 467.1 57.4 463.9 57.5 480.0 57.5 484.5 57.6 475.7 57.7 497.9 57.7 468.2 57.8 482.9 57.9 500.9 57.9 471.2 58.0 479.4 58.1 480.5 58.2 481.5 58.2 506.9 58.3 474.7 58.4 479.2 58.4 461.7 58.5 474.4 58.6 484.8 58.6 481.1 58.7 479.4 58.8 487.1 58.9 497.9 58.9 489.0 59.0 460.2 59.1 482.4 59.1 460.2 59.2 479.0 59.3 485.2 59.3 488.9 59.4 481.4 59.5 476.2 59.6 469.3 59.6 486.2 59.7 486.6 59.8 504.7 59.8 471.7 59.9 477.3 60.0 488.3 60.0 463.9 60.1 483.2 60.2 462.3 60.3 460.2 60.3 481.4 60.4 478.4 60.5 492.0 60.5 506.9 60.6 477.4 60.7 506.4 60.7 487.3 60.8 472.6 60.9 486.0 61.0 474.7 61.0 477.4 61.1 485.6 61.2 506.6 61.2 487.9 61.3 486.7 61.4 483.3 61.4 490.1 61.5 471.4 61.6 493.9 61.7 482.8 61.7 503.5 61.8 488.9 61.9 488.3 61.9 466.2 62.0 490.9 62.1 496.4 62.1 471.9 62.2 493.6 62.3 476.4 62.4 489.8 62.4 479.2 62.5 491.4 62.6 484.0 62.6 472.5 62.7 475.1 62.8 492.4 62.8 460.3 62.9 479.8 63.0 465.8 63.1 490.6 63.1 495.2 63.2 500.5 63.3 485.9 63.3 462.1 63.4 479.2 63.5 488.7 63.5 480.8 63.6 488.3 63.7 500.6 63.8 473.0 63.8 477.4 63.9 504.2 64.0 483.2 64.0 462.5 64.1 476.2 64.2 494.2 64.2 493.1 64.3 485.4 64.4 492.7 64.4 479.4 64.5 474.4 64.6 480.6 64.7 502.3 64.7 462.7 64.8 475.0 64.9 489.4 64.9 468.4 65.0 491.1 65.1 490.1 65.1 463.0 65.2 494.1 65.3 473.1 65.4 480.4 65.4 490.8 65.5 493.0 65.6 469.5 65.6 479.8 65.7 491.9 65.8 473.5 65.8 499.7 65.9 444.6 66.0 491.5 66.1 460.4 66.1 490.0 66.2 507.1 66.3 478.0 66.3 488.8 66.4 500.3 66.5 486.5 66.5 481.6 66.6 493.6 66.7 483.7 66.8 507.1 66.8 507.1 66.9 507.1 67.0 484.4 67.0 500.2 67.1 498.0 67.2 507.1 67.2 489.0 67.3 446.4 67.4 466.6 67.5 481.8 67.5 507.1 67.6 498.3 67.7 502.7 67.7 434.2 67.8 489.3 67.9 492.6 67.9 483.5 68.0 490.9 68.1 479.2 68.2 485.0 68.2 474.1 68.3 474.3 68.4 473.7 68.4 475.6 68.5 478.4 68.6 488.8 68.6 499.5 68.7 486.0 68.8 473.8 68.9 470.1 68.9 486.2 69.0 480.7 69.1 466.3 69.1 500.3 69.2 484.0 69.3 476.1 69.3 499.8 69.4 483.2 69.5 495.9 69.6 479.4 69.6 493.6 69.7 479.1 69.8 476.8 69.8 500.7 69.9 476.8 70.0 463.4 70.0 481.4 70.1 491.6 70.2 479.1 70.3 489.7 70.3 483.3 70.4 497.9 70.5 490.5 70.5 499.7 70.6 492.7 70.7 484.1 70.7 494.3 70.8 490.6 70.9 486.3 71.0 482.5 71.0 489.8 71.1 504.8 71.2 491.3 71.2 498.6 71.3 499.4 71.4 490.9 71.4 502.5 71.5 490.1 71.6 493.4 71.7 507.2 71.7 480.8 71.8 487.0 71.9 478.3 71.9 474.4 72.0 489.2 72.1 497.3 72.1 470.6 72.2 475.7 72.3 474.2 72.3 489.0 72.4 482.4 72.5 479.9 72.6 490.1 72.6 478.9 72.7 469.9 72.8 478.7 72.8 477.0 72.9 488.2 73.0 482.8 73.0 474.6 73.1 470.5 73.2 460.5 73.3 496.5 73.3 478.8 73.4 499.7 73.5 498.9 73.5 468.9 73.6 485.2 73.7 476.5 73.7 460.5 73.8 488.7 73.9 475.5 74.0 507.2 74.0 481.4 74.1 490.2 74.2 493.1 74.2 481.9 74.3 476.4 74.4 495.1 74.4 484.9 74.5 463.1 74.6 473.3 74.7 467.1 74.7 499.8 74.8 482.1 74.9 457.2 74.9 460.5 75.0 468.8 75.1 460.5 75.1 461.2 75.2 468.5 75.3 494.1 75.4 479.0 75.4 490.8 75.5 494.5 75.6 494.0 75.6 483.7 75.7 483.2 75.8 480.5 75.8 469.4 75.9 460.5 76.0 481.7 76.1 468.1 76.1 491.8 76.2 481.8 76.3 464.6 76.3 490.9 76.4 474.1 76.5 486.4 76.5 490.2 76.6 491.8 76.7 468.2 76.8 492.3 76.8 490.0 76.9 489.5 77.0 475.2 77.0 474.3 77.1 473.8 77.2 492.6 77.2 485.1 77.3 487.3 77.4 481.7 77.5 465.8 77.5 485.7 77.6 495.6 77.7 482.8 77.7 460.5 77.8 504.2 77.9 481.5 77.9 506.4 78.0 479.4 78.1 473.8 78.2 479.6 78.2 482.2 78.3 486.2 78.4 486.6 78.4 465.5 78.5 462.7 78.6 474.6 78.6 482.2 78.7 479.6 78.8 487.8 78.9 487.1 78.9 501.7 79.0 470.8 79.1 468.9 79.1 460.4 79.2 506.6 79.3 484.7 79.3 477.6 79.4 460.4 79.5 474.6 79.6 481.5 79.6 466.4 79.7 482.1 79.8 483.1 79.8 505.5 79.9 473.1 80.0 470.7 80.0 475.0 80.1 470.8 80.2 471.5 80.3 475.4 80.3 472.5 80.4 470.3 80.5 474.7 80.5 474.4 80.6 481.9 80.7 476.3 80.7 479.7 80.8 477.2 80.9 473.6 80.9 491.7 81.0 486.1 81.1 500.4 81.2 479.8 81.2 490.8 81.3 478.2 81.4 474.2 81.4 490.8 81.5 496.5 81.6 467.0 81.6 488.9 81.7 460.4 81.8 473.2 81.9 498.3 81.9 494.2 82.0 472.9 82.1 491.9 82.1 477.2 82.2 488.8 82.3 470.7 82.3 483.5 82.4 480.8 82.5 484.7 82.6 475.8 82.6 478.4 82.7 485.5 82.8 494.7 82.8 451.1 82.9 499.5 83.0 475.0 83.0 501.4 83.1 470.5 83.2 476.3 83.3 485.7 83.3 450.1 83.4 484.0 83.5 490.6 83.5 475.6 83.6 460.5 83.7 480.4 83.7 482.9 83.8 474.3 83.9 500.6 84.0 485.4 84.0 479.5 84.1 462.0 84.2 482.1 84.2 485.9 84.3 484.4 84.4 479.5 84.4 501.2 84.5 482.9 84.6 495.5 84.7 490.1 84.7 495.4 84.8 460.7 84.9 469.9 84.9 493.9 85.0 498.8 85.1 484.9 85.1 467.0 85.2 474.5 85.3 460.3 85.4 491.9 85.4 495.2 85.5 487.7 85.6 475.7 85.6 470.2 85.7 473.6 85.8 490.2 85.8 485.0 85.9 460.3 86.0 484.8 86.1 473.6 86.1 484.2 86.2 479.2 86.3 460.3 86.3 483.7 86.4 485.5 86.5 498.5 86.5 478.2 86.6 489.9 86.7 454.5 86.8 490.8 86.8 491.2 86.9 486.4 87.0 495.4 87.0 482.2 87.1 482.9 87.2 478.4 87.2 507.0 87.3 488.1 87.4 465.0 87.5 477.2 87.5 465.2 87.6 484.1 87.7 484.0 87.7 487.5 87.8 475.2 87.9 500.1 87.9 496.2 88.0 468.4 88.1 461.8 88.2 493.9 88.2 478.9 88.3 484.6 88.4 500.6 88.4 476.5 88.5 498.4 88.6 473.6 88.6 506.8 88.7 498.0 88.8 501.8 88.8 493.0 88.9 497.1 89.0 476.2 89.1 460.2 89.1 469.9 89.2 485.9 89.3 465.3 89.3 495.1 89.4 477.2 89.5 494.5 89.5 479.7 89.6 476.5 89.7 476.9 89.8 503.8 89.8 495.5 89.9 476.6 90.0 479.9 90.0 485.4 90.1 497.9 90.2 480.8 90.2 481.8 90.3 500.7 90.4 492.0 90.5 481.2 90.5 449.5 90.6 480.6 90.7 479.8 90.7 485.0 90.8 483.9 90.9 494.0 90.9 469.5 91.0 463.2 91.1 463.5 91.2 486.8 91.2 502.8 91.3 482.3 91.4 469.9 91.4 496.5 91.5 460.2 91.6 481.2 91.6 477.1 91.7 470.8 91.8 473.8 91.9 472.4 91.9 488.3 92.0 487.0 92.1 492.6 92.1 506.2 92.2 494.0 92.3 476.9 92.3 488.2 92.4 478.4 92.5 481.1 92.6 486.8 92.6 482.8 92.7 500.6 92.8 488.2 92.8 482.0 92.9 489.9 93.0 485.4 93.0 473.5 93.1 461.6 93.2 485.4 93.3 490.9 93.3 490.8 93.4 485.0 93.5 488.2 93.5 492.0 93.6 466.8 93.7 483.4 93.7 481.5 93.8 479.4 93.9 461.2 94.0 482.7 94.0 506.8 94.1 470.6 94.2 474.4 94.2 478.9 94.3 485.4 94.4 480.0 94.4 478.1 94.5 473.6 94.6 489.4 94.7 489.2 94.7 480.3 94.8 482.1 94.9 506.8 94.9 477.3 95.0 494.5 95.1 490.2 95.1 488.5 95.2 496.2 95.3 488.9 95.4 487.7 95.4 485.6 95.5 487.5 95.6 477.3 95.6 471.9 95.7 498.5 95.8 489.0 95.8 487.1 95.9 496.1 96.0 480.4 96.1 493.5 96.1 472.9 96.2 467.0 96.3 484.1 96.3 491.6 96.4 495.7 96.5 481.4 96.5 446.9 96.6 486.9 96.7 464.2 96.7 476.7 96.8 492.5 96.9 491.4 97.0 506.8 97.0 483.2 97.1 478.1 97.2 493.2 97.2 474.9 97.3 467.5 97.4 480.4 97.4 488.7 97.5 481.0 97.6 472.9 97.7 471.6 97.7 471.3 97.8 466.6 97.9 490.7 97.9 475.6 98.0 488.1 98.1 486.3 98.1 481.9 98.2 476.3 98.3 463.3 98.4 492.2 98.4 479.8 98.5 504.8 98.6 469.0 98.6 463.0 98.7 475.0 98.8 460.0 98.8 476.0 98.9 480.6 99.0 479.4 99.1 460.0 99.1 499.1 99.2 490.7 99.3 473.4 99.3 475.0 99.4 482.2 99.5 462.1 99.5 486.2 99.6 460.0 99.7 484.0 99.8 506.7 99.8 506.7 99.9 497.7 100.0 486.2 100.0 471.7 100.1 483.4 100.2 485.0 100.2 497.6 100.3 446.9 100.4 482.0 100.5 480.4 100.5 487.5 100.6 483.8 100.7 476.2 100.7 478.5 100.8 498.1 100.9 491.5 100.9 462.6 101.0 484.0 101.1 470.0 101.2 504.5 101.2 489.6 101.3 493.4 101.4 482.4 101.4 494.9 101.5 486.7 101.6 477.2 101.6 473.4 101.7 474.3 101.8 466.5 101.9 480.3 101.9 471.3 102.0 495.9 102.1 485.5 102.1 486.8 102.2 487.2 102.3 478.5 102.3 504.3 102.4 497.7 102.5 490.7 102.6 464.1 102.6 491.1 102.7 489.2 102.8 456.2 102.8 469.8 102.9 506.7 103.0 462.2 103.0 441.1 103.1 497.1 103.2 481.6 103.3 483.2 103.3 467.8 103.4 488.8 103.5 473.6 103.5 484.2 103.6 470.3 103.7 473.4 103.7 473.8 103.8 454.1 103.9 503.4 104.0 487.1 104.0 487.3 104.1 474.4 104.2 462.2 104.2 470.2 104.3 488.1 104.4 481.4 104.4 481.5 104.5 492.2 104.6 493.6 104.7 497.2 104.7 478.8 104.8 470.4 104.9 485.5 104.9 474.8 105.0 487.6 105.1 495.5 105.1 474.0 105.2 479.2 105.3 484.1 105.3 487.4 105.4 468.0 105.5 489.3 105.6 499.1 105.6 464.0 105.7 480.8 105.8 473.6 105.8 493.3 105.9 491.3 106.0 486.1 106.0 493.8 106.1 505.1 106.2 488.9 106.3 477.0 106.3 475.3 106.4 492.5 106.5 481.7 106.5 494.3 106.6 493.3 106.7 481.2 106.7 470.4 106.8 468.3 106.9 459.9 107.0 470.1 107.0 470.2 107.1 495.6 107.2 495.7 107.2 477.9 107.3 469.3 107.4 491.4 107.4 482.5 107.5 459.9 107.6 477.8 107.7 463.5 107.7 465.3 107.8 484.2 107.9 482.2 107.9 488.5 108.0 487.0 108.1 486.3 108.1 471.5 108.2 453.2 108.3 485.2 108.4 501.6 108.4 476.3 108.5 481.7 108.6 462.7 108.6 463.7 108.7 481.9 108.8 477.1 108.8 492.9 108.9 503.7 109.0 506.5 109.1 487.6 109.1 493.1 109.2 469.9 109.3 490.6 109.3 486.5 109.4 493.8 109.5 492.1 109.5 506.5 109.6 485.3 109.7 474.4 109.8 487.2 109.8 484.1 109.9 501.6 110.0 479.7 110.0 479.4 110.1 469.6 110.2 495.7 110.2 471.6 110.3 488.1 110.4 463.4 110.5 478.2 110.5 483.8 110.6 506.6 110.7 483.9 110.7 496.6 110.8 477.7 110.9 490.3 110.9 479.1 111.0 492.5 111.1 468.2 111.2 491.4 111.2 497.5 111.3 494.4 111.4 460.6 111.4 478.6 111.5 459.3 111.6 478.0 111.6 481.1 111.7 493.4 111.8 495.0 111.9 488.3 111.9 493.6 112.0 506.6 112.1 492.5 112.1 485.3 112.2 477.5 112.3 494.5 112.3 493.3 112.4 478.8 112.5 483.7 112.6 477.8 112.6 464.8 112.7 465.9 112.8 468.7 112.8 467.8 112.9 481.9 113.0 473.8 113.0 487.1 113.1 469.5 113.2 485.5 113.2 477.1 113.3 483.2 113.4 474.2 113.5 485.2 113.5 492.4 113.6 489.1 113.7 461.6 113.7 466.8 113.8 498.8 113.9 474.4 113.9 458.6 114.0 487.3 114.1 475.4 114.2 430.6 114.2 493.0 114.3 487.6 114.4 462.5 114.4 479.1 114.5 465.6 114.6 480.0 114.6 478.9 114.7 485.8 114.8 493.8 114.9 434.1 114.9 493.2 115.0 458.2 115.1 498.6 115.1 478.6 115.2 479.4 115.3 477.0 115.3 467.7 115.4 463.9 115.5 445.6 115.6 492.0 115.6 496.8 115.7 476.2 115.8 487.7 115.8 481.5 115.9 506.7 116.0 493.4 116.0 475.8 116.1 492.1 116.2 485.5 116.3 482.1 116.3 473.0 116.4 469.0 116.5 484.1 116.5 482.0 116.6 483.3 116.7 479.1 116.7 506.8 116.8 469.7 116.9 506.8 117.0 481.3 117.0 463.7 117.1 457.6 117.2 470.8 117.2 484.4 117.3 444.6 117.4 483.9 117.4 486.5 117.5 488.5 117.6 476.5 117.7 479.6 117.7 487.4 117.8 488.4 117.9 459.8 117.9 479.9 118.0 468.8 118.1 469.7 118.1 491.5 118.2 480.7 118.3 482.5 118.4 420.1 118.4 481.4 118.5 470.6 118.6 477.7 118.6 454.4 118.7 461.9 118.8 478.9 118.8 481.1 118.9 503.1 119.0 484.4 119.1 494.0 119.1 459.1 119.2 472.6 119.3 459.6 119.3 466.2 119.4 471.7 119.5 471.0 119.5 473.9 119.6 466.6 119.7 482.3 119.8 486.7 119.8 495.0 119.9 487.2 120.0 467.3 120.0 476.5 120.1 472.4 120.2 474.2 120.2 466.3 120.3 468.6 120.4 483.1 120.5 490.5 120.5 494.7 120.6 471.5 120.7 496.0 120.7 477.8 120.8 493.4 120.9 502.9 120.9 490.5 121.0 483.4 121.1 467.9 121.1 430.6 121.2 468.8 121.3 500.3 121.4 487.5 121.4 481.9 121.5 462.8 121.6 472.3 121.6 469.7 121.7 457.1 121.8 467.7 121.8 472.7 121.9 480.0 122.0 466.3 122.1 477.9 122.1 507.0 122.2 485.1 122.3 488.2 122.3 450.7 122.4 477.3 122.5 459.4 122.5 488.1 122.6 483.4 122.7 507.1 122.8 466.2 122.8 466.5 122.9 488.1 123.0 496.4 123.0 476.8 123.1 488.5 123.2 462.9 123.2 477.7 123.3 473.6 123.4 484.3 123.5 481.2 123.5 491.7 123.6 487.3 123.7 480.8 123.7 480.6 123.8 474.5 123.9 483.0 123.9 507.1 124.0 472.6 124.1 470.3 124.2 437.5 124.2 460.6 124.3 465.0 124.4 483.9 124.4 477.0 124.5 503.8 124.6 497.6 124.6 479.5 124.7 494.4 124.8 482.3 124.9 505.2 124.9 466.4 125.0 486.7 125.1 475.0 125.1 489.3 125.2 458.5 125.3 498.2 125.3 483.7 125.4 478.4 125.5 461.5 125.6 482.1 125.6 502.3 125.7 459.6 125.8 481.8 125.8 476.8 125.9 485.4 126.0 478.5 126.0 413.1 126.1 473.8 126.2 469.9 126.3 472.5 126.3 481.1 126.4 478.5 126.5 474.9 126.5 482.8 126.6 469.7 126.7 478.1 126.7 497.2 126.8 488.3 126.9 472.6 127.0 480.2 127.0 470.8 127.1 483.4 127.2 465.7 127.2 457.2 127.3 459.4 127.4 476.1 127.4 488.7 127.5 473.4 127.6 486.9 127.7 491.8 127.7 481.8 127.8 460.7 127.9 460.2 127.9 488.7 128.0 476.9 128.1 492.3 128.1 495.9 128.2 472.1 128.3 488.2 128.4 493.9 128.4 478.7 128.5 423.6 128.6 472.4 128.6 453.9 128.7 477.0 128.8 506.8 128.8 434.1 128.9 500.2 129.0 476.0 129.1 493.8 129.1 494.5 129.2 478.2 129.3 477.8 129.3 458.0 129.4 489.2 129.5 458.0 129.5 506.8 129.6 484.7 129.7 475.3 129.7 492.7 129.8 486.1 129.9 480.2 130.0 503.5 130.0 479.1 130.1 478.9 130.2 506.7 130.2 472.6 130.3 476.5 130.4 481.9 130.4 483.1 130.5 506.7 130.6 427.1 130.7 473.0 130.7 500.7 130.8 485.2 130.9 493.5 130.9 493.2 131.0 502.4 131.1 481.9 131.1 470.1 131.2 479.0 131.3 479.2 131.4 474.3 131.4 483.5 131.5 495.3 131.6 496.0 131.6 465.4 131.7 481.4 131.8 484.4 131.8 481.7 131.9 474.7 132.0 486.1 132.1 476.0 132.1 475.8 132.2 490.9 132.3 476.4 132.3 479.9 132.4 475.3 132.5 480.4 132.5 476.0 132.6 484.1 132.7 488.8 132.8 485.8 132.8 497.5 132.9 486.7 133.0 492.5 133.0 491.8 133.1 473.7 133.2 493.9 133.2 499.1 133.3 475.7 133.4 493.4 133.5 500.3 133.5 481.4 133.6 484.2 133.7 495.6 133.7 492.4 133.8 503.4 133.9 504.7 133.9 490.6 134.0 500.4 134.1 476.9 134.2 472.7 134.2 497.2 134.3 494.0 134.4 467.5 134.4 476.7 134.5 494.1 134.6 506.5 134.6 485.3 134.7 486.9 134.8 482.0 134.9 463.9 134.9 488.4 135.0 488.4 135.1 471.6 135.1 498.3 135.2 466.3 135.3 485.8 135.3 487.1 135.4 483.6 135.5 487.8 135.6 471.2 135.6 459.8 135.7 476.8 135.8 478.4 135.8 482.2 135.9 486.2 136.0 506.5 136.0 484.0 136.1 488.0 136.2 479.0 136.3 467.3 136.3 491.2 136.4 495.3 136.5 494.3 136.5 487.4 136.6 485.3 136.7 492.5 136.7 496.3 136.8 475.6 136.9 476.4 137.0 483.2 137.0 477.2 137.1 494.8 137.2 489.9 137.2 482.6 137.3 483.3 137.4 480.5 137.4 482.2 137.5 467.3 137.6 479.9 137.6 490.4 137.7 495.3 137.8 471.6 137.9 494.7 137.9 481.9 138.0 480.4 138.1 478.7 138.1 480.4 138.2 486.6 138.3 459.9 138.3 501.1 138.4 494.3 138.5 479.1 138.6 476.9 138.6 434.1 138.7 505.1 138.8 481.5 138.8 479.4 138.9 492.5 139.0 496.1 139.0 469.1 139.1 488.4 139.2 472.4 139.3 486.0 139.3 487.9 139.4 481.8 139.5 451.6 139.5 484.4 139.6 492.9 139.7 474.9 139.7 499.6 139.8 479.3 139.9 472.6 140.0 465.4 140.0 460.5 140.1 459.9 140.2 478.9 140.2 495.3 140.3 466.9 140.4 487.1 140.4 470.1 140.5 486.0 140.6 506.0 140.7 492.0 140.7 492.2 140.8 477.7 140.9 491.5 140.9 484.3 141.0 493.2 141.1 466.5 141.1 463.1 141.2 480.1 141.3 486.1 141.4 479.9 141.4 483.0 141.5 494.1 141.6 484.2 141.6 475.4 141.7 467.6 141.8 486.4 141.8 493.8 141.9 494.4 142.0 481.7 142.1 492.9 142.1 475.5 142.2 485.6 142.3 497.3 142.3 495.7 142.4 468.6 142.5 496.5 142.5 498.1 142.6 480.0 142.7 487.9 142.8 476.4 142.8 481.6 142.9 479.2 143.0 484.2 143.0 494.1 143.1 468.4 143.2 464.0 143.2 466.5 143.3 459.9 143.4 491.0 143.5 487.7 143.5 483.0 143.6 472.2 143.7 485.1 143.7 460.9 143.8 502.1 143.9 480.3 143.9 491.7 144.0 479.0 144.1 472.1 144.2 476.3 144.2 468.6 144.3 470.3 144.4 487.6 144.4 469.0 144.5 488.5 144.6 482.9 144.6 489.3 144.7 493.4 144.8 483.7 144.9 482.9 144.9 484.4 145.0 497.1 145.1 471.3 145.1 467.1 145.2 490.8 145.3 459.9 145.3 460.1 145.4 467.8 145.5 497.3 145.5 506.7 145.6 504.8 145.7 469.7 145.8 483.2 145.8 477.1 145.9 489.2 146.0 477.0 146.0 473.5 146.1 473.1 146.2 460.8 146.2 483.8 146.3 481.1 146.4 466.5 146.5 491.8 146.5 500.8 146.6 480.5 146.7 471.9 146.7 483.4 146.8 495.0 146.9 505.3 146.9 485.9 147.0 495.4 147.1 489.0 147.2 495.1 147.2 475.8 147.3 489.1 147.4 476.6 147.4 493.1 147.5 477.5 147.6 474.8 147.6 471.0 147.7 490.4 147.8 472.2 147.9 483.7 147.9 480.2 148.0 464.4 148.1 437.6 148.1 484.0 148.2 489.5 148.3 471.8 148.3 482.6 148.4 480.6 148.5 480.8 148.6 484.4 148.6 479.6 148.7 473.7 148.8 480.5 148.8 477.1 148.9 470.2 149.0 492.5 149.0 460.0 149.1 479.1 149.2 471.0 149.3 496.1 149.3 449.3 149.4 487.8 149.5 506.7 149.5 495.6 149.6 477.6 149.7 461.5 149.7 487.6 149.8 462.3 149.9 506.7 150.0 484.9 150.0 489.9 150.1 491.9 150.2 478.9 150.2 462.3 150.3 473.6 150.4 478.4 150.4 470.7 150.5 492.3 150.6 495.0 150.7 467.4 150.7 486.6 150.8 499.9 150.9 475.6 150.9 479.4 151.0 489.8 151.1 483.9 151.1 478.0 151.2 474.0 151.3 484.7 151.4 484.3 151.4 482.6 151.5 492.4 151.6 476.5 151.6 494.3 151.7 480.6 151.8 500.1 151.8 481.2 151.9 486.0 152.0 487.2 152.1 473.0 152.1 473.4 152.2 493.2 152.3 473.6 152.3 490.9 152.4 475.3 152.5 473.8 152.5 479.2 152.6 476.2 152.7 449.0 152.8 499.9 152.8 489.6 152.9 475.7 153.0 478.8 153.0 475.5 153.1 479.1 153.2 467.1 153.2 480.5 153.3 494.6 153.4 483.6 153.5 477.7 153.5 464.2 153.6 472.8 153.7 487.6 153.7 429.4 153.8 499.1 153.9 479.0 153.9 478.8 154.0 483.3 154.1 476.6 154.1 474.6 154.2 485.9 154.3 497.8 154.4 485.0 154.4 478.7 154.5 495.6 154.6 477.6 154.6 486.7 154.7 477.4 154.8 462.1 154.8 466.9 154.9 447.7 155.0 490.7 155.1 479.6 155.1 494.9 155.2 490.0 155.3 502.5 155.3 460.1 155.4 495.7 155.5 472.5 155.5 471.6 155.6 460.1 155.7 482.7 155.8 493.9 155.8 487.1 155.9 456.7 156.0 496.2 156.0 499.0 156.1 430.6 156.2 488.8 156.2 487.1 156.3 482.2 156.4 480.1 156.5 481.6 156.5 487.6 156.6 491.6 156.7 479.2 156.7 499.9 156.8 489.4 156.9 482.6 156.9 492.2 157.0 506.8 157.1 484.1 157.2 473.1 157.2 465.1 157.3 460.1 157.4 467.8 157.4 486.8 157.5 494.9 157.6 468.7 157.6 487.8 157.7 499.8 157.8 483.1 157.9 481.7 157.9 464.7 158.0 489.8 158.1 493.9 158.1 497.4 158.2 493.3 158.3 506.3 158.3 473.5 158.4 469.9 158.5 481.4 158.6 470.3 158.6 493.0 158.7 476.3 158.8 466.0 158.8 459.8 158.9 473.6 159.0 468.0 159.0 484.3 159.1 481.9 159.2 468.2 159.3 492.9 159.3 488.4 159.4 489.8 159.5 468.0 159.5 465.2 159.6 474.5 159.7 481.8 159.7 483.8 159.8 495.9 159.9 495.2 160.0 490.2 160.0 489.5 160.1 466.8 160.2 475.3 160.2 497.1 160.3 465.8 160.4 483.6 160.4 486.5 160.5 477.5 160.6 479.9 160.7 494.1 160.7 487.6 160.8 498.5 160.9 506.8 160.9 469.2 161.0 502.9 161.1 480.7 161.1 468.4 161.2 496.7 161.3 482.5 161.4 478.3 161.4 493.4 161.5 462.4 161.6 487.3 161.6 500.6 161.7 480.6 161.8 473.3 161.8 485.9 161.9 477.6 162.0 478.3 162.0 484.0 162.1 480.8 162.2 488.3 162.3 475.3 162.3 470.3 162.4 475.3 162.5 490.8 162.5 483.5 162.6 501.1 162.7 489.6 162.7 473.3 162.8 470.7 162.9 485.3 163.0 478.3 163.0 489.4 163.1 474.0 163.2 472.4 163.2 468.5 163.3 481.4 163.4 471.3 163.4 486.1 163.5 486.2 163.6 479.6 163.7 478.2 163.7 484.0 163.8 466.4 163.9 494.6 163.9 480.9 164.0 502.9 164.1 500.6 164.1 482.9 164.2 469.2 164.3 486.5 164.4 486.6 164.4 482.6 164.5 498.0 164.6 473.1 164.6 487.8 164.7 490.0 164.8 481.9 164.8 490.3 164.9 479.3 165.0 480.4 165.1 482.3 165.1 495.7 165.2 488.7 165.3 483.6 165.3 486.7 165.4 478.0 165.5 483.9 165.5 489.8 165.6 500.4 165.7 479.2 165.8 483.2 165.8 468.1 165.9 478.6 166.0 484.5 166.0 472.8 166.1 488.0 166.2 502.1 166.2 490.2 166.3 485.8 166.4 465.1 166.5 498.0 166.5 473.5 166.6 471.2 166.7 460.2 166.7 488.0 166.8 498.3 166.9 472.3 166.9 483.9 167.0 483.8 167.1 483.9 167.2 480.2 167.2 484.4 167.3 499.8 167.4 490.5 167.4 474.2 167.5 470.6 167.6 472.0 167.6 477.1 167.7 474.2 167.8 481.7 167.9 456.4 167.9 481.6 168.0 470.5 168.1 485.3 168.1 490.4 168.2 482.0 168.3 485.4 168.3 486.0 168.4 484.5 168.5 482.5 168.6 496.1 168.6 467.4 168.7 506.9 168.8 505.0 168.8 497.6 168.9 474.5 169.0 506.9 169.0 492.1 169.1 469.2 169.2 474.8 169.3 473.8 169.3 466.3 169.4 484.9 169.5 486.1 169.5 478.6 169.6 478.9 169.7 488.7 169.7 467.4 169.8 501.7 169.9 483.5 169.9 491.9 170.0 475.2 170.1 481.4 170.2 486.3 170.2 497.3 170.3 483.7 170.4 488.9 170.4 476.6 170.5 483.9 170.6 486.0 170.6 476.5 170.7 482.8 170.8 477.9 170.9 465.8 170.9 486.2 171.0 466.0 171.1 506.9 171.1 475.3 171.2 494.7 171.3 485.8 171.3 476.5 171.4 479.3 171.5 494.9 171.6 476.0 171.6 476.5 171.7 486.0 171.8 506.9 171.8 485.5 171.9 479.4 172.0 482.8 172.0 481.8 172.1 468.0 172.2 475.4 172.3 472.4 172.3 470.8 172.4 496.1 172.5 466.0 172.5 494.1 172.6 493.7 172.7 482.0 172.7 492.2 172.8 485.7 172.9 467.0 173.0 478.8 173.0 501.4 173.1 507.0 173.2 490.8 173.2 501.9 173.3 473.9 173.4 472.1 173.4 460.3 173.5 480.0 173.6 460.3 173.7 494.1 173.7 477.1 173.8 496.5 173.9 491.1 173.9 483.2 174.0 473.9 174.1 503.0 174.1 476.4 174.2 473.8 174.3 484.4 174.4 480.8 174.4 493.2 174.5 484.3 174.6 488.4 174.6 486.7 174.7 493.5 174.8 487.9 174.8 485.4 174.9 496.0 175.0 481.3 175.1 460.4 175.1 485.8 175.2 468.0 175.3 497.0 175.3 482.8 175.4 471.0 175.5 483.3 175.5 468.4 175.6 470.3 175.7 474.1 175.8 489.2 175.8 464.0 175.9 477.4 176.0 470.7 176.0 486.7 176.1 473.2 176.2 494.2 176.2 493.0 176.3 464.1 176.4 477.8 176.5 479.1 176.5 493.8 176.6 461.4 176.7 492.0 176.7 488.7 176.8 502.9 176.9 499.0 176.9 506.0 177.0 482.2 177.1 471.4 177.2 503.0 177.2 481.6 177.3 490.7 177.4 485.3 177.4 478.0 177.5 499.1 177.6 486.2 177.6 488.2 177.7 481.3 177.8 476.5 177.9 488.2 177.9 481.6 178.0 491.5 178.1 482.6 178.1 484.6 178.2 485.1 178.3 484.2 178.3 490.8 178.4 470.6 178.5 460.3 178.5 462.1 178.6 490.2 178.7 481.5 178.8 483.9 178.8 488.3 178.9 495.9 179.0 491.0 179.0 471.6 179.1 471.9 179.2 488.6 179.2 478.8 179.3 486.0 179.4 472.6 179.5 475.0 179.5 467.7 179.6 490.5 179.7 466.6 179.7 479.9 179.8 482.9 179.9 478.8 179.9 486.6 180.0 487.3 180.1 461.5 180.2 468.2 180.2 494.2 180.3 474.7 180.4 481.2 180.4 484.5 180.5 490.8 180.6 507.0 180.6 495.4 180.7 473.1 180.8 483.3 180.9 442.6 180.9 475.5 181.0 507.0 181.1 479.8 181.1 485.8 181.2 466.3 181.3 485.5 181.3 475.4 181.4 480.4 181.5 470.5 181.6 465.1 181.6 486.6 181.7 501.3 181.8 470.0 181.8 477.0 181.9 491.1 182.0 473.5 182.0 477.7 182.1 478.6 182.2 489.6 182.3 464.8 182.3 492.0 182.4 472.9 182.5 490.5 182.5 456.4 182.6 507.1 182.7 482.9 182.7 479.3 182.8 450.6 182.9 487.9 183.0 480.2 183.0 490.2 183.1 501.7 183.2 489.8 183.2 489.8 183.3 479.8 183.4 487.6 183.4 499.0 183.5 487.0 183.6 507.1 183.7 491.8 183.7 486.1 183.8 507.1 183.9 488.8 183.9 479.4 184.0 483.9 184.1 484.8 184.1 474.3 184.2 466.6 184.3 480.4 184.4 470.4 184.4 462.9 184.5 485.8 184.6 499.5 184.6 490.9 184.7 460.4 184.8 483.0 184.8 489.2 184.9 485.1 185.0 489.7 185.1 480.7 185.1 480.9 185.2 482.1 185.3 486.8 185.3 476.0 185.4 495.3 185.5 496.8 185.5 498.0 185.6 472.3 185.7 502.7 185.8 476.5 185.8 495.7 185.9 471.0 186.0 493.5 186.0 475.9 186.1 466.8 186.2 489.6 186.2 507.1 186.3 480.6 186.4 497.2 186.4 448.0 186.5 487.2 186.6 481.1 186.7 494.3 186.7 472.1 186.8 474.2 186.9 472.0 186.9 487.5 187.0 493.8 187.1 464.7 187.1 466.1 187.2 479.2 187.3 485.8 187.4 471.7 187.4 490.3 187.5 490.4 187.6 479.9 187.6 479.5 187.7 465.3 187.8 493.0 187.8 504.0 187.9 481.9 188.0 495.3 188.1 484.9 188.1 505.9 188.2 471.4 188.3 487.4 188.3 491.6 188.4 495.5 188.5 503.5 188.5 498.2 188.6 497.4 188.7 476.5 188.8 479.2 188.8 507.1 188.9 501.9 189.0 460.4 189.0 485.7 189.1 484.6 189.2 478.9 189.2 473.9 189.3 480.7 189.4 468.5 189.5 474.7 189.5 474.8 189.6 463.7 189.7 481.8 189.7 471.2 189.8 496.1 189.9 470.8 189.9 482.5 190.0 476.4 190.1 485.4 190.2 496.0 190.2 498.9 190.3 505.8 190.4 498.8 190.4 483.5 190.5 485.7 190.6 484.8 190.6 488.9 190.7 489.0 190.8 463.7 190.9 478.8 190.9 472.5 191.0 460.5 191.1 462.4 191.1 488.1 191.2 450.7 191.3 492.3 191.3 495.4 191.4 480.6 191.5 471.4 191.6 482.3 191.6 493.1 191.7 479.9 191.8 474.5 191.8 477.4 191.9 470.8 192.0 506.1 192.0 479.5 192.1 487.0 192.2 489.0 192.3 475.6 192.3 463.4 192.4 484.0 192.5 489.6 192.5 482.6 192.6 499.9 192.7 486.6 192.7 459.3 192.8 479.1 192.9 460.5 193.0 489.1 193.0 488.7 193.1 473.0 193.2 483.3 193.2 473.8 193.3 483.1 193.4 485.8 193.4 491.1 193.5 488.0 193.6 478.3 193.7 464.5 193.7 500.3 193.8 495.0 193.9 477.0 193.9 490.4 194.0 491.7 194.1 460.5 194.1 479.3 194.2 498.1 194.3 477.7 194.3 460.5 194.4 470.7 194.5 486.3 194.6 471.4 194.6 463.7 194.7 481.3 194.8 468.6 194.8 484.5 194.9 476.0 195.0 507.2 195.0 507.2 195.1 471.6 195.2 464.4 195.3 470.8 195.3 472.4 195.4 460.5 195.5 475.4 195.5 479.2 195.6 473.9 195.7 460.5 195.7 479.5 195.8 460.5 195.9 466.9 196.0 491.3 196.0 491.6 196.1 498.7 196.2 490.2 196.2 500.2 196.3 469.3 196.4 489.0 196.4 488.6 196.5 488.4 196.6 495.0 196.7 480.8 196.7 473.5 196.8 477.2 196.9 491.3 196.9 479.2 197.0 481.1 197.1 484.2 197.1 469.9 197.2 507.2 197.3 480.4 197.4 482.9 197.4 465.0 197.5 477.0 197.6 476.5 197.6 485.2 197.7 474.2 197.8 484.6 197.8 477.3 197.9 498.4 198.0 485.1 198.1 483.0 198.1 485.9 198.2 475.0 198.3 471.3 198.3 463.6 198.4 478.4 198.5 478.5 198.5 484.7 198.6 494.7 198.7 478.4 198.8 489.5 198.8 495.9 198.9 507.2 199.0 491.9 199.0 473.1 199.1 482.5 199.2 492.6 199.2 482.8 199.3 494.6 199.4 475.0 199.5 490.4 199.5 492.9 199.6 471.5 199.7 490.6 199.7 494.2 199.8 492.4 199.9 475.2 199.9 475.5 200.0 473.4 200.1 481.8 200.2 470.2 200.2 504.3 200.3 444.6 200.4 493.3 200.4 478.3 200.5 487.2 200.6 478.4 200.6 465.8 200.7 507.3 200.8 476.6 200.9 507.3 200.9 475.7 201.0 481.0 201.1 507.0 201.1 480.6 201.2 473.6 201.3 475.7 201.3 466.2 201.4 492.3 201.5 507.3 201.6 498.5 201.6 477.8 201.7 479.6 201.8 488.4 201.8 481.6 201.9 496.6 202.0 494.3 202.0 487.7 202.1 492.5 202.2 506.0 202.3 477.0 202.3 472.2 202.4 473.1 202.5 463.3 202.5 469.4 202.6 485.5 202.7 480.7 202.7 494.3 202.8 480.7 202.9 483.9 202.9 489.2 203.0 495.8 203.1 479.0 203.2 484.5 203.2 499.9 203.3 479.2 203.4 492.5 203.4 486.3 203.5 505.8 203.6 502.5 203.6 494.8 203.7 484.8 203.8 465.5 203.9 461.2 203.9 463.1 204.0 489.5 204.1 491.5 204.1 474.2 204.2 451.6 204.3 492.7 204.3 479.6 204.4 479.4 204.5 484.0 204.6 461.3 204.6 479.9 204.7 474.9 204.8 461.3 204.8 496.5 204.9 484.6 205.0 475.5 205.0 470.6 205.1 483.5 205.2 480.2 205.3 476.2 205.3 469.8 205.4 488.8 205.5 474.4 205.5 478.4 205.6 459.2 205.7 487.9 205.7 490.2 205.8 493.6 205.9 479.0 206.0 502.0 206.0 470.0 206.1 483.3 206.2 488.9 206.2 477.6 206.3 503.8 206.4 498.2 206.4 468.6 206.5 490.4 206.6 468.9 206.7 482.0 206.7 479.8 206.8 480.8 206.9 479.2 206.9 495.2 207.0 497.7 207.1 483.3 207.1 473.5 207.2 463.2 207.3 455.9 207.4 481.2 207.4 461.5 207.5 463.6 207.6 496.9 207.6 475.7 207.7 473.7 207.8 486.6 207.8 489.5 207.9 491.9 208.0 480.6 208.1 481.6 208.1 484.9 208.2 486.3 208.3 507.3 208.3 493.0 208.4 486.2 208.5 466.5 208.5 482.8 208.6 478.6 208.7 490.1 208.8 488.2 208.8 496.3 208.9 482.6 209.0 488.8 209.0 487.7 209.1 465.6 209.2 486.4 209.2 495.0 209.3 490.9 209.4 487.0 209.5 474.9 209.5 502.9 209.6 492.4 209.7 471.8 209.7 465.2 209.8 470.1 209.9 468.1 209.9 485.5 210.0 476.2 210.1 463.8 210.2 484.8 210.2 486.8 210.3 461.0 210.4 468.6 210.4 485.9 210.5 476.2 210.6 490.4 210.6 487.6 210.7 490.3 210.8 483.4 210.8 496.8 210.9 503.9 211.0 493.6 211.1 469.8 211.1 477.3 211.2 472.5 211.3 492.3 211.3 494.8 211.4 475.1 211.5 479.2 211.5 462.7 211.6 469.5 211.7 489.3 211.8 472.9 211.8 492.6 211.9 489.5 212.0 501.6 212.0 493.0 212.1 467.6 212.2 486.7 212.2 482.1 212.3 479.1 212.4 463.0 212.5 472.5 212.5 475.5 212.6 468.8 212.7 480.0 212.7 482.3 212.8 479.8 212.9 474.2 212.9 484.1 213.0 499.5 213.1 486.5 213.2 488.2 213.2 491.3 213.3 477.5 213.4 496.8 213.4 485.2 213.5 495.0 213.6 487.5 213.6 468.9 213.7 480.2 213.8 445.7 213.9 480.0 213.9 501.3 214.0 476.1 214.1 490.4 214.1 488.2 214.2 482.4 214.3 474.1 214.3 472.4 214.4 493.6 214.5 486.9 214.6 481.6 214.6 467.1 214.7 489.7 214.8 474.8 214.8 490.7 214.9 493.7 215.0 490.7 215.0 503.1 215.1 493.2 215.2 474.1 215.3 488.3 215.3 446.9 215.4 482.5 215.5 506.0 215.5 499.0 215.6 478.6 215.7 479.0 215.7 474.7 215.8 468.9 215.9 485.7 216.0 489.4 216.0 499.8 216.1 486.1 216.2 486.0 216.2 475.1 216.3 489.6 216.4 481.1 216.4 496.4 216.5 492.1 216.6 494.3 216.7 462.5 216.7 493.0 216.8 471.3 216.9 484.7 216.9 476.2 217.0 488.8 217.1 474.1 217.1 496.6 217.2 471.6 217.3 462.8 217.4 499.4 217.4 491.8 217.5 496.6 217.6 496.6 217.6 489.1 217.7 490.3 217.8 487.4 217.8 491.2 217.9 490.3 218.0 481.5 218.1 506.6 218.1 490.9 218.2 473.4 218.3 480.7 218.3 491.0 218.4 474.3 218.5 487.7 218.5 475.0 218.6 482.7 218.7 482.0 218.7 473.5 218.8 491.8 218.9 487.8 219.0 488.7 219.0 494.7 219.1 502.1 219.2 494.0 219.2 482.4 219.3 484.6 219.4 492.1 219.4 489.4 219.5 463.7 219.6 507.4 219.7 478.4 219.7 469.3 219.8 487.1 219.9 475.1 219.9 479.0 220.0 463.7 220.1 498.9 220.1 488.9 220.2 481.9 220.3 487.8 220.4 502.0 220.4 493.4 220.5 485.6 220.6 489.2 220.6 498.9 220.7 499.0 220.8 478.7 220.8 499.2 220.9 473.8 221.0 478.4 221.1 475.1 221.1 474.0 221.2 486.3 221.3 474.6 221.3 486.2 221.4 489.2 221.5 474.1 221.5 491.2 221.6 470.9 221.7 488.5 221.8 500.6 221.8 492.9 221.9 479.5 222.0 483.1 222.0 463.0 222.1 463.0 222.2 471.9 222.2 483.4 222.3 488.2 222.4 474.1 222.5 499.1 222.5 477.0 222.6 481.6 222.7 477.4 222.7 482.9 222.8 487.9 222.9 470.4 222.9 487.0 223.0 469.5 223.1 475.8 223.2 480.2 223.2 484.9 223.3 487.8 223.4 463.1 223.4 478.9 223.5 505.9 223.6 470.1 223.6 470.3 223.7 500.6 223.8 485.4 223.9 489.1 223.9 479.5 224.0 481.9 224.1 451.8 224.1 501.9 224.2 467.8 224.3 488.1 224.3 500.9 224.4 475.8 224.5 479.9 224.6 473.1 224.6 486.4 224.7 488.2 224.8 485.6 224.8 472.8 224.9 488.9 225.0 486.9 225.0 473.1 225.1 483.7 225.2 473.7 225.3 484.7 225.3 484.7 225.4 507.5 225.5 478.2 225.5 491.3 225.6 507.5 225.7 496.3 225.7 480.8 225.8 504.0 225.9 475.1 226.0 465.6 226.0 476.3 226.1 477.2 226.2 471.3 226.2 483.9 226.3 479.9 226.4 486.4 226.4 485.2 226.5 484.2 226.6 475.2 226.6 486.9 226.7 466.6 226.8 497.6 226.9 469.0 226.9 507.5 227.0 490.5 227.1 487.4 227.1 498.3 227.2 497.2 227.3 472.9 227.3 499.1 227.4 500.7 227.5 482.1 227.6 491.1 227.6 492.5 227.7 468.0 227.8 505.0 227.8 496.4 227.9 486.5 228.0 481.1 228.0 492.7 228.1 499.6 228.2 496.1 228.3 493.0 228.3 463.6 228.4 476.5 228.5 489.4 228.5 502.1 228.6 476.8 228.7 489.1 228.7 504.1 228.8 489.5 228.9 498.1 229.0 487.9 229.0 476.2 229.1 484.9 229.2 482.8 229.2 491.8 229.3 482.5 229.4 491.3 229.4 468.0 229.5 486.0 229.6 463.7 229.7 471.6 229.7 467.3 229.8 491.3 229.9 495.8 229.9 494.5 230.0 489.9 230.1 481.5 230.1 494.4 230.2 470.0 230.3 481.8 230.4 496.8 230.4 491.7 230.5 485.5 230.6 498.2 230.6 473.2 230.7 481.5 230.8 484.5 230.8 482.8 230.9 496.4 231.0 463.9 231.1 487.3 231.1 470.2 231.2 488.6 231.3 492.2 231.3 475.6 231.4 467.9 231.5 481.4 231.5 490.6 231.6 451.4 231.7 473.6 231.8 470.4 231.8 488.6 231.9 483.6 232.0 479.2 232.0 480.8 232.1 491.2 232.2 470.9 232.2 464.0 232.3 476.3 232.4 482.3 232.5 474.1 232.5 483.8 232.6 472.6 232.7 494.6 232.7 501.1 232.8 506.6 232.9 484.1 232.9 497.7 233.0 479.3 233.1 483.2 233.2 476.8 233.2 492.8 233.3 485.8 233.4 499.8 233.4 469.4 233.5 469.8 233.6 501.7 233.6 484.5 233.7 490.5 233.8 504.3 233.9 490.0 233.9 484.4 234.0 476.8 234.1 477.4 234.1 484.3 234.2 472.2 234.3 482.3 234.3 469.6 234.4 490.9 234.5 488.2 234.6 502.3 234.6 481.9 234.7 482.1 234.8 480.6 234.8 488.7 234.9 495.9 235.0 477.3 235.0 490.3 235.1 478.8 235.2 478.3 235.2 474.4 235.3 486.4 235.4 483.0 235.5 498.8 235.5 481.4 235.6 466.1 235.7 485.2 235.7 481.7 235.8 469.8 235.9 476.4 235.9 504.1 236.0 485.8 236.1 499.4 236.2 496.4 236.2 473.9 236.3 498.0 236.4 504.9 236.4 507.6 236.5 496.2 236.6 483.0 236.6 474.7 236.7 480.0 236.8 491.4 236.9 481.1 236.9 477.4 237.0 488.9 237.1 482.5 237.1 496.4 237.2 479.6 237.3 497.9 237.3 488.6 237.4 467.2 237.5 474.8 237.6 472.9 237.6 477.3 237.7 493.3 237.8 473.5 237.8 492.2 237.9 489.6 238.0 476.2 238.0 487.9 238.1 470.7 238.2 496.0 238.3 498.2 238.3 473.7 238.4 507.6 238.5 487.2 238.5 486.4 238.6 480.5 238.7 478.2 238.7 485.2 238.8 483.2 238.9 476.9 239.0 469.6 239.0 468.0 239.1 491.0 239.2 507.3 239.2 483.1 239.3 474.2 239.4 500.9 239.4 496.7 239.5 498.3 239.6 481.8 239.7 486.5 239.7 475.2 239.8 483.1 239.9 473.2 239.9 496.3 240.0 492.8 240.1 485.2 240.1 484.4 240.2 497.5 240.3 472.4 240.4 494.1 240.4 464.8 240.5 487.4 240.6 470.5 240.6 471.5 240.7 474.5 240.8 486.0 240.8 467.1 240.9 471.3 241.0 483.1 241.1 492.1 241.1 487.6 241.2 486.4 241.3 472.0 241.3 472.5 241.4 470.2 241.5 475.9 241.5 485.9 241.6 473.4 241.7 479.9 241.8 478.4 241.8 474.6 241.9 484.0 242.0 464.9 242.0 464.9 242.1 495.2 242.2 496.5 242.2 484.3 242.3 489.8 242.4 504.2 242.5 472.2 242.5 471.0 242.6 485.0 242.7 479.3 242.7 500.8 242.8 496.0 242.9 479.9 242.9 481.6 243.0 470.2 243.1 479.8 243.1 489.5 243.2 496.5 243.3 485.8 243.4 500.0 243.4 489.5 243.5 477.7 243.6 497.3 243.6 489.6 243.7 486.7 243.8 501.4 243.8 488.0 243.9 491.0 244.0 497.1 244.1 485.3 244.1 474.5 244.2 465.2 244.3 476.0 244.3 475.9 244.4 485.6 244.5 448.1 244.5 489.4 244.6 473.8 244.7 496.3 244.8 488.5 244.8 507.7 244.9 491.4 245.0 473.0 245.0 483.9 245.1 465.2 245.2 501.8 245.2 484.0 245.3 470.8 245.4 465.3 245.5 467.1 245.5 489.7 245.6 495.7 245.7 494.1 245.7 491.2 245.8 488.0 245.9 497.7 245.9 485.1 246.0 492.8 246.1 503.5 246.2 492.7 246.2 490.6 246.3 496.1 246.4 491.4 246.4 465.4 246.5 481.9 246.6 460.8 246.6 474.2 246.7 474.8 246.8 475.3 246.9 468.3 246.9 481.1 247.0 500.1 247.1 492.2 247.1 480.8 247.2 482.7 247.3 491.8 247.3 495.5 247.4 491.5 247.5 493.3 247.6 485.5 247.6 467.1 247.7 479.9 247.8 485.1 247.8 468.2 247.9 482.8 248.0 506.3 248.0 491.7 248.1 487.3 248.2 465.5 248.3 477.2 248.3 491.2 248.4 499.6 248.5 491.0 248.5 481.3 248.6 482.8 248.7 474.9 248.7 465.6 248.8 465.6 248.9 471.3 249.0 475.7 249.0 483.7 249.1 489.3 249.2 477.1 249.2 472.9 249.3 492.9 249.4 492.0 249.4 507.5 249.5 507.7 249.6 485.5 249.7 467.0 249.7 495.9 249.8 485.4 249.9 475.9 249.9 469.9 250.0 483.9 250.1 474.3 250.1 487.6 250.2 485.7 250.3 487.3 250.4 483.4 250.4 443.3 250.5 502.9 250.6 475.2 250.6 488.8 250.7 480.3 250.8 484.8 250.8 479.9 250.9 477.1 251.0 496.4 251.0 491.5 251.1 494.7 251.2 492.1 251.3 483.0 251.3 493.0 251.4 497.8 251.5 491.5 251.5 496.8 251.6 503.1 251.7 487.1 251.7 486.5 251.8 489.3 251.9 499.5 252.0 482.7 252.0 470.2 252.1 495.3 252.2 491.8 252.2 487.8 252.3 488.8 252.4 504.4 252.4 507.6 252.5 473.3 252.6 469.7 252.7 480.8 252.7 469.4 252.8 473.5 252.9 480.7 252.9 489.2 253.0 499.8 253.1 484.0 253.1 473.9 253.2 488.5 253.3 489.9 253.4 463.8 253.4 483.7 253.5 477.7 253.6 465.5 253.6 476.4 253.7 488.8 253.8 489.5 253.8 479.4 253.9 477.9 254.0 482.0 254.1 487.7 254.1 477.2 254.2 486.4 254.3 489.4 254.3 480.4 254.4 473.6 254.5 484.3 254.5 479.4 254.6 488.1 254.7 474.6 254.8 480.4 254.8 488.9 254.9 483.1 255.0 475.4 255.0 483.0 255.1 491.4 255.2 486.4 255.2 477.5 255.3 485.6 255.4 493.8 255.5 493.9 255.5 502.2 255.6 493.9 255.7 494.9 255.7 507.5 255.8 476.3 255.9 489.6 255.9 486.1 256.0 486.0 256.1 491.1 256.2 481.5 256.2 484.1 256.3 480.0 256.4 447.6 256.4 488.1 256.5 474.0 256.6 491.0 256.6 500.5 256.7 494.6 256.8 474.9 256.9 482.5 256.9 484.4 257.0 490.0 257.1 466.3 257.1 473.4 257.2 492.3 257.3 495.7 257.3 495.2 257.4 482.7 257.5 501.1 257.6 465.4 257.6 482.2 257.7 481.1 257.8 477.6 257.8 482.3 257.9 477.0 258.0 494.1 258.0 478.3 258.1 474.4 258.2 504.3 258.3 484.1 258.3 482.3 258.4 488.7 258.5 494.3 258.5 481.1 258.6 492.7 258.7 489.3 258.7 469.4 258.8 485.6 258.9 502.4 259.0 500.5 259.0 496.0 259.1 474.8 259.2 494.5 259.2 495.2 259.3 491.3 259.4 486.8 259.4 483.6 259.5 465.4 259.6 501.4 259.6 495.7 259.7 491.0 259.8 489.3 259.9 465.4 259.9 465.3 260.0 475.9 260.1 491.4 260.1 491.0 260.2 501.0 260.3 496.0 260.3 500.8 260.4 485.6 260.5 493.7 260.6 487.8 260.6 498.1 260.7 500.1 260.8 504.5 260.8 495.3 260.9 493.0 261.0 496.6 261.0 476.6 261.1 486.2 261.2 497.5 261.3 483.2 261.3 483.0 261.4 501.0 261.5 502.8 261.5 476.3 261.6 455.0 261.7 504.6 261.7 498.4 261.8 487.2 261.9 488.6 262.0 491.4 262.0 476.6 262.1 479.0 262.2 504.5 262.2 490.9 262.3 475.3 262.4 475.1 262.4 480.7 262.5 472.5 262.6 475.2 262.7 496.3 262.7 473.1 262.8 507.3 262.9 497.4 262.9 469.0 263.0 493.8 263.1 487.9 263.1 482.8 263.2 470.2 263.3 450.9 263.4 474.4 263.4 490.5 263.5 464.7 263.6 497.0 263.6 479.6 263.7 465.2 263.8 492.6 263.8 487.5 263.9 497.0 264.0 487.5 264.1 490.7 264.1 475.0 264.2 499.3 264.3 503.1 264.3 483.7 264.4 465.2 264.5 480.9 264.5 485.9 264.6 483.4 264.7 497.8 264.8 490.9 264.8 486.4 264.9 494.0 265.0 481.8 265.0 488.1 265.1 489.9 265.2 485.1 265.2 484.3 265.3 480.3 265.4 465.2 265.5 474.1 265.5 507.2 265.6 486.5 265.7 481.9 265.7 476.4 265.8 500.1 265.9 474.3 265.9 465.2 266.0 504.7 266.1 483.4 266.2 503.3 266.2 474.1 266.3 494.4 266.4 485.9 266.4 470.7 266.5 507.2 266.6 485.2 266.6 460.1 266.7 468.9 266.8 486.5 266.9 498.6 266.9 488.3 267.0 497.3 267.1 481.2 267.1 479.5 267.2 506.6 267.3 485.1 267.3 502.4 267.4 472.3 267.5 472.8 267.5 492.3 267.6 491.3 267.7 483.4 267.8 498.3 267.8 478.2 267.9 485.1 268.0 496.8 268.0 495.6 268.1 481.4 268.2 479.7 268.2 485.1 268.3 477.7 268.4 481.9 268.5 487.3 268.5 479.2 268.6 472.0 268.7 496.5 268.7 497.2 268.8 479.1 268.9 483.6 268.9 481.3 269.0 489.6 269.1 496.5 269.2 494.0 269.2 507.1 269.3 474.0 269.4 488.7 269.4 449.1 269.5 485.4 269.6 470.4 269.6 480.3 269.7 493.7 269.8 477.5 269.9 484.1 269.9 484.9 270.0 477.0 270.1 468.3 270.1 483.2 270.2 466.3 270.3 497.1 270.3 480.9 270.4 490.6 270.5 484.6 270.6 489.8 270.6 494.7 270.7 482.7 270.8 489.6 270.8 473.9 270.9 472.6 271.0 477.6 271.0 477.0 271.1 475.1 271.2 486.7 271.3 499.0 271.3 496.6 271.4 481.7 271.5 497.9 271.5 493.3 271.6 506.5 271.7 482.3 271.7 479.4 271.8 493.0 271.9 505.3 272.0 480.1 272.0 469.8 272.1 480.1 272.2 478.7 272.2 490.4 272.3 494.4 272.4 482.7 272.4 465.0 272.5 499.1 272.6 493.0 272.7 485.8 272.7 495.0 272.8 477.7 272.9 501.9 272.9 499.4 273.0 479.2 273.1 502.4 273.1 465.0 273.2 480.5 273.3 490.0 273.4 497.4 273.4 476.5 273.5 489.3 273.6 489.7 273.6 493.7 273.7 473.5 273.8 471.7 273.8 482.8 273.9 485.2 274.0 487.0 274.1 491.1 274.1 494.1 274.2 467.1 274.3 484.4 274.3 481.3 274.4 479.9 274.5 473.4 274.5 477.9 274.6 480.6 274.7 501.2 274.8 474.0 274.8 489.1 274.9 473.3 275.0 470.1 275.0 475.5 275.1 471.9 275.2 486.1 275.2 477.8 275.3 487.4 275.4 450.7 275.4 474.5 275.5 493.7 275.6 475.9 275.7 506.9 275.7 482.0 275.8 488.8 275.9 492.5 275.9 464.9 276.0 472.3 276.1 506.9 276.1 469.8 276.2 494.9 276.3 469.8 276.4 475.5 276.4 471.6 276.5 500.0 276.6 477.2 276.6 484.2 276.7 480.4 276.8 489.9 276.8 488.5 276.9 487.4 277.0 483.8 277.1 473.6 277.1 485.2 277.2 483.6 277.3 497.6 277.3 467.3 277.4 474.2 277.5 490.5 277.5 478.8 277.6 471.7 277.7 486.4 277.8 469.8 277.8 481.3 277.9 485.4 278.0 487.2 278.0 496.2 278.1 479.2 278.2 487.5 278.2 506.8 278.3 486.7 278.4 479.6 278.5 482.1 278.5 494.9 278.6 480.2 278.7 456.7 278.7 486.1 278.8 499.5 278.9 478.7 278.9 471.1 279.0 498.7 279.1 483.1 279.2 488.4 279.2 488.1 279.3 490.2 279.4 485.3 279.4 482.6 279.5 496.5 279.6 476.9 279.6 491.9 279.7 506.8 279.8 482.0 279.9 491.7 279.9 501.7 280.0 480.7 280.1 502.0 280.1 488.9 280.2 506.8 280.3 487.0 280.3 472.5 280.4 488.6 280.5 465.8 280.6 479.7 280.6 496.6 280.7 486.2 280.8 479.5 280.8 485.6 280.9 493.6 281.0 480.7 281.0 484.7 281.1 482.5 281.2 482.2 281.3 495.6 281.3 478.2 281.4 482.7 281.5 479.1 281.5 470.1 281.6 464.7 281.7 464.7 281.7 474.4 281.8 476.4 281.9 488.2 282.0 486.4 282.0 464.7 282.1 481.3 282.2 492.4 282.2 492.4 282.3 481.0 282.4 492.1 282.4 484.0 282.5 471.8 282.6 471.7 282.7 485.2 282.7 505.5 282.8 475.9 282.9 490.9 282.9 486.9 283.0 478.2 283.1 464.7 283.1 482.7 283.2 477.1 283.3 479.5 283.4 484.0 283.4 475.9 283.5 472.7 283.6 504.5 283.6 471.7 283.7 482.8 283.8 498.6 283.8 489.0 283.9 474.5 284.0 485.7 284.0 489.2 284.1 473.0 284.2 481.5 284.3 491.8 284.3 463.5 284.4 487.2 284.5 472.4 284.5 481.7 284.6 497.2 284.7 481.0 284.7 482.3 284.8 493.4 284.9 478.1 285.0 456.7 285.0 483.8 285.1 487.1 285.2 482.1 285.2 493.3 285.3 494.6 285.4 465.2 285.4 493.1 285.5 500.8 285.6 476.8 285.7 482.8 285.7 490.8 285.8 493.8 285.9 485.7 285.9 486.4 286.0 492.9 286.1 483.5 286.1 482.1 286.2 486.9 286.3 478.6 286.4 497.1 286.4 494.1 286.5 483.5 286.6 471.4 286.6 473.5 286.7 473.7 286.8 470.2 286.8 474.6 286.9 474.0 287.0 486.4 287.1 493.1 287.1 470.9 287.2 478.3 287.3 478.2 287.3 447.4 287.4 478.2 287.5 480.0 287.5 486.5 287.6 478.3 287.7 490.6 287.8 504.3 287.8 476.4 287.9 482.2 288.0 481.0 288.0 502.0 288.1 483.0 288.2 465.2 288.2 481.6 288.3 495.2 288.4 476.3 288.5 485.7 288.5 504.6 288.6 501.0 288.7 485.7 288.7 477.5 288.8 475.7 288.9 492.2 288.9 502.4 289.0 503.6 289.1 493.2 289.2 479.9 289.2 487.4 289.3 467.2 289.4 476.2 289.4 476.4 289.5 479.8 289.6 488.6 289.6 492.8 289.7 479.6 289.8 478.3 289.9 476.8 289.9 464.5 290.0 478.9 290.1 476.5 290.1 498.9 290.2 473.2 290.3 496.9 290.3 474.9 290.4 464.5 290.5 469.4 290.6 487.9 290.6 472.4 290.7 492.4 290.8 483.8 290.8 471.2 290.9 484.7 291.0 475.9 291.0 483.2 291.1 497.2 291.2 492.7 291.3 506.5 291.3 475.9 291.4 468.1 291.5 500.1 291.5 493.0 291.6 481.6 291.7 473.0 291.7 490.4 291.8 480.9 291.9 472.5 291.9 460.5 292.0 465.4 292.1 480.4 292.2 480.8 292.2 497.7 292.3 495.3 292.4 488.4 292.4 485.7 292.5 486.3 292.6 491.6 292.6 506.4 292.7 481.5 292.8 468.2 292.9 481.3 292.9 501.2 293.0 499.9 293.1 502.6 293.1 494.8 293.2 464.6 293.3 477.8 293.3 466.2 293.4 469.5 293.5 475.2 293.6 484.5 293.6 464.4 293.7 469.2 293.8 496.7 293.8 485.8 293.9 479.9 294.0 495.9 294.0 491.4 294.1 488.4 294.2 493.0 294.3 469.8 294.3 485.2 294.4 473.1 294.5 476.8 294.5 472.6 294.6 486.1 294.7 494.1 294.7 499.9 294.8 491.8 294.9 481.4 295.0 464.3 295.0 466.2 295.1 487.2 295.2 491.0 295.2 485.5 295.3 482.6 295.4 495.5 295.4 480.9 295.5 491.9 295.6 486.8 295.7 472.6 295.7 502.4 295.8 485.7 295.9 504.2 295.9 481.7 296.0 482.5 296.1 485.6 296.1 488.7 296.2 481.6 296.3 483.6 296.4 485.6 296.4 464.9 296.5 490.0 296.6 506.3 296.6 506.3 296.7 506.3 296.8 487.4 296.8 484.8 296.9 490.4 297.0 487.1 297.1 445.6 297.1 506.1 297.2 495.8 297.3 495.6 297.3 485.9 297.4 478.1 297.5 491.5 297.5 480.8 297.6 484.9 297.7 485.2 297.8 477.2 297.8 506.3 297.9 498.3 298.0 493.9 298.0 476.5 298.1 475.5 298.2 466.5 298.2 476.0 298.3 505.8 298.4 494.8 298.5 465.1 298.5 506.2 298.6 493.2 298.7 498.1 298.7 485.4 298.8 481.8 298.9 492.5 298.9 478.0 299.0 487.4 299.1 479.9 299.2 479.5 299.2 467.1 299.3 484.1 299.4 481.5 299.4 486.1 299.5 471.3 299.6 479.9 299.6 478.8 299.7 488.9 299.8 471.5 299.8 497.5 299.9 474.1 300.0 473.6 300.1 501.3 300.1 496.2 300.2 500.9 300.3 485.8 300.3 480.9 300.4 469.3 300.5 493.2 300.5 481.9 300.6 500.2 300.7 497.7 300.8 489.1 300.8 472.6 300.9 472.0 301.0 484.0 301.0 480.5 301.1 481.1 301.2 471.8 301.2 436.6 301.3 495.5 301.4 481.4 301.5 481.5 301.5 475.0 301.6 480.6 301.7 482.9 301.7 486.2 301.8 469.2 301.9 481.2 301.9 476.3 302.0 472.8 302.1 492.9 302.2 475.2 302.2 466.2 302.3 474.0 302.4 483.4 302.4 480.2 302.5 464.1 302.6 481.4 302.6 482.2 302.7 498.0 302.8 477.7 302.9 476.5 302.9 490.5 303.0 499.0 303.1 491.7 303.1 489.9 303.2 475.1 303.3 487.1 303.3 485.3 303.4 490.8 303.5 484.0 303.6 490.3 303.6 488.9 303.7 494.0 303.8 484.1 303.8 480.6 303.9 469.2 304.0 498.6 304.0 486.9 304.1 468.1 304.2 506.1 304.3 488.8 304.3 495.2 304.4 496.8 304.5 476.7 304.5 477.7 304.6 471.4 304.7 487.6 304.7 490.1 304.8 504.5 304.9 470.3 305.0 464.0 305.0 481.4 305.1 498.6 305.2 482.7 305.2 503.8 305.3 488.6 305.4 486.5 305.4 465.9 305.5 490.8 305.6 498.7 305.7 484.8 305.7 470.1 305.8 471.8 305.9 477.8 305.9 477.1 306.0 489.6 306.1 485.0 306.1 455.6 306.2 472.2 306.3 471.6 306.4 490.8 306.4 506.0 306.5 489.3 306.6 485.7 306.6 506.0 306.7 486.1 306.8 494.3 306.8 484.2 306.9 498.3 307.0 489.3 307.1 487.7 307.1 470.2 307.2 484.0 307.3 502.2 307.3 488.2 307.4 477.8 307.5 472.9 307.5 495.1 307.6 484.9 307.7 479.5 307.8 485.4 307.8 463.3 307.9 463.9 308.0 463.9 308.0 454.3 308.1 506.0 308.2 506.0 308.2 494.5 308.3 488.6 308.4 498.1 308.4 488.7 308.5 479.4 308.6 472.0 308.7 470.0 308.7 470.3 308.8 467.6 308.9 483.4 308.9 499.1 309.0 489.1 309.1 501.4 309.1 478.7 309.2 486.5 309.3 481.6 309.4 486.0 309.4 480.9 309.5 480.5 309.6 495.2 309.6 479.7 309.7 477.8 309.8 502.2 309.8 465.9 309.9 486.3 310.0 491.8 310.1 493.4 310.1 467.6 310.2 483.2 310.3 475.1 310.3 503.5 310.4 487.3 310.5 494.2 310.5 492.9 310.6 495.0 310.7 486.1 310.8 476.2 310.8 498.5 310.9 491.5 311.0 473.5 311.0 496.9 311.1 473.4 311.2 486.5 311.2 485.9 311.3 475.8 311.4 506.0 311.5 504.3 311.5 487.4 311.6 495.3 311.7 480.1 311.7 496.3 311.8 494.3 311.9 470.9 311.9 497.6 312.0 491.4 312.1 489.0 312.2 488.9 312.2 504.5 312.3 491.8 312.4 469.5 312.4 475.9 312.5 479.5 312.6 490.0 312.6 489.2 312.7 491.3 312.8 494.3 312.9 478.6 312.9 478.7 313.0 485.6 313.1 485.1 313.1 490.0 313.2 462.0 313.3 491.3 313.3 488.7 313.4 496.1 313.5 467.8 313.6 470.0 313.6 488.8 313.7 479.1 313.8 472.7 313.8 479.0 313.9 472.9 314.0 488.1 314.0 474.7 314.1 468.0 314.2 489.1 314.3 483.7 314.3 442.5 314.4 488.9 314.5 481.0 314.5 481.8 314.6 487.8 314.7 474.7 314.7 482.1 314.8 471.9 314.9 477.0 315.0 486.1 315.0 483.9 315.1 478.9 315.2 487.5 315.2 485.5 315.3 503.9 315.4 479.2 315.4 468.5 315.5 480.9 315.6 474.5 315.7 463.5 315.7 467.0 315.8 441.1 315.9 481.8 315.9 486.3 316.0 485.5 316.1 470.9 316.1 469.5 316.2 488.1 316.3 489.3 316.3 466.3 316.4 475.7 316.5 468.2 316.6 481.3 316.6 499.9 316.7 478.5 316.8 480.5 316.8 469.8 316.9 489.9 317.0 471.3 317.0 473.0 317.1 485.9 317.2 486.7 317.3 470.2 317.3 467.4 317.4 493.6 317.5 464.1 317.5 489.3 317.6 483.0 317.7 469.7 317.7 482.2 317.8 491.5 317.9 502.7 318.0 468.8 318.0 484.6 318.1 466.3 318.2 494.6 318.2 475.6 318.3 463.0 318.4 449.6 318.4 491.8 318.5 477.7 318.6 476.7 318.7 505.8 318.7 493.0 318.8 467.4 318.9 498.5 318.9 499.1 319.0 478.6 319.1 474.9 319.1 476.6 319.2 479.3 319.3 485.5 319.4 486.6 319.4 480.9 319.5 478.1 319.6 488.0 319.6 485.9 319.7 484.0 319.8 489.4 319.8 477.9 319.9 478.3 320.0 492.8 320.1 487.8 320.1 462.8 320.2 480.0 320.3 486.9 320.3 486.7 320.4 482.5 320.5 504.9 320.5 470.8 320.6 487.5 320.7 473.2 320.8 480.4 320.8 474.0 320.9 485.2 321.0 485.2 321.0 472.3 321.1 491.3 321.2 486.8 321.2 493.0 321.3 493.6 321.4 483.8 321.5 473.3 321.5 497.7 321.6 471.1 321.7 502.3 321.7 462.6 321.8 477.1 321.9 483.3 321.9 475.0 322.0 483.2 322.1 477.8 322.2 468.8 322.2 476.4 322.3 462.6 322.4 464.7 322.4 470.0 322.5 482.2 322.6 479.9 322.6 468.5 322.7 482.2 322.8 482.1 322.9 488.9 322.9 493.9 323.0 487.0 323.1 473.5 323.1 480.6 323.2 506.1 323.3 487.5 323.3 490.5 323.4 476.4 323.5 482.4 323.6 469.3 323.6 468.2 323.7 478.7 323.8 487.3 323.8 470.9 323.9 476.6 324.0 480.7 324.0 483.0 324.1 502.4 324.2 478.3 324.2 476.5 324.3 489.0 324.4 492.1 324.5 496.3 324.5 495.3 324.6 497.7 324.7 494.5 324.7 481.0 324.8 466.2 324.9 475.4 324.9 481.2 325.0 476.7 325.1 487.4 325.2 470.2 325.2 484.6 325.3 500.0 325.4 477.8 325.4 506.2 325.5 497.7 325.6 479.1 325.6 488.8 325.7 471.3 325.8 480.3 325.9 489.8 325.9 498.7 326.0 456.8 326.1 499.2 326.1 472.5 326.2 481.5 326.3 489.6 326.3 486.0 326.4 481.5 326.5 478.2 326.6 479.7 326.6 485.1 326.7 471.8 326.8 476.0 326.8 480.4 326.9 505.1 327.0 485.2 327.0 493.0 327.1 464.0 327.2 476.8 327.3 474.9 327.3 475.1 327.4 506.2 327.5 480.4 327.5 470.7 327.6 478.7 327.7 493.0 327.7 478.2 327.8 471.6 327.9 494.8 328.0 471.8 328.0 477.4 328.1 487.8 328.2 462.0 328.2 470.9 328.3 473.5 328.4 480.5 328.4 481.2 328.5 482.5 328.6 483.9 328.7 484.9 328.7 505.3 328.8 493.8 328.9 488.5 328.9 489.6 329.0 474.7 329.1 489.1 329.1 490.6 329.2 492.1 329.3 501.0 329.4 494.1 329.4 487.8 329.5 480.0 329.6 492.3 329.6 506.2 329.7 491.5 329.8 483.5 329.8 489.8 329.9 465.2 330.0 486.4 330.1 485.2 330.1 481.0 330.2 496.1 330.3 475.1 330.3 485.2 330.4 475.0 330.5 502.2 330.5 500.7 330.6 492.6 330.7 498.3 330.8 492.1 330.8 475.7 330.9 488.0 331.0 478.1 331.0 475.5 331.1 485.8 331.2 490.2 331.2 475.5 331.3 485.8 331.4 479.2 331.5 490.5 331.5 481.1 331.6 506.3 331.7 494.1 331.7 461.6 331.8 491.5 331.9 492.6 331.9 477.3 332.0 478.5 332.1 482.8 332.2 493.5 332.2 477.3 332.3 470.5 332.4 478.2 332.4 494.3 332.5 506.3 332.6 479.0 332.6 486.1 332.7 478.0 332.8 461.5 332.8 479.5 332.9 492.9 333.0 479.0 333.1 461.5 333.1 478.2 333.2 481.8 333.3 485.7 333.3 482.2 333.4 483.4 333.5 492.9 333.5 478.6 333.6 478.0 333.7 482.2 333.8 491.9 333.8 492.2 333.9 487.5 334.0 482.3 334.0 461.4 334.1 483.6 334.2 492.7 334.2 502.3 334.3 497.7 334.4 488.7 334.5 485.6 334.5 484.8 334.6 477.2 334.7 481.5 334.7 492.3 334.8 483.8 334.9 478.0 334.9 482.9 335.0 484.0 335.1 483.6 335.2 478.8 335.2 506.3 335.3 480.1 335.4 493.2 335.4 479.6 335.5 467.2 335.6 463.7 335.6 488.6 335.7 468.2 335.8 473.5 335.9 479.8 335.9 482.5 336.0 475.6 336.1 473.9 336.1 446.4 336.2 480.1 336.3 470.8 336.3 484.2 336.4 470.2 336.5 483.8 336.6 463.0 336.6 503.3 336.7 499.0 336.8 492.7 336.8 470.5 336.9 474.1 337.0 468.1 337.0 473.6 337.1 487.7 337.2 472.5 337.3 488.6 337.3 488.8 337.4 478.4 337.5 471.2 337.5 470.0 337.6 480.0 337.7 480.9 337.7 481.5 337.8 497.8 337.9 484.8 338.0 487.3 338.0 488.4 338.1 488.7 338.2 494.8 338.2 467.5 338.3 479.0 338.4 484.0 338.4 460.9 338.5 496.0 338.6 469.3 338.7 476.5 338.7 488.6 338.8 476.2 338.9 472.1 338.9 488.7 339.0 481.9 339.1 456.9 339.1 475.6 339.2 490.1 339.3 489.4 339.4 485.4 339.4 487.1 339.5 492.8 339.6 495.8 339.6 501.8 339.7 483.3 339.8 480.0 339.8 460.8 339.9 442.6 340.0 492.3 340.1 460.8 340.1 471.7 340.2 484.2 340.3 472.6 340.3 489.9 340.4 497.8 340.5 481.3 340.5 481.2 340.6 493.8 340.7 493.2 340.7 476.7 340.8 460.7 340.9 472.3 341.0 461.1 341.0 479.5 341.1 484.6 341.2 480.1 341.2 494.9 341.3 490.4 341.4 477.9 341.4 497.9 341.5 461.9 341.6 481.3 341.7 496.4 341.7 499.4 341.8 499.1 341.9 485.6 341.9 490.7 342.0 484.4 342.1 487.0 342.1 486.7 342.2 488.1 342.3 478.6 342.4 479.8 342.4 482.9 342.5 472.0 342.6 495.5 342.6 470.0 342.7 479.9 342.8 468.1 342.8 480.2 342.9 480.4 343.0 490.9 343.1 485.4 343.1 465.0 343.2 493.5 343.3 471.7 343.3 474.2 343.4 477.9 343.5 489.6 343.5 490.0 343.6 481.1 343.7 481.5 343.8 470.1 343.8 491.2 343.9 506.4 344.0 480.5 344.0 472.6 344.1 488.4 344.2 493.9 344.2 461.9 344.3 483.6 344.4 482.8 344.5 474.4 344.5 486.1 344.6 481.2 344.7 480.5 344.7 478.7 344.8 477.1 344.9 499.2 344.9 465.8 345.0 472.9 345.1 461.5 345.2 463.9 345.2 478.1 345.3 481.1 345.4 482.1 345.4 465.0 345.5 467.0 345.6 477.5 345.6 482.3 345.7 500.4 345.8 506.5 345.9 475.9 345.9 473.8 346.0 464.1 346.1 465.1 346.1 480.9 346.2 484.8 346.3 472.8 346.3 473.3 346.4 484.1 346.5 487.3 346.6 480.0 346.6 479.5 346.7 490.6 346.8 464.5 346.8 487.2 346.9 466.4 347.0 490.5 347.0 475.0 347.1 484.5 347.2 485.0 347.3 481.4 347.3 486.0 347.4 485.7 347.5 481.9 347.5 487.2 347.6 491.2 347.7 462.2 347.7 468.8 347.8 474.4 347.9 494.5 348.0 503.4 348.0 498.8 348.1 471.9 348.2 499.9 348.2 489.7 348.3 497.1 348.4 503.2 348.4 486.3 348.5 506.5 348.6 472.6 348.6 482.8 348.7 478.1 348.8 480.6 348.9 482.5 348.9 468.3 349.0 472.8 349.1 506.5 349.1 475.7 349.2 481.1 349.3 489.3 349.3 503.9 349.4 459.9 349.5 498.3 349.6 490.4 349.6 484.6 349.7 506.5 349.8 501.5 349.8 468.1 349.9 462.0 350.0 495.2 350.0 487.2 350.1 477.4 350.2 464.9 350.3 501.2 350.3 455.6 350.4 463.6 350.5 462.3 350.5 440.6 350.6 459.7 350.7 451.3 350.7 480.5 350.8 429.5 350.9 466.0 351.0 446.3 351.0 462.3 351.1 432.3 351.2 445.4 351.2 430.4 351.3 423.6 351.4 462.8 351.4 474.3 351.5 445.9 351.6 444.4 351.7 435.5 351.7 455.0 351.8 397.4 351.9 471.5 351.9 475.0 352.0 408.7 352.1 436.0 352.1 412.1 352.2 468.5 352.3 456.9 352.4 441.6 352.4 447.7 352.5 399.1 352.6 425.3 352.6 441.4 352.7 444.1 352.8 448.6 352.8 484.1 352.9 460.5 353.0 493.1 353.1 411.7 353.1 478.5 353.2 462.3 353.3 477.4 353.3 484.1 353.4 453.2 353.5 449.8 353.5 445.8 353.6 419.9 353.7 434.1 353.8 434.2 353.8 449.6 353.9 406.1 354.0 413.6 354.0 443.8 354.1 461.3 354.2 467.9 354.2 456.2 354.3 432.7 354.4 421.1 354.5 442.7 354.5 466.2 354.6 414.8 354.7 445.4 354.7 444.1 354.8 460.9 354.9 492.8 354.9 448.9 355.0 432.2 355.1 431.3 355.2 493.1 355.2 462.8 355.3 402.6 355.4 468.6 355.4 452.3 355.5 411.1 355.6 466.8 355.6 436.9 355.7 432.7 355.8 473.9 355.9 425.4 355.9 493.1 356.0 465.1 356.1 435.0 356.1 434.0 356.2 463.4 356.3 436.3 356.3 440.3 356.4 464.1 356.5 453.3 356.6 487.5 356.6 467.1 356.7 474.1 356.8 489.7 356.8 476.4 356.9 475.2 357.0 482.4 357.0 468.7 357.1 476.1 357.2 474.6 357.2 471.2 357.3 485.6 357.4 483.6 357.5 484.1 357.5 494.3 357.6 473.1 357.7 498.7 357.7 474.3 357.8 481.0 357.9 485.3 357.9 470.9 358.0 486.6 358.1 478.5 358.2 489.1 358.2 461.6 358.3 470.1 358.4 471.7 358.4 471.6 358.5 474.7 358.6 490.8 358.6 478.4 358.7 482.4 358.8 480.3 358.9 493.9 358.9 484.7 359.0 465.9 359.1 494.4 359.1 481.3 359.2 453.2 359.3 474.3 359.3 472.2 359.4 491.7 359.5 488.2 359.6 480.9 359.6 464.6 359.7 474.5 359.8 480.4 359.8 478.4 359.9 472.9 360.0 466.1 360.0 462.3 360.1 491.6 360.2 475.3 360.3 491.7 360.3 490.4 360.4 472.3 360.5 482.7 360.5 465.6 360.6 491.5 360.7 487.8 360.7 478.2 360.8 491.2 360.9 486.5 361.0 495.9 361.0 487.2 361.1 485.5 361.2 475.0 361.2 467.8 361.3 502.1 361.4 498.3 361.4 496.9 361.5 476.0 361.6 484.3 361.7 491.3 361.7 488.7 361.8 490.7 361.9 499.8 361.9 491.8 362.0 478.3 362.1 498.1 362.1 487.9 362.2 480.1 362.3 489.4 362.4 492.4 362.4 499.7 362.5 500.4 362.6 453.5 362.6 474.6 362.7 503.7 362.8 500.7 362.8 469.2 362.9 483.3 363.0 490.7 363.1 479.1 363.1 485.7 363.2 487.1 363.3 462.9 363.3 474.9 363.4 477.6 363.5 498.3 363.5 487.8 363.6 463.2 363.7 483.2 363.8 473.5 363.8 483.3 363.9 481.1 364.0 481.2 364.0 494.1 364.1 465.8 364.2 475.9 364.2 485.3 364.3 466.2 364.4 482.3 364.5 474.2 364.5 462.7 364.6 460.3 364.7 474.7 364.7 497.0 364.8 480.8 364.9 494.2 364.9 471.4 365.0 471.9 365.1 485.7 365.1 466.4 365.2 459.4 365.3 461.5 365.4 495.9 365.4 479.3 365.5 460.7 365.6 497.2 365.6 481.6 365.7 475.4 365.8 497.3 365.8 476.8 365.9 470.7 366.0 489.2 366.1 477.4 366.1 496.3 366.2 485.0 366.3 464.6 366.3 464.2 366.4 476.1 366.5 461.1 366.5 481.5 366.6 472.0 366.7 481.1 366.8 483.5 366.8 460.6 366.9 477.7 367.0 480.4 367.0 470.6 367.1 476.5 367.2 484.7 367.2 460.7 367.3 488.7 367.4 480.2 367.5 467.4 367.5 487.9 367.6 465.0 367.7 478.1 367.7 480.2 367.8 503.2 367.9 499.4 367.9 474.2 368.0 471.5 368.1 503.2 368.2 465.6 368.2 496.1 368.3 485.9 368.4 485.7 368.4 487.2 368.5 477.6 368.6 456.5 368.6 479.9 368.7 476.9 368.8 476.2 368.9 483.6 368.9 472.2 369.0 487.5 369.1 478.9 369.1 474.3 369.2 452.8 369.3 478.7 369.3 466.4 369.4 487.4 369.5 481.6 369.6 481.4 369.6 503.1 369.7 503.0 369.8 466.0 369.8 478.9 369.9 468.6 370.0 466.8 370.0 478.5 370.1 455.4 370.2 491.2 370.3 482.2 370.3 456.3 370.4 477.9 370.5 467.0 370.5 491.1 370.6 489.6 370.7 462.1 370.7 470.2 370.8 471.9 370.9 476.2 371.0 476.7 371.0 457.6 371.1 472.3 371.2 491.9 371.2 454.6 371.3 470.9 371.4 472.4 371.4 473.0 371.5 478.6 371.6 458.0 371.7 464.8 371.7 457.1 371.8 484.5 371.9 464.5 371.9 479.5 372.0 480.8 372.1 456.2 372.1 456.4 372.2 451.4 372.3 467.0 372.4 463.0 372.4 455.8 372.5 455.5 372.6 461.0 372.6 448.3 372.7 465.2 372.8 475.5 372.8 468.1 372.9 478.5 373.0 467.2 373.0 455.4 373.1 443.9 373.2 458.3 373.3 482.9 373.3 471.6 373.4 459.5 373.5 443.5 373.5 462.9 373.6 435.7 373.7 474.0 373.7 451.3 373.8 449.9 373.9 474.4 374.0 443.1 374.0 465.4 374.1 462.6 374.2 462.1 374.2 462.8 374.3 461.1 374.4 449.9 374.4 464.4 374.5 445.6 374.6 446.4 374.7 470.2 374.7 468.6 374.8 458.1 374.9 454.5 374.9 461.2 375.0 478.1 375.1 477.5 375.1 471.3 375.2 450.4 375.3 462.0 375.4 441.6 375.4 455.1 375.5 454.4 375.6 483.4 375.6 463.4 375.7 480.8 375.8 440.2 375.8 466.8 375.9 460.2 376.0 485.8 376.1 474.1 376.1 463.4 376.2 458.3 376.3 451.4 376.3 445.3 376.4 475.1 376.5 470.1 376.5 458.5 376.6 479.7 376.7 448.9 376.8 464.4 376.8 470.0 376.9 472.9 377.0 452.2 377.0 458.5 377.1 469.7 377.2 440.1 377.2 461.7 377.3 451.0 377.4 471.9 377.5 471.9 377.5 463.9 377.6 448.6 377.7 443.0 377.7 446.6 377.8 462.5 377.9 472.4 377.9 460.0 378.0 461.6 378.1 454.2 378.2 465.0 378.2 445.4 378.3 448.9 378.4 472.1 378.4 466.1 378.5 422.7 378.6 455.2 378.6 462.8 378.7 459.1 378.8 474.5 378.9 469.6 378.9 480.3 379.0 462.6 379.1 486.6 379.1 450.8 379.2 453.4 379.3 457.3 379.3 447.3 379.4 457.6 379.5 468.6 379.6 447.4 379.6 458.3 379.7 474.2 379.8 463.1 379.8 481.2 379.9 475.2 380.0 468.2 380.0 459.1 380.1 465.5 380.2 486.5 380.3 465.2 380.3 472.3 380.4 464.9 380.5 466.8 380.5 449.9 380.6 481.7 380.7 467.0 380.7 459.9 380.8 462.4 380.9 454.0 381.0 458.3 381.0 465.0 381.1 448.7 381.2 455.6 381.2 432.1 381.3 463.4 381.4 463.4 381.4 471.8 381.5 468.7 381.6 471.7 381.6 486.3 381.7 448.0 381.8 462.1 381.9 464.2 381.9 445.0 382.0 450.9 382.1 449.4 382.1 475.7 382.2 461.5 382.3 458.7 382.3 467.0 382.4 470.1 382.5 468.5 382.6 486.2 382.6 439.5 382.7 453.8 382.8 451.9 382.8 459.4 382.9 465.0 383.0 463.3 383.0 472.4 383.1 459.6 383.2 465.6 383.3 457.4 383.3 464.8 383.4 477.2 383.5 453.7 383.5 462.2 383.6 464.5 383.7 457.8 383.7 456.3 383.8 462.7 383.9 469.6 384.0 465.0 384.0 457.4 384.1 470.1 384.2 457.5 384.2 479.3 384.3 459.2 384.4 443.1 384.4 455.3 384.5 478.1 384.6 439.3 384.7 453.4 384.7 451.7 384.8 472.8 384.9 457.3 384.9 486.0 385.0 447.0 385.1 464.0 385.1 459.8 385.2 465.5 385.3 475.1 385.4 453.9 385.4 471.5 385.5 453.2 385.6 454.3 385.6 449.4 385.7 449.7 385.8 472.7 385.8 485.9 385.9 454.1 386.0 436.5 386.1 451.4 386.1 465.6 386.2 462.6 386.3 475.2 386.3 472.0 386.4 469.9 386.5 451.7 386.5 477.9 386.6 458.1 386.7 468.5 386.8 465.5 386.8 459.3 386.9 478.7 387.0 466.7 387.0 458.4 387.1 454.8 387.2 464.2 387.2 483.0 387.3 464.0 387.4 452.7 387.5 461.9 387.5 452.6 387.6 475.8 387.7 424.3 387.7 471.7 387.8 467.2 387.9 460.7 387.9 467.6 388.0 472.9 388.1 444.6 388.2 452.3 388.2 455.7 388.3 468.2 388.4 461.7 388.4 466.1 388.5 484.8 388.6 449.4 388.6 476.9 388.7 454.1 388.8 461.3 388.9 458.2 388.9 452.1 389.0 453.5 389.1 462.7 389.1 473.9 389.2 451.4" fill="none" stroke="#009000" stroke-width="0.55" stroke-linejoin="round"/>
<rect x="39.7" y="5.9" width="349.5" height="245.5" fill="none" stroke="#000" stroke-width="1.4"/>
<path d="M57.18 251.4v-3.8M57.18 5.9v3.8M74.65 251.4v-7.5M74.65 5.9v7.5M92.12 251.4v-3.8M92.12 5.9v3.8M109.60 251.4v-7.5M109.60 5.9v7.5M127.08 251.4v-3.8M127.08 5.9v3.8M144.55 251.4v-7.5M144.55 5.9v7.5M162.02 251.4v-3.8M162.02 5.9v3.8M179.50 251.4v-7.5M179.50 5.9v7.5M196.98 251.4v-3.8M196.98 5.9v3.8M214.45 251.4v-7.5M214.45 5.9v7.5M231.93 251.4v-3.8M231.93 5.9v3.8M249.40 251.4v-7.5M249.40 5.9v7.5M266.88 251.4v-3.8M266.88 5.9v3.8M284.35 251.4v-7.5M284.35 5.9v7.5M301.82 251.4v-3.8M301.82 5.9v3.8M319.30 251.4v-7.5M319.30 5.9v7.5M336.77 251.4v-3.8M336.77 5.9v3.8M354.25 251.4v-7.5M354.25 5.9v7.5M371.72 251.4v-3.8M371.72 5.9v3.8M39.7 226.85h3.8M389.2 226.85h-3.8M39.7 202.30h7.5M389.2 202.30h-7.5M39.7 177.75h3.8M389.2 177.75h-3.8M39.7 153.20h7.5M389.2 153.20h-7.5M39.7 128.65h3.8M389.2 128.65h-3.8M39.7 104.10h7.5M389.2 104.10h-7.5M39.7 79.55h3.8M389.2 79.55h-3.8M39.7 55.00h7.5M389.2 55.00h-7.5M39.7 30.45h3.8M389.2 30.45h-3.8" stroke="#000" stroke-width="1.3" fill="none"/>
<rect x="39.7" y="269.5" width="349.5" height="245.2" fill="none" stroke="#000" stroke-width="1.4"/>
<path d="M57.18 514.7v-3.8M57.18 269.5v3.8M74.65 514.7v-7.5M74.65 269.5v7.5M92.12 514.7v-3.8M92.12 269.5v3.8M109.60 514.7v-7.5M109.60 269.5v7.5M127.08 514.7v-3.8M127.08 269.5v3.8M144.55 514.7v-7.5M144.55 269.5v7.5M162.02 514.7v-3.8M162.02 269.5v3.8M179.50 514.7v-7.5M179.50 269.5v7.5M196.98 514.7v-3.8M196.98 269.5v3.8M214.45 514.7v-7.5M214.45 269.5v7.5M231.93 514.7v-3.8M231.93 269.5v3.8M249.40 514.7v-7.5M249.40 269.5v7.5M266.88 514.7v-3.8M266.88 269.5v3.8M284.35 514.7v-7.5M284.35 269.5v7.5M301.82 514.7v-3.8M301.82 269.5v3.8M319.30 514.7v-7.5M319.30 269.5v7.5M336.77 514.7v-3.8M336.77 269.5v3.8M354.25 514.7v-7.5M354.25 269.5v7.5M371.72 514.7v-3.8M371.72 269.5v3.8M39.7 497.19h3.8M389.2 497.19h-3.8M39.7 479.67h7.5M389.2 479.67h-7.5M39.7 462.16h3.8M389.2 462.16h-3.8M39.7 444.64h7.5M389.2 444.64h-7.5M39.7 427.13h3.8M389.2 427.13h-3.8M39.7 409.61h7.5M389.2 409.61h-7.5M39.7 392.10h3.8M389.2 392.10h-3.8M39.7 374.59h7.5M389.2 374.59h-7.5M39.7 357.07h3.8M389.2 357.07h-3.8M39.7 339.56h7.5M389.2 339.56h-7.5M39.7 322.04h3.8M389.2 322.04h-3.8M39.7 304.53h7.5M389.2 304.53h-7.5M39.7 287.01h3.8M389.2 287.01h-3.8" stroke="#000" stroke-width="1.3" fill="none"/>
<text x="36.6" y="256.2" text-anchor="end" font-size="11.5">0</text>
<text x="36.6" y="207.1" text-anchor="end" font-size="11.5">2</text>
<text x="36.6" y="158.0" text-anchor="end" font-size="11.5">4</text>
<text x="36.6" y="108.9" text-anchor="end" font-size="11.5">6</text>
<text x="36.6" y="59.8" text-anchor="end" font-size="11.5">8</text>
<text x="36.6" y="10.7" text-anchor="end" font-size="11.5">10</text>
<text x="36.6" y="519.5" text-anchor="end" font-size="11.5">0</text>
<text x="36.6" y="484.5" text-anchor="end" font-size="11.5">1</text>
<text x="36.6" y="449.4" text-anchor="end" font-size="11.5">2</text>
<text x="36.6" y="414.4" text-anchor="end" font-size="11.5">3</text>
<text x="36.6" y="379.4" text-anchor="end" font-size="11.5">4</text>
<text x="36.6" y="344.4" text-anchor="end" font-size="11.5">5</text>
<text x="36.6" y="309.3" text-anchor="end" font-size="11.5">6</text>
<text x="36.6" y="274.3" text-anchor="end" font-size="11.5">7</text>
<text x="39.7" y="528.2" text-anchor="middle" font-size="11.5">0</text>
<text x="74.7" y="528.2" text-anchor="middle" font-size="11.5">100</text>
<text x="109.6" y="528.2" text-anchor="middle" font-size="11.5">200</text>
<text x="144.6" y="528.2" text-anchor="middle" font-size="11.5">300</text>
<text x="179.5" y="528.2" text-anchor="middle" font-size="11.5">400</text>
<text x="214.4" y="528.2" text-anchor="middle" font-size="11.5">500</text>
<text x="249.4" y="528.2" text-anchor="middle" font-size="11.5">600</text>
<text x="284.3" y="528.2" text-anchor="middle" font-size="11.5">700</text>
<text x="319.3" y="528.2" text-anchor="middle" font-size="11.5">800</text>
<text x="354.2" y="528.2" text-anchor="middle" font-size="11.5">900</text>
<text x="389.2" y="528.2" text-anchor="middle" font-size="11.5">1000</text>

<text x="63.8" y="38.2" font-size="19.5">A</text>
<text x="64.3" y="301.9" font-size="19.5">B</text>
<rect x="161.1" y="22.2" width="106.9" height="52.1" fill="#fff" stroke="#000" stroke-width="1.4"/>
<path d="M164.6 31.7H181.1" stroke="#009000" stroke-width="1.8"/>
<path d="M164.6 47H181.1" stroke="#0000ff" stroke-width="1.8"/>
<path d="M164.6 63.3H181.1" stroke="#ff0000" stroke-width="1.8"/>
<text x="188" y="36.8" font-size="14.5" letter-spacing="0.2">Adrenaline</text>
<text x="188" y="51.8" font-size="14.5" letter-spacing="0.2">L-DOPA</text>
<text x="188" y="67.3" font-size="14.5" letter-spacing="0.2">Droxidopa</text>
<text x="214.7" y="542.5" font-size="14.7" text-anchor="middle">Time (ns)</text>
<text transform="translate(16.3 128.7) rotate(-90)" font-size="14.7" text-anchor="middle">RMSD (Å)</text>
<text transform="translate(16.3 373.3) rotate(-90)" font-size="14.7" text-anchor="middle">RMSD (Å)</text>

</svg>
</body></html>
